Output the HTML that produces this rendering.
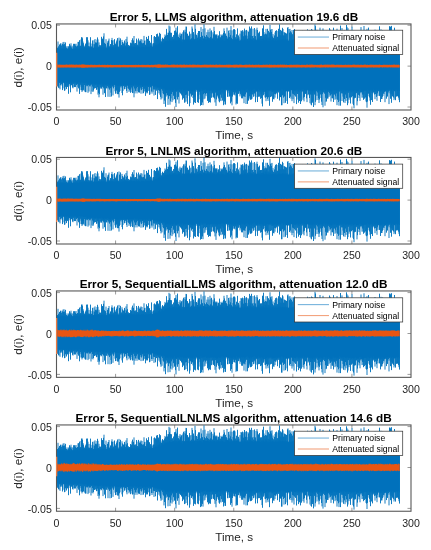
<!DOCTYPE html>
<html><head><meta charset="utf-8"><title>Attenuation plots</title>
<style>
html,body{margin:0;padding:0;background:#fff;}
body{width:431px;height:550px;overflow:hidden;}
svg{display:block;font-family:"Liberation Sans",sans-serif;}
.tk{font-size:10.6px;fill:#262626;}
.lb{font-size:11.7px;fill:#262626;}
.tt{font-size:11.74px;font-weight:bold;fill:#000;}
.lg{font-size:8.67px;fill:#000;}
</style></head><body>
<svg width="431" height="550" viewBox="0 0 431 550">
<rect width="431" height="550" fill="#fff"/>

<g id="ax1">
<rect x="56.5" y="23.95" width="354.5" height="86.05" fill="none" stroke="#585858" stroke-width="1.1"/>
<path d="M115.58 110.0v-3.5M115.58 23.95v3.5M174.67 110.0v-3.5M174.67 23.95v3.5M233.75 110.0v-3.5M233.75 23.95v3.5M292.83 110.0v-3.5M292.83 23.95v3.5M351.92 110.0v-3.5M351.92 23.95v3.5M56.5 25.22h3.5M411.0 25.22h-3.5M56.5 66.12h3.5M411.0 66.12h-3.5M56.5 107.02h3.5M411.0 107.02h-3.5" stroke="#585858" stroke-width="0.6" fill="none"/>
<path d="M57.25 48.7H57.75L57.75 48.5H58.25L58.25 48.8H58.75L58.75 49.1H59.25L59.25 48.9H59.75L59.75 49.2H60.25L60.25 48.6H60.75L60.75 47.9H61.25L61.25 48.9H61.75L61.75 49.0H62.25L62.25 48.4H62.75L62.75 48.4H63.25L63.25 48.6H63.75L63.75 49.1H64.25L64.25 48.6H64.75L64.75 48.2H65.25L65.25 49.3H65.75L65.75 48.8H66.25L66.25 49.6H66.75L66.75 49.3H67.25L67.25 49.5H67.75L67.75 48.7H68.25L68.25 49.2H68.75L68.75 48.4H69.25L69.25 48.5H69.75L69.75 48.6H70.25L70.25 49.9H70.75L70.75 48.8H71.25L71.25 48.5H71.75L71.75 48.5H72.25L72.25 49.3H72.75L72.75 48.8H73.25L73.25 49.0H73.75L73.75 48.9H74.25L74.25 47.9H74.75L74.75 48.9H75.25L75.25 48.5H75.75L75.75 48.0H76.25L76.25 48.8H76.75L76.75 48.5H77.25L77.25 48.4H77.75L77.75 48.4H78.25L78.25 49.0H78.75L78.75 48.2H79.25L79.25 47.5H79.75L79.75 49.0H80.25L80.25 47.6H80.75L80.75 47.9H81.25L81.25 48.3H81.75L81.75 46.8H82.25L82.25 47.4H82.75L82.75 48.4H83.25L83.25 47.7H83.75L83.75 47.5H84.25L84.25 47.9H84.75L84.75 47.4H85.25L85.25 47.8H85.75L85.75 47.4H86.25L86.25 46.9H86.75L86.75 48.1H87.25L87.25 47.6H87.75L87.75 48.0H88.25L88.25 47.6H88.75L88.75 48.3H89.25L89.25 48.0H89.75L89.75 47.8H90.25L90.25 47.2H90.75L90.75 47.0H91.25L91.25 48.4H91.75L91.75 48.1H92.25L92.25 47.3H92.75L92.75 48.7H93.25L93.25 47.9H93.75L93.75 47.6H94.25L94.25 46.9H94.75L94.75 47.2H95.25L95.25 47.7H95.75L95.75 47.8H96.25L96.25 47.7H96.75L96.75 46.7H97.25L97.25 47.8H97.75L97.75 47.7H98.25L98.25 47.3H98.75L98.75 47.6H99.25L99.25 47.6H99.75L99.75 48.1H100.25L100.25 47.5H100.75L100.75 47.7H101.25L101.25 46.8H101.75L101.75 47.1H102.25L102.25 47.4H102.75L102.75 47.1H103.25L103.25 47.6H103.75L103.75 46.8H104.25L104.25 47.4H104.75L104.75 47.1H105.25L105.25 48.1H105.75L105.75 47.2H106.25L106.25 48.3H106.75L106.75 48.5H107.25L107.25 47.5H107.75L107.75 47.8H108.25L108.25 47.2H108.75L108.75 46.1H109.25L109.25 47.8H109.75L109.75 47.7H110.25L110.25 47.2H110.75L110.75 47.0H111.25L111.25 47.4H111.75L111.75 47.4H112.25L112.25 46.8H112.75L112.75 46.9H113.25L113.25 47.8H113.75L113.75 47.3H114.25L114.25 47.2H114.75L114.75 47.8H115.25L115.25 47.0H115.75L115.75 47.6H116.25L116.25 46.6H116.75L116.75 47.0H117.25L117.25 47.1H117.75L117.75 47.5H118.25L118.25 47.2H118.75L118.75 48.2H119.25L119.25 47.7H119.75L119.75 46.9H120.25L120.25 48.3H120.75L120.75 46.6H121.25L121.25 48.0H121.75L121.75 46.6H122.25L122.25 47.5H122.75L122.75 46.6H123.25L123.25 46.9H123.75L123.75 47.9H124.25L124.25 46.2H124.75L124.75 46.1H125.25L125.25 47.0H125.75L125.75 47.1H126.25L126.25 47.0H126.75L126.75 47.5H127.25L127.25 46.3H127.75L127.75 47.2H128.25L128.25 46.9H128.75L128.75 47.3H129.25L129.25 47.2H129.75L129.75 47.6H130.25L130.25 46.1H130.75L130.75 46.9H131.25L131.25 46.3H131.75L131.75 46.8H132.25L132.25 47.2H132.75L132.75 47.0H133.25L133.25 47.1H133.75L133.75 46.8H134.25L134.25 47.0H134.75L134.75 47.0H135.25L135.25 47.6H135.75L135.75 47.2H136.25L136.25 45.8H136.75L136.75 47.1H137.25L137.25 47.4H137.75L137.75 46.5H138.25L138.25 45.9H138.75L138.75 47.6H139.25L139.25 46.8H139.75L139.75 47.1H140.25L140.25 47.7H140.75L140.75 46.3H141.25L141.25 46.7H141.75L141.75 46.6H142.25L142.25 47.1H142.75L142.75 46.4H143.25L143.25 47.0H143.75L143.75 46.7H144.25L144.25 47.3H144.75L144.75 47.3H145.25L145.25 45.8H145.75L145.75 46.9H146.25L146.25 46.4H146.75L146.75 46.6H147.25L147.25 46.8H147.75L147.75 46.9H148.25L148.25 46.2H148.75L148.75 46.7H149.25L149.25 46.6H149.75L149.75 46.5H150.25L150.25 45.8H150.75L150.75 46.1H151.25L151.25 46.3H151.75L151.75 46.8H152.25L152.25 47.3H152.75L152.75 45.9H153.25L153.25 45.9H153.75L153.75 46.3H154.25L154.25 45.7H154.75L154.75 45.3H155.25L155.25 45.0H155.75L155.75 44.7H156.25L156.25 45.3H156.75L156.75 43.9H157.25L157.25 45.4H157.75L157.75 43.8H158.25L158.25 43.8H158.75L158.75 43.3H159.25L159.25 42.4H159.75L159.75 42.4H160.25L160.25 44.0H160.75L160.75 44.2H161.25L161.25 42.2H161.75L161.75 43.2H162.25L162.25 42.3H162.75L162.75 41.4H163.25L163.25 43.0H163.75L163.75 43.1H164.25L164.25 41.2H164.75L164.75 41.1H165.25L165.25 41.1H165.75L165.75 40.6H166.25L166.25 41.1H166.75L166.75 41.4H167.25L167.25 40.1H167.75L167.75 40.7H168.25L168.25 41.2H168.75L168.75 39.5H169.25L169.25 40.0H169.75L169.75 39.6H170.25L170.25 40.7H170.75L170.75 40.4H171.25L171.25 40.6H171.75L171.75 40.5H172.25L172.25 39.7H172.75L172.75 40.4H173.25L173.25 39.5H173.75L173.75 39.5H174.25L174.25 38.2H174.75L174.75 40.9H175.25L175.25 39.1H175.75L175.75 39.8H176.25L176.25 39.8H176.75L176.75 40.9H177.25L177.25 40.1H177.75L177.75 39.1H178.25L178.25 39.8H178.75L178.75 39.6H179.25L179.25 39.9H179.75L179.75 38.8H180.25L180.25 39.7H180.75L180.75 41.4H181.25L181.25 40.2H181.75L181.75 41.2H182.25L182.25 42.2H182.75L182.75 40.0H183.25L183.25 38.5H183.75L183.75 39.6H184.25L184.25 40.5H184.75L184.75 40.3H185.25L185.25 38.7H185.75L185.75 39.4H186.25L186.25 39.5H186.75L186.75 39.6H187.25L187.25 39.5H187.75L187.75 38.9H188.25L188.25 39.1H188.75L188.75 39.4H189.25L189.25 40.4H189.75L189.75 39.1H190.25L190.25 40.1H190.75L190.75 38.7H191.25L191.25 40.5H191.75L191.75 39.6H192.25L192.25 39.5H192.75L192.75 40.6H193.25L193.25 38.2H193.75L193.75 38.4H194.25L194.25 39.9H194.75L194.75 38.9H195.25L195.25 39.2H195.75L195.75 41.6H196.25L196.25 39.3H196.75L196.75 39.6H197.25L197.25 39.5H197.75L197.75 40.4H198.25L198.25 39.7H198.75L198.75 39.7H199.25L199.25 38.6H199.75L199.75 39.3H200.25L200.25 39.5H200.75L200.75 38.3H201.25L201.25 40.0H201.75L201.75 39.8H202.25L202.25 41.0H202.75L202.75 38.3H203.25L203.25 38.8H203.75L203.75 38.8H204.25L204.25 39.0H204.75L204.75 39.4H205.25L205.25 39.4H205.75L205.75 39.7H206.25L206.25 39.7H206.75L206.75 39.5H207.25L207.25 38.3H207.75L207.75 39.1H208.25L208.25 39.6H208.75L208.75 40.0H209.25L209.25 40.0H209.75L209.75 38.3H210.25L210.25 39.1H210.75L210.75 39.5H211.25L211.25 39.8H211.75L211.75 40.4H212.25L212.25 39.6H212.75L212.75 38.8H213.25L213.25 39.8H213.75L213.75 39.7H214.25L214.25 39.7H214.75L214.75 39.4H215.25L215.25 40.8H215.75L215.75 39.7H216.25L216.25 40.2H216.75L216.75 38.8H217.25L217.25 40.1H217.75L217.75 39.1H218.25L218.25 38.3H218.75L218.75 39.8H219.25L219.25 40.0H219.75L219.75 39.4H220.25L220.25 39.5H220.75L220.75 40.3H221.25L221.25 39.2H221.75L221.75 37.9H222.25L222.25 39.7H222.75L222.75 39.7H223.25L223.25 40.4H223.75L223.75 39.3H224.25L224.25 40.5H224.75L224.75 40.4H225.25L225.25 38.5H225.75L225.75 40.3H226.25L226.25 38.7H226.75L226.75 38.3H227.25L227.25 39.3H227.75L227.75 39.1H228.25L228.25 38.0H228.75L228.75 39.7H229.25L229.25 40.0H229.75L229.75 40.6H230.25L230.25 39.5H230.75L230.75 38.4H231.25L231.25 38.8H231.75L231.75 40.3H232.25L232.25 40.2H232.75L232.75 39.9H233.25L233.25 39.3H233.75L233.75 39.7H234.25L234.25 39.4H234.75L234.75 39.3H235.25L235.25 39.8H235.75L235.75 39.6H236.25L236.25 39.4H236.75L236.75 39.6H237.25L237.25 39.1H237.75L237.75 38.0H238.25L238.25 39.1H238.75L238.75 39.5H239.25L239.25 40.9H239.75L239.75 39.2H240.25L240.25 41.1H240.75L240.75 40.7H241.25L241.25 38.9H241.75L241.75 39.0H242.25L242.25 39.7H242.75L242.75 40.9H243.25L243.25 39.8H243.75L243.75 40.1H244.25L244.25 39.0H244.75L244.75 37.7H245.25L245.25 39.4H245.75L245.75 40.2H246.25L246.25 40.5H246.75L246.75 39.6H247.25L247.25 39.7H247.75L247.75 40.5H248.25L248.25 39.4H248.75L248.75 40.5H249.25L249.25 38.6H249.75L249.75 38.7H250.25L250.25 38.7H250.75L250.75 39.9H251.25L251.25 39.1H251.75L251.75 39.6H252.25L252.25 39.8H252.75L252.75 39.8H253.25L253.25 40.6H253.75L253.75 40.7H254.25L254.25 38.9H254.75L254.75 39.7H255.25L255.25 39.4H255.75L255.75 38.7H256.25L256.25 40.9H256.75L256.75 40.2H257.25L257.25 39.4H257.75L257.75 39.2H258.25L258.25 39.8H258.75L258.75 38.7H259.25L259.25 39.4H259.75L259.75 40.5H260.25L260.25 40.3H260.75L260.75 38.9H261.25L261.25 39.2H261.75L261.75 41.0H262.25L262.25 38.5H262.75L262.75 39.1H263.25L263.25 38.5H263.75L263.75 39.8H264.25L264.25 39.8H264.75L264.75 40.4H265.25L265.25 37.5H265.75L265.75 39.7H266.25L266.25 38.3H266.75L266.75 40.1H267.25L267.25 39.4H267.75L267.75 40.9H268.25L268.25 39.8H268.75L268.75 38.8H269.25L269.25 40.5H269.75L269.75 38.7H270.25L270.25 39.3H270.75L270.75 40.4H271.25L271.25 39.9H271.75L271.75 39.9H272.25L272.25 39.6H272.75L272.75 40.0H273.25L273.25 40.2H273.75L273.75 39.8H274.25L274.25 40.4H274.75L274.75 40.6H275.25L275.25 39.6H275.75L275.75 38.8H276.25L276.25 40.8H276.75L276.75 39.5H277.25L277.25 40.1H277.75L277.75 40.3H278.25L278.25 38.9H278.75L278.75 39.9H279.25L279.25 38.3H279.75L279.75 40.2H280.25L280.25 39.2H280.75L280.75 39.7H281.25L281.25 40.1H281.75L281.75 39.1H282.25L282.25 39.7H282.75L282.75 39.1H283.25L283.25 39.6H283.75L283.75 40.4H284.25L284.25 39.6H284.75L284.75 39.5H285.25L285.25 38.8H285.75L285.75 40.3H286.25L286.25 39.6H286.75L286.75 40.9H287.25L287.25 39.0H287.75L287.75 40.4H288.25L288.25 41.0H288.75L288.75 39.6H289.25L289.25 38.7H289.75L289.75 40.8H290.25L290.25 40.4H290.75L290.75 40.1H291.25L291.25 40.4H291.75L291.75 39.2H292.25L292.25 40.2H292.75L292.75 40.1H293.25L293.25 39.1H293.75L293.75 40.1H294.25L294.25 39.2H294.75L294.75 40.3H295.25L295.25 40.5H295.75L295.75 41.0H296.25L296.25 38.1H296.75L296.75 39.8H297.25L297.25 39.3H297.75L297.75 39.6H298.25L298.25 39.4H298.75L298.75 39.5H299.25L299.25 38.0H299.75L299.75 40.4H300.25L300.25 40.8H300.75L300.75 40.3H301.25L301.25 40.6H301.75L301.75 38.9H302.25L302.25 38.9H302.75L302.75 40.3H303.25L303.25 40.6H303.75L303.75 39.8H304.25L304.25 38.4H304.75L304.75 41.8H305.25L305.25 39.1H305.75L305.75 40.4H306.25L306.25 38.7H306.75L306.75 40.4H307.25L307.25 39.8H307.75L307.75 40.7H308.25L308.25 40.3H308.75L308.75 38.4H309.25L309.25 38.9H309.75L309.75 39.9H310.25L310.25 40.2H310.75L310.75 41.0H311.25L311.25 39.8H311.75L311.75 39.6H312.25L312.25 39.6H312.75L312.75 39.6H313.25L313.25 40.4H313.75L313.75 39.6H314.25L314.25 39.6H314.75L314.75 38.5H315.25L315.25 38.0H315.75L315.75 39.6H316.25L316.25 40.1H316.75L316.75 39.6H317.25L317.25 40.0H317.75L317.75 40.1H318.25L318.25 39.6H318.75L318.75 40.4H319.25L319.25 39.1H319.75L319.75 39.6H320.25L320.25 39.3H320.75L320.75 39.7H321.25L321.25 40.1H321.75L321.75 40.3H322.25L322.25 39.7H322.75L322.75 40.0H323.25L323.25 39.3H323.75L323.75 39.5H324.25L324.25 40.6H324.75L324.75 39.5H325.25L325.25 40.6H325.75L325.75 40.0H326.25L326.25 39.8H326.75L326.75 41.2H327.25L327.25 39.5H327.75L327.75 39.4H328.25L328.25 39.7H328.75L328.75 39.9H329.25L329.25 39.8H329.75L329.75 40.3H330.25L330.25 39.8H330.75L330.75 40.0H331.25L331.25 39.5H331.75L331.75 40.5H332.25L332.25 39.3H332.75L332.75 39.4H333.25L333.25 39.6H333.75L333.75 39.9H334.25L334.25 39.1H334.75L334.75 40.9H335.25L335.25 39.2H335.75L335.75 39.3H336.25L336.25 39.3H336.75L336.75 39.2H337.25L337.25 40.1H337.75L337.75 39.7H338.25L338.25 39.0H338.75L338.75 39.2H339.25L339.25 39.4H339.75L339.75 40.7H340.25L340.25 39.1H340.75L340.75 38.6H341.25L341.25 38.7H341.75L341.75 39.3H342.25L342.25 40.8H342.75L342.75 38.8H343.25L343.25 39.7H343.75L343.75 41.6H344.25L344.25 39.2H344.75L344.75 40.7H345.25L345.25 40.6H345.75L345.75 40.0H346.25L346.25 38.5H346.75L346.75 39.8H347.25L347.25 39.3H347.75L347.75 38.1H348.25L348.25 38.3H348.75L348.75 39.6H349.25L349.25 39.7H349.75L349.75 40.5H350.25L350.25 40.1H350.75L350.75 39.2H351.25L351.25 39.2H351.75L351.75 39.4H352.25L352.25 38.7H352.75L352.75 40.2H353.25L353.25 39.6H353.75L353.75 39.0H354.25L354.25 39.1H354.75L354.75 38.7H355.25L355.25 39.2H355.75L355.75 39.8H356.25L356.25 39.2H356.75L356.75 40.3H357.25L357.25 40.8H357.75L357.75 39.1H358.25L358.25 39.6H358.75L358.75 39.3H359.25L359.25 40.9H359.75L359.75 39.8H360.25L360.25 40.0H360.75L360.75 40.2H361.25L361.25 41.3H361.75L361.75 39.8H362.25L362.25 38.8H362.75L362.75 39.2H363.25L363.25 40.0H363.75L363.75 39.5H364.25L364.25 38.9H364.75L364.75 41.7H365.25L365.25 39.6H365.75L365.75 39.1H366.25L366.25 39.0H366.75L366.75 38.2H367.25L367.25 38.6H367.75L367.75 39.3H368.25L368.25 39.3H368.75L368.75 38.9H369.25L369.25 40.0H369.75L369.75 39.6H370.25L370.25 38.8H370.75L370.75 38.0H371.25L371.25 39.7H371.75L371.75 39.6H372.25L372.25 39.4H372.75L372.75 38.5H373.25L373.25 39.6H373.75L373.75 38.4H374.25L374.25 40.3H374.75L374.75 39.7H375.25L375.25 39.7H375.75L375.75 38.9H376.25L376.25 38.7H376.75L376.75 40.7H377.25L377.25 40.3H377.75L377.75 39.3H378.25L378.25 40.1H378.75L378.75 40.7H379.25L379.25 38.7H379.75L379.75 39.1H380.25L380.25 39.1H380.75L380.75 39.9H381.25L381.25 38.7H381.75L381.75 39.7H382.25L382.25 38.7H382.75L382.75 40.3H383.25L383.25 40.2H383.75L383.75 39.4H384.25L384.25 40.1H384.75L384.75 39.0H385.25L385.25 39.3H385.75L385.75 40.3H386.25L386.25 39.5H386.75L386.75 39.8H387.25L387.25 38.8H387.75L387.75 40.0H388.25L388.25 39.9H388.75L388.75 38.6H389.25L389.25 37.7H389.75L389.75 37.9H390.25L390.25 39.5H390.75L390.75 39.4H391.25L391.25 38.3H391.75L391.75 39.6H392.25L392.25 40.3H392.75L392.75 39.4H393.25L393.25 39.2H393.75L393.75 40.2H394.25L394.25 40.8H394.75L394.75 40.7H395.25L395.25 39.0H395.75L395.75 40.1H396.25L396.25 39.6H396.75L396.75 39.4H397.25L397.25 39.0H397.75L397.75 39.8H398.25L398.25 39.1H398.75L398.75 40.2H399.25L399.25 39.8H399.75L399.75 91.1H399.25L399.25 91.1H398.75L398.75 89.9H398.25L398.25 89.6H397.75L397.75 90.9H397.25L397.25 90.9H396.75L396.75 89.7H396.25L396.25 89.8H395.75L395.75 90.4H395.25L395.25 91.9H394.75L394.75 90.4H394.25L394.25 90.5H393.75L393.75 91.3H393.25L393.25 90.1H392.75L392.75 89.5H392.25L392.25 92.1H391.75L391.75 90.9H391.25L391.25 90.8H390.75L390.75 89.4H390.25L390.25 89.7H389.75L389.75 89.3H389.25L389.25 90.3H388.75L388.75 89.7H388.25L388.25 89.7H387.75L387.75 90.1H387.25L387.25 90.7H386.75L386.75 89.7H386.25L386.25 90.1H385.75L385.75 90.9H385.25L385.25 90.9H384.75L384.75 91.3H384.25L384.25 90.8H383.75L383.75 90.5H383.25L383.25 89.7H382.75L382.75 91.6H382.25L382.25 89.9H381.75L381.75 91.0H381.25L381.25 91.6H380.75L380.75 91.2H380.25L380.25 92.6H379.75L379.75 91.3H379.25L379.25 89.4H378.75L378.75 90.5H378.25L378.25 90.6H377.75L377.75 92.0H377.25L377.25 91.7H376.75L376.75 89.6H376.25L376.25 90.8H375.75L375.75 90.8H375.25L375.25 91.8H374.75L374.75 90.8H374.25L374.25 90.1H373.75L373.75 88.7H373.25L373.25 90.7H372.75L372.75 91.1H372.25L372.25 90.2H371.75L371.75 91.4H371.25L371.25 89.4H370.75L370.75 91.2H370.25L370.25 90.6H369.75L369.75 91.2H369.25L369.25 90.7H368.75L368.75 89.9H368.25L368.25 90.8H367.75L367.75 89.4H367.25L367.25 91.8H366.75L366.75 90.6H366.25L366.25 90.2H365.75L365.75 90.7H365.25L365.25 90.7H364.75L364.75 90.5H364.25L364.25 90.5H363.75L363.75 91.3H363.25L363.25 91.9H362.75L362.75 91.0H362.25L362.25 91.5H361.75L361.75 90.0H361.25L361.25 91.8H360.75L360.75 89.5H360.25L360.25 89.7H359.75L359.75 89.5H359.25L359.25 90.7H358.75L358.75 91.7H358.25L358.25 91.4H357.75L357.75 90.9H357.25L357.25 91.6H356.75L356.75 91.0H356.25L356.25 91.0H355.75L355.75 90.2H355.25L355.25 90.1H354.75L354.75 90.8H354.25L354.25 91.5H353.75L353.75 91.2H353.25L353.25 91.1H352.75L352.75 90.5H352.25L352.25 90.5H351.75L351.75 91.6H351.25L351.25 90.1H350.75L350.75 92.6H350.25L350.25 90.5H349.75L349.75 90.8H349.25L349.25 90.1H348.75L348.75 91.1H348.25L348.25 90.7H347.75L347.75 89.9H347.25L347.25 90.2H346.75L346.75 91.1H346.25L346.25 90.0H345.75L345.75 90.9H345.25L345.25 90.7H344.75L344.75 89.7H344.25L344.25 90.2H343.75L343.75 92.0H343.25L343.25 89.7H342.75L342.75 90.2H342.25L342.25 91.4H341.75L341.75 90.7H341.25L341.25 89.8H340.75L340.75 90.2H340.25L340.25 90.1H339.75L339.75 88.8H339.25L339.25 90.8H338.75L338.75 91.3H338.25L338.25 91.2H337.75L337.75 90.7H337.25L337.25 91.0H336.75L336.75 91.6H336.25L336.25 89.9H335.75L335.75 90.3H335.25L335.25 91.2H334.75L334.75 90.3H334.25L334.25 90.8H333.75L333.75 90.4H333.25L333.25 89.4H332.75L332.75 91.0H332.25L332.25 91.5H331.75L331.75 91.4H331.25L331.25 91.4H330.75L330.75 91.4H330.25L330.25 91.0H329.75L329.75 90.7H329.25L329.25 90.3H328.75L328.75 90.0H328.25L328.25 90.3H327.75L327.75 91.5H327.25L327.25 91.0H326.75L326.75 89.4H326.25L326.25 90.7H325.75L325.75 91.5H325.25L325.25 89.7H324.75L324.75 89.5H324.25L324.25 89.9H323.75L323.75 89.4H323.25L323.25 90.5H322.75L322.75 91.8H322.25L322.25 91.0H321.75L321.75 90.3H321.25L321.25 90.8H320.75L320.75 89.9H320.25L320.25 90.4H319.75L319.75 90.5H319.25L319.25 91.2H318.75L318.75 91.2H318.25L318.25 90.5H317.75L317.75 89.9H317.25L317.25 89.2H316.75L316.75 90.2H316.25L316.25 90.1H315.75L315.75 90.7H315.25L315.25 89.5H314.75L314.75 91.1H314.25L314.25 90.4H313.75L313.75 90.4H313.25L313.25 91.5H312.75L312.75 91.3H312.25L312.25 91.4H311.75L311.75 91.2H311.25L311.25 90.1H310.75L310.75 91.2H310.25L310.25 91.0H309.75L309.75 90.7H309.25L309.25 90.1H308.75L308.75 89.9H308.25L308.25 90.4H307.75L307.75 89.1H307.25L307.25 90.4H306.75L306.75 90.5H306.25L306.25 90.5H305.75L305.75 89.9H305.25L305.25 90.2H304.75L304.75 90.7H304.25L304.25 90.2H303.75L303.75 88.9H303.25L303.25 91.7H302.75L302.75 89.6H302.25L302.25 89.2H301.75L301.75 90.3H301.25L301.25 90.1H300.75L300.75 90.9H300.25L300.25 90.5H299.75L299.75 90.2H299.25L299.25 89.7H298.75L298.75 90.5H298.25L298.25 90.9H297.75L297.75 89.8H297.25L297.25 89.3H296.75L296.75 89.9H296.25L296.25 90.1H295.75L295.75 91.2H295.25L295.25 90.8H294.75L294.75 90.4H294.25L294.25 90.4H293.75L293.75 89.9H293.25L293.25 92.2H292.75L292.75 90.5H292.25L292.25 90.4H291.75L291.75 89.8H291.25L291.25 90.5H290.75L290.75 89.7H290.25L290.25 90.0H289.75L289.75 90.9H289.25L289.25 90.7H288.75L288.75 90.6H288.25L288.25 91.4H287.75L287.75 92.3H287.25L287.25 91.2H286.75L286.75 90.5H286.25L286.25 90.7H285.75L285.75 91.8H285.25L285.25 89.9H284.75L284.75 89.5H284.25L284.25 90.9H283.75L283.75 91.2H283.25L283.25 90.4H282.75L282.75 89.0H282.25L282.25 89.9H281.75L281.75 88.8H281.25L281.25 89.9H280.75L280.75 91.3H280.25L280.25 89.9H279.75L279.75 90.6H279.25L279.25 90.0H278.75L278.75 90.1H278.25L278.25 89.9H277.75L277.75 90.5H277.25L277.25 91.4H276.75L276.75 89.7H276.25L276.25 91.0H275.75L275.75 90.2H275.25L275.25 90.3H274.75L274.75 90.5H274.25L274.25 90.7H273.75L273.75 90.8H273.25L273.25 90.7H272.75L272.75 91.2H272.25L272.25 90.3H271.75L271.75 89.8H271.25L271.25 90.4H270.75L270.75 89.6H270.25L270.25 90.1H269.75L269.75 90.1H269.25L269.25 91.0H268.75L268.75 90.0H268.25L268.25 90.3H267.75L267.75 90.0H267.25L267.25 90.3H266.75L266.75 90.6H266.25L266.25 91.0H265.75L265.75 92.3H265.25L265.25 90.6H264.75L264.75 89.4H264.25L264.25 92.1H263.75L263.75 91.9H263.25L263.25 89.9H262.75L262.75 90.7H262.25L262.25 91.0H261.75L261.75 89.9H261.25L261.25 89.8H260.75L260.75 90.6H260.25L260.25 90.5H259.75L259.75 89.9H259.25L259.25 90.4H258.75L258.75 88.9H258.25L258.25 91.2H257.75L257.75 90.3H257.25L257.25 90.6H256.75L256.75 90.5H256.25L256.25 90.2H255.75L255.75 90.2H255.25L255.25 89.6H254.75L254.75 88.7H254.25L254.25 91.5H253.75L253.75 89.2H253.25L253.25 90.3H252.75L252.75 89.7H252.25L252.25 89.9H251.75L251.75 91.2H251.25L251.25 91.0H250.75L250.75 89.6H250.25L250.25 91.3H249.75L249.75 91.8H249.25L249.25 90.7H248.75L248.75 89.9H248.25L248.25 90.9H247.75L247.75 88.8H247.25L247.25 89.9H246.75L246.75 89.3H246.25L246.25 89.6H245.75L245.75 90.1H245.25L245.25 91.0H244.75L244.75 91.0H244.25L244.25 89.9H243.75L243.75 89.8H243.25L243.25 91.1H242.75L242.75 90.1H242.25L242.25 89.7H241.75L241.75 89.6H241.25L241.25 91.2H240.75L240.75 92.2H240.25L240.25 90.5H239.75L239.75 89.4H239.25L239.25 90.2H238.75L238.75 89.8H238.25L238.25 90.1H237.75L237.75 91.0H237.25L237.25 90.2H236.75L236.75 88.9H236.25L236.25 91.6H235.75L235.75 90.3H235.25L235.25 91.0H234.75L234.75 90.2H234.25L234.25 90.8H233.75L233.75 89.7H233.25L233.25 90.5H232.75L232.75 90.5H232.25L232.25 91.6H231.75L231.75 90.8H231.25L231.25 90.3H230.75L230.75 90.1H230.25L230.25 90.6H229.75L229.75 89.4H229.25L229.25 90.8H228.75L228.75 89.6H228.25L228.25 91.5H227.75L227.75 89.7H227.25L227.25 88.9H226.75L226.75 89.6H226.25L226.25 89.1H225.75L225.75 89.3H225.25L225.25 90.6H224.75L224.75 90.2H224.25L224.25 89.8H223.75L223.75 89.8H223.25L223.25 90.6H222.75L222.75 88.7H222.25L222.25 90.2H221.75L221.75 89.0H221.25L221.25 90.1H220.75L220.75 90.4H220.25L220.25 90.4H219.75L219.75 90.7H219.25L219.25 90.1H218.75L218.75 89.9H218.25L218.25 91.0H217.75L217.75 91.6H217.25L217.25 90.6H216.75L216.75 91.8H216.25L216.25 90.0H215.75L215.75 90.6H215.25L215.25 90.6H214.75L214.75 89.7H214.25L214.25 90.7H213.75L213.75 90.0H213.25L213.25 91.1H212.75L212.75 89.7H212.25L212.25 90.4H211.75L211.75 90.2H211.25L211.25 90.2H210.75L210.75 90.1H210.25L210.25 91.1H209.75L209.75 90.7H209.25L209.25 90.3H208.75L208.75 90.3H208.25L208.25 91.1H207.75L207.75 90.2H207.25L207.25 91.1H206.75L206.75 90.7H206.25L206.25 90.3H205.75L205.75 89.2H205.25L205.25 89.7H204.75L204.75 89.7H204.25L204.25 90.6H203.75L203.75 89.7H203.25L203.25 90.1H202.75L202.75 91.0H202.25L202.25 89.6H201.75L201.75 90.8H201.25L201.25 88.7H200.75L200.75 91.1H200.25L200.25 90.3H199.75L199.75 90.8H199.25L199.25 90.6H198.75L198.75 90.3H198.25L198.25 90.8H197.75L197.75 90.9H197.25L197.25 90.8H196.75L196.75 89.6H196.25L196.25 88.9H195.75L195.75 91.5H195.25L195.25 91.6H194.75L194.75 90.1H194.25L194.25 90.9H193.75L193.75 89.7H193.25L193.25 91.9H192.75L192.75 90.7H192.25L192.25 91.2H191.75L191.75 90.9H191.25L191.25 90.4H190.75L190.75 91.1H190.25L190.25 90.0H189.75L189.75 89.9H189.25L189.25 90.3H188.75L188.75 90.3H188.25L188.25 89.9H187.75L187.75 89.9H187.25L187.25 90.3H186.75L186.75 90.5H186.25L186.25 89.8H185.75L185.75 90.8H185.25L185.25 90.6H184.75L184.75 90.0H184.25L184.25 91.1H183.75L183.75 91.0H183.25L183.25 90.0H182.75L182.75 89.3H182.25L182.25 90.2H181.75L181.75 91.2H181.25L181.25 89.5H180.75L180.75 89.8H180.25L180.25 91.1H179.75L179.75 89.3H179.25L179.25 91.1H178.75L178.75 90.1H178.25L178.25 89.8H177.75L177.75 89.9H177.25L177.25 91.0H176.75L176.75 90.3H176.25L176.25 90.4H175.75L175.75 90.8H175.25L175.25 90.9H174.75L174.75 88.7H174.25L174.25 89.9H173.75L173.75 90.6H173.25L173.25 90.3H172.75L172.75 90.8H172.25L172.25 90.5H171.75L171.75 89.8H171.25L171.25 90.4H170.75L170.75 91.3H170.25L170.25 90.2H169.75L169.75 91.0H169.25L169.25 89.3H168.75L168.75 91.4H168.25L168.25 90.3H167.75L167.75 90.3H167.25L167.25 90.6H166.75L166.75 89.8H166.25L166.25 91.2H165.75L165.75 91.2H165.25L165.25 90.2H164.75L164.75 88.5H164.25L164.25 89.2H163.75L163.75 88.2H163.25L163.25 89.3H162.75L162.75 88.5H162.25L162.25 87.8H161.75L161.75 88.9H161.25L161.25 88.2H160.75L160.75 87.3H160.25L160.25 87.8H159.75L159.75 87.8H159.25L159.25 87.4H158.75L158.75 87.6H158.25L158.25 86.9H157.75L157.75 87.5H157.25L157.25 87.2H156.75L156.75 86.7H156.25L156.25 86.0H155.75L155.75 87.5H155.25L155.25 86.4H154.75L154.75 86.3H154.25L154.25 86.4H153.75L153.75 87.0H153.25L153.25 86.3H152.75L152.75 85.1H152.25L152.25 86.2H151.75L151.75 85.9H151.25L151.25 86.5H150.75L150.75 85.8H150.25L150.25 85.7H149.75L149.75 85.6H149.25L149.25 84.7H148.75L148.75 85.4H148.25L148.25 86.4H147.75L147.75 85.9H147.25L147.25 85.6H146.75L146.75 85.4H146.25L146.25 86.1H145.75L145.75 87.1H145.25L145.25 85.6H144.75L144.75 85.3H144.25L144.25 86.2H143.75L143.75 85.4H143.25L143.25 86.3H142.75L142.75 85.8H142.25L142.25 86.5H141.75L141.75 85.2H141.25L141.25 85.0H140.75L140.75 85.3H140.25L140.25 86.0H139.75L139.75 85.1H139.25L139.25 85.6H138.75L138.75 85.9H138.25L138.25 86.1H137.75L137.75 85.3H137.25L137.25 84.6H136.75L136.75 85.5H136.25L136.25 85.7H135.75L135.75 85.3H135.25L135.25 84.7H134.75L134.75 84.3H134.25L134.25 85.3H133.75L133.75 85.0H133.25L133.25 85.0H132.75L132.75 85.5H132.25L132.25 85.3H131.75L131.75 84.9H131.25L131.25 86.0H130.75L130.75 85.0H130.25L130.25 85.3H129.75L129.75 84.9H129.25L129.25 87.0H128.75L128.75 86.1H128.25L128.25 85.5H127.75L127.75 85.1H127.25L127.25 85.8H126.75L126.75 85.1H126.25L126.25 85.5H125.75L125.75 85.1H125.25L125.25 85.4H124.75L124.75 85.3H124.25L124.25 84.5H123.75L123.75 84.8H123.25L123.25 85.5H122.75L122.75 86.4H122.25L122.25 84.7H121.75L121.75 85.6H121.25L121.25 85.3H120.75L120.75 85.3H120.25L120.25 84.6H119.75L119.75 85.7H119.25L119.25 85.7H118.75L118.75 85.7H118.25L118.25 86.1H117.75L117.75 85.4H117.25L117.25 85.8H116.75L116.75 85.5H116.25L116.25 85.6H115.75L115.75 85.3H115.25L115.25 85.8H114.75L114.75 84.2H114.25L114.25 85.0H113.75L113.75 85.6H113.25L113.25 84.7H112.75L112.75 84.8H112.25L112.25 84.9H111.75L111.75 84.5H111.25L111.25 85.2H110.75L110.75 86.3H110.25L110.25 85.5H109.75L109.75 85.5H109.25L109.25 84.9H108.75L108.75 84.4H108.25L108.25 85.0H107.75L107.75 84.0H107.25L107.25 84.6H106.75L106.75 85.4H106.25L106.25 84.7H105.75L105.75 84.8H105.25L105.25 85.4H104.75L104.75 84.0H104.25L104.25 85.7H103.75L103.75 85.2H103.25L103.25 85.2H102.75L102.75 84.5H102.25L102.25 84.3H101.75L101.75 83.6H101.25L101.25 85.4H100.75L100.75 84.3H100.25L100.25 84.6H99.75L99.75 84.1H99.25L99.25 85.3H98.75L98.75 84.5H98.25L98.25 84.5H97.75L97.75 84.8H97.25L97.25 84.2H96.75L96.75 83.6H96.25L96.25 84.6H95.75L95.75 84.5H95.25L95.25 84.0H94.75L94.75 84.0H94.25L94.25 85.3H93.75L93.75 83.8H93.25L93.25 83.4H92.75L92.75 83.9H92.25L92.25 83.6H91.75L91.75 83.9H91.25L91.25 83.6H90.75L90.75 83.7H90.25L90.25 83.7H89.75L89.75 84.4H89.25L89.25 83.3H88.75L88.75 84.0H88.25L88.25 84.2H87.75L87.75 84.5H87.25L87.25 84.4H86.75L86.75 83.4H86.25L86.25 82.5H85.75L85.75 83.0H85.25L85.25 83.0H84.75L84.75 83.2H84.25L84.25 83.0H83.75L83.75 83.1H83.25L83.25 83.3H82.75L82.75 82.3H82.25L82.25 83.2H81.75L81.75 82.0H81.25L81.25 83.0H80.75L80.75 82.7H80.25L80.25 82.3H79.75L79.75 82.4H79.25L79.25 81.9H78.75L78.75 82.8H78.25L78.25 83.8H77.75L77.75 83.4H77.25L77.25 82.9H76.75L76.75 83.4H76.25L76.25 81.6H75.75L75.75 82.6H75.25L75.25 82.4H74.75L74.75 82.5H74.25L74.25 82.3H73.75L73.75 82.9H73.25L73.25 81.8H72.75L72.75 82.5H72.25L72.25 83.0H71.75L71.75 82.8H71.25L71.25 82.5H70.75L70.75 82.9H70.25L70.25 81.6H69.75L69.75 82.9H69.25L69.25 82.8H68.75L68.75 83.4H68.25L68.25 83.5H67.75L67.75 82.2H67.25L67.25 82.8H66.75L66.75 82.7H66.25L66.25 83.0H65.75L65.75 82.3H65.25L65.25 82.3H64.75L64.75 83.4H64.25L64.25 82.7H63.75L63.75 82.3H63.25L63.25 82.8H62.75L62.75 83.6H62.25L62.25 82.1H61.75L61.75 81.8H61.25L61.25 81.5H60.75L60.75 82.6H60.25L60.25 82.2H59.75L59.75 82.1H59.25L59.25 81.9H58.75L58.75 82.2H58.25L58.25 82.7H57.75L57.75 81.7H57.25Z" fill="#0072BD" stroke="none"/>
<path d="M57.50 47.7V86.4M58.00 41.5V85.2M58.50 46.3V87.7M59.00 47.9V88.2M59.50 44.5V83.0M60.00 44.7V89.4M60.50 43.5V85.3M61.00 43.4V82.8M61.50 45.4V84.3M62.00 47.9V85.6M62.50 43.9V90.1M63.00 42.2V88.4M63.50 44.5V82.4M64.00 41.9V83.2M64.50 44.1V90.8M65.00 46.6V90.4M65.50 42.4V86.9M66.00 46.0V85.7M66.50 47.7V89.1M67.00 47.5V87.1M67.50 48.7V86.9M68.00 46.0V85.4M68.50 47.2V93.8M69.00 46.1V84.5M69.50 43.8V84.0M70.00 44.9V86.4M70.50 46.2V92.3M71.00 43.3V84.9M71.50 47.4V85.3M72.00 45.7V84.2M72.50 48.8V87.5M73.00 46.6V88.3M73.50 43.8V83.9M74.00 48.5V86.9M74.50 43.8V87.1M75.00 44.2V83.3M75.50 45.7V87.1M76.00 43.7V84.0M76.50 46.4V85.1M77.00 46.6V91.6M77.50 45.6V84.2M78.00 41.9V86.9M78.50 41.9V88.4M79.00 46.2V85.6M79.50 40.2V93.9M80.00 46.3V90.1M80.50 45.7V84.8M81.00 39.5V86.7M81.50 37.3V90.2M82.00 37.1V92.0M82.50 38.3V90.6M83.00 41.6V87.0M83.50 43.2V89.9M84.00 45.4V90.7M84.50 46.7V85.0M85.00 46.3V91.8M85.50 44.1V92.1M86.00 43.1V92.2M86.50 37.2V85.6M87.00 42.4V86.4M87.50 37.2V85.8M88.00 40.4V92.8M88.50 46.1V85.1M89.00 42.5V91.5M89.50 46.3V85.9M90.00 47.4V86.7M90.50 37.2V85.6M91.00 43.5V94.1M91.50 46.4V84.7M92.00 47.0V91.4M92.50 40.4V86.6M93.00 43.9V92.0M93.50 47.7V90.6M94.00 40.2V87.6M94.50 44.2V88.6M95.00 39.0V85.4M95.50 42.6V88.1M96.00 42.2V84.8M96.50 42.9V89.8M97.00 39.6V89.5M97.50 37.4V87.3M98.00 39.4V94.6M98.50 46.6V92.9M99.00 42.4V97.3M99.50 45.2V94.2M100.00 47.0V84.8M100.50 45.4V87.7M101.00 45.1V89.1M101.50 36.8V88.4M102.00 39.4V87.2M102.50 38.6V86.7M103.00 39.8V94.7M103.50 36.4V87.7M104.00 33.3V88.6M104.50 42.8V93.2M105.00 44.0V87.8M105.50 43.8V97.0M106.00 39.2V85.4M106.50 47.5V88.3M107.00 45.6V88.4M107.50 42.6V86.3M108.00 40.9V96.8M108.50 40.6V87.6M109.00 38.6V88.7M109.50 46.7V89.7M110.00 45.8V96.9M110.50 44.1V88.2M111.00 44.2V92.7M111.50 40.0V96.5M112.00 37.9V87.3M112.50 40.4V86.4M113.00 46.6V95.4M113.50 45.1V88.4M114.00 40.1V87.0M114.50 39.1V84.9M115.00 42.7V91.3M115.50 44.1V93.7M116.00 44.7V93.5M116.50 41.3V90.7M117.00 39.8V89.7M117.50 38.1V94.2M118.00 45.9V92.1M118.50 47.1V94.2M119.00 37.6V97.6M119.50 40.6V91.9M120.00 41.6V90.9M120.50 38.4V86.5M121.00 46.0V87.6M121.50 45.0V86.2M122.00 39.9V93.0M122.50 42.0V95.3M123.00 46.0V90.9M123.50 43.6V86.2M124.00 42.5V85.6M124.50 40.5V89.3M125.00 42.4V88.9M125.50 45.4V86.8M126.00 39.0V86.3M126.50 43.1V90.9M127.00 36.7V92.9M127.50 41.8V85.7M128.00 46.5V88.3M128.50 44.9V88.8M129.00 46.8V91.9M129.50 45.6V90.4M130.00 45.9V88.9M130.50 42.7V92.8M131.00 44.2V89.5M131.50 43.2V87.6M132.00 40.0V92.1M132.50 38.3V93.1M133.00 46.1V92.9M133.50 40.4V86.5M134.00 36.0V97.3M134.50 43.3V88.5M135.00 44.7V93.4M135.50 43.0V90.9M136.00 45.4V91.3M136.50 38.6V88.4M137.00 40.3V93.4M137.50 44.7V87.0M138.00 46.3V91.1M138.50 38.5V92.0M139.00 45.1V92.8M139.50 41.3V92.4M140.00 39.9V89.5M140.50 41.0V87.7M141.00 39.0V93.7M141.50 42.6V90.1M142.00 39.6V89.0M142.50 43.2V87.0M143.00 44.2V93.5M143.50 42.9V93.0M144.00 35.9V91.3M144.50 40.9V88.8M145.00 40.4V91.5M145.50 44.7V95.9M146.00 45.5V91.3M146.50 36.9V92.4M147.00 42.7V93.5M147.50 38.9V92.7M148.00 39.0V90.8M148.50 35.9V87.0M149.00 40.6V90.9M149.50 41.0V94.8M150.00 44.3V94.4M150.50 42.7V87.2M151.00 46.1V87.5M151.50 35.0V91.6M152.00 44.5V93.6M152.50 46.7V85.8M153.00 43.3V91.8M153.50 43.2V89.4M154.00 36.7V95.5M154.50 36.0V89.6M155.00 43.3V87.1M155.50 37.1V94.9M156.00 37.1V88.9M156.50 34.1V90.7M157.00 38.8V88.5M157.50 33.6V99.1M158.00 35.7V88.3M158.50 36.7V90.2M159.00 38.5V93.3M159.50 32.8V90.9M160.00 40.3V94.8M160.50 33.8V96.9M161.00 40.9V99.5M161.50 41.6V89.2M162.00 39.1V98.4M162.50 37.7V90.7M163.00 38.5V93.2M163.50 39.0V94.2M164.00 39.7V104.0M164.50 37.2V100.6M165.00 34.5V95.4M165.50 35.7V106.8M166.00 38.5V96.7M166.50 28.9V93.2M167.00 35.7V95.6M167.50 35.0V95.1M168.00 32.7V104.9M168.50 32.8V98.8M169.00 25.5V95.7M169.50 30.9V96.1M170.00 26.4V104.7M170.50 32.6V101.4M171.00 38.6V98.4M171.50 32.8V94.0M172.00 37.7V102.1M172.50 36.8V92.1M173.00 39.1V100.3M173.50 35.1V95.8M174.00 39.3V94.8M174.50 30.8V99.2M175.00 32.5V99.0M175.50 30.4V102.9M176.00 27.7V107.0M176.50 32.6V91.8M177.00 31.5V97.3M177.50 26.2V99.5M178.00 37.0V90.8M178.50 36.8V96.9M179.00 34.5V103.5M179.50 38.0V92.2M180.00 32.7V92.6M180.50 35.8V93.4M181.00 34.1V93.7M181.50 34.2V94.7M182.00 33.5V95.6M182.50 39.4V99.7M183.00 32.1V96.4M183.50 30.3V98.3M184.00 31.5V92.5M184.50 39.7V102.7M185.00 29.7V102.4M185.50 32.2V95.1M186.00 26.5V101.6M186.50 26.8V94.7M187.00 33.8V98.2M187.50 33.7V103.9M188.00 36.1V91.0M188.50 36.1V91.2M189.00 35.3V95.8M189.50 31.6V106.3M190.00 34.2V103.1M190.50 39.6V93.5M191.00 33.6V94.3M191.50 38.3V96.6M192.00 26.5V95.0M192.50 28.6V94.9M193.00 37.3V98.0M193.50 32.1V104.6M194.00 34.4V91.4M194.50 39.3V102.4M195.00 24.4V97.0M195.50 28.8V103.0M196.00 39.5V89.0M196.50 34.7V90.3M197.00 35.4V92.0M197.50 37.6V102.2M198.00 33.0V96.0M198.50 31.0V102.9M199.00 31.2V99.3M199.50 31.0V91.9M200.00 39.1V94.7M200.50 37.0V105.7M201.00 27.1V101.6M201.50 32.1V105.0M202.00 35.5V90.6M202.50 36.0V102.5M203.00 28.9V105.2M203.50 38.5V94.2M204.00 24.4V99.2M204.50 35.8V93.1M205.00 28.3V98.5M205.50 36.8V94.3M206.00 39.2V96.2M206.50 35.0V93.0M207.00 32.2V93.6M207.50 36.6V100.9M208.00 29.7V98.2M208.50 37.4V102.9M209.00 32.1V99.9M209.50 38.2V102.1M210.00 28.4V93.1M210.50 36.9V102.5M211.00 31.3V90.3M211.50 30.4V97.8M212.00 37.6V93.7M212.50 38.5V92.8M213.00 32.3V97.2M213.50 34.3V97.5M214.00 26.8V96.1M214.50 31.0V98.6M215.00 34.3V102.4M215.50 35.2V92.7M216.00 34.3V105.9M216.50 35.1V99.4M217.00 34.3V95.7M217.50 38.3V95.5M218.00 35.8V97.3M218.50 35.4V98.5M219.00 37.0V101.3M219.50 31.2V102.3M220.00 38.1V100.6M220.50 37.2V94.7M221.00 34.4V101.1M221.50 35.7V97.8M222.00 35.2V92.3M222.50 35.6V100.6M223.00 34.1V93.7M223.50 32.8V105.2M224.00 28.4V98.4M224.50 31.0V101.5M225.00 35.6V104.4M225.50 33.5V104.5M226.00 35.6V89.8M226.50 36.0V90.0M227.00 27.7V91.3M227.50 38.6V96.8M228.00 36.8V96.8M228.50 30.6V90.6M229.00 33.1V93.3M229.50 36.9V96.6M230.00 30.1V95.6M230.50 34.9V103.4M231.00 26.1V96.1M231.50 37.8V101.7M232.00 30.3V105.3M232.50 39.1V96.6M233.00 35.5V94.9M233.50 29.4V92.3M234.00 29.1V94.4M234.50 29.2V94.6M235.00 30.0V95.5M235.50 37.2V92.6M236.00 39.2V104.5M236.50 34.3V103.4M237.00 38.9V100.9M237.50 28.4V103.8M238.00 38.0V91.3M238.50 35.4V93.9M239.00 37.2V93.4M239.50 40.7V91.3M240.00 33.6V96.4M240.50 40.2V94.4M241.00 30.6V93.1M241.50 31.2V98.3M242.00 34.8V95.1M242.50 30.2V98.4M243.00 32.0V96.9M243.50 36.2V96.0M244.00 30.6V103.2M244.50 28.6V96.3M245.00 30.8V97.0M245.50 35.4V94.4M246.00 30.1V104.0M246.50 29.9V92.3M247.00 35.7V92.6M247.50 38.7V103.9M248.00 30.7V100.7M248.50 32.0V100.5M249.00 37.9V97.8M249.50 26.5V96.2M250.00 35.2V99.3M250.50 28.4V99.8M251.00 36.1V94.0M251.50 26.4V99.5M252.00 39.2V98.7M252.50 36.0V94.5M253.00 28.7V92.1M253.50 38.1V96.8M254.00 35.6V94.1M254.50 28.0V93.2M255.00 39.6V96.4M255.50 36.1V102.2M256.00 29.5V92.1M256.50 39.8V91.4M257.00 27.7V97.3M257.50 30.0V102.0M258.00 37.6V91.8M258.50 33.2V96.8M259.00 32.5V90.8M259.50 31.6V96.7M260.00 37.1V92.0M260.50 36.0V98.8M261.00 36.2V94.2M261.50 35.9V98.1M262.00 39.1V103.7M262.50 28.3V106.4M263.00 29.1V92.2M263.50 25.3V95.3M264.00 32.1V94.1M264.50 34.3V91.8M265.00 37.3V97.4M265.50 33.6V97.7M266.00 28.9V101.2M266.50 34.4V96.8M267.00 33.6V97.0M267.50 28.8V98.8M268.00 37.5V100.9M268.50 30.8V97.3M269.00 37.5V91.4M269.50 32.3V105.8M270.00 24.9V90.5M270.50 29.9V97.1M271.00 29.4V91.2M271.50 32.0V96.5M272.00 29.0V92.2M272.50 36.5V101.8M273.00 34.1V91.9M273.50 37.8V99.0M274.00 38.8V99.4M274.50 35.4V93.9M275.00 32.5V97.7M275.50 30.9V94.3M276.00 38.6V94.2M276.50 30.2V92.9M277.00 36.8V91.6M277.50 36.8V98.8M278.00 31.0V90.8M278.50 28.8V92.5M279.00 31.7V91.0M279.50 24.4V100.5M280.00 35.0V96.5M280.50 29.9V97.1M281.00 35.7V97.1M281.50 31.1V105.2M282.00 30.3V105.2M282.50 27.8V95.4M283.00 29.0V94.3M283.50 35.3V97.6M284.00 32.0V103.2M284.50 32.5V96.6M285.00 35.8V95.8M285.50 32.8V102.8M286.00 33.5V91.4M286.50 33.6V91.2M287.00 39.7V101.0M287.50 27.9V103.9M288.00 27.0V92.0M288.50 40.6V90.9M289.00 29.0V90.8M289.50 32.7V98.1M290.00 28.9V91.7M290.50 31.2V96.7M291.00 35.3V98.7M291.50 32.4V90.0M292.00 30.0V101.2M292.50 34.2V93.7M293.00 39.6V99.1M293.50 29.9V94.2M294.00 32.4V103.1M294.50 29.0V95.4M295.00 37.3V90.8M295.50 31.8V96.6M296.00 31.3V93.4M296.50 34.1V104.1M297.00 35.2V91.3M297.50 35.6V94.0M298.00 39.5V99.6M298.50 36.8V102.7M299.00 35.8V92.2M299.50 36.8V101.0M300.00 31.9V98.1M300.50 36.1V104.0M301.00 34.1V90.2M301.50 37.5V101.3M302.00 35.0V92.1M302.50 30.6V91.0M303.00 35.2V99.8M303.50 34.1V97.7M304.00 35.2V101.4M304.50 32.3V96.9M305.00 32.0V94.1M305.50 36.2V93.9M306.00 34.8V93.0M306.50 31.2V98.4M307.00 39.5V102.1M307.50 29.3V90.2M308.00 35.3V95.2M308.50 37.7V94.2M309.00 30.2V91.1M309.50 30.1V98.0M310.00 33.1V103.2M310.50 30.4V94.6M311.00 40.1V104.5M311.50 29.1V105.3M312.00 31.6V94.7M312.50 29.8V102.7M313.00 32.7V100.8M313.50 34.0V107.0M314.00 35.4V92.8M314.50 33.5V94.6M315.00 24.4V105.2M315.50 26.1V101.8M316.00 30.9V100.2M316.50 32.3V91.3M317.00 29.8V95.8M317.50 39.3V92.5M318.00 32.0V100.0M318.50 34.7V98.3M319.00 32.4V103.0M319.50 35.9V99.5M320.00 27.7V91.6M320.50 30.7V94.5M321.00 39.3V98.0M321.50 37.1V101.7M322.00 35.2V105.0M322.50 30.8V94.1M323.00 28.4V107.3M323.50 30.8V92.5M324.00 37.0V91.8M324.50 37.5V93.7M325.00 33.7V105.7M325.50 33.8V97.8M326.00 30.9V101.8M326.50 30.7V101.3M327.00 38.6V93.0M327.50 31.8V98.5M328.00 32.9V98.6M328.50 35.7V91.9M329.00 31.9V96.9M329.50 28.1V93.2M330.00 29.4V95.5M330.50 30.3V95.4M331.00 38.7V101.5M331.50 37.8V94.3M332.00 32.7V98.2M332.50 36.2V98.3M333.00 33.5V93.5M333.50 27.7V102.0M334.00 38.4V94.9M334.50 31.4V94.3M335.00 33.3V99.8M335.50 37.7V96.3M336.00 36.7V98.9M336.50 31.2V93.5M337.00 28.7V105.2M337.50 31.2V99.8M338.00 34.6V96.1M338.50 35.3V102.0M339.00 34.7V105.7M339.50 37.6V91.7M340.00 35.7V100.8M340.50 25.6V105.7M341.00 37.0V91.2M341.50 34.9V93.4M342.00 28.1V101.0M342.50 36.0V93.5M343.00 31.7V96.6M343.50 33.0V102.4M344.00 31.7V97.8M344.50 30.3V99.0M345.00 34.3V102.9M345.50 31.5V94.6M346.00 35.5V100.9M346.50 25.0V98.0M347.00 26.9V92.7M347.50 34.0V105.2M348.00 28.2V103.2M348.50 32.2V92.8M349.00 34.5V99.7M349.50 31.8V97.7M350.00 37.4V91.1M350.50 31.7V103.5M351.00 39.0V97.5M351.50 36.8V97.1M352.00 26.7V92.3M352.50 36.1V96.3M353.00 30.6V103.8M353.50 39.3V105.1M354.00 35.9V108.3M354.50 33.3V98.4M355.00 31.6V97.0M355.50 31.4V97.9M356.00 35.9V93.4M356.50 37.0V92.9M357.00 31.7V105.4M357.50 39.6V101.2M358.00 38.4V91.4M358.50 37.2V94.9M359.00 34.3V98.0M359.50 31.4V95.7M360.00 32.5V100.9M360.50 34.3V92.2M361.00 27.1V93.2M361.50 34.3V92.0M362.00 33.5V97.7M362.50 35.4V94.6M363.00 38.3V97.5M363.50 38.0V99.9M364.00 26.0V94.5M364.50 32.5V98.7M365.00 33.7V90.9M365.50 39.2V97.5M366.00 30.0V101.5M366.50 35.1V102.2M367.00 28.8V107.7M367.50 32.6V101.6M368.00 33.8V93.7M368.50 27.6V93.6M369.00 32.6V96.3M369.50 33.2V97.5M370.00 38.0V100.7M370.50 32.7V104.8M371.00 34.4V90.0M371.50 38.9V100.1M372.00 38.2V92.9M372.50 34.5V102.0M373.00 35.8V93.4M373.50 31.9V92.4M374.00 37.1V91.8M374.50 40.2V94.5M375.00 29.7V99.2M375.50 36.5V94.1M376.00 33.8V91.4M376.50 36.6V96.9M377.00 38.6V100.8M377.50 36.2V93.3M378.00 31.3V95.9M378.50 39.7V91.3M379.00 32.3V89.6M379.50 26.3V95.9M380.00 33.5V96.2M380.50 35.5V102.0M381.00 29.4V91.7M381.50 36.9V99.0M382.00 36.5V99.0M382.50 30.1V96.8M383.00 40.2V95.9M383.50 32.3V93.5M384.00 32.7V94.0M384.50 39.9V91.9M385.00 38.3V102.2M385.50 32.0V91.3M386.00 33.5V91.8M386.50 36.3V98.7M387.00 31.2V96.4M387.50 36.7V96.5M388.00 35.8V93.3M388.50 38.7V91.7M389.00 32.1V104.1M389.50 26.3V90.8M390.00 26.2V93.3M390.50 27.0V98.8M391.00 34.4V94.5M391.50 25.9V102.8M392.00 32.3V94.3M392.50 34.2V96.1M393.00 37.5V96.8M393.50 32.2V97.5M394.00 39.0V100.1M394.50 27.7V91.0M395.00 36.2V98.7M395.50 37.9V100.2M396.00 39.1V90.4M396.50 33.1V96.5M397.00 32.0V96.4M397.50 35.3V95.9M398.00 35.9V96.3M398.50 37.1V97.7M399.00 35.0V99.8M399.50 34.0V102.2" stroke="#0072BD" stroke-width="0.92" fill="none"/>
<path d="M56.65 52.8V86.6" stroke="#EC7A42" stroke-width="1.3" fill="none"/>
<path d="M57.25 64.6H57.75L57.75 64.5H58.25L58.25 64.8H58.75L58.75 64.8H59.25L59.25 64.6H59.75L59.75 64.6H60.25L60.25 64.8H60.75L60.75 64.8H61.25L61.25 64.7H61.75L61.75 64.7H62.25L62.25 64.8H62.75L62.75 64.8H63.25L63.25 64.8H63.75L63.75 64.8H64.25L64.25 64.8H64.75L64.75 64.8H65.25L65.25 64.7H65.75L65.75 64.6H66.25L66.25 64.6H66.75L66.75 64.6H67.25L67.25 64.7H67.75L67.75 64.8H68.25L68.25 64.8H68.75L68.75 64.8H69.25L69.25 64.5H69.75L69.75 64.6H70.25L70.25 64.7H70.75L70.75 64.6H71.25L71.25 64.6H71.75L71.75 64.6H72.25L72.25 64.8H72.75L72.75 64.6H73.25L73.25 64.6H73.75L73.75 64.8H74.25L74.25 64.8H74.75L74.75 64.8H75.25L75.25 64.7H75.75L75.75 64.5H76.25L76.25 64.6H76.75L76.75 64.8H77.25L77.25 64.8H77.75L77.75 64.8H78.25L78.25 64.8H78.75L78.75 64.8H79.25L79.25 64.6H79.75L79.75 64.8H80.25L80.25 64.7H80.75L80.75 64.8H81.25L81.25 64.5H81.75L81.75 64.3H82.25L82.25 64.4H82.75L82.75 64.2H83.25L83.25 64.4H83.75L83.75 64.4H84.25L84.25 64.4H84.75L84.75 64.8H85.25L85.25 64.8H85.75L85.75 64.8H86.25L86.25 64.9H86.75L86.75 64.6H87.25L87.25 64.9H87.75L87.75 64.8H88.25L88.25 64.8H88.75L88.75 64.9H89.25L89.25 64.9H89.75L89.75 64.8H90.25L90.25 64.7H90.75L90.75 64.8H91.25L91.25 64.8H91.75L91.75 64.7H92.25L92.25 64.7H92.75L92.75 64.9H93.25L93.25 64.9H93.75L93.75 64.7H94.25L94.25 64.8H94.75L94.75 64.7H95.25L95.25 64.9H95.75L95.75 64.8H96.25L96.25 64.9H96.75L96.75 64.9H97.25L97.25 64.7H97.75L97.75 64.9H98.25L98.25 64.7H98.75L98.75 64.7H99.25L99.25 64.6H99.75L99.75 64.9H100.25L100.25 64.9H100.75L100.75 64.9H101.25L101.25 64.9H101.75L101.75 64.7H102.25L102.25 64.8H102.75L102.75 64.9H103.25L103.25 65.0H103.75L103.75 64.7H104.25L104.25 64.8H104.75L104.75 65.0H105.25L105.25 64.8H105.75L105.75 64.9H106.25L106.25 64.9H106.75L106.75 65.0H107.25L107.25 64.6H107.75L107.75 64.9H108.25L108.25 64.8H108.75L108.75 64.9H109.25L109.25 64.9H109.75L109.75 64.8H110.25L110.25 64.8H110.75L110.75 64.7H111.25L111.25 64.9H111.75L111.75 64.9H112.25L112.25 64.9H112.75L112.75 64.9H113.25L113.25 64.7H113.75L113.75 64.9H114.25L114.25 64.9H114.75L114.75 64.9H115.25L115.25 64.8H115.75L115.75 64.9H116.25L116.25 65.0H116.75L116.75 64.8H117.25L117.25 65.0H117.75L117.75 64.7H118.25L118.25 64.9H118.75L118.75 64.9H119.25L119.25 64.8H119.75L119.75 64.7H120.25L120.25 64.9H120.75L120.75 64.9H121.25L121.25 64.9H121.75L121.75 65.0H122.25L122.25 64.9H122.75L122.75 64.7H123.25L123.25 64.7H123.75L123.75 64.9H124.25L124.25 64.7H124.75L124.75 65.0H125.25L125.25 64.8H125.75L125.75 65.0H126.25L126.25 64.9H126.75L126.75 64.9H127.25L127.25 64.9H127.75L127.75 64.7H128.25L128.25 64.9H128.75L128.75 65.0H129.25L129.25 65.0H129.75L129.75 64.8H130.25L130.25 65.0H130.75L130.75 65.0H131.25L131.25 65.0H131.75L131.75 64.7H132.25L132.25 64.9H132.75L132.75 65.0H133.25L133.25 64.8H133.75L133.75 64.9H134.25L134.25 64.9H134.75L134.75 64.7H135.25L135.25 64.8H135.75L135.75 64.9H136.25L136.25 64.7H136.75L136.75 64.9H137.25L137.25 64.9H137.75L137.75 64.7H138.25L138.25 64.7H138.75L138.75 64.8H139.25L139.25 64.9H139.75L139.75 64.9H140.25L140.25 65.0H140.75L140.75 65.0H141.25L141.25 64.8H141.75L141.75 64.9H142.25L142.25 64.7H142.75L142.75 64.8H143.25L143.25 64.9H143.75L143.75 64.8H144.25L144.25 64.9H144.75L144.75 64.8H145.25L145.25 64.9H145.75L145.75 64.9H146.25L146.25 64.8H146.75L146.75 65.0H147.25L147.25 64.7H147.75L147.75 64.7H148.25L148.25 64.7H148.75L148.75 64.9H149.25L149.25 64.9H149.75L149.75 64.9H150.25L150.25 64.9H150.75L150.75 65.0H151.25L151.25 64.8H151.75L151.75 64.7H152.25L152.25 64.9H152.75L152.75 64.7H153.25L153.25 65.0H153.75L153.75 64.7H154.25L154.25 64.7H154.75L154.75 64.8H155.25L155.25 64.6H155.75L155.75 64.7H156.25L156.25 64.7H156.75L156.75 64.6H157.25L157.25 64.6H157.75L157.75 64.5H158.25L158.25 64.2H158.75L158.75 64.4H159.25L159.25 64.3H159.75L159.75 64.5H160.25L160.25 64.4H160.75L160.75 64.4H161.25L161.25 64.7H161.75L161.75 64.9H162.25L162.25 64.6H162.75L162.75 64.8H163.25L163.25 64.6H163.75L163.75 64.9H164.25L164.25 64.8H164.75L164.75 64.6H165.25L165.25 64.6H165.75L165.75 64.6H166.25L166.25 64.7H166.75L166.75 64.7H167.25L167.25 64.6H167.75L167.75 64.7H168.25L168.25 64.9H168.75L168.75 64.9H169.25L169.25 64.9H169.75L169.75 64.9H170.25L170.25 64.9H170.75L170.75 64.8H171.25L171.25 64.7H171.75L171.75 64.6H172.25L172.25 64.8H172.75L172.75 64.8H173.25L173.25 64.6H173.75L173.75 64.6H174.25L174.25 64.5H174.75L174.75 64.9H175.25L175.25 64.7H175.75L175.75 64.7H176.25L176.25 64.7H176.75L176.75 64.8H177.25L177.25 64.6H177.75L177.75 64.7H178.25L178.25 64.9H178.75L178.75 64.8H179.25L179.25 64.7H179.75L179.75 64.8H180.25L180.25 64.6H180.75L180.75 64.8H181.25L181.25 64.8H181.75L181.75 64.8H182.25L182.25 64.9H182.75L182.75 64.6H183.25L183.25 64.8H183.75L183.75 64.6H184.25L184.25 64.6H184.75L184.75 64.8H185.25L185.25 64.9H185.75L185.75 64.7H186.25L186.25 64.8H186.75L186.75 64.6H187.25L187.25 64.9H187.75L187.75 64.7H188.25L188.25 64.9H188.75L188.75 64.8H189.25L189.25 64.8H189.75L189.75 64.6H190.25L190.25 64.7H190.75L190.75 64.7H191.25L191.25 64.9H191.75L191.75 64.8H192.25L192.25 64.6H192.75L192.75 64.7H193.25L193.25 64.6H193.75L193.75 64.8H194.25L194.25 64.8H194.75L194.75 64.6H195.25L195.25 64.8H195.75L195.75 64.9H196.25L196.25 64.7H196.75L196.75 64.9H197.25L197.25 64.6H197.75L197.75 64.7H198.25L198.25 64.8H198.75L198.75 64.7H199.25L199.25 64.8H199.75L199.75 64.9H200.25L200.25 64.9H200.75L200.75 64.8H201.25L201.25 64.9H201.75L201.75 64.9H202.25L202.25 64.8H202.75L202.75 64.7H203.25L203.25 64.7H203.75L203.75 64.9H204.25L204.25 64.6H204.75L204.75 64.6H205.25L205.25 64.7H205.75L205.75 64.7H206.25L206.25 64.8H206.75L206.75 64.6H207.25L207.25 64.7H207.75L207.75 64.9H208.25L208.25 64.7H208.75L208.75 64.7H209.25L209.25 64.7H209.75L209.75 64.8H210.25L210.25 64.6H210.75L210.75 64.7H211.25L211.25 64.7H211.75L211.75 64.9H212.25L212.25 64.8H212.75L212.75 64.5H213.25L213.25 64.8H213.75L213.75 64.7H214.25L214.25 64.9H214.75L214.75 64.7H215.25L215.25 64.7H215.75L215.75 64.6H216.25L216.25 64.5H216.75L216.75 64.8H217.25L217.25 64.8H217.75L217.75 64.9H218.25L218.25 64.8H218.75L218.75 64.8H219.25L219.25 64.6H219.75L219.75 64.8H220.25L220.25 64.7H220.75L220.75 64.7H221.25L221.25 64.9H221.75L221.75 64.8H222.25L222.25 64.7H222.75L222.75 64.9H223.25L223.25 64.9H223.75L223.75 64.7H224.25L224.25 64.7H224.75L224.75 64.9H225.25L225.25 64.9H225.75L225.75 64.6H226.25L226.25 64.8H226.75L226.75 64.8H227.25L227.25 64.7H227.75L227.75 64.7H228.25L228.25 64.5H228.75L228.75 64.9H229.25L229.25 64.6H229.75L229.75 64.8H230.25L230.25 64.8H230.75L230.75 64.8H231.25L231.25 64.9H231.75L231.75 64.9H232.25L232.25 64.9H232.75L232.75 64.7H233.25L233.25 64.7H233.75L233.75 64.8H234.25L234.25 64.8H234.75L234.75 64.6H235.25L235.25 64.8H235.75L235.75 64.8H236.25L236.25 64.6H236.75L236.75 64.7H237.25L237.25 64.7H237.75L237.75 64.7H238.25L238.25 64.9H238.75L238.75 64.8H239.25L239.25 64.6H239.75L239.75 64.7H240.25L240.25 64.6H240.75L240.75 64.8H241.25L241.25 64.8H241.75L241.75 64.8H242.25L242.25 64.9H242.75L242.75 64.9H243.25L243.25 64.9H243.75L243.75 64.9H244.25L244.25 64.8H244.75L244.75 64.8H245.25L245.25 64.7H245.75L245.75 64.6H246.25L246.25 64.7H246.75L246.75 64.7H247.25L247.25 64.8H247.75L247.75 64.8H248.25L248.25 64.8H248.75L248.75 64.7H249.25L249.25 64.6H249.75L249.75 64.6H250.25L250.25 64.9H250.75L250.75 64.7H251.25L251.25 64.9H251.75L251.75 64.7H252.25L252.25 64.6H252.75L252.75 64.7H253.25L253.25 64.9H253.75L253.75 64.8H254.25L254.25 64.9H254.75L254.75 64.7H255.25L255.25 64.7H255.75L255.75 64.7H256.25L256.25 64.8H256.75L256.75 64.7H257.25L257.25 64.9H257.75L257.75 64.6H258.25L258.25 64.6H258.75L258.75 64.9H259.25L259.25 64.7H259.75L259.75 64.7H260.25L260.25 64.9H260.75L260.75 64.9H261.25L261.25 64.9H261.75L261.75 64.7H262.25L262.25 64.9H262.75L262.75 64.8H263.25L263.25 64.6H263.75L263.75 64.9H264.25L264.25 64.7H264.75L264.75 64.8H265.25L265.25 64.8H265.75L265.75 64.8H266.25L266.25 64.8H266.75L266.75 64.6H267.25L267.25 64.7H267.75L267.75 64.8H268.25L268.25 64.9H268.75L268.75 64.8H269.25L269.25 64.5H269.75L269.75 64.6H270.25L270.25 64.9H270.75L270.75 64.8H271.25L271.25 64.8H271.75L271.75 64.8H272.25L272.25 64.9H272.75L272.75 64.9H273.25L273.25 64.8H273.75L273.75 64.7H274.25L274.25 64.7H274.75L274.75 64.7H275.25L275.25 64.7H275.75L275.75 64.9H276.25L276.25 64.9H276.75L276.75 64.8H277.25L277.25 64.8H277.75L277.75 64.8H278.25L278.25 64.8H278.75L278.75 64.8H279.25L279.25 64.9H279.75L279.75 64.6H280.25L280.25 64.6H280.75L280.75 64.7H281.25L281.25 64.8H281.75L281.75 64.8H282.25L282.25 64.6H282.75L282.75 64.7H283.25L283.25 64.7H283.75L283.75 64.7H284.25L284.25 64.6H284.75L284.75 64.7H285.25L285.25 64.9H285.75L285.75 64.8H286.25L286.25 64.6H286.75L286.75 64.9H287.25L287.25 64.9H287.75L287.75 64.9H288.25L288.25 64.9H288.75L288.75 64.9H289.25L289.25 64.7H289.75L289.75 64.7H290.25L290.25 64.7H290.75L290.75 64.8H291.25L291.25 64.8H291.75L291.75 64.7H292.25L292.25 64.9H292.75L292.75 64.8H293.25L293.25 64.8H293.75L293.75 64.7H294.25L294.25 64.7H294.75L294.75 64.7H295.25L295.25 64.7H295.75L295.75 64.8H296.25L296.25 64.7H296.75L296.75 64.6H297.25L297.25 64.8H297.75L297.75 64.7H298.25L298.25 64.8H298.75L298.75 64.8H299.25L299.25 64.7H299.75L299.75 64.9H300.25L300.25 64.9H300.75L300.75 64.9H301.25L301.25 64.8H301.75L301.75 64.7H302.25L302.25 64.7H302.75L302.75 64.9H303.25L303.25 64.8H303.75L303.75 64.9H304.25L304.25 64.7H304.75L304.75 64.8H305.25L305.25 64.9H305.75L305.75 64.9H306.25L306.25 64.6H306.75L306.75 64.8H307.25L307.25 64.6H307.75L307.75 64.8H308.25L308.25 64.9H308.75L308.75 64.7H309.25L309.25 64.6H309.75L309.75 64.9H310.25L310.25 64.6H310.75L310.75 64.7H311.25L311.25 64.6H311.75L311.75 64.6H312.25L312.25 64.8H312.75L312.75 64.6H313.25L313.25 64.9H313.75L313.75 64.8H314.25L314.25 64.8H314.75L314.75 64.9H315.25L315.25 64.8H315.75L315.75 64.7H316.25L316.25 64.9H316.75L316.75 64.8H317.25L317.25 64.8H317.75L317.75 64.9H318.25L318.25 64.7H318.75L318.75 64.9H319.25L319.25 64.8H319.75L319.75 64.8H320.25L320.25 64.7H320.75L320.75 64.6H321.25L321.25 64.6H321.75L321.75 64.8H322.25L322.25 64.9H322.75L322.75 64.9H323.25L323.25 64.7H323.75L323.75 64.7H324.25L324.25 64.7H324.75L324.75 64.6H325.25L325.25 64.8H325.75L325.75 64.6H326.25L326.25 64.7H326.75L326.75 64.7H327.25L327.25 64.6H327.75L327.75 64.7H328.25L328.25 64.7H328.75L328.75 64.6H329.25L329.25 64.8H329.75L329.75 64.7H330.25L330.25 64.8H330.75L330.75 64.8H331.25L331.25 64.6H331.75L331.75 64.6H332.25L332.25 64.6H332.75L332.75 64.7H333.25L333.25 64.6H333.75L333.75 64.6H334.25L334.25 64.7H334.75L334.75 64.9H335.25L335.25 64.9H335.75L335.75 64.7H336.25L336.25 64.7H336.75L336.75 64.7H337.25L337.25 64.8H337.75L337.75 64.7H338.25L338.25 64.7H338.75L338.75 64.8H339.25L339.25 64.7H339.75L339.75 64.9H340.25L340.25 64.8H340.75L340.75 64.7H341.25L341.25 64.8H341.75L341.75 64.9H342.25L342.25 64.9H342.75L342.75 64.7H343.25L343.25 64.9H343.75L343.75 64.7H344.25L344.25 64.9H344.75L344.75 64.7H345.25L345.25 64.8H345.75L345.75 64.6H346.25L346.25 64.9H346.75L346.75 64.9H347.25L347.25 64.7H347.75L347.75 64.7H348.25L348.25 64.8H348.75L348.75 64.8H349.25L349.25 64.7H349.75L349.75 64.9H350.25L350.25 64.8H350.75L350.75 64.8H351.25L351.25 64.9H351.75L351.75 64.9H352.25L352.25 64.6H352.75L352.75 64.9H353.25L353.25 64.6H353.75L353.75 64.6H354.25L354.25 64.8H354.75L354.75 64.6H355.25L355.25 64.9H355.75L355.75 64.8H356.25L356.25 64.8H356.75L356.75 64.9H357.25L357.25 64.6H357.75L357.75 64.9H358.25L358.25 64.6H358.75L358.75 64.9H359.25L359.25 64.7H359.75L359.75 64.9H360.25L360.25 64.8H360.75L360.75 64.6H361.25L361.25 64.7H361.75L361.75 64.9H362.25L362.25 64.9H362.75L362.75 64.8H363.25L363.25 64.7H363.75L363.75 64.9H364.25L364.25 64.6H364.75L364.75 64.6H365.25L365.25 64.6H365.75L365.75 64.9H366.25L366.25 64.9H366.75L366.75 64.6H367.25L367.25 64.8H367.75L367.75 64.9H368.25L368.25 64.9H368.75L368.75 64.9H369.25L369.25 64.7H369.75L369.75 64.7H370.25L370.25 64.8H370.75L370.75 64.6H371.25L371.25 64.8H371.75L371.75 64.8H372.25L372.25 64.8H372.75L372.75 64.8H373.25L373.25 64.8H373.75L373.75 64.7H374.25L374.25 64.8H374.75L374.75 64.9H375.25L375.25 64.8H375.75L375.75 64.6H376.25L376.25 64.7H376.75L376.75 64.9H377.25L377.25 64.8H377.75L377.75 64.8H378.25L378.25 64.9H378.75L378.75 64.6H379.25L379.25 64.6H379.75L379.75 64.9H380.25L380.25 64.8H380.75L380.75 64.9H381.25L381.25 64.9H381.75L381.75 64.9H382.25L382.25 64.9H382.75L382.75 64.7H383.25L383.25 64.8H383.75L383.75 64.7H384.25L384.25 64.7H384.75L384.75 64.8H385.25L385.25 64.8H385.75L385.75 64.9H386.25L386.25 64.7H386.75L386.75 64.7H387.25L387.25 64.7H387.75L387.75 64.9H388.25L388.25 64.9H388.75L388.75 64.6H389.25L389.25 64.8H389.75L389.75 64.9H390.25L390.25 64.7H390.75L390.75 64.9H391.25L391.25 64.7H391.75L391.75 64.8H392.25L392.25 64.7H392.75L392.75 64.9H393.25L393.25 64.6H393.75L393.75 64.6H394.25L394.25 64.6H394.75L394.75 64.7H395.25L395.25 64.9H395.75L395.75 64.6H396.25L396.25 64.8H396.75L396.75 64.7H397.25L397.25 64.7H397.75L397.75 64.9H398.25L398.25 64.6H398.75L398.75 64.7H399.25L399.25 64.9H399.75L399.75 67.4H399.25L399.25 67.5H398.75L398.75 67.7H398.25L398.25 67.4H397.75L397.75 67.6H397.25L397.25 67.5H396.75L396.75 67.6H396.25L396.25 67.4H395.75L395.75 67.4H395.25L395.25 67.6H394.75L394.75 67.4H394.25L394.25 67.5H393.75L393.75 67.4H393.25L393.25 67.4H392.75L392.75 67.4H392.25L392.25 67.4H391.75L391.75 67.3H391.25L391.25 67.4H390.75L390.75 67.5H390.25L390.25 67.5H389.75L389.75 67.3H389.25L389.25 67.3H388.75L388.75 67.5H388.25L388.25 67.6H387.75L387.75 67.6H387.25L387.25 67.6H386.75L386.75 67.4H386.25L386.25 67.3H385.75L385.75 67.6H385.25L385.25 67.3H384.75L384.75 67.4H384.25L384.25 67.5H383.75L383.75 67.3H383.25L383.25 67.3H382.75L382.75 67.7H382.25L382.25 67.5H381.75L381.75 67.3H381.25L381.25 67.3H380.75L380.75 67.3H380.25L380.25 67.4H379.75L379.75 67.4H379.25L379.25 67.7H378.75L378.75 67.5H378.25L378.25 67.5H377.75L377.75 67.4H377.25L377.25 67.4H376.75L376.75 67.6H376.25L376.25 67.5H375.75L375.75 67.5H375.25L375.25 67.5H374.75L374.75 67.6H374.25L374.25 67.6H373.75L373.75 67.7H373.25L373.25 67.6H372.75L372.75 67.3H372.25L372.25 67.4H371.75L371.75 67.6H371.25L371.25 67.4H370.75L370.75 67.4H370.25L370.25 67.4H369.75L369.75 67.6H369.25L369.25 67.5H368.75L368.75 67.4H368.25L368.25 67.5H367.75L367.75 67.7H367.25L367.25 67.5H366.75L366.75 67.7H366.25L366.25 67.5H365.75L365.75 67.6H365.25L365.25 67.6H364.75L364.75 67.5H364.25L364.25 67.6H363.75L363.75 67.4H363.25L363.25 67.5H362.75L362.75 67.6H362.25L362.25 67.6H361.75L361.75 67.5H361.25L361.25 67.4H360.75L360.75 67.4H360.25L360.25 67.7H359.75L359.75 67.4H359.25L359.25 67.5H358.75L358.75 67.5H358.25L358.25 67.6H357.75L357.75 67.6H357.25L357.25 67.4H356.75L356.75 67.6H356.25L356.25 67.5H355.75L355.75 67.4H355.25L355.25 67.5H354.75L354.75 67.4H354.25L354.25 67.6H353.75L353.75 67.3H353.25L353.25 67.6H352.75L352.75 67.3H352.25L352.25 67.4H351.75L351.75 67.5H351.25L351.25 67.5H350.75L350.75 67.6H350.25L350.25 67.6H349.75L349.75 67.6H349.25L349.25 67.5H348.75L348.75 67.4H348.25L348.25 67.5H347.75L347.75 67.4H347.25L347.25 67.6H346.75L346.75 67.4H346.25L346.25 67.4H345.75L345.75 67.6H345.25L345.25 67.4H344.75L344.75 67.4H344.25L344.25 67.5H343.75L343.75 67.5H343.25L343.25 67.6H342.75L342.75 67.5H342.25L342.25 67.5H341.75L341.75 67.4H341.25L341.25 67.5H340.75L340.75 67.5H340.25L340.25 67.5H339.75L339.75 67.4H339.25L339.25 67.6H338.75L338.75 67.5H338.25L338.25 67.4H337.75L337.75 67.3H337.25L337.25 67.5H336.75L336.75 67.5H336.25L336.25 67.3H335.75L335.75 67.6H335.25L335.25 67.4H334.75L334.75 67.5H334.25L334.25 67.6H333.75L333.75 67.6H333.25L333.25 67.6H332.75L332.75 67.6H332.25L332.25 67.4H331.75L331.75 67.5H331.25L331.25 67.4H330.75L330.75 67.4H330.25L330.25 67.4H329.75L329.75 67.3H329.25L329.25 67.6H328.75L328.75 67.4H328.25L328.25 67.4H327.75L327.75 67.5H327.25L327.25 67.5H326.75L326.75 67.3H326.25L326.25 67.6H325.75L325.75 67.6H325.25L325.25 67.7H324.75L324.75 67.3H324.25L324.25 67.3H323.75L323.75 67.5H323.25L323.25 67.4H322.75L322.75 67.5H322.25L322.25 67.5H321.75L321.75 67.5H321.25L321.25 67.5H320.75L320.75 67.7H320.25L320.25 67.4H319.75L319.75 67.7H319.25L319.25 67.4H318.75L318.75 67.5H318.25L318.25 67.4H317.75L317.75 67.4H317.25L317.25 67.5H316.75L316.75 67.6H316.25L316.25 67.3H315.75L315.75 67.3H315.25L315.25 67.6H314.75L314.75 67.6H314.25L314.25 67.5H313.75L313.75 67.4H313.25L313.25 67.6H312.75L312.75 67.4H312.25L312.25 67.5H311.75L311.75 67.5H311.25L311.25 67.4H310.75L310.75 67.7H310.25L310.25 67.5H309.75L309.75 67.6H309.25L309.25 67.5H308.75L308.75 67.3H308.25L308.25 67.6H307.75L307.75 67.6H307.25L307.25 67.4H306.75L306.75 67.6H306.25L306.25 67.5H305.75L305.75 67.7H305.25L305.25 67.4H304.75L304.75 67.5H304.25L304.25 67.3H303.75L303.75 67.4H303.25L303.25 67.6H302.75L302.75 67.5H302.25L302.25 67.4H301.75L301.75 67.7H301.25L301.25 67.5H300.75L300.75 67.4H300.25L300.25 67.5H299.75L299.75 67.5H299.25L299.25 67.4H298.75L298.75 67.5H298.25L298.25 67.4H297.75L297.75 67.6H297.25L297.25 67.5H296.75L296.75 67.7H296.25L296.25 67.5H295.75L295.75 67.6H295.25L295.25 67.4H294.75L294.75 67.5H294.25L294.25 67.4H293.75L293.75 67.5H293.25L293.25 67.5H292.75L292.75 67.6H292.25L292.25 67.4H291.75L291.75 67.4H291.25L291.25 67.7H290.75L290.75 67.4H290.25L290.25 67.4H289.75L289.75 67.7H289.25L289.25 67.6H288.75L288.75 67.3H288.25L288.25 67.6H287.75L287.75 67.5H287.25L287.25 67.5H286.75L286.75 67.5H286.25L286.25 67.7H285.75L285.75 67.6H285.25L285.25 67.4H284.75L284.75 67.4H284.25L284.25 67.4H283.75L283.75 67.7H283.25L283.25 67.4H282.75L282.75 67.4H282.25L282.25 67.6H281.75L281.75 67.4H281.25L281.25 67.6H280.75L280.75 67.6H280.25L280.25 67.4H279.75L279.75 67.6H279.25L279.25 67.4H278.75L278.75 67.7H278.25L278.25 67.6H277.75L277.75 67.4H277.25L277.25 67.6H276.75L276.75 67.4H276.25L276.25 67.5H275.75L275.75 67.4H275.25L275.25 67.6H274.75L274.75 67.4H274.25L274.25 67.7H273.75L273.75 67.4H273.25L273.25 67.6H272.75L272.75 67.4H272.25L272.25 67.5H271.75L271.75 67.7H271.25L271.25 67.4H270.75L270.75 67.7H270.25L270.25 67.5H269.75L269.75 67.7H269.25L269.25 67.7H268.75L268.75 67.5H268.25L268.25 67.4H267.75L267.75 67.6H267.25L267.25 67.4H266.75L266.75 67.4H266.25L266.25 67.5H265.75L265.75 67.6H265.25L265.25 67.5H264.75L264.75 67.4H264.25L264.25 67.4H263.75L263.75 67.4H263.25L263.25 67.5H262.75L262.75 67.5H262.25L262.25 67.7H261.75L261.75 67.5H261.25L261.25 67.5H260.75L260.75 67.4H260.25L260.25 67.5H259.75L259.75 67.7H259.25L259.25 67.4H258.75L258.75 67.6H258.25L258.25 67.5H257.75L257.75 67.5H257.25L257.25 67.5H256.75L256.75 67.6H256.25L256.25 67.4H255.75L255.75 67.7H255.25L255.25 67.5H254.75L254.75 67.4H254.25L254.25 67.6H253.75L253.75 67.7H253.25L253.25 67.5H252.75L252.75 67.5H252.25L252.25 67.5H251.75L251.75 67.5H251.25L251.25 67.4H250.75L250.75 67.4H250.25L250.25 67.4H249.75L249.75 67.4H249.25L249.25 67.5H248.75L248.75 67.5H248.25L248.25 67.5H247.75L247.75 67.6H247.25L247.25 67.5H246.75L246.75 67.7H246.25L246.25 67.4H245.75L245.75 67.7H245.25L245.25 67.4H244.75L244.75 67.5H244.25L244.25 67.4H243.75L243.75 67.6H243.25L243.25 67.6H242.75L242.75 67.4H242.25L242.25 67.4H241.75L241.75 67.5H241.25L241.25 67.6H240.75L240.75 67.4H240.25L240.25 67.5H239.75L239.75 67.6H239.25L239.25 67.4H238.75L238.75 67.7H238.25L238.25 67.7H237.75L237.75 67.5H237.25L237.25 67.4H236.75L236.75 67.4H236.25L236.25 67.4H235.75L235.75 67.7H235.25L235.25 67.5H234.75L234.75 67.7H234.25L234.25 67.7H233.75L233.75 67.4H233.25L233.25 67.6H232.75L232.75 67.6H232.25L232.25 67.6H231.75L231.75 67.5H231.25L231.25 67.4H230.75L230.75 67.5H230.25L230.25 67.7H229.75L229.75 67.4H229.25L229.25 67.6H228.75L228.75 67.7H228.25L228.25 67.7H227.75L227.75 67.6H227.25L227.25 67.4H226.75L226.75 67.6H226.25L226.25 67.5H225.75L225.75 67.6H225.25L225.25 67.6H224.75L224.75 67.4H224.25L224.25 67.5H223.75L223.75 67.4H223.25L223.25 67.5H222.75L222.75 67.6H222.25L222.25 67.6H221.75L221.75 67.4H221.25L221.25 67.6H220.75L220.75 67.4H220.25L220.25 67.5H219.75L219.75 67.4H219.25L219.25 67.4H218.75L218.75 67.5H218.25L218.25 67.5H217.75L217.75 67.7H217.25L217.25 67.4H216.75L216.75 67.6H216.25L216.25 67.7H215.75L215.75 67.6H215.25L215.25 67.6H214.75L214.75 67.6H214.25L214.25 67.4H213.75L213.75 67.4H213.25L213.25 67.6H212.75L212.75 67.4H212.25L212.25 67.5H211.75L211.75 67.5H211.25L211.25 67.5H210.75L210.75 67.5H210.25L210.25 67.4H209.75L209.75 67.4H209.25L209.25 67.6H208.75L208.75 67.4H208.25L208.25 67.7H207.75L207.75 67.5H207.25L207.25 67.7H206.75L206.75 67.4H206.25L206.25 67.5H205.75L205.75 67.4H205.25L205.25 67.4H204.75L204.75 67.6H204.25L204.25 67.5H203.75L203.75 67.6H203.25L203.25 67.4H202.75L202.75 67.5H202.25L202.25 67.4H201.75L201.75 67.7H201.25L201.25 67.4H200.75L200.75 67.7H200.25L200.25 67.6H199.75L199.75 67.4H199.25L199.25 67.4H198.75L198.75 67.5H198.25L198.25 67.5H197.75L197.75 67.6H197.25L197.25 67.5H196.75L196.75 67.5H196.25L196.25 67.4H195.75L195.75 67.6H195.25L195.25 67.4H194.75L194.75 67.6H194.25L194.25 67.6H193.75L193.75 67.4H193.25L193.25 67.7H192.75L192.75 67.5H192.25L192.25 67.5H191.75L191.75 67.5H191.25L191.25 67.5H190.75L190.75 67.5H190.25L190.25 67.6H189.75L189.75 67.5H189.25L189.25 67.4H188.75L188.75 67.6H188.25L188.25 67.5H187.75L187.75 67.5H187.25L187.25 67.4H186.75L186.75 67.5H186.25L186.25 67.4H185.75L185.75 67.6H185.25L185.25 67.7H184.75L184.75 67.4H184.25L184.25 67.7H183.75L183.75 67.6H183.25L183.25 67.5H182.75L182.75 67.4H182.25L182.25 67.7H181.75L181.75 67.7H181.25L181.25 67.6H180.75L180.75 67.4H180.25L180.25 67.4H179.75L179.75 67.5H179.25L179.25 67.5H178.75L178.75 67.4H178.25L178.25 67.4H177.75L177.75 67.7H177.25L177.25 67.6H176.75L176.75 67.5H176.25L176.25 67.6H175.75L175.75 67.5H175.25L175.25 67.4H174.75L174.75 67.4H174.25L174.25 67.7H173.75L173.75 67.4H173.25L173.25 67.6H172.75L172.75 67.6H172.25L172.25 67.4H171.75L171.75 67.4H171.25L171.25 67.5H170.75L170.75 67.6H170.25L170.25 67.5H169.75L169.75 67.4H169.25L169.25 67.4H168.75L168.75 67.6H168.25L168.25 67.5H167.75L167.75 67.6H167.25L167.25 67.4H166.75L166.75 67.4H166.25L166.25 67.4H165.75L165.75 67.5H165.25L165.25 67.7H164.75L164.75 67.5H164.25L164.25 67.6H163.75L163.75 67.7H163.25L163.25 67.4H162.75L162.75 67.7H162.25L162.25 67.6H161.75L161.75 67.6H161.25L161.25 67.7H160.75L160.75 67.7H160.25L160.25 67.8H159.75L159.75 67.8H159.25L159.25 67.8H158.75L158.75 67.9H158.25L158.25 67.7H157.75L157.75 67.7H157.25L157.25 67.7H156.75L156.75 67.5H156.25L156.25 67.6H155.75L155.75 67.5H155.25L155.25 67.3H154.75L154.75 67.3H154.25L154.25 67.2H153.75L153.75 67.4H153.25L153.25 67.4H152.75L152.75 67.4H152.25L152.25 67.5H151.75L151.75 67.2H151.25L151.25 67.3H150.75L150.75 67.5H150.25L150.25 67.4H149.75L149.75 67.4H149.25L149.25 67.4H148.75L148.75 67.3H148.25L148.25 67.4H147.75L147.75 67.3H147.25L147.25 67.6H146.75L146.75 67.3H146.25L146.25 67.5H145.75L145.75 67.4H145.25L145.25 67.3H144.75L144.75 67.5H144.25L144.25 67.3H143.75L143.75 67.4H143.25L143.25 67.3H142.75L142.75 67.4H142.25L142.25 67.4H141.75L141.75 67.3H141.25L141.25 67.3H140.75L140.75 67.3H140.25L140.25 67.6H139.75L139.75 67.3H139.25L139.25 67.3H138.75L138.75 67.5H138.25L138.25 67.3H137.75L137.75 67.6H137.25L137.25 67.3H136.75L136.75 67.3H136.25L136.25 67.6H135.75L135.75 67.4H135.25L135.25 67.4H134.75L134.75 67.3H134.25L134.25 67.5H133.75L133.75 67.4H133.25L133.25 67.3H132.75L132.75 67.5H132.25L132.25 67.3H131.75L131.75 67.4H131.25L131.25 67.5H130.75L130.75 67.3H130.25L130.25 67.3H129.75L129.75 67.3H129.25L129.25 67.5H128.75L128.75 67.6H128.25L128.25 67.3H127.75L127.75 67.4H127.25L127.25 67.4H126.75L126.75 67.3H126.25L126.25 67.4H125.75L125.75 67.4H125.25L125.25 67.3H124.75L124.75 67.5H124.25L124.25 67.3H123.75L123.75 67.5H123.25L123.25 67.3H122.75L122.75 67.5H122.25L122.25 67.3H121.75L121.75 67.3H121.25L121.25 67.6H120.75L120.75 67.4H120.25L120.25 67.4H119.75L119.75 67.5H119.25L119.25 67.3H118.75L118.75 67.4H118.25L118.25 67.5H117.75L117.75 67.3H117.25L117.25 67.4H116.75L116.75 67.5H116.25L116.25 67.3H115.75L115.75 67.5H115.25L115.25 67.3H114.75L114.75 67.5H114.25L114.25 67.3H113.75L113.75 67.5H113.25L113.25 67.5H112.75L112.75 67.5H112.25L112.25 67.4H111.75L111.75 67.4H111.25L111.25 67.4H110.75L110.75 67.6H110.25L110.25 67.3H109.75L109.75 67.3H109.25L109.25 67.6H108.75L108.75 67.4H108.25L108.25 67.4H107.75L107.75 67.4H107.25L107.25 67.6H106.75L106.75 67.3H106.25L106.25 67.4H105.75L105.75 67.4H105.25L105.25 67.4H104.75L104.75 67.5H104.25L104.25 67.4H103.75L103.75 67.3H103.25L103.25 67.6H102.75L102.75 67.3H102.25L102.25 67.5H101.75L101.75 67.3H101.25L101.25 67.3H100.75L100.75 67.3H100.25L100.25 67.6H99.75L99.75 67.3H99.25L99.25 67.3H98.75L98.75 67.6H98.25L98.25 67.3H97.75L97.75 67.3H97.25L97.25 67.4H96.75L96.75 67.5H96.25L96.25 67.3H95.75L95.75 67.5H95.25L95.25 67.4H94.75L94.75 67.4H94.25L94.25 67.4H93.75L93.75 67.4H93.25L93.25 67.4H92.75L92.75 67.4H92.25L92.25 67.5H91.75L91.75 67.3H91.25L91.25 67.4H90.75L90.75 67.4H90.25L90.25 67.4H89.75L89.75 67.5H89.25L89.25 67.4H88.75L88.75 67.5H88.25L88.25 67.4H87.75L87.75 67.7H87.25L87.25 67.7H86.75L86.75 67.5H86.25L86.25 67.4H85.75L85.75 67.7H85.25L85.25 67.4H84.75L84.75 67.8H84.25L84.25 68.1H83.75L83.75 67.8H83.25L83.25 67.8H82.75L82.75 67.8H82.25L82.25 67.9H81.75L81.75 67.7H81.25L81.25 67.5H80.75L80.75 67.6H80.25L80.25 67.4H79.75L79.75 67.5H79.25L79.25 67.7H78.75L78.75 67.5H78.25L78.25 67.4H77.75L77.75 67.6H77.25L77.25 67.6H76.75L76.75 67.4H76.25L76.25 67.5H75.75L75.75 67.7H75.25L75.25 67.7H74.75L74.75 67.6H74.25L74.25 67.5H73.75L73.75 67.8H73.25L73.25 67.5H72.75L72.75 67.7H72.25L72.25 67.4H71.75L71.75 67.6H71.25L71.25 67.6H70.75L70.75 67.5H70.25L70.25 67.7H69.75L69.75 67.5H69.25L69.25 67.4H68.75L68.75 67.6H68.25L68.25 67.5H67.75L67.75 67.6H67.25L67.25 67.6H66.75L66.75 67.6H66.25L66.25 67.8H65.75L65.75 67.6H65.25L65.25 67.5H64.75L64.75 67.5H64.25L64.25 67.6H63.75L63.75 67.7H63.25L63.25 67.6H62.75L62.75 67.5H62.25L62.25 67.7H61.75L61.75 67.5H61.25L61.25 67.5H60.75L60.75 67.7H60.25L60.25 67.5H59.75L59.75 67.5H59.25L59.25 67.8H58.75L58.75 67.6H58.25L58.25 67.5H57.75L57.75 67.5H57.25Z" fill="#E85512" stroke="none"/>
<text class="tk" x="56.50" y="125.25" text-anchor="middle">0</text>
<text class="tk" x="115.58" y="125.25" text-anchor="middle">50</text>
<text class="tk" x="174.67" y="125.25" text-anchor="middle">100</text>
<text class="tk" x="233.75" y="125.25" text-anchor="middle">150</text>
<text class="tk" x="292.83" y="125.25" text-anchor="middle">200</text>
<text class="tk" x="351.92" y="125.25" text-anchor="middle">250</text>
<text class="tk" x="411.00" y="125.25" text-anchor="middle">300</text>
<text class="tk" x="51.8" y="29.42" text-anchor="end">0.05</text>
<text class="tk" x="51.8" y="70.32" text-anchor="end">0</text>
<text class="tk" x="51.8" y="111.22" text-anchor="end">-0.05</text>
<text class="lb" x="234.25" y="139.25" text-anchor="middle">Time, s</text>
<text class="lb" transform="translate(22.3 67.42) rotate(-90)" text-anchor="middle">d(i), e(i)</text>
<text class="tt" x="233.95" y="20.55" text-anchor="middle">Error 5, LLMS algorithm, attenuation 19.6 dB</text>
<rect x="294.6" y="30.20" width="108.1" height="24.20" fill="#fff" stroke="#3a3a3a" stroke-width="0.75"/>
<path d="M297.8 37.05H329" stroke="#0072BD" stroke-width="0.6"/>
<path d="M297.8 48.00H329" stroke="#E85512" stroke-width="0.6"/>
<text class="lg" x="332.3" y="40.25">Primary noise</text>
<text class="lg" x="332.3" y="51.05">Attenuated signal</text>
</g>
<g id="ax2">
<rect x="56.5" y="157.45" width="354.5" height="86.55000000000001" fill="none" stroke="#585858" stroke-width="1.1"/>
<path d="M115.58 244.0v-3.5M115.58 157.45v3.5M174.67 244.0v-3.5M174.67 157.45v3.5M233.75 244.0v-3.5M233.75 157.45v3.5M292.83 244.0v-3.5M292.83 157.45v3.5M351.92 244.0v-3.5M351.92 157.45v3.5M56.5 159.20h3.5M411.0 159.20h-3.5M56.5 200.10h3.5M411.0 200.10h-3.5M56.5 241.00h3.5M411.0 241.00h-3.5" stroke="#585858" stroke-width="0.6" fill="none"/>
<path d="M57.25 182.7H57.75L57.75 182.5H58.25L58.25 182.8H58.75L58.75 183.1H59.25L59.25 182.9H59.75L59.75 183.2H60.25L60.25 182.6H60.75L60.75 181.9H61.25L61.25 182.9H61.75L61.75 182.9H62.25L62.25 182.4H62.75L62.75 182.4H63.25L63.25 182.5H63.75L63.75 183.1H64.25L64.25 182.6H64.75L64.75 182.2H65.25L65.25 183.3H65.75L65.75 182.8H66.25L66.25 183.6H66.75L66.75 183.2H67.25L67.25 183.5H67.75L67.75 182.7H68.25L68.25 183.2H68.75L68.75 182.4H69.25L69.25 182.4H69.75L69.75 182.6H70.25L70.25 183.8H70.75L70.75 182.8H71.25L71.25 182.5H71.75L71.75 182.4H72.25L72.25 183.3H72.75L72.75 182.7H73.25L73.25 183.0H73.75L73.75 182.9H74.25L74.25 181.9H74.75L74.75 182.9H75.25L75.25 182.5H75.75L75.75 182.0H76.25L76.25 182.8H76.75L76.75 182.5H77.25L77.25 182.4H77.75L77.75 182.4H78.25L78.25 183.0H78.75L78.75 182.2H79.25L79.25 181.5H79.75L79.75 183.0H80.25L80.25 181.6H80.75L80.75 181.9H81.25L81.25 182.3H81.75L81.75 180.8H82.25L82.25 181.4H82.75L82.75 182.4H83.25L83.25 181.7H83.75L83.75 181.4H84.25L84.25 181.8H84.75L84.75 181.4H85.25L85.25 181.8H85.75L85.75 181.3H86.25L86.25 180.9H86.75L86.75 182.1H87.25L87.25 181.6H87.75L87.75 181.9H88.25L88.25 181.6H88.75L88.75 182.3H89.25L89.25 182.0H89.75L89.75 181.7H90.25L90.25 181.1H90.75L90.75 181.0H91.25L91.25 182.3H91.75L91.75 182.0H92.25L92.25 181.2H92.75L92.75 182.7H93.25L93.25 181.8H93.75L93.75 181.6H94.25L94.25 180.9H94.75L94.75 181.2H95.25L95.25 181.7H95.75L95.75 181.7H96.25L96.25 181.7H96.75L96.75 180.7H97.25L97.25 181.7H97.75L97.75 181.7H98.25L98.25 181.3H98.75L98.75 181.5H99.25L99.25 181.6H99.75L99.75 182.1H100.25L100.25 181.5H100.75L100.75 181.7H101.25L101.25 180.8H101.75L101.75 181.1H102.25L102.25 181.4H102.75L102.75 181.0H103.25L103.25 181.6H103.75L103.75 180.8H104.25L104.25 181.4H104.75L104.75 181.0H105.25L105.25 182.1H105.75L105.75 181.2H106.25L106.25 182.3H106.75L106.75 182.5H107.25L107.25 181.5H107.75L107.75 181.8H108.25L108.25 181.2H108.75L108.75 180.0H109.25L109.25 181.8H109.75L109.75 181.6H110.25L110.25 181.2H110.75L110.75 181.0H111.25L111.25 181.3H111.75L111.75 181.3H112.25L112.25 180.8H112.75L112.75 180.9H113.25L113.25 181.8H113.75L113.75 181.2H114.25L114.25 181.2H114.75L114.75 181.8H115.25L115.25 181.0H115.75L115.75 181.6H116.25L116.25 180.6H116.75L116.75 181.0H117.25L117.25 181.1H117.75L117.75 181.4H118.25L118.25 181.2H118.75L118.75 182.2H119.25L119.25 181.7H119.75L119.75 180.8H120.25L120.25 182.3H120.75L120.75 180.5H121.25L121.25 182.0H121.75L121.75 180.6H122.25L122.25 181.5H122.75L122.75 180.5H123.25L123.25 180.9H123.75L123.75 181.8H124.25L124.25 180.2H124.75L124.75 180.1H125.25L125.25 181.0H125.75L125.75 181.1H126.25L126.25 181.0H126.75L126.75 181.4H127.25L127.25 180.2H127.75L127.75 181.2H128.25L128.25 180.9H128.75L128.75 181.3H129.25L129.25 181.2H129.75L129.75 181.6H130.25L130.25 180.1H130.75L130.75 180.9H131.25L131.25 180.3H131.75L131.75 180.8H132.25L132.25 181.2H132.75L132.75 181.0H133.25L133.25 181.1H133.75L133.75 180.8H134.25L134.25 181.0H134.75L134.75 180.9H135.25L135.25 181.5H135.75L135.75 181.2H136.25L136.25 179.8H136.75L136.75 181.1H137.25L137.25 181.3H137.75L137.75 180.5H138.25L138.25 179.9H138.75L138.75 181.5H139.25L139.25 180.8H139.75L139.75 181.0H140.25L140.25 181.7H140.75L140.75 180.2H141.25L141.25 180.7H141.75L141.75 180.6H142.25L142.25 181.1H142.75L142.75 180.4H143.25L143.25 180.9H143.75L143.75 180.7H144.25L144.25 181.3H144.75L144.75 181.3H145.25L145.25 179.8H145.75L145.75 180.9H146.25L146.25 180.4H146.75L146.75 180.6H147.25L147.25 180.8H147.75L147.75 180.9H148.25L148.25 180.2H148.75L148.75 180.7H149.25L149.25 180.6H149.75L149.75 180.5H150.25L150.25 179.8H150.75L150.75 180.1H151.25L151.25 180.3H151.75L151.75 180.8H152.25L152.25 181.3H152.75L152.75 179.9H153.25L153.25 179.8H153.75L153.75 180.3H154.25L154.25 179.6H154.75L154.75 179.3H155.25L155.25 179.0H155.75L155.75 178.7H156.25L156.25 179.3H156.75L156.75 177.8H157.25L157.25 179.4H157.75L157.75 177.8H158.25L158.25 177.8H158.75L158.75 177.3H159.25L159.25 176.4H159.75L159.75 176.4H160.25L160.25 178.0H160.75L160.75 178.1H161.25L161.25 176.2H161.75L161.75 177.2H162.25L162.25 176.3H162.75L162.75 175.4H163.25L163.25 177.0H163.75L163.75 177.1H164.25L164.25 175.2H164.75L164.75 175.1H165.25L165.25 175.1H165.75L165.75 174.6H166.25L166.25 175.1H166.75L166.75 175.4H167.25L167.25 174.1H167.75L167.75 174.7H168.25L168.25 175.2H168.75L168.75 173.5H169.25L169.25 173.9H169.75L169.75 173.6H170.25L170.25 174.6H170.75L170.75 174.4H171.25L171.25 174.6H171.75L171.75 174.5H172.25L172.25 173.7H172.75L172.75 174.4H173.25L173.25 173.5H173.75L173.75 173.5H174.25L174.25 172.2H174.75L174.75 174.9H175.25L175.25 173.1H175.75L175.75 173.8H176.25L176.25 173.7H176.75L176.75 174.9H177.25L177.25 174.1H177.75L177.75 173.1H178.25L178.25 173.8H178.75L178.75 173.6H179.25L179.25 173.9H179.75L179.75 172.7H180.25L180.25 173.7H180.75L180.75 175.4H181.25L181.25 174.2H181.75L181.75 175.2H182.25L182.25 176.2H182.75L182.75 174.0H183.25L183.25 172.5H183.75L183.75 173.5H184.25L184.25 174.5H184.75L184.75 174.3H185.25L185.25 172.6H185.75L185.75 173.4H186.25L186.25 173.5H186.75L186.75 173.6H187.25L187.25 173.5H187.75L187.75 172.9H188.25L188.25 173.1H188.75L188.75 173.3H189.25L189.25 174.3H189.75L189.75 173.1H190.25L190.25 174.1H190.75L190.75 172.6H191.25L191.25 174.5H191.75L191.75 173.6H192.25L192.25 173.5H192.75L192.75 174.6H193.25L193.25 172.1H193.75L193.75 172.4H194.25L194.25 173.9H194.75L194.75 172.9H195.25L195.25 173.2H195.75L195.75 175.6H196.25L196.25 173.3H196.75L196.75 173.6H197.25L197.25 173.4H197.75L197.75 174.4H198.25L198.25 173.7H198.75L198.75 173.7H199.25L199.25 172.6H199.75L199.75 173.2H200.25L200.25 173.5H200.75L200.75 172.3H201.25L201.25 174.0H201.75L201.75 173.8H202.25L202.25 175.0H202.75L202.75 172.3H203.25L203.25 172.7H203.75L203.75 172.8H204.25L204.25 173.0H204.75L204.75 173.4H205.25L205.25 173.3H205.75L205.75 173.7H206.25L206.25 173.7H206.75L206.75 173.5H207.25L207.25 172.3H207.75L207.75 173.1H208.25L208.25 173.6H208.75L208.75 174.0H209.25L209.25 174.0H209.75L209.75 172.2H210.25L210.25 173.1H210.75L210.75 173.5H211.25L211.25 173.8H211.75L211.75 174.4H212.25L212.25 173.6H212.75L212.75 172.8H213.25L213.25 173.8H213.75L213.75 173.7H214.25L214.25 173.7H214.75L214.75 173.4H215.25L215.25 174.8H215.75L215.75 173.7H216.25L216.25 174.2H216.75L216.75 172.8H217.25L217.25 174.1H217.75L217.75 173.1H218.25L218.25 172.3H218.75L218.75 173.8H219.25L219.25 174.0H219.75L219.75 173.4H220.25L220.25 173.5H220.75L220.75 174.3H221.25L221.25 173.1H221.75L221.75 171.9H222.25L222.25 173.7H222.75L222.75 173.7H223.25L223.25 174.3H223.75L223.75 173.3H224.25L224.25 174.5H224.75L224.75 174.4H225.25L225.25 172.5H225.75L225.75 174.2H226.25L226.25 172.7H226.75L226.75 172.3H227.25L227.25 173.3H227.75L227.75 173.1H228.25L228.25 172.0H228.75L228.75 173.7H229.25L229.25 174.0H229.75L229.75 174.6H230.25L230.25 173.5H230.75L230.75 172.3H231.25L231.25 172.7H231.75L231.75 174.3H232.25L232.25 174.2H232.75L232.75 173.9H233.25L233.25 173.3H233.75L233.75 173.7H234.25L234.25 173.3H234.75L234.75 173.3H235.25L235.25 173.8H235.75L235.75 173.5H236.25L236.25 173.4H236.75L236.75 173.6H237.25L237.25 173.1H237.75L237.75 172.0H238.25L238.25 173.0H238.75L238.75 173.5H239.25L239.25 174.9H239.75L239.75 173.2H240.25L240.25 175.1H240.75L240.75 174.6H241.25L241.25 172.8H241.75L241.75 173.0H242.25L242.25 173.6H242.75L242.75 174.9H243.25L243.25 173.8H243.75L243.75 174.1H244.25L244.25 173.0H244.75L244.75 171.7H245.25L245.25 173.3H245.75L245.75 174.1H246.25L246.25 174.4H246.75L246.75 173.6H247.25L247.25 173.7H247.75L247.75 174.4H248.25L248.25 173.4H248.75L248.75 174.4H249.25L249.25 172.6H249.75L249.75 172.7H250.25L250.25 172.6H250.75L250.75 173.9H251.25L251.25 173.1H251.75L251.75 173.6H252.25L252.25 173.8H252.75L252.75 173.8H253.25L253.25 174.6H253.75L253.75 174.7H254.25L254.25 172.9H254.75L254.75 173.7H255.25L255.25 173.3H255.75L255.75 172.7H256.25L256.25 174.9H256.75L256.75 174.1H257.25L257.25 173.4H257.75L257.75 173.2H258.25L258.25 173.8H258.75L258.75 172.7H259.25L259.25 173.3H259.75L259.75 174.5H260.25L260.25 174.3H260.75L260.75 172.9H261.25L261.25 173.1H261.75L261.75 175.0H262.25L262.25 172.4H262.75L262.75 173.0H263.25L263.25 172.4H263.75L263.75 173.8H264.25L264.25 173.8H264.75L264.75 174.4H265.25L265.25 171.5H265.75L265.75 173.7H266.25L266.25 172.2H266.75L266.75 174.0H267.25L267.25 173.4H267.75L267.75 174.8H268.25L268.25 173.8H268.75L268.75 172.7H269.25L269.25 174.5H269.75L269.75 172.7H270.25L270.25 173.2H270.75L270.75 174.3H271.25L271.25 173.9H271.75L271.75 173.9H272.25L272.25 173.6H272.75L272.75 173.9H273.25L273.25 174.2H273.75L273.75 173.8H274.25L274.25 174.3H274.75L274.75 174.5H275.25L275.25 173.6H275.75L275.75 172.8H276.25L276.25 174.7H276.75L276.75 173.5H277.25L277.25 174.0H277.75L277.75 174.3H278.25L278.25 172.8H278.75L278.75 173.9H279.25L279.25 172.3H279.75L279.75 174.1H280.25L280.25 173.2H280.75L280.75 173.7H281.25L281.25 174.1H281.75L281.75 173.0H282.25L282.25 173.6H282.75L282.75 173.0H283.25L283.25 173.6H283.75L283.75 174.4H284.25L284.25 173.6H284.75L284.75 173.5H285.25L285.25 172.8H285.75L285.75 174.2H286.25L286.25 173.5H286.75L286.75 174.9H287.25L287.25 173.0H287.75L287.75 174.4H288.25L288.25 175.0H288.75L288.75 173.6H289.25L289.25 172.6H289.75L289.75 174.7H290.25L290.25 174.4H290.75L290.75 174.1H291.25L291.25 174.4H291.75L291.75 173.2H292.25L292.25 174.2H292.75L292.75 174.1H293.25L293.25 173.0H293.75L293.75 174.1H294.25L294.25 173.2H294.75L294.75 174.3H295.25L295.25 174.5H295.75L295.75 175.0H296.25L296.25 172.0H296.75L296.75 173.8H297.25L297.25 173.3H297.75L297.75 173.5H298.25L298.25 173.4H298.75L298.75 173.5H299.25L299.25 172.0H299.75L299.75 174.3H300.25L300.25 174.8H300.75L300.75 174.3H301.25L301.25 174.6H301.75L301.75 172.9H302.25L302.25 172.9H302.75L302.75 174.3H303.25L303.25 174.6H303.75L303.75 173.8H304.25L304.25 172.4H304.75L304.75 175.8H305.25L305.25 173.1H305.75L305.75 174.4H306.25L306.25 172.7H306.75L306.75 174.4H307.25L307.25 173.7H307.75L307.75 174.7H308.25L308.25 174.3H308.75L308.75 172.4H309.25L309.25 172.9H309.75L309.75 173.8H310.25L310.25 174.2H310.75L310.75 175.0H311.25L311.25 173.8H311.75L311.75 173.5H312.25L312.25 173.6H312.75L312.75 173.6H313.25L313.25 174.4H313.75L313.75 173.6H314.25L314.25 173.5H314.75L314.75 172.5H315.25L315.25 172.0H315.75L315.75 173.6H316.25L316.25 174.1H316.75L316.75 173.6H317.25L317.25 174.0H317.75L317.75 174.1H318.25L318.25 173.6H318.75L318.75 174.3H319.25L319.25 173.0H319.75L319.75 173.6H320.25L320.25 173.3H320.75L320.75 173.7H321.25L321.25 174.1H321.75L321.75 174.3H322.25L322.25 173.7H322.75L322.75 174.0H323.25L323.25 173.3H323.75L323.75 173.5H324.25L324.25 174.6H324.75L324.75 173.5H325.25L325.25 174.6H325.75L325.75 174.0H326.25L326.25 173.7H326.75L326.75 175.2H327.25L327.25 173.4H327.75L327.75 173.4H328.25L328.25 173.6H328.75L328.75 173.9H329.25L329.25 173.8H329.75L329.75 174.3H330.25L330.25 173.7H330.75L330.75 174.0H331.25L331.25 173.4H331.75L331.75 174.5H332.25L332.25 173.3H332.75L332.75 173.4H333.25L333.25 173.6H333.75L333.75 173.9H334.25L334.25 173.1H334.75L334.75 174.8H335.25L335.25 173.1H335.75L335.75 173.3H336.25L336.25 173.3H336.75L336.75 173.2H337.25L337.25 174.0H337.75L337.75 173.7H338.25L338.25 173.0H338.75L338.75 173.2H339.25L339.25 173.4H339.75L339.75 174.7H340.25L340.25 173.1H340.75L340.75 172.6H341.25L341.25 172.7H341.75L341.75 173.3H342.25L342.25 174.8H342.75L342.75 172.8H343.25L343.25 173.6H343.75L343.75 175.5H344.25L344.25 173.2H344.75L344.75 174.7H345.25L345.25 174.5H345.75L345.75 174.0H346.25L346.25 172.5H346.75L346.75 173.8H347.25L347.25 173.3H347.75L347.75 172.1H348.25L348.25 172.2H348.75L348.75 173.6H349.25L349.25 173.7H349.75L349.75 174.5H350.25L350.25 174.1H350.75L350.75 173.2H351.25L351.25 173.2H351.75L351.75 173.4H352.25L352.25 172.7H352.75L352.75 174.1H353.25L353.25 173.6H353.75L353.75 172.9H354.25L354.25 173.0H354.75L354.75 172.7H355.25L355.25 173.2H355.75L355.75 173.8H356.25L356.25 173.2H356.75L356.75 174.3H357.25L357.25 174.8H357.75L357.75 173.1H358.25L358.25 173.6H358.75L358.75 173.3H359.25L359.25 174.9H359.75L359.75 173.8H360.25L360.25 174.0H360.75L360.75 174.2H361.25L361.25 175.3H361.75L361.75 173.8H362.25L362.25 172.8H362.75L362.75 173.2H363.25L363.25 174.0H363.75L363.75 173.5H364.25L364.25 172.9H364.75L364.75 175.7H365.25L365.25 173.6H365.75L365.75 173.1H366.25L366.25 173.0H366.75L366.75 172.2H367.25L367.25 172.6H367.75L367.75 173.3H368.25L368.25 173.3H368.75L368.75 172.9H369.25L369.25 173.9H369.75L369.75 173.5H370.25L370.25 172.8H370.75L370.75 172.0H371.25L371.25 173.6H371.75L371.75 173.6H372.25L372.25 173.4H372.75L372.75 172.4H373.25L373.25 173.5H373.75L373.75 172.3H374.25L374.25 174.3H374.75L374.75 173.7H375.25L375.25 173.7H375.75L375.75 172.9H376.25L376.25 172.7H376.75L376.75 174.7H377.25L377.25 174.2H377.75L377.75 173.2H378.25L378.25 174.0H378.75L378.75 174.7H379.25L379.25 172.7H379.75L379.75 173.1H380.25L380.25 173.1H380.75L380.75 173.9H381.25L381.25 172.7H381.75L381.75 173.7H382.25L382.25 172.6H382.75L382.75 174.2H383.25L383.25 174.2H383.75L383.75 173.4H384.25L384.25 174.1H384.75L384.75 173.0H385.25L385.25 173.3H385.75L385.75 174.3H386.25L386.25 173.5H386.75L386.75 173.8H387.25L387.25 172.8H387.75L387.75 174.0H388.25L388.25 173.9H388.75L388.75 172.5H389.25L389.25 171.7H389.75L389.75 171.9H390.25L390.25 173.5H390.75L390.75 173.3H391.25L391.25 172.3H391.75L391.75 173.6H392.25L392.25 174.3H392.75L392.75 173.4H393.25L393.25 173.2H393.75L393.75 174.2H394.25L394.25 174.8H394.75L394.75 174.7H395.25L395.25 173.0H395.75L395.75 174.1H396.25L396.25 173.6H396.75L396.75 173.3H397.25L397.25 173.0H397.75L397.75 173.8H398.25L398.25 173.1H398.75L398.75 174.2H399.25L399.25 173.8H399.75L399.75 225.1H399.25L399.25 225.0H398.75L398.75 223.9H398.25L398.25 223.6H397.75L397.75 224.9H397.25L397.25 224.9H396.75L396.75 223.7H396.25L396.25 223.8H395.75L395.75 224.4H395.25L395.25 225.9H394.75L394.75 224.4H394.25L394.25 224.5H393.75L393.75 225.3H393.25L393.25 224.1H392.75L392.75 223.5H392.25L392.25 226.1H391.75L391.75 224.9H391.25L391.25 224.8H390.75L390.75 223.4H390.25L390.25 223.6H389.75L389.75 223.3H389.25L389.25 224.3H388.75L388.75 223.7H388.25L388.25 223.7H387.75L387.75 224.1H387.25L387.25 224.7H386.75L386.75 223.7H386.25L386.25 224.1H385.75L385.75 224.9H385.25L385.25 224.9H384.75L384.75 225.3H384.25L384.25 224.8H383.75L383.75 224.5H383.25L383.25 223.7H382.75L382.75 225.6H382.25L382.25 223.9H381.75L381.75 225.0H381.25L381.25 225.5H380.75L380.75 225.1H380.25L380.25 226.6H379.75L379.75 225.3H379.25L379.25 223.4H378.75L378.75 224.4H378.25L378.25 224.6H377.75L377.75 225.9H377.25L377.25 225.7H376.75L376.75 223.6H376.25L376.25 224.8H375.75L375.75 224.8H375.25L375.25 225.7H374.75L374.75 224.8H374.25L374.25 224.0H373.75L373.75 222.7H373.25L373.25 224.7H372.75L372.75 225.1H372.25L372.25 224.1H371.75L371.75 225.4H371.25L371.25 223.4H370.75L370.75 225.2H370.25L370.25 224.5H369.75L369.75 225.2H369.25L369.25 224.7H368.75L368.75 223.9H368.25L368.25 224.8H367.75L367.75 223.3H367.25L367.25 225.8H366.75L366.75 224.6H366.25L366.25 224.2H365.75L365.75 224.7H365.25L365.25 224.6H364.75L364.75 224.4H364.25L364.25 224.5H363.75L363.75 225.3H363.25L363.25 225.8H362.75L362.75 225.0H362.25L362.25 225.5H361.75L361.75 224.0H361.25L361.25 225.7H360.75L360.75 223.5H360.25L360.25 223.7H359.75L359.75 223.5H359.25L359.25 224.7H358.75L358.75 225.7H358.25L358.25 225.3H357.75L357.75 224.9H357.25L357.25 225.6H356.75L356.75 225.0H356.25L356.25 224.9H355.75L355.75 224.2H355.25L355.25 224.1H354.75L354.75 224.8H354.25L354.25 225.5H353.75L353.75 225.2H353.25L353.25 225.1H352.75L352.75 224.5H352.25L352.25 224.5H351.75L351.75 225.6H351.25L351.25 224.0H350.75L350.75 226.6H350.25L350.25 224.5H349.75L349.75 224.8H349.25L349.25 224.1H348.75L348.75 225.1H348.25L348.25 224.7H347.75L347.75 223.9H347.25L347.25 224.2H346.75L346.75 225.1H346.25L346.25 224.0H345.75L345.75 224.9H345.25L345.25 224.7H344.75L344.75 223.6H344.25L344.25 224.2H343.75L343.75 226.0H343.25L343.25 223.7H342.75L342.75 224.2H342.25L342.25 225.4H341.75L341.75 224.7H341.25L341.25 223.8H340.75L340.75 224.2H340.25L340.25 224.0H339.75L339.75 222.7H339.25L339.25 224.8H338.75L338.75 225.3H338.25L338.25 225.2H337.75L337.75 224.7H337.25L337.25 225.0H336.75L336.75 225.6H336.25L336.25 223.8H335.75L335.75 224.3H335.25L335.25 225.2H334.75L334.75 224.2H334.25L334.25 224.8H333.75L333.75 224.4H333.25L333.25 223.4H332.75L332.75 225.0H332.25L332.25 225.5H331.75L331.75 225.4H331.25L331.25 225.4H330.75L330.75 225.4H330.25L330.25 225.0H329.75L329.75 224.7H329.25L329.25 224.3H328.75L328.75 224.0H328.25L328.25 224.3H327.75L327.75 225.4H327.25L327.25 225.0H326.75L326.75 223.4H326.25L326.25 224.7H325.75L325.75 225.5H325.25L325.25 223.6H324.75L324.75 223.4H324.25L324.25 223.9H323.75L323.75 223.4H323.25L323.25 224.5H322.75L322.75 225.8H322.25L322.25 224.9H321.75L321.75 224.3H321.25L321.25 224.8H320.75L320.75 223.9H320.25L320.25 224.4H319.75L319.75 224.4H319.25L319.25 225.2H318.75L318.75 225.1H318.25L318.25 224.5H317.75L317.75 223.8H317.25L317.25 223.2H316.75L316.75 224.2H316.25L316.25 224.1H315.75L315.75 224.6H315.25L315.25 223.5H314.75L314.75 225.1H314.25L314.25 224.4H313.75L313.75 224.4H313.25L313.25 225.5H312.75L312.75 225.3H312.25L312.25 225.3H311.75L311.75 225.2H311.25L311.25 224.1H310.75L310.75 225.1H310.25L310.25 225.0H309.75L309.75 224.6H309.25L309.25 224.1H308.75L308.75 223.9H308.25L308.25 224.4H307.75L307.75 223.1H307.25L307.25 224.4H306.75L306.75 224.5H306.25L306.25 224.4H305.75L305.75 223.9H305.25L305.25 224.2H304.75L304.75 224.6H304.25L304.25 224.2H303.75L303.75 222.9H303.25L303.25 225.7H302.75L302.75 223.6H302.25L302.25 223.1H301.75L301.75 224.3H301.25L301.25 224.0H300.75L300.75 224.8H300.25L300.25 224.5H299.75L299.75 224.2H299.25L299.25 223.7H298.75L298.75 224.5H298.25L298.25 224.9H297.75L297.75 223.8H297.25L297.25 223.3H296.75L296.75 223.9H296.25L296.25 224.1H295.75L295.75 225.2H295.25L295.25 224.8H294.75L294.75 224.3H294.25L294.25 224.4H293.75L293.75 223.8H293.25L293.25 226.2H292.75L292.75 224.5H292.25L292.25 224.4H291.75L291.75 223.8H291.25L291.25 224.5H290.75L290.75 223.7H290.25L290.25 224.0H289.75L289.75 224.9H289.25L289.25 224.7H288.75L288.75 224.5H288.25L288.25 225.4H287.75L287.75 226.2H287.25L287.25 225.2H286.75L286.75 224.4H286.25L286.25 224.7H285.75L285.75 225.7H285.25L285.25 223.9H284.75L284.75 223.5H284.25L284.25 224.9H283.75L283.75 225.2H283.25L283.25 224.4H282.75L282.75 223.0H282.25L282.25 223.9H281.75L281.75 222.8H281.25L281.25 223.9H280.75L280.75 225.3H280.25L280.25 223.9H279.75L279.75 224.5H279.25L279.25 223.9H278.75L278.75 224.1H278.25L278.25 223.9H277.75L277.75 224.4H277.25L277.25 225.4H276.75L276.75 223.6H276.25L276.25 225.0H275.75L275.75 224.2H275.25L275.25 224.3H274.75L274.75 224.5H274.25L274.25 224.7H273.75L273.75 224.8H273.25L273.25 224.7H272.75L272.75 225.2H272.25L272.25 224.3H271.75L271.75 223.8H271.25L271.25 224.4H270.75L270.75 223.5H270.25L270.25 224.1H269.75L269.75 224.1H269.25L269.25 225.0H268.75L268.75 224.0H268.25L268.25 224.3H267.75L267.75 224.0H267.25L267.25 224.3H266.75L266.75 224.6H266.25L266.25 225.0H265.75L265.75 226.2H265.25L265.25 224.6H264.75L264.75 223.3H264.25L264.25 226.1H263.75L263.75 225.9H263.25L263.25 223.9H262.75L262.75 224.7H262.25L262.25 225.0H261.75L261.75 223.9H261.25L261.25 223.7H260.75L260.75 224.6H260.25L260.25 224.5H259.75L259.75 223.9H259.25L259.25 224.4H258.75L258.75 222.8H258.25L258.25 225.2H257.75L257.75 224.2H257.25L257.25 224.6H256.75L256.75 224.5H256.25L256.25 224.2H255.75L255.75 224.2H255.25L255.25 223.6H254.75L254.75 222.6H254.25L254.25 225.5H253.75L253.75 223.2H253.25L253.25 224.3H252.75L252.75 223.7H252.25L252.25 223.8H251.75L251.75 225.2H251.25L251.25 225.0H250.75L250.75 223.5H250.25L250.25 225.2H249.75L249.75 225.7H249.25L249.25 224.7H248.75L248.75 223.9H248.25L248.25 224.9H247.75L247.75 222.7H247.25L247.25 223.9H246.75L246.75 223.2H246.25L246.25 223.6H245.75L245.75 224.1H245.25L245.25 225.0H244.75L244.75 225.0H244.25L244.25 223.9H243.75L243.75 223.8H243.25L243.25 225.1H242.75L242.75 224.1H242.25L242.25 223.7H241.75L241.75 223.6H241.25L241.25 225.2H240.75L240.75 226.1H240.25L240.25 224.4H239.75L239.75 223.4H239.25L239.25 224.2H238.75L238.75 223.8H238.25L238.25 224.1H237.75L237.75 225.0H237.25L237.25 224.1H236.75L236.75 222.9H236.25L236.25 225.6H235.75L235.75 224.3H235.25L235.25 225.0H234.75L234.75 224.2H234.25L234.25 224.8H233.75L233.75 223.6H233.25L233.25 224.4H232.75L232.75 224.5H232.25L232.25 225.6H231.75L231.75 224.8H231.25L231.25 224.3H230.75L230.75 224.1H230.25L230.25 224.6H229.75L229.75 223.3H229.25L229.25 224.8H228.75L228.75 223.6H228.25L228.25 225.5H227.75L227.75 223.6H227.25L227.25 222.9H226.75L226.75 223.6H226.25L226.25 223.1H225.75L225.75 223.3H225.25L225.25 224.5H224.75L224.75 224.2H224.25L224.25 223.8H223.75L223.75 223.8H223.25L223.25 224.6H222.75L222.75 222.7H222.25L222.25 224.2H221.75L221.75 223.0H221.25L221.25 224.1H220.75L220.75 224.4H220.25L220.25 224.4H219.75L219.75 224.6H219.25L219.25 224.0H218.75L218.75 223.8H218.25L218.25 225.0H217.75L217.75 225.6H217.25L217.25 224.6H216.75L216.75 225.8H216.25L216.25 224.0H215.75L215.75 224.6H215.25L215.25 224.6H214.75L214.75 223.7H214.25L214.25 224.6H213.75L213.75 224.0H213.25L213.25 225.1H212.75L212.75 223.7H212.25L212.25 224.4H211.75L211.75 224.2H211.25L211.25 224.1H210.75L210.75 224.1H210.25L210.25 225.1H209.75L209.75 224.7H209.25L209.25 224.2H208.75L208.75 224.3H208.25L208.25 225.1H207.75L207.75 224.2H207.25L207.25 225.0H206.75L206.75 224.7H206.25L206.25 224.3H205.75L205.75 223.2H205.25L205.25 223.6H204.75L204.75 223.6H204.25L204.25 224.6H203.75L203.75 223.6H203.25L203.25 224.1H202.75L202.75 225.0H202.25L202.25 223.5H201.75L201.75 224.8H201.25L201.25 222.7H200.75L200.75 225.0H200.25L200.25 224.2H199.75L199.75 224.8H199.25L199.25 224.6H198.75L198.75 224.2H198.25L198.25 224.8H197.75L197.75 224.9H197.25L197.25 224.8H196.75L196.75 223.6H196.25L196.25 222.9H195.75L195.75 225.5H195.25L195.25 225.6H194.75L194.75 224.0H194.25L194.25 224.9H193.75L193.75 223.7H193.25L193.25 225.9H192.75L192.75 224.7H192.25L192.25 225.1H191.75L191.75 224.9H191.25L191.25 224.4H190.75L190.75 225.1H190.25L190.25 224.0H189.75L189.75 223.9H189.25L189.25 224.3H188.75L188.75 224.3H188.25L188.25 223.9H187.75L187.75 223.9H187.25L187.25 224.2H186.75L186.75 224.5H186.25L186.25 223.8H185.75L185.75 224.8H185.25L185.25 224.6H184.75L184.75 224.0H184.25L184.25 225.1H183.75L183.75 224.9H183.25L183.25 224.0H182.75L182.75 223.3H182.25L182.25 224.2H181.75L181.75 225.2H181.25L181.25 223.5H180.75L180.75 223.8H180.25L180.25 225.1H179.75L179.75 223.2H179.25L179.25 225.1H178.75L178.75 224.1H178.25L178.25 223.7H177.75L177.75 223.9H177.25L177.25 225.0H176.75L176.75 224.3H176.25L176.25 224.4H175.75L175.75 224.8H175.25L175.25 224.9H174.75L174.75 222.7H174.25L174.25 223.9H173.75L173.75 224.6H173.25L173.25 224.3H172.75L172.75 224.8H172.25L172.25 224.4H171.75L171.75 223.8H171.25L171.25 224.4H170.75L170.75 225.3H170.25L170.25 224.2H169.75L169.75 225.0H169.25L169.25 223.3H168.75L168.75 225.4H168.25L168.25 224.3H167.75L167.75 224.3H167.25L167.25 224.6H166.75L166.75 223.7H166.25L166.25 225.2H165.75L165.75 225.2H165.25L165.25 224.2H164.75L164.75 222.5H164.25L164.25 223.2H163.75L163.75 222.2H163.25L163.25 223.2H162.75L162.75 222.5H162.25L162.25 221.8H161.75L161.75 222.9H161.25L161.25 222.1H160.75L160.75 221.2H160.25L160.25 221.7H159.75L159.75 221.7H159.25L159.25 221.3H158.75L158.75 221.5H158.25L158.25 220.9H157.75L157.75 221.5H157.25L157.25 221.2H156.75L156.75 220.6H156.25L156.25 220.0H155.75L155.75 221.5H155.25L155.25 220.3H154.75L154.75 220.2H154.25L154.25 220.4H153.75L153.75 221.0H153.25L153.25 220.2H152.75L152.75 219.1H152.25L152.25 220.2H151.75L151.75 219.9H151.25L151.25 220.5H150.75L150.75 219.8H150.25L150.25 219.7H149.75L149.75 219.5H149.25L149.25 218.7H148.75L148.75 219.4H148.25L148.25 220.4H147.75L147.75 219.9H147.25L147.25 219.6H146.75L146.75 219.4H146.25L146.25 220.1H145.75L145.75 221.1H145.25L145.25 219.6H144.75L144.75 219.3H144.25L144.25 220.2H143.75L143.75 219.4H143.25L143.25 220.3H142.75L142.75 219.8H142.25L142.25 220.5H141.75L141.75 219.2H141.25L141.25 218.9H140.75L140.75 219.3H140.25L140.25 220.0H139.75L139.75 219.1H139.25L139.25 219.6H138.75L138.75 219.9H138.25L138.25 220.1H137.75L137.75 219.3H137.25L137.25 218.5H136.75L136.75 219.5H136.25L136.25 219.7H135.75L135.75 219.3H135.25L135.25 218.7H134.75L134.75 218.3H134.25L134.25 219.3H133.75L133.75 219.0H133.25L133.25 219.0H132.75L132.75 219.5H132.25L132.25 219.2H131.75L131.75 218.9H131.25L131.25 220.0H130.75L130.75 219.0H130.25L130.25 219.2H129.75L129.75 218.9H129.25L129.25 221.0H128.75L128.75 220.1H128.25L128.25 219.5H127.75L127.75 219.1H127.25L127.25 219.8H126.75L126.75 219.1H126.25L126.25 219.5H125.75L125.75 219.1H125.25L125.25 219.4H124.75L124.75 219.3H124.25L124.25 218.5H123.75L123.75 218.7H123.25L123.25 219.5H122.75L122.75 220.4H122.25L122.25 218.7H121.75L121.75 219.6H121.25L121.25 219.3H120.75L120.75 219.3H120.25L120.25 218.6H119.75L119.75 219.7H119.25L119.25 219.6H118.75L118.75 219.7H118.25L118.25 220.1H117.75L117.75 219.4H117.25L117.25 219.8H116.75L116.75 219.4H116.25L116.25 219.6H115.75L115.75 219.3H115.25L115.25 219.8H114.75L114.75 218.2H114.25L114.25 219.0H113.75L113.75 219.6H113.25L113.25 218.7H112.75L112.75 218.8H112.25L112.25 218.9H111.75L111.75 218.5H111.25L111.25 219.2H110.75L110.75 220.2H110.25L110.25 219.5H109.75L109.75 219.5H109.25L109.25 218.9H108.75L108.75 218.4H108.25L108.25 219.0H107.75L107.75 218.0H107.25L107.25 218.6H106.75L106.75 219.4H106.25L106.25 218.6H105.75L105.75 218.8H105.25L105.25 219.4H104.75L104.75 218.0H104.25L104.25 219.6H103.75L103.75 219.2H103.25L103.25 219.1H102.75L102.75 218.4H102.25L102.25 218.3H101.75L101.75 217.6H101.25L101.25 219.4H100.75L100.75 218.3H100.25L100.25 218.6H99.75L99.75 218.1H99.25L99.25 219.3H98.75L98.75 218.5H98.25L98.25 218.5H97.75L97.75 218.8H97.25L97.25 218.2H96.75L96.75 217.6H96.25L96.25 218.6H95.75L95.75 218.4H95.25L95.25 218.0H94.75L94.75 218.0H94.25L94.25 219.2H93.75L93.75 217.8H93.25L93.25 217.4H92.75L92.75 217.9H92.25L92.25 217.6H91.75L91.75 217.9H91.25L91.25 217.6H90.75L90.75 217.7H90.25L90.25 217.7H89.75L89.75 218.4H89.25L89.25 217.3H88.75L88.75 217.9H88.25L88.25 218.2H87.75L87.75 218.5H87.25L87.25 218.4H86.75L86.75 217.4H86.25L86.25 216.5H85.75L85.75 217.0H85.25L85.25 217.0H84.75L84.75 217.2H84.25L84.25 217.0H83.75L83.75 217.1H83.25L83.25 217.3H82.75L82.75 216.3H82.25L82.25 217.2H81.75L81.75 216.0H81.25L81.25 217.0H80.75L80.75 216.6H80.25L80.25 216.3H79.75L79.75 216.4H79.25L79.25 215.9H78.75L78.75 216.8H78.25L78.25 217.8H77.75L77.75 217.3H77.25L77.25 216.9H76.75L76.75 217.4H76.25L76.25 215.6H75.75L75.75 216.6H75.25L75.25 216.4H74.75L74.75 216.5H74.25L74.25 216.3H73.75L73.75 216.8H73.25L73.25 215.8H72.75L72.75 216.5H72.25L72.25 217.0H71.75L71.75 216.8H71.25L71.25 216.5H70.75L70.75 216.9H70.25L70.25 215.6H69.75L69.75 216.9H69.25L69.25 216.8H68.75L68.75 217.3H68.25L68.25 217.4H67.75L67.75 216.2H67.25L67.25 216.8H66.75L66.75 216.7H66.25L66.25 217.0H65.75L65.75 216.2H65.25L65.25 216.3H64.75L64.75 217.4H64.25L64.25 216.7H63.75L63.75 216.3H63.25L63.25 216.8H62.75L62.75 217.6H62.25L62.25 216.1H61.75L61.75 215.8H61.25L61.25 215.5H60.75L60.75 216.6H60.25L60.25 216.1H59.75L59.75 216.1H59.25L59.25 215.9H58.75L58.75 216.2H58.25L58.25 216.7H57.75L57.75 215.7H57.25Z" fill="#0072BD" stroke="none"/>
<path d="M57.50 181.6V220.4M58.00 175.4V219.2M58.50 180.3V221.7M59.00 181.8V222.2M59.50 178.5V217.0M60.00 178.7V223.4M60.50 177.4V219.3M61.00 177.3V216.7M61.50 179.3V218.3M62.00 181.9V219.6M62.50 177.9V224.1M63.00 176.2V222.4M63.50 178.5V216.3M64.00 175.8V217.1M64.50 178.1V224.8M65.00 180.6V224.4M65.50 176.4V220.9M66.00 180.0V219.7M66.50 181.7V223.1M67.00 181.5V221.1M67.50 182.7V220.8M68.00 180.0V219.4M68.50 181.2V227.8M69.00 180.1V218.5M69.50 177.8V218.0M70.00 178.9V220.4M70.50 180.1V226.3M71.00 177.3V218.9M71.50 181.3V219.3M72.00 179.7V218.2M72.50 182.8V221.5M73.00 180.6V222.2M73.50 177.8V217.9M74.00 182.4V220.8M74.50 177.8V221.1M75.00 178.2V217.3M75.50 179.7V221.1M76.00 177.6V217.9M76.50 180.4V219.1M77.00 180.6V225.5M77.50 179.6V218.1M78.00 175.9V220.8M78.50 175.8V222.3M79.00 180.1V219.6M79.50 174.2V227.9M80.00 180.3V224.1M80.50 179.7V218.8M81.00 173.5V220.7M81.50 171.3V224.2M82.00 171.0V226.0M82.50 172.3V224.6M83.00 175.6V221.0M83.50 177.2V223.8M84.00 179.3V224.7M84.50 180.7V219.0M85.00 180.3V225.8M85.50 178.1V226.1M86.00 177.0V226.2M86.50 171.2V219.5M87.00 176.4V220.3M87.50 171.1V219.8M88.00 174.3V226.7M88.50 180.1V219.1M89.00 176.5V225.5M89.50 180.3V219.9M90.00 181.3V220.6M90.50 171.2V219.6M91.00 177.4V228.1M91.50 180.4V218.7M92.00 181.0V225.4M92.50 174.4V220.6M93.00 177.9V226.0M93.50 181.7V224.6M94.00 174.1V221.6M94.50 178.2V222.6M95.00 173.0V219.4M95.50 176.6V222.1M96.00 176.1V218.8M96.50 176.9V223.8M97.00 173.6V223.5M97.50 171.4V221.3M98.00 173.4V228.6M98.50 180.6V226.9M99.00 176.4V231.3M99.50 179.1V228.2M100.00 181.0V218.8M100.50 179.4V221.7M101.00 179.1V223.0M101.50 170.8V222.4M102.00 173.3V221.2M102.50 172.6V220.7M103.00 173.8V228.7M103.50 170.4V221.7M104.00 167.3V222.6M104.50 176.8V227.2M105.00 178.0V221.8M105.50 177.7V230.9M106.00 173.2V219.4M106.50 181.5V222.3M107.00 179.6V222.4M107.50 176.6V220.3M108.00 174.9V230.8M108.50 174.6V221.5M109.00 172.6V222.7M109.50 180.7V223.7M110.00 179.8V230.9M110.50 178.1V222.2M111.00 178.2V226.6M111.50 174.0V230.5M112.00 171.9V221.3M112.50 174.4V220.3M113.00 180.6V229.4M113.50 179.1V222.4M114.00 174.1V221.0M114.50 173.1V218.9M115.00 176.7V225.3M115.50 178.1V227.7M116.00 178.7V227.5M116.50 175.3V224.7M117.00 173.8V223.7M117.50 172.1V228.2M118.00 179.8V226.0M118.50 181.1V228.2M119.00 171.5V231.6M119.50 174.6V225.9M120.00 175.6V224.9M120.50 172.4V220.5M121.00 180.0V221.5M121.50 179.0V220.1M122.00 173.9V227.0M122.50 176.0V229.3M123.00 180.0V224.9M123.50 177.5V220.1M124.00 176.5V219.6M124.50 174.5V223.3M125.00 176.3V222.9M125.50 179.4V220.8M126.00 173.0V220.3M126.50 177.1V224.9M127.00 170.7V226.9M127.50 175.8V219.6M128.00 180.5V222.2M128.50 178.9V222.8M129.00 180.8V225.9M129.50 179.6V224.3M130.00 179.9V222.9M130.50 176.6V226.8M131.00 178.2V223.5M131.50 177.2V221.6M132.00 174.0V226.1M132.50 172.2V227.1M133.00 180.1V226.8M133.50 174.4V220.5M134.00 170.0V231.3M134.50 177.3V222.5M135.00 178.7V227.4M135.50 177.0V224.9M136.00 179.4V225.2M136.50 172.6V222.4M137.00 174.2V227.4M137.50 178.6V220.9M138.00 180.3V225.1M138.50 172.5V226.0M139.00 179.0V226.8M139.50 175.3V226.4M140.00 173.9V223.4M140.50 175.0V221.7M141.00 173.0V227.7M141.50 176.6V224.1M142.00 173.6V223.0M142.50 177.2V221.0M143.00 178.2V227.5M143.50 176.9V227.0M144.00 169.9V225.3M144.50 174.8V222.7M145.00 174.4V225.5M145.50 178.6V229.9M146.00 179.5V225.3M146.50 170.9V226.4M147.00 176.7V227.5M147.50 172.8V226.6M148.00 173.0V224.8M148.50 169.8V221.0M149.00 174.6V224.9M149.50 175.0V228.8M150.00 178.2V228.3M150.50 176.7V221.1M151.00 180.1V221.5M151.50 169.0V225.6M152.00 178.5V227.6M152.50 180.6V219.8M153.00 177.3V225.7M153.50 177.1V223.4M154.00 170.7V229.5M154.50 170.0V223.6M155.00 177.3V221.1M155.50 171.1V228.9M156.00 171.1V222.9M156.50 168.1V224.7M157.00 172.8V222.4M157.50 167.6V233.1M158.00 169.7V222.3M158.50 170.7V224.2M159.00 172.4V227.3M159.50 166.8V224.9M160.00 174.3V228.8M160.50 167.8V230.9M161.00 174.9V233.4M161.50 175.5V223.2M162.00 173.1V232.4M162.50 171.7V224.7M163.00 172.5V227.1M163.50 173.0V228.2M164.00 173.6V238.0M164.50 171.2V234.6M165.00 168.5V229.4M165.50 169.7V240.8M166.00 172.5V230.7M166.50 162.8V227.2M167.00 169.7V229.6M167.50 169.0V229.1M168.00 166.7V238.9M168.50 166.8V232.8M169.00 159.4V229.6M169.50 164.8V230.1M170.00 160.4V238.7M170.50 166.6V235.3M171.00 172.6V232.4M171.50 166.8V228.0M172.00 171.7V236.1M172.50 170.8V226.1M173.00 173.1V234.3M173.50 169.1V229.8M174.00 173.3V228.8M174.50 164.8V233.2M175.00 166.5V233.0M175.50 164.4V236.8M176.00 161.7V241.0M176.50 166.6V225.7M177.00 165.5V231.2M177.50 160.2V233.4M178.00 170.9V224.8M178.50 170.8V230.8M179.00 168.4V237.4M179.50 172.0V226.2M180.00 166.7V226.6M180.50 169.8V227.4M181.00 168.0V227.7M181.50 168.2V228.7M182.00 167.5V229.5M182.50 173.4V233.7M183.00 166.1V230.4M183.50 164.3V232.2M184.00 165.4V226.5M184.50 173.7V236.7M185.00 163.7V236.4M185.50 166.2V229.1M186.00 160.5V235.6M186.50 160.7V228.7M187.00 167.8V232.2M187.50 167.7V237.9M188.00 170.1V225.0M188.50 170.1V225.2M189.00 169.3V229.8M189.50 165.6V240.3M190.00 168.2V237.1M190.50 173.6V227.5M191.00 167.6V228.3M191.50 172.3V230.6M192.00 160.5V229.0M192.50 162.6V228.9M193.00 171.3V232.0M193.50 166.1V238.5M194.00 168.3V225.4M194.50 173.3V236.4M195.00 158.4V231.0M195.50 162.7V237.0M196.00 173.5V223.0M196.50 168.6V224.3M197.00 169.4V226.0M197.50 171.6V236.2M198.00 167.0V229.9M198.50 165.0V236.8M199.00 165.1V233.2M199.50 165.0V225.9M200.00 173.1V228.7M200.50 170.9V239.7M201.00 161.1V235.5M201.50 166.1V239.0M202.00 169.5V224.6M202.50 169.9V236.5M203.00 162.8V239.2M203.50 172.5V228.2M204.00 157.8V233.2M204.50 169.7V227.1M205.00 162.3V232.5M205.50 170.8V228.3M206.00 173.2V230.2M206.50 169.0V227.0M207.00 166.2V227.6M207.50 170.6V234.9M208.00 163.7V232.2M208.50 171.4V236.9M209.00 166.1V233.9M209.50 172.2V236.0M210.00 162.4V227.0M210.50 170.9V236.4M211.00 165.3V224.3M211.50 164.4V231.8M212.00 171.5V227.6M212.50 172.5V226.8M213.00 166.3V231.2M213.50 168.2V231.5M214.00 160.8V230.1M214.50 164.9V232.6M215.00 168.2V236.4M215.50 169.2V226.7M216.00 168.2V239.9M216.50 169.1V233.3M217.00 168.3V229.7M217.50 172.3V229.5M218.00 169.7V231.3M218.50 169.3V232.5M219.00 171.0V235.3M219.50 165.2V236.3M220.00 172.1V234.5M220.50 171.2V228.7M221.00 168.4V235.1M221.50 169.6V231.8M222.00 169.2V226.3M222.50 169.5V234.5M223.00 168.1V227.7M223.50 166.8V239.1M224.00 162.4V232.4M224.50 165.0V235.4M225.00 169.6V238.4M225.50 167.4V238.5M226.00 169.6V223.8M226.50 170.0V224.0M227.00 161.6V225.3M227.50 172.5V230.8M228.00 170.8V230.8M228.50 164.5V224.6M229.00 167.1V227.3M229.50 170.9V230.5M230.00 164.1V229.6M230.50 168.9V237.4M231.00 160.1V230.1M231.50 171.7V235.6M232.00 164.3V239.3M232.50 173.0V230.6M233.00 169.5V228.9M233.50 163.4V226.3M234.00 163.1V228.4M234.50 163.2V228.6M235.00 164.0V229.4M235.50 171.1V226.5M236.00 173.2V238.4M236.50 168.3V237.4M237.00 172.9V234.9M237.50 162.4V237.8M238.00 171.9V225.3M238.50 169.4V227.8M239.00 171.2V227.3M239.50 174.7V225.3M240.00 167.6V230.4M240.50 174.2V228.4M241.00 164.6V227.1M241.50 165.1V232.3M242.00 168.8V229.1M242.50 164.2V232.4M243.00 166.0V230.9M243.50 170.2V230.0M244.00 164.6V237.2M244.50 162.6V230.3M245.00 164.8V231.0M245.50 169.4V228.3M246.00 164.1V238.0M246.50 163.9V226.3M247.00 169.7V226.6M247.50 172.7V237.9M248.00 164.7V234.7M248.50 166.0V234.4M249.00 171.8V231.7M249.50 160.5V230.2M250.00 169.2V233.3M250.50 162.4V233.8M251.00 170.1V228.0M251.50 160.4V233.5M252.00 173.1V232.6M252.50 170.0V228.5M253.00 162.7V226.1M253.50 172.1V230.8M254.00 169.5V228.1M254.50 162.0V227.2M255.00 173.6V230.3M255.50 170.0V236.1M256.00 163.5V226.0M256.50 173.8V225.4M257.00 161.7V231.3M257.50 164.0V235.9M258.00 171.6V225.8M258.50 167.2V230.8M259.00 166.5V224.7M259.50 165.6V230.7M260.00 171.0V226.0M260.50 170.0V232.7M261.00 170.2V228.2M261.50 169.9V232.1M262.00 173.1V237.7M262.50 162.3V240.4M263.00 163.1V226.2M263.50 159.3V229.3M264.00 166.1V228.1M264.50 168.3V225.8M265.00 171.3V231.4M265.50 167.6V231.7M266.00 162.8V235.2M266.50 168.4V230.7M267.00 167.6V230.9M267.50 162.8V232.8M268.00 171.5V234.8M268.50 164.8V231.3M269.00 171.5V225.4M269.50 166.3V239.8M270.00 158.9V224.5M270.50 163.9V231.0M271.00 163.4V225.2M271.50 166.0V230.5M272.00 162.9V226.1M272.50 170.4V235.8M273.00 168.1V225.9M273.50 171.8V233.0M274.00 172.8V233.4M274.50 169.4V227.9M275.00 166.5V231.7M275.50 164.8V228.3M276.00 172.6V228.2M276.50 164.2V226.9M277.00 170.7V225.6M277.50 170.8V232.8M278.00 165.0V224.8M278.50 162.8V226.5M279.00 165.7V225.0M279.50 158.1V234.5M280.00 169.0V230.5M280.50 163.9V231.1M281.00 169.7V231.1M281.50 165.1V239.2M282.00 164.3V239.2M282.50 161.8V229.3M283.00 163.0V228.3M283.50 169.2V231.6M284.00 166.0V237.2M284.50 166.4V230.5M285.00 169.8V229.8M285.50 166.8V236.8M286.00 167.5V225.3M286.50 167.5V225.2M287.00 173.6V235.0M287.50 161.9V237.9M288.00 161.0V226.0M288.50 174.5V224.8M289.00 163.0V224.8M289.50 166.7V232.1M290.00 162.8V225.7M290.50 165.2V230.6M291.00 169.3V232.7M291.50 166.4V224.0M292.00 163.9V235.2M292.50 168.1V227.7M293.00 173.5V233.0M293.50 163.9V228.2M294.00 166.4V237.1M294.50 163.0V229.3M295.00 171.3V224.8M295.50 165.7V230.5M296.00 165.3V227.4M296.50 168.1V238.1M297.00 169.2V225.3M297.50 169.6V227.9M298.00 173.5V233.5M298.50 170.8V236.7M299.00 169.8V226.2M299.50 170.8V234.9M300.00 165.9V232.1M300.50 170.1V238.0M301.00 168.1V224.2M301.50 171.5V235.3M302.00 169.0V226.0M302.50 164.6V224.9M303.00 169.1V233.8M303.50 168.1V231.6M304.00 169.2V235.3M304.50 166.3V230.8M305.00 166.0V228.1M305.50 170.2V227.8M306.00 168.7V227.0M306.50 165.2V232.4M307.00 173.4V236.1M307.50 163.3V224.2M308.00 169.3V229.2M308.50 171.6V228.2M309.00 164.2V225.1M309.50 164.1V232.0M310.00 167.0V237.1M310.50 164.4V228.6M311.00 174.1V238.5M311.50 163.1V239.3M312.00 165.6V228.7M312.50 163.8V236.7M313.00 166.7V234.8M313.50 168.0V241.0M314.00 169.4V226.8M314.50 167.5V228.5M315.00 158.4V239.2M315.50 160.1V235.8M316.00 164.8V234.1M316.50 166.3V225.3M317.00 163.8V229.8M317.50 173.3V226.5M318.00 166.0V234.0M318.50 168.7V232.3M319.00 166.4V237.0M319.50 169.9V233.5M320.00 161.6V225.6M320.50 164.6V228.5M321.00 173.3V231.9M321.50 171.0V235.6M322.00 169.2V239.0M322.50 164.8V228.1M323.00 162.4V241.2M323.50 164.7V226.5M324.00 171.0V225.8M324.50 171.4V227.7M325.00 167.7V239.7M325.50 167.8V231.8M326.00 164.9V235.8M326.50 164.6V235.2M327.00 172.6V227.0M327.50 165.7V232.5M328.00 166.8V232.6M328.50 169.7V225.9M329.00 165.9V230.9M329.50 162.1V227.2M330.00 163.4V229.5M330.50 164.3V229.4M331.00 172.6V235.5M331.50 171.7V228.3M332.00 166.7V232.2M332.50 170.2V232.3M333.00 167.4V227.5M333.50 161.7V236.0M334.00 172.4V228.9M334.50 165.4V228.3M335.00 167.3V233.8M335.50 171.7V230.3M336.00 170.7V232.8M336.50 165.2V227.5M337.00 162.7V239.2M337.50 165.2V233.8M338.00 168.6V230.0M338.50 169.3V235.9M339.00 168.6V239.7M339.50 171.6V225.7M340.00 169.7V234.8M340.50 159.6V239.7M341.00 170.9V225.2M341.50 168.8V227.4M342.00 162.0V235.0M342.50 170.0V227.5M343.00 165.7V230.6M343.50 167.0V236.4M344.00 165.6V231.8M344.50 164.2V233.0M345.00 168.3V236.8M345.50 165.4V228.6M346.00 169.5V234.9M346.50 158.9V232.0M347.00 160.9V226.7M347.50 168.0V239.2M348.00 162.2V237.1M348.50 166.2V226.8M349.00 168.5V233.7M349.50 165.7V231.7M350.00 171.4V225.0M350.50 165.7V237.5M351.00 173.0V231.4M351.50 170.8V231.1M352.00 160.7V226.3M352.50 170.1V230.3M353.00 164.6V237.8M353.50 173.3V239.1M354.00 169.9V242.2M354.50 167.2V232.3M355.00 165.6V231.0M355.50 165.4V231.9M356.00 169.9V227.4M356.50 171.0V226.8M357.00 165.7V239.4M357.50 173.6V235.2M358.00 172.4V225.4M358.50 171.2V228.9M359.00 168.3V232.0M359.50 165.4V229.7M360.00 166.4V234.9M360.50 168.3V226.2M361.00 161.1V227.2M361.50 168.3V225.9M362.00 167.5V231.7M362.50 169.4V228.6M363.00 172.3V231.5M363.50 172.0V233.8M364.00 159.9V228.5M364.50 166.5V232.7M365.00 167.7V224.9M365.50 173.2V231.5M366.00 164.0V235.5M366.50 169.1V236.2M367.00 162.8V241.6M367.50 166.6V235.5M368.00 167.8V227.7M368.50 161.6V227.6M369.00 166.6V230.3M369.50 167.2V231.5M370.00 172.0V234.7M370.50 166.7V238.8M371.00 168.4V224.0M371.50 172.9V234.1M372.00 172.2V226.9M372.50 168.5V236.0M373.00 169.8V227.4M373.50 165.8V226.4M374.00 171.1V225.7M374.50 174.1V228.5M375.00 163.6V233.2M375.50 170.5V228.1M376.00 167.8V225.4M376.50 170.6V230.8M377.00 172.6V234.8M377.50 170.2V227.3M378.00 165.3V229.9M378.50 173.6V225.3M379.00 166.3V223.6M379.50 160.3V229.9M380.00 167.5V230.1M380.50 169.5V236.0M381.00 163.4V225.7M381.50 170.9V233.0M382.00 170.5V233.0M382.50 164.1V230.8M383.00 174.2V229.9M383.50 166.3V227.5M384.00 166.7V228.0M384.50 173.9V225.9M385.00 172.3V236.2M385.50 165.9V225.3M386.00 167.5V225.8M386.50 170.3V232.7M387.00 165.2V230.3M387.50 170.7V230.5M388.00 169.7V227.3M388.50 172.7V225.7M389.00 166.1V238.0M389.50 160.2V224.8M390.00 160.2V227.3M390.50 161.0V232.8M391.00 168.3V228.5M391.50 159.8V236.7M392.00 166.3V228.3M392.50 168.2V230.1M393.00 171.4V230.8M393.50 166.2V231.5M394.00 173.0V234.1M394.50 161.6V225.0M395.00 170.2V232.7M395.50 171.8V234.2M396.00 173.1V224.4M396.50 167.1V230.4M397.00 165.9V230.4M397.50 169.3V229.9M398.00 169.9V230.3M398.50 171.0V231.7M399.00 169.0V233.8M399.50 168.0V236.2" stroke="#0072BD" stroke-width="0.92" fill="none"/>
<path d="M56.65 186.8V222.1" stroke="#EC7A42" stroke-width="1.3" fill="none"/>
<path d="M57.25 198.6H57.75L57.75 198.6H58.25L58.25 198.7H58.75L58.75 198.6H59.25L59.25 198.6H59.75L59.75 198.6H60.25L60.25 198.6H60.75L60.75 198.7H61.25L61.25 198.7H61.75L61.75 198.7H62.25L62.25 198.7H62.75L62.75 198.6H63.25L63.25 198.5H63.75L63.75 198.7H64.25L64.25 198.4H64.75L64.75 198.4H65.25L65.25 198.6H65.75L65.75 198.7H66.25L66.25 198.7H66.75L66.75 198.6H67.25L67.25 198.4H67.75L67.75 198.4H68.25L68.25 198.5H68.75L68.75 198.5H69.25L69.25 198.7H69.75L69.75 198.6H70.25L70.25 198.6H70.75L70.75 198.7H71.25L71.25 198.6H71.75L71.75 198.6H72.25L72.25 198.5H72.75L72.75 198.7H73.25L73.25 198.7H73.75L73.75 198.7H74.25L74.25 198.7H74.75L74.75 198.7H75.25L75.25 198.7H75.75L75.75 198.5H76.25L76.25 198.7H76.75L76.75 198.7H77.25L77.25 198.8H77.75L77.75 198.8H78.25L78.25 198.8H78.75L78.75 198.7H79.25L79.25 198.8H79.75L79.75 198.8H80.25L80.25 198.7H80.75L80.75 198.8H81.25L81.25 198.6H81.75L81.75 198.4H82.25L82.25 198.4H82.75L82.75 198.1H83.25L83.25 198.4H83.75L83.75 198.4H84.25L84.25 198.4H84.75L84.75 198.7H85.25L85.25 198.8H85.75L85.75 198.8H86.25L86.25 198.7H86.75L86.75 198.7H87.25L87.25 198.8H87.75L87.75 198.7H88.25L88.25 198.7H88.75L88.75 198.8H89.25L89.25 198.8H89.75L89.75 198.8H90.25L90.25 198.8H90.75L90.75 198.9H91.25L91.25 198.7H91.75L91.75 198.9H92.25L92.25 198.7H92.75L92.75 198.9H93.25L93.25 198.7H93.75L93.75 198.8H94.25L94.25 198.7H94.75L94.75 198.9H95.25L95.25 198.9H95.75L95.75 198.8H96.25L96.25 198.8H96.75L96.75 198.9H97.25L97.25 198.7H97.75L97.75 198.8H98.25L98.25 198.7H98.75L98.75 199.0H99.25L99.25 198.7H99.75L99.75 198.8H100.25L100.25 198.7H100.75L100.75 199.0H101.25L101.25 198.9H101.75L101.75 198.8H102.25L102.25 198.9H102.75L102.75 199.0H103.25L103.25 199.0H103.75L103.75 198.8H104.25L104.25 198.9H104.75L104.75 199.0H105.25L105.25 199.0H105.75L105.75 198.9H106.25L106.25 199.0H106.75L106.75 199.0H107.25L107.25 198.9H107.75L107.75 199.0H108.25L108.25 199.0H108.75L108.75 198.8H109.25L109.25 199.1H109.75L109.75 199.0H110.25L110.25 198.8H110.75L110.75 198.9H111.25L111.25 199.0H111.75L111.75 198.8H112.25L112.25 199.0H112.75L112.75 199.1H113.25L113.25 198.8H113.75L113.75 198.9H114.25L114.25 199.0H114.75L114.75 198.9H115.25L115.25 199.1H115.75L115.75 199.0H116.25L116.25 198.9H116.75L116.75 198.8H117.25L117.25 199.0H117.75L117.75 199.1H118.25L118.25 199.1H118.75L118.75 199.0H119.25L119.25 198.9H119.75L119.75 198.9H120.25L120.25 198.9H120.75L120.75 198.8H121.25L121.25 198.9H121.75L121.75 198.9H122.25L122.25 198.9H122.75L122.75 198.9H123.25L123.25 198.9H123.75L123.75 198.8H124.25L124.25 199.0H124.75L124.75 198.9H125.25L125.25 199.1H125.75L125.75 199.0H126.25L126.25 198.8H126.75L126.75 199.0H127.25L127.25 198.9H127.75L127.75 199.0H128.25L128.25 199.0H128.75L128.75 199.1H129.25L129.25 198.9H129.75L129.75 198.8H130.25L130.25 198.9H130.75L130.75 198.9H131.25L131.25 199.0H131.75L131.75 199.0H132.25L132.25 198.9H132.75L132.75 199.0H133.25L133.25 199.0H133.75L133.75 199.0H134.25L134.25 198.8H134.75L134.75 198.9H135.25L135.25 198.9H135.75L135.75 199.1H136.25L136.25 198.9H136.75L136.75 199.0H137.25L137.25 198.9H137.75L137.75 199.0H138.25L138.25 198.9H138.75L138.75 199.1H139.25L139.25 199.1H139.75L139.75 199.0H140.25L140.25 199.1H140.75L140.75 198.9H141.25L141.25 199.1H141.75L141.75 199.1H142.25L142.25 199.0H142.75L142.75 199.1H143.25L143.25 198.9H143.75L143.75 199.0H144.25L144.25 199.0H144.75L144.75 199.0H145.25L145.25 198.8H145.75L145.75 199.0H146.25L146.25 199.1H146.75L146.75 199.0H147.25L147.25 198.9H147.75L147.75 198.8H148.25L148.25 199.1H148.75L148.75 199.1H149.25L149.25 199.0H149.75L149.75 199.0H150.25L150.25 198.9H150.75L150.75 198.9H151.25L151.25 198.9H151.75L151.75 199.0H152.25L152.25 199.0H152.75L152.75 198.8H153.25L153.25 199.1H153.75L153.75 199.1H154.25L154.25 199.1H154.75L154.75 198.9H155.25L155.25 198.9H155.75L155.75 198.8H156.25L156.25 198.8H156.75L156.75 198.6H157.25L157.25 198.6H157.75L157.75 198.5H158.25L158.25 198.5H158.75L158.75 198.5H159.25L159.25 198.5H159.75L159.75 198.3H160.25L160.25 198.5H160.75L160.75 198.8H161.25L161.25 198.8H161.75L161.75 198.9H162.25L162.25 198.8H162.75L162.75 198.7H163.25L163.25 198.9H163.75L163.75 198.8H164.25L164.25 198.8H164.75L164.75 198.7H165.25L165.25 198.9H165.75L165.75 198.8H166.25L166.25 198.9H166.75L166.75 198.8H167.25L167.25 198.7H167.75L167.75 198.8H168.25L168.25 198.9H168.75L168.75 198.7H169.25L169.25 198.8H169.75L169.75 198.8H170.25L170.25 198.7H170.75L170.75 198.8H171.25L171.25 198.9H171.75L171.75 198.9H172.25L172.25 198.8H172.75L172.75 198.9H173.25L173.25 198.9H173.75L173.75 198.9H174.25L174.25 198.9H174.75L174.75 198.9H175.25L175.25 198.9H175.75L175.75 198.8H176.25L176.25 198.9H176.75L176.75 198.9H177.25L177.25 198.8H177.75L177.75 198.8H178.25L178.25 198.7H178.75L178.75 198.9H179.25L179.25 198.8H179.75L179.75 198.9H180.25L180.25 198.8H180.75L180.75 198.9H181.25L181.25 198.8H181.75L181.75 198.8H182.25L182.25 198.7H182.75L182.75 198.8H183.25L183.25 198.9H183.75L183.75 198.7H184.25L184.25 198.9H184.75L184.75 198.8H185.25L185.25 198.8H185.75L185.75 198.9H186.25L186.25 198.8H186.75L186.75 198.9H187.25L187.25 199.0H187.75L187.75 198.9H188.25L188.25 198.8H188.75L188.75 198.8H189.25L189.25 198.9H189.75L189.75 198.8H190.25L190.25 198.7H190.75L190.75 198.7H191.25L191.25 198.8H191.75L191.75 198.9H192.25L192.25 198.9H192.75L192.75 198.7H193.25L193.25 198.7H193.75L193.75 198.7H194.25L194.25 198.9H194.75L194.75 198.9H195.25L195.25 198.9H195.75L195.75 198.7H196.25L196.25 198.7H196.75L196.75 198.8H197.25L197.25 198.9H197.75L197.75 198.8H198.25L198.25 198.9H198.75L198.75 198.8H199.25L199.25 198.9H199.75L199.75 198.9H200.25L200.25 198.9H200.75L200.75 198.9H201.25L201.25 198.9H201.75L201.75 198.7H202.25L202.25 198.8H202.75L202.75 198.9H203.25L203.25 198.7H203.75L203.75 198.9H204.25L204.25 198.9H204.75L204.75 198.7H205.25L205.25 198.7H205.75L205.75 198.7H206.25L206.25 198.9H206.75L206.75 198.8H207.25L207.25 199.0H207.75L207.75 199.0H208.25L208.25 198.7H208.75L208.75 199.0H209.25L209.25 199.0H209.75L209.75 198.9H210.25L210.25 198.8H210.75L210.75 198.8H211.25L211.25 198.9H211.75L211.75 198.9H212.25L212.25 198.7H212.75L212.75 198.9H213.25L213.25 199.0H213.75L213.75 198.8H214.25L214.25 199.0H214.75L214.75 198.8H215.25L215.25 198.9H215.75L215.75 199.0H216.25L216.25 198.8H216.75L216.75 198.8H217.25L217.25 198.9H217.75L217.75 198.9H218.25L218.25 198.7H218.75L218.75 198.9H219.25L219.25 198.9H219.75L219.75 198.9H220.25L220.25 198.9H220.75L220.75 198.9H221.25L221.25 198.7H221.75L221.75 199.0H222.25L222.25 198.7H222.75L222.75 198.8H223.25L223.25 199.0H223.75L223.75 198.9H224.25L224.25 198.8H224.75L224.75 198.8H225.25L225.25 198.9H225.75L225.75 198.9H226.25L226.25 198.7H226.75L226.75 198.8H227.25L227.25 198.8H227.75L227.75 198.7H228.25L228.25 198.9H228.75L228.75 198.9H229.25L229.25 198.7H229.75L229.75 198.9H230.25L230.25 198.9H230.75L230.75 198.7H231.25L231.25 198.7H231.75L231.75 198.7H232.25L232.25 198.8H232.75L232.75 198.9H233.25L233.25 198.8H233.75L233.75 198.9H234.25L234.25 198.9H234.75L234.75 198.9H235.25L235.25 198.8H235.75L235.75 198.7H236.25L236.25 198.8H236.75L236.75 198.9H237.25L237.25 198.8H237.75L237.75 198.9H238.25L238.25 198.7H238.75L238.75 198.9H239.25L239.25 198.9H239.75L239.75 198.9H240.25L240.25 199.0H240.75L240.75 198.9H241.25L241.25 198.9H241.75L241.75 198.9H242.25L242.25 198.8H242.75L242.75 198.7H243.25L243.25 198.7H243.75L243.75 198.8H244.25L244.25 198.9H244.75L244.75 198.9H245.25L245.25 198.8H245.75L245.75 199.0H246.25L246.25 199.0H246.75L246.75 198.8H247.25L247.25 198.9H247.75L247.75 198.7H248.25L248.25 198.8H248.75L248.75 198.9H249.25L249.25 198.7H249.75L249.75 199.0H250.25L250.25 198.9H250.75L250.75 198.9H251.25L251.25 198.7H251.75L251.75 199.0H252.25L252.25 198.8H252.75L252.75 198.7H253.25L253.25 199.0H253.75L253.75 198.8H254.25L254.25 198.8H254.75L254.75 198.9H255.25L255.25 198.9H255.75L255.75 198.7H256.25L256.25 198.9H256.75L256.75 198.9H257.25L257.25 198.8H257.75L257.75 199.0H258.25L258.25 198.8H258.75L258.75 199.0H259.25L259.25 198.7H259.75L259.75 198.7H260.25L260.25 198.7H260.75L260.75 198.7H261.25L261.25 198.8H261.75L261.75 198.9H262.25L262.25 198.8H262.75L262.75 198.8H263.25L263.25 199.0H263.75L263.75 198.8H264.25L264.25 198.9H264.75L264.75 198.9H265.25L265.25 198.9H265.75L265.75 198.9H266.25L266.25 198.7H266.75L266.75 198.8H267.25L267.25 199.0H267.75L267.75 198.8H268.25L268.25 198.7H268.75L268.75 198.8H269.25L269.25 198.8H269.75L269.75 198.9H270.25L270.25 198.8H270.75L270.75 198.9H271.25L271.25 198.7H271.75L271.75 198.8H272.25L272.25 198.9H272.75L272.75 198.7H273.25L273.25 198.8H273.75L273.75 198.9H274.25L274.25 198.9H274.75L274.75 199.0H275.25L275.25 198.8H275.75L275.75 199.0H276.25L276.25 198.9H276.75L276.75 198.8H277.25L277.25 198.9H277.75L277.75 198.9H278.25L278.25 199.0H278.75L278.75 199.0H279.25L279.25 198.8H279.75L279.75 199.0H280.25L280.25 198.7H280.75L280.75 199.0H281.25L281.25 198.9H281.75L281.75 199.0H282.25L282.25 198.7H282.75L282.75 198.8H283.25L283.25 199.0H283.75L283.75 199.0H284.25L284.25 199.0H284.75L284.75 198.8H285.25L285.25 198.8H285.75L285.75 198.8H286.25L286.25 198.9H286.75L286.75 198.9H287.25L287.25 198.8H287.75L287.75 199.0H288.25L288.25 198.8H288.75L288.75 198.8H289.25L289.25 198.8H289.75L289.75 198.9H290.25L290.25 198.9H290.75L290.75 198.7H291.25L291.25 198.7H291.75L291.75 198.8H292.25L292.25 198.8H292.75L292.75 198.9H293.25L293.25 198.7H293.75L293.75 198.8H294.25L294.25 198.9H294.75L294.75 198.8H295.25L295.25 199.0H295.75L295.75 198.9H296.25L296.25 198.7H296.75L296.75 198.9H297.25L297.25 198.9H297.75L297.75 198.9H298.25L298.25 198.7H298.75L298.75 199.0H299.25L299.25 198.8H299.75L299.75 198.9H300.25L300.25 198.9H300.75L300.75 199.0H301.25L301.25 198.8H301.75L301.75 199.0H302.25L302.25 198.8H302.75L302.75 198.9H303.25L303.25 198.9H303.75L303.75 198.7H304.25L304.25 199.0H304.75L304.75 198.9H305.25L305.25 198.9H305.75L305.75 199.0H306.25L306.25 198.9H306.75L306.75 198.7H307.25L307.25 199.0H307.75L307.75 198.8H308.25L308.25 198.9H308.75L308.75 198.9H309.25L309.25 198.9H309.75L309.75 199.0H310.25L310.25 198.8H310.75L310.75 198.9H311.25L311.25 199.0H311.75L311.75 199.0H312.25L312.25 198.7H312.75L312.75 198.7H313.25L313.25 198.9H313.75L313.75 198.9H314.25L314.25 198.8H314.75L314.75 199.0H315.25L315.25 198.7H315.75L315.75 199.0H316.25L316.25 199.0H316.75L316.75 198.9H317.25L317.25 198.9H317.75L317.75 199.0H318.25L318.25 198.9H318.75L318.75 198.7H319.25L319.25 198.8H319.75L319.75 199.0H320.25L320.25 198.7H320.75L320.75 198.9H321.25L321.25 198.7H321.75L321.75 198.9H322.25L322.25 198.9H322.75L322.75 198.8H323.25L323.25 198.9H323.75L323.75 198.9H324.25L324.25 198.9H324.75L324.75 198.8H325.25L325.25 198.9H325.75L325.75 198.8H326.25L326.25 198.8H326.75L326.75 198.8H327.25L327.25 198.8H327.75L327.75 199.0H328.25L328.25 198.8H328.75L328.75 199.0H329.25L329.25 199.0H329.75L329.75 198.9H330.25L330.25 199.0H330.75L330.75 199.0H331.25L331.25 198.8H331.75L331.75 198.7H332.25L332.25 199.0H332.75L332.75 198.9H333.25L333.25 199.0H333.75L333.75 198.9H334.25L334.25 198.9H334.75L334.75 198.9H335.25L335.25 199.0H335.75L335.75 198.8H336.25L336.25 198.9H336.75L336.75 198.9H337.25L337.25 198.8H337.75L337.75 198.7H338.25L338.25 198.9H338.75L338.75 198.7H339.25L339.25 199.0H339.75L339.75 198.9H340.25L340.25 199.0H340.75L340.75 198.9H341.25L341.25 198.7H341.75L341.75 198.7H342.25L342.25 198.9H342.75L342.75 198.9H343.25L343.25 198.9H343.75L343.75 198.7H344.25L344.25 198.9H344.75L344.75 199.0H345.25L345.25 198.8H345.75L345.75 198.9H346.25L346.25 198.9H346.75L346.75 198.7H347.25L347.25 198.8H347.75L347.75 199.0H348.25L348.25 198.7H348.75L348.75 198.9H349.25L349.25 199.0H349.75L349.75 198.7H350.25L350.25 198.9H350.75L350.75 198.8H351.25L351.25 198.8H351.75L351.75 199.0H352.25L352.25 198.7H352.75L352.75 198.9H353.25L353.25 199.0H353.75L353.75 198.9H354.25L354.25 199.0H354.75L354.75 198.7H355.25L355.25 198.8H355.75L355.75 198.9H356.25L356.25 198.8H356.75L356.75 198.8H357.25L357.25 198.8H357.75L357.75 199.0H358.25L358.25 199.0H358.75L358.75 198.8H359.25L359.25 198.7H359.75L359.75 198.9H360.25L360.25 198.9H360.75L360.75 198.9H361.25L361.25 198.9H361.75L361.75 198.7H362.25L362.25 198.9H362.75L362.75 198.8H363.25L363.25 198.9H363.75L363.75 199.0H364.25L364.25 199.0H364.75L364.75 199.0H365.25L365.25 198.9H365.75L365.75 198.8H366.25L366.25 198.7H366.75L366.75 198.7H367.25L367.25 198.8H367.75L367.75 198.9H368.25L368.25 198.9H368.75L368.75 198.8H369.25L369.25 198.9H369.75L369.75 198.8H370.25L370.25 198.8H370.75L370.75 199.0H371.25L371.25 198.8H371.75L371.75 199.0H372.25L372.25 198.9H372.75L372.75 198.7H373.25L373.25 198.8H373.75L373.75 198.8H374.25L374.25 198.7H374.75L374.75 199.0H375.25L375.25 198.8H375.75L375.75 198.9H376.25L376.25 199.0H376.75L376.75 199.0H377.25L377.25 199.0H377.75L377.75 198.8H378.25L378.25 198.8H378.75L378.75 198.8H379.25L379.25 198.9H379.75L379.75 198.8H380.25L380.25 199.0H380.75L380.75 198.9H381.25L381.25 198.8H381.75L381.75 198.9H382.25L382.25 198.7H382.75L382.75 198.9H383.25L383.25 199.0H383.75L383.75 198.7H384.25L384.25 198.8H384.75L384.75 199.0H385.25L385.25 198.9H385.75L385.75 198.9H386.25L386.25 199.0H386.75L386.75 198.9H387.25L387.25 198.8H387.75L387.75 198.8H388.25L388.25 199.0H388.75L388.75 198.9H389.25L389.25 199.0H389.75L389.75 198.8H390.25L390.25 199.0H390.75L390.75 198.7H391.25L391.25 199.0H391.75L391.75 198.9H392.25L392.25 198.8H392.75L392.75 198.7H393.25L393.25 198.9H393.75L393.75 198.8H394.25L394.25 198.9H394.75L394.75 199.0H395.25L395.25 198.9H395.75L395.75 198.9H396.25L396.25 198.9H396.75L396.75 198.8H397.25L397.25 198.9H397.75L397.75 198.9H398.25L398.25 198.9H398.75L398.75 198.9H399.25L399.25 199.0H399.75L399.75 201.2H399.25L399.25 201.4H398.75L398.75 201.2H398.25L398.25 201.2H397.75L397.75 201.4H397.25L397.25 201.4H396.75L396.75 201.3H396.25L396.25 201.4H395.75L395.75 201.3H395.25L395.25 201.4H394.75L394.75 201.2H394.25L394.25 201.4H393.75L393.75 201.4H393.25L393.25 201.4H392.75L392.75 201.3H392.25L392.25 201.4H391.75L391.75 201.4H391.25L391.25 201.3H390.75L390.75 201.3H390.25L390.25 201.5H389.75L389.75 201.4H389.25L389.25 201.3H388.75L388.75 201.3H388.25L388.25 201.3H387.75L387.75 201.4H387.25L387.25 201.2H386.75L386.75 201.4H386.25L386.25 201.4H385.75L385.75 201.4H385.25L385.25 201.4H384.75L384.75 201.2H384.25L384.25 201.3H383.75L383.75 201.4H383.25L383.25 201.4H382.75L382.75 201.2H382.25L382.25 201.3H381.75L381.75 201.4H381.25L381.25 201.3H380.75L380.75 201.2H380.25L380.25 201.5H379.75L379.75 201.3H379.25L379.25 201.5H378.75L378.75 201.3H378.25L378.25 201.3H377.75L377.75 201.4H377.25L377.25 201.4H376.75L376.75 201.3H376.25L376.25 201.5H375.75L375.75 201.2H375.25L375.25 201.5H374.75L374.75 201.4H374.25L374.25 201.4H373.75L373.75 201.4H373.25L373.25 201.3H372.75L372.75 201.4H372.25L372.25 201.3H371.75L371.75 201.4H371.25L371.25 201.2H370.75L370.75 201.5H370.25L370.25 201.2H369.75L369.75 201.4H369.25L369.25 201.2H368.75L368.75 201.4H368.25L368.25 201.3H367.75L367.75 201.4H367.25L367.25 201.5H366.75L366.75 201.5H366.25L366.25 201.4H365.75L365.75 201.4H365.25L365.25 201.4H364.75L364.75 201.2H364.25L364.25 201.2H363.75L363.75 201.3H363.25L363.25 201.2H362.75L362.75 201.3H362.25L362.25 201.5H361.75L361.75 201.2H361.25L361.25 201.2H360.75L360.75 201.2H360.25L360.25 201.2H359.75L359.75 201.3H359.25L359.25 201.2H358.75L358.75 201.4H358.25L358.25 201.4H357.75L357.75 201.4H357.25L357.25 201.2H356.75L356.75 201.4H356.25L356.25 201.2H355.75L355.75 201.5H355.25L355.25 201.2H354.75L354.75 201.3H354.25L354.25 201.2H353.75L353.75 201.5H353.25L353.25 201.4H352.75L352.75 201.2H352.25L352.25 201.3H351.75L351.75 201.5H351.25L351.25 201.3H350.75L350.75 201.4H350.25L350.25 201.5H349.75L349.75 201.2H349.25L349.25 201.3H348.75L348.75 201.4H348.25L348.25 201.2H347.75L347.75 201.3H347.25L347.25 201.2H346.75L346.75 201.2H346.25L346.25 201.3H345.75L345.75 201.5H345.25L345.25 201.3H344.75L344.75 201.4H344.25L344.25 201.4H343.75L343.75 201.3H343.25L343.25 201.5H342.75L342.75 201.2H342.25L342.25 201.2H341.75L341.75 201.3H341.25L341.25 201.3H340.75L340.75 201.3H340.25L340.25 201.3H339.75L339.75 201.3H339.25L339.25 201.4H338.75L338.75 201.2H338.25L338.25 201.5H337.75L337.75 201.3H337.25L337.25 201.4H336.75L336.75 201.2H336.25L336.25 201.2H335.75L335.75 201.3H335.25L335.25 201.4H334.75L334.75 201.4H334.25L334.25 201.4H333.75L333.75 201.2H333.25L333.25 201.5H332.75L332.75 201.4H332.25L332.25 201.4H331.75L331.75 201.5H331.25L331.25 201.5H330.75L330.75 201.4H330.25L330.25 201.2H329.75L329.75 201.4H329.25L329.25 201.3H328.75L328.75 201.5H328.25L328.25 201.3H327.75L327.75 201.2H327.25L327.25 201.2H326.75L326.75 201.2H326.25L326.25 201.2H325.75L325.75 201.3H325.25L325.25 201.4H324.75L324.75 201.2H324.25L324.25 201.2H323.75L323.75 201.3H323.25L323.25 201.3H322.75L322.75 201.4H322.25L322.25 201.4H321.75L321.75 201.5H321.25L321.25 201.2H320.75L320.75 201.5H320.25L320.25 201.2H319.75L319.75 201.5H319.25L319.25 201.2H318.75L318.75 201.5H318.25L318.25 201.4H317.75L317.75 201.5H317.25L317.25 201.3H316.75L316.75 201.3H316.25L316.25 201.3H315.75L315.75 201.5H315.25L315.25 201.3H314.75L314.75 201.4H314.25L314.25 201.3H313.75L313.75 201.3H313.25L313.25 201.3H312.75L312.75 201.3H312.25L312.25 201.2H311.75L311.75 201.3H311.25L311.25 201.3H310.75L310.75 201.4H310.25L310.25 201.3H309.75L309.75 201.3H309.25L309.25 201.2H308.75L308.75 201.5H308.25L308.25 201.4H307.75L307.75 201.4H307.25L307.25 201.4H306.75L306.75 201.3H306.25L306.25 201.3H305.75L305.75 201.2H305.25L305.25 201.5H304.75L304.75 201.3H304.25L304.25 201.4H303.75L303.75 201.4H303.25L303.25 201.2H302.75L302.75 201.5H302.25L302.25 201.2H301.75L301.75 201.3H301.25L301.25 201.3H300.75L300.75 201.4H300.25L300.25 201.3H299.75L299.75 201.3H299.25L299.25 201.3H298.75L298.75 201.3H298.25L298.25 201.4H297.75L297.75 201.4H297.25L297.25 201.3H296.75L296.75 201.5H296.25L296.25 201.5H295.75L295.75 201.2H295.25L295.25 201.2H294.75L294.75 201.3H294.25L294.25 201.3H293.75L293.75 201.5H293.25L293.25 201.3H292.75L292.75 201.4H292.25L292.25 201.4H291.75L291.75 201.5H291.25L291.25 201.2H290.75L290.75 201.5H290.25L290.25 201.2H289.75L289.75 201.3H289.25L289.25 201.3H288.75L288.75 201.3H288.25L288.25 201.4H287.75L287.75 201.3H287.25L287.25 201.4H286.75L286.75 201.2H286.25L286.25 201.3H285.75L285.75 201.4H285.25L285.25 201.2H284.75L284.75 201.3H284.25L284.25 201.2H283.75L283.75 201.4H283.25L283.25 201.2H282.75L282.75 201.3H282.25L282.25 201.3H281.75L281.75 201.3H281.25L281.25 201.3H280.75L280.75 201.3H280.25L280.25 201.3H279.75L279.75 201.3H279.25L279.25 201.3H278.75L278.75 201.3H278.25L278.25 201.4H277.75L277.75 201.5H277.25L277.25 201.5H276.75L276.75 201.4H276.25L276.25 201.4H275.75L275.75 201.4H275.25L275.25 201.4H274.75L274.75 201.3H274.25L274.25 201.5H273.75L273.75 201.2H273.25L273.25 201.3H272.75L272.75 201.5H272.25L272.25 201.3H271.75L271.75 201.4H271.25L271.25 201.3H270.75L270.75 201.4H270.25L270.25 201.5H269.75L269.75 201.4H269.25L269.25 201.4H268.75L268.75 201.3H268.25L268.25 201.4H267.75L267.75 201.2H267.25L267.25 201.3H266.75L266.75 201.5H266.25L266.25 201.5H265.75L265.75 201.3H265.25L265.25 201.4H264.75L264.75 201.3H264.25L264.25 201.2H263.75L263.75 201.5H263.25L263.25 201.2H262.75L262.75 201.3H262.25L262.25 201.2H261.75L261.75 201.5H261.25L261.25 201.3H260.75L260.75 201.4H260.25L260.25 201.3H259.75L259.75 201.3H259.25L259.25 201.3H258.75L258.75 201.3H258.25L258.25 201.3H257.75L257.75 201.4H257.25L257.25 201.4H256.75L256.75 201.5H256.25L256.25 201.3H255.75L255.75 201.4H255.25L255.25 201.3H254.75L254.75 201.3H254.25L254.25 201.4H253.75L253.75 201.2H253.25L253.25 201.3H252.75L252.75 201.4H252.25L252.25 201.4H251.75L251.75 201.3H251.25L251.25 201.3H250.75L250.75 201.3H250.25L250.25 201.4H249.75L249.75 201.3H249.25L249.25 201.5H248.75L248.75 201.5H248.25L248.25 201.3H247.75L247.75 201.5H247.25L247.25 201.5H246.75L246.75 201.2H246.25L246.25 201.3H245.75L245.75 201.4H245.25L245.25 201.4H244.75L244.75 201.3H244.25L244.25 201.2H243.75L243.75 201.4H243.25L243.25 201.3H242.75L242.75 201.5H242.25L242.25 201.5H241.75L241.75 201.2H241.25L241.25 201.3H240.75L240.75 201.4H240.25L240.25 201.4H239.75L239.75 201.4H239.25L239.25 201.3H238.75L238.75 201.4H238.25L238.25 201.3H237.75L237.75 201.5H237.25L237.25 201.3H236.75L236.75 201.3H236.25L236.25 201.5H235.75L235.75 201.4H235.25L235.25 201.4H234.75L234.75 201.4H234.25L234.25 201.3H233.75L233.75 201.3H233.25L233.25 201.3H232.75L232.75 201.3H232.25L232.25 201.3H231.75L231.75 201.4H231.25L231.25 201.3H230.75L230.75 201.3H230.25L230.25 201.5H229.75L229.75 201.4H229.25L229.25 201.5H228.75L228.75 201.4H228.25L228.25 201.5H227.75L227.75 201.5H227.25L227.25 201.2H226.75L226.75 201.4H226.25L226.25 201.3H225.75L225.75 201.2H225.25L225.25 201.4H224.75L224.75 201.5H224.25L224.25 201.3H223.75L223.75 201.5H223.25L223.25 201.3H222.75L222.75 201.3H222.25L222.25 201.5H221.75L221.75 201.4H221.25L221.25 201.3H220.75L220.75 201.4H220.25L220.25 201.2H219.75L219.75 201.3H219.25L219.25 201.2H218.75L218.75 201.2H218.25L218.25 201.5H217.75L217.75 201.3H217.25L217.25 201.4H216.75L216.75 201.2H216.25L216.25 201.5H215.75L215.75 201.5H215.25L215.25 201.4H214.75L214.75 201.2H214.25L214.25 201.3H213.75L213.75 201.3H213.25L213.25 201.3H212.75L212.75 201.2H212.25L212.25 201.4H211.75L211.75 201.5H211.25L211.25 201.5H210.75L210.75 201.4H210.25L210.25 201.4H209.75L209.75 201.5H209.25L209.25 201.5H208.75L208.75 201.3H208.25L208.25 201.5H207.75L207.75 201.5H207.25L207.25 201.3H206.75L206.75 201.5H206.25L206.25 201.5H205.75L205.75 201.5H205.25L205.25 201.4H204.75L204.75 201.3H204.25L204.25 201.3H203.75L203.75 201.5H203.25L203.25 201.3H202.75L202.75 201.4H202.25L202.25 201.4H201.75L201.75 201.4H201.25L201.25 201.2H200.75L200.75 201.3H200.25L200.25 201.3H199.75L199.75 201.3H199.25L199.25 201.5H198.75L198.75 201.3H198.25L198.25 201.3H197.75L197.75 201.3H197.25L197.25 201.2H196.75L196.75 201.3H196.25L196.25 201.3H195.75L195.75 201.5H195.25L195.25 201.5H194.75L194.75 201.5H194.25L194.25 201.3H193.75L193.75 201.5H193.25L193.25 201.4H192.75L192.75 201.3H192.25L192.25 201.3H191.75L191.75 201.3H191.25L191.25 201.5H190.75L190.75 201.2H190.25L190.25 201.5H189.75L189.75 201.3H189.25L189.25 201.4H188.75L188.75 201.3H188.25L188.25 201.2H187.75L187.75 201.5H187.25L187.25 201.4H186.75L186.75 201.3H186.25L186.25 201.3H185.75L185.75 201.5H185.25L185.25 201.5H184.75L184.75 201.5H184.25L184.25 201.3H183.75L183.75 201.2H183.25L183.25 201.3H182.75L182.75 201.3H182.25L182.25 201.5H181.75L181.75 201.5H181.25L181.25 201.3H180.75L180.75 201.3H180.25L180.25 201.3H179.75L179.75 201.5H179.25L179.25 201.3H178.75L178.75 201.4H178.25L178.25 201.4H177.75L177.75 201.2H177.25L177.25 201.5H176.75L176.75 201.4H176.25L176.25 201.5H175.75L175.75 201.3H175.25L175.25 201.5H174.75L174.75 201.3H174.25L174.25 201.3H173.75L173.75 201.3H173.25L173.25 201.4H172.75L172.75 201.3H172.25L172.25 201.3H171.75L171.75 201.4H171.25L171.25 201.4H170.75L170.75 201.5H170.25L170.25 201.3H169.75L169.75 201.4H169.25L169.25 201.3H168.75L168.75 201.4H168.25L168.25 201.5H167.75L167.75 201.3H167.25L167.25 201.3H166.75L166.75 201.3H166.25L166.25 201.2H165.75L165.75 201.3H165.25L165.25 201.3H164.75L164.75 201.5H164.25L164.25 201.5H163.75L163.75 201.3H163.25L163.25 201.4H162.75L162.75 201.4H162.25L162.25 201.3H161.75L161.75 201.3H161.25L161.25 201.5H160.75L160.75 201.6H160.25L160.25 201.7H159.75L159.75 201.7H159.25L159.25 201.9H158.75L158.75 201.7H158.25L158.25 201.9H157.75L157.75 201.5H157.25L157.25 201.4H156.75L156.75 201.3H156.25L156.25 201.4H155.75L155.75 201.2H155.25L155.25 201.3H154.75L154.75 201.4H154.25L154.25 201.2H153.75L153.75 201.1H153.25L153.25 201.2H152.75L152.75 201.3H152.25L152.25 201.1H151.75L151.75 201.2H151.25L151.25 201.2H150.75L150.75 201.4H150.25L150.25 201.3H149.75L149.75 201.3H149.25L149.25 201.3H148.75L148.75 201.3H148.25L148.25 201.2H147.75L147.75 201.1H147.25L147.25 201.1H146.75L146.75 201.2H146.25L146.25 201.2H145.75L145.75 201.2H145.25L145.25 201.1H144.75L144.75 201.2H144.25L144.25 201.1H143.75L143.75 201.3H143.25L143.25 201.4H142.75L142.75 201.1H142.25L142.25 201.4H141.75L141.75 201.3H141.25L141.25 201.1H140.75L140.75 201.4H140.25L140.25 201.1H139.75L139.75 201.2H139.25L139.25 201.3H138.75L138.75 201.2H138.25L138.25 201.3H137.75L137.75 201.4H137.25L137.25 201.2H136.75L136.75 201.1H136.25L136.25 201.1H135.75L135.75 201.3H135.25L135.25 201.1H134.75L134.75 201.2H134.25L134.25 201.1H133.75L133.75 201.3H133.25L133.25 201.3H132.75L132.75 201.1H132.25L132.25 201.2H131.75L131.75 201.1H131.25L131.25 201.2H130.75L130.75 201.2H130.25L130.25 201.3H129.75L129.75 201.1H129.25L129.25 201.4H128.75L128.75 201.1H128.25L128.25 201.2H127.75L127.75 201.3H127.25L127.25 201.4H126.75L126.75 201.2H126.25L126.25 201.4H125.75L125.75 201.1H125.25L125.25 201.2H124.75L124.75 201.2H124.25L124.25 201.1H123.75L123.75 201.2H123.25L123.25 201.2H122.75L122.75 201.1H122.25L122.25 201.4H121.75L121.75 201.1H121.25L121.25 201.3H120.75L120.75 201.3H120.25L120.25 201.2H119.75L119.75 201.3H119.25L119.25 201.1H118.75L118.75 201.3H118.25L118.25 201.2H117.75L117.75 201.3H117.25L117.25 201.4H116.75L116.75 201.4H116.25L116.25 201.4H115.75L115.75 201.4H115.25L115.25 201.3H114.75L114.75 201.3H114.25L114.25 201.2H113.75L113.75 201.2H113.25L113.25 201.2H112.75L112.75 201.3H112.25L112.25 201.1H111.75L111.75 201.3H111.25L111.25 201.3H110.75L110.75 201.2H110.25L110.25 201.4H109.75L109.75 201.3H109.25L109.25 201.4H108.75L108.75 201.2H108.25L108.25 201.2H107.75L107.75 201.3H107.25L107.25 201.3H106.75L106.75 201.3H106.25L106.25 201.4H105.75L105.75 201.2H105.25L105.25 201.4H104.75L104.75 201.4H104.25L104.25 201.4H103.75L103.75 201.3H103.25L103.25 201.3H102.75L102.75 201.3H102.25L102.25 201.2H101.75L101.75 201.3H101.25L101.25 201.4H100.75L100.75 201.3H100.25L100.25 201.4H99.75L99.75 201.5H99.25L99.25 201.3H98.75L98.75 201.2H98.25L98.25 201.2H97.75L97.75 201.2H97.25L97.25 201.3H96.75L96.75 201.3H96.25L96.25 201.3H95.75L95.75 201.4H95.25L95.25 201.4H94.75L94.75 201.4H94.25L94.25 201.3H93.75L93.75 201.4H93.25L93.25 201.5H92.75L92.75 201.4H92.25L92.25 201.5H91.75L91.75 201.4H91.25L91.25 201.3H90.75L90.75 201.3H90.25L90.25 201.4H89.75L89.75 201.6H89.25L89.25 201.4H88.75L88.75 201.5H88.25L88.25 201.3H87.75L87.75 201.5H87.25L87.25 201.4H86.75L86.75 201.3H86.25L86.25 201.5H85.75L85.75 201.6H85.25L85.25 201.6H84.75L84.75 202.0H84.25L84.25 201.9H83.75L83.75 201.8H83.25L83.25 201.9H82.75L82.75 201.8H82.25L82.25 201.9H81.75L81.75 201.4H81.25L81.25 201.5H80.75L80.75 201.4H80.25L80.25 201.4H79.75L79.75 201.6H79.25L79.25 201.4H78.75L78.75 201.4H78.25L78.25 201.7H77.75L77.75 201.4H77.25L77.25 201.5H76.75L76.75 201.5H76.25L76.25 201.4H75.75L75.75 201.5H75.25L75.25 201.7H74.75L74.75 201.5H74.25L74.25 201.5H73.75L73.75 201.6H73.25L73.25 201.6H72.75L72.75 201.6H72.25L72.25 201.5H71.75L71.75 201.5H71.25L71.25 201.6H70.75L70.75 201.6H70.25L70.25 201.5H69.75L69.75 201.5H69.25L69.25 201.5H68.75L68.75 201.6H68.25L68.25 201.7H67.75L67.75 201.5H67.25L67.25 201.6H66.75L66.75 201.7H66.25L66.25 201.6H65.75L65.75 201.7H65.25L65.25 201.5H64.75L64.75 201.8H64.25L64.25 201.6H63.75L63.75 201.7H63.25L63.25 201.5H62.75L62.75 201.7H62.25L62.25 201.8H61.75L61.75 201.7H61.25L61.25 201.6H60.75L60.75 201.6H60.25L60.25 201.6H59.75L59.75 201.7H59.25L59.25 201.6H58.75L58.75 201.7H58.25L58.25 201.7H57.75L57.75 201.6H57.25Z" fill="#E85512" stroke="none"/>
<text class="tk" x="56.50" y="259.25" text-anchor="middle">0</text>
<text class="tk" x="115.58" y="259.25" text-anchor="middle">50</text>
<text class="tk" x="174.67" y="259.25" text-anchor="middle">100</text>
<text class="tk" x="233.75" y="259.25" text-anchor="middle">150</text>
<text class="tk" x="292.83" y="259.25" text-anchor="middle">200</text>
<text class="tk" x="351.92" y="259.25" text-anchor="middle">250</text>
<text class="tk" x="411.00" y="259.25" text-anchor="middle">300</text>
<text class="tk" x="51.8" y="163.40" text-anchor="end">0.05</text>
<text class="tk" x="51.8" y="204.30" text-anchor="end">0</text>
<text class="tk" x="51.8" y="245.20" text-anchor="end">-0.05</text>
<text class="lb" x="234.25" y="273.25" text-anchor="middle">Time, s</text>
<text class="lb" transform="translate(22.3 201.17) rotate(-90)" text-anchor="middle">d(i), e(i)</text>
<text class="tt" x="233.85" y="154.55" text-anchor="middle">Error 5, LNLMS algorithm, attenuation 20.6 dB</text>
<rect x="294.6" y="164.10" width="108.1" height="24.20" fill="#fff" stroke="#3a3a3a" stroke-width="0.75"/>
<path d="M297.8 170.95H329" stroke="#0072BD" stroke-width="0.6"/>
<path d="M297.8 181.90H329" stroke="#E85512" stroke-width="0.6"/>
<text class="lg" x="332.3" y="174.15">Primary noise</text>
<text class="lg" x="332.3" y="184.95">Attenuated signal</text>
</g>
<g id="ax3">
<rect x="56.5" y="290.96" width="354.5" height="86.39000000000004" fill="none" stroke="#585858" stroke-width="1.1"/>
<path d="M115.58 377.35v-3.5M115.58 290.96v3.5M174.67 377.35v-3.5M174.67 290.96v3.5M233.75 377.35v-3.5M233.75 290.96v3.5M292.83 377.35v-3.5M292.83 290.96v3.5M351.92 377.35v-3.5M351.92 290.96v3.5M56.5 292.60h3.5M411.0 292.60h-3.5M56.5 333.50h3.5M411.0 333.50h-3.5M56.5 374.40h3.5M411.0 374.40h-3.5" stroke="#585858" stroke-width="0.6" fill="none"/>
<path d="M57.25 316.1H57.75L57.75 315.9H58.25L58.25 316.2H58.75L58.75 316.5H59.25L59.25 316.3H59.75L59.75 316.6H60.25L60.25 316.0H60.75L60.75 315.3H61.25L61.25 316.3H61.75L61.75 316.3H62.25L62.25 315.8H62.75L62.75 315.8H63.25L63.25 315.9H63.75L63.75 316.5H64.25L64.25 316.0H64.75L64.75 315.6H65.25L65.25 316.7H65.75L65.75 316.2H66.25L66.25 317.0H66.75L66.75 316.6H67.25L67.25 316.9H67.75L67.75 316.1H68.25L68.25 316.6H68.75L68.75 315.8H69.25L69.25 315.8H69.75L69.75 316.0H70.25L70.25 317.2H70.75L70.75 316.2H71.25L71.25 315.9H71.75L71.75 315.8H72.25L72.25 316.7H72.75L72.75 316.1H73.25L73.25 316.4H73.75L73.75 316.3H74.25L74.25 315.3H74.75L74.75 316.3H75.25L75.25 315.9H75.75L75.75 315.4H76.25L76.25 316.2H76.75L76.75 315.9H77.25L77.25 315.8H77.75L77.75 315.8H78.25L78.25 316.4H78.75L78.75 315.6H79.25L79.25 314.9H79.75L79.75 316.4H80.25L80.25 315.0H80.75L80.75 315.3H81.25L81.25 315.7H81.75L81.75 314.2H82.25L82.25 314.8H82.75L82.75 315.8H83.25L83.25 315.1H83.75L83.75 314.8H84.25L84.25 315.2H84.75L84.75 314.8H85.25L85.25 315.2H85.75L85.75 314.7H86.25L86.25 314.3H86.75L86.75 315.5H87.25L87.25 315.0H87.75L87.75 315.3H88.25L88.25 315.0H88.75L88.75 315.7H89.25L89.25 315.4H89.75L89.75 315.1H90.25L90.25 314.5H90.75L90.75 314.4H91.25L91.25 315.7H91.75L91.75 315.4H92.25L92.25 314.6H92.75L92.75 316.1H93.25L93.25 315.2H93.75L93.75 315.0H94.25L94.25 314.3H94.75L94.75 314.6H95.25L95.25 315.1H95.75L95.75 315.1H96.25L96.25 315.1H96.75L96.75 314.1H97.25L97.25 315.1H97.75L97.75 315.1H98.25L98.25 314.7H98.75L98.75 314.9H99.25L99.25 315.0H99.75L99.75 315.5H100.25L100.25 314.9H100.75L100.75 315.1H101.25L101.25 314.2H101.75L101.75 314.5H102.25L102.25 314.8H102.75L102.75 314.4H103.25L103.25 315.0H103.75L103.75 314.2H104.25L104.25 314.8H104.75L104.75 314.4H105.25L105.25 315.5H105.75L105.75 314.6H106.25L106.25 315.7H106.75L106.75 315.9H107.25L107.25 314.9H107.75L107.75 315.2H108.25L108.25 314.6H108.75L108.75 313.4H109.25L109.25 315.2H109.75L109.75 315.0H110.25L110.25 314.6H110.75L110.75 314.4H111.25L111.25 314.7H111.75L111.75 314.7H112.25L112.25 314.2H112.75L112.75 314.3H113.25L113.25 315.2H113.75L113.75 314.6H114.25L114.25 314.6H114.75L114.75 315.2H115.25L115.25 314.4H115.75L115.75 315.0H116.25L116.25 314.0H116.75L116.75 314.4H117.25L117.25 314.5H117.75L117.75 314.8H118.25L118.25 314.6H118.75L118.75 315.6H119.25L119.25 315.1H119.75L119.75 314.2H120.25L120.25 315.7H120.75L120.75 313.9H121.25L121.25 315.4H121.75L121.75 314.0H122.25L122.25 314.9H122.75L122.75 313.9H123.25L123.25 314.3H123.75L123.75 315.2H124.25L124.25 313.6H124.75L124.75 313.5H125.25L125.25 314.4H125.75L125.75 314.5H126.25L126.25 314.4H126.75L126.75 314.8H127.25L127.25 313.6H127.75L127.75 314.6H128.25L128.25 314.3H128.75L128.75 314.7H129.25L129.25 314.6H129.75L129.75 315.0H130.25L130.25 313.5H130.75L130.75 314.3H131.25L131.25 313.7H131.75L131.75 314.2H132.25L132.25 314.6H132.75L132.75 314.4H133.25L133.25 314.5H133.75L133.75 314.2H134.25L134.25 314.4H134.75L134.75 314.3H135.25L135.25 314.9H135.75L135.75 314.6H136.25L136.25 313.2H136.75L136.75 314.5H137.25L137.25 314.7H137.75L137.75 313.9H138.25L138.25 313.3H138.75L138.75 314.9H139.25L139.25 314.2H139.75L139.75 314.4H140.25L140.25 315.1H140.75L140.75 313.6H141.25L141.25 314.1H141.75L141.75 314.0H142.25L142.25 314.5H142.75L142.75 313.8H143.25L143.25 314.3H143.75L143.75 314.1H144.25L144.25 314.7H144.75L144.75 314.7H145.25L145.25 313.2H145.75L145.75 314.3H146.25L146.25 313.8H146.75L146.75 314.0H147.25L147.25 314.2H147.75L147.75 314.3H148.25L148.25 313.6H148.75L148.75 314.1H149.25L149.25 314.0H149.75L149.75 313.9H150.25L150.25 313.2H150.75L150.75 313.5H151.25L151.25 313.7H151.75L151.75 314.2H152.25L152.25 314.7H152.75L152.75 313.3H153.25L153.25 313.2H153.75L153.75 313.7H154.25L154.25 313.0H154.75L154.75 312.7H155.25L155.25 312.4H155.75L155.75 312.1H156.25L156.25 312.7H156.75L156.75 311.2H157.25L157.25 312.8H157.75L157.75 311.2H158.25L158.25 311.2H158.75L158.75 310.7H159.25L159.25 309.8H159.75L159.75 309.8H160.25L160.25 311.4H160.75L160.75 311.5H161.25L161.25 309.6H161.75L161.75 310.6H162.25L162.25 309.7H162.75L162.75 308.8H163.25L163.25 310.4H163.75L163.75 310.5H164.25L164.25 308.6H164.75L164.75 308.5H165.25L165.25 308.5H165.75L165.75 308.0H166.25L166.25 308.5H166.75L166.75 308.8H167.25L167.25 307.5H167.75L167.75 308.1H168.25L168.25 308.6H168.75L168.75 306.9H169.25L169.25 307.3H169.75L169.75 307.0H170.25L170.25 308.0H170.75L170.75 307.8H171.25L171.25 308.0H171.75L171.75 307.9H172.25L172.25 307.1H172.75L172.75 307.8H173.25L173.25 306.9H173.75L173.75 306.9H174.25L174.25 305.6H174.75L174.75 308.3H175.25L175.25 306.5H175.75L175.75 307.2H176.25L176.25 307.1H176.75L176.75 308.3H177.25L177.25 307.5H177.75L177.75 306.5H178.25L178.25 307.2H178.75L178.75 307.0H179.25L179.25 307.3H179.75L179.75 306.1H180.25L180.25 307.1H180.75L180.75 308.8H181.25L181.25 307.6H181.75L181.75 308.6H182.25L182.25 309.6H182.75L182.75 307.4H183.25L183.25 305.9H183.75L183.75 306.9H184.25L184.25 307.9H184.75L184.75 307.7H185.25L185.25 306.0H185.75L185.75 306.8H186.25L186.25 306.9H186.75L186.75 307.0H187.25L187.25 306.9H187.75L187.75 306.3H188.25L188.25 306.5H188.75L188.75 306.7H189.25L189.25 307.7H189.75L189.75 306.5H190.25L190.25 307.5H190.75L190.75 306.0H191.25L191.25 307.9H191.75L191.75 307.0H192.25L192.25 306.9H192.75L192.75 308.0H193.25L193.25 305.5H193.75L193.75 305.8H194.25L194.25 307.3H194.75L194.75 306.3H195.25L195.25 306.6H195.75L195.75 309.0H196.25L196.25 306.7H196.75L196.75 307.0H197.25L197.25 306.8H197.75L197.75 307.8H198.25L198.25 307.1H198.75L198.75 307.1H199.25L199.25 306.0H199.75L199.75 306.6H200.25L200.25 306.9H200.75L200.75 305.7H201.25L201.25 307.4H201.75L201.75 307.2H202.25L202.25 308.4H202.75L202.75 305.7H203.25L203.25 306.1H203.75L203.75 306.2H204.25L204.25 306.4H204.75L204.75 306.8H205.25L205.25 306.7H205.75L205.75 307.1H206.25L206.25 307.1H206.75L206.75 306.9H207.25L207.25 305.7H207.75L207.75 306.5H208.25L208.25 307.0H208.75L208.75 307.4H209.25L209.25 307.4H209.75L209.75 305.6H210.25L210.25 306.5H210.75L210.75 306.9H211.25L211.25 307.2H211.75L211.75 307.8H212.25L212.25 307.0H212.75L212.75 306.2H213.25L213.25 307.2H213.75L213.75 307.1H214.25L214.25 307.1H214.75L214.75 306.8H215.25L215.25 308.2H215.75L215.75 307.1H216.25L216.25 307.6H216.75L216.75 306.2H217.25L217.25 307.5H217.75L217.75 306.5H218.25L218.25 305.7H218.75L218.75 307.2H219.25L219.25 307.4H219.75L219.75 306.8H220.25L220.25 306.9H220.75L220.75 307.7H221.25L221.25 306.5H221.75L221.75 305.3H222.25L222.25 307.1H222.75L222.75 307.1H223.25L223.25 307.7H223.75L223.75 306.7H224.25L224.25 307.9H224.75L224.75 307.8H225.25L225.25 305.9H225.75L225.75 307.6H226.25L226.25 306.1H226.75L226.75 305.7H227.25L227.25 306.7H227.75L227.75 306.5H228.25L228.25 305.4H228.75L228.75 307.1H229.25L229.25 307.4H229.75L229.75 308.0H230.25L230.25 306.9H230.75L230.75 305.7H231.25L231.25 306.1H231.75L231.75 307.7H232.25L232.25 307.6H232.75L232.75 307.3H233.25L233.25 306.7H233.75L233.75 307.1H234.25L234.25 306.7H234.75L234.75 306.7H235.25L235.25 307.2H235.75L235.75 306.9H236.25L236.25 306.8H236.75L236.75 307.0H237.25L237.25 306.5H237.75L237.75 305.4H238.25L238.25 306.4H238.75L238.75 306.9H239.25L239.25 308.3H239.75L239.75 306.6H240.25L240.25 308.5H240.75L240.75 308.0H241.25L241.25 306.2H241.75L241.75 306.4H242.25L242.25 307.0H242.75L242.75 308.3H243.25L243.25 307.2H243.75L243.75 307.5H244.25L244.25 306.4H244.75L244.75 305.1H245.25L245.25 306.7H245.75L245.75 307.5H246.25L246.25 307.8H246.75L246.75 307.0H247.25L247.25 307.1H247.75L247.75 307.8H248.25L248.25 306.8H248.75L248.75 307.8H249.25L249.25 306.0H249.75L249.75 306.1H250.25L250.25 306.0H250.75L250.75 307.3H251.25L251.25 306.5H251.75L251.75 307.0H252.25L252.25 307.2H252.75L252.75 307.2H253.25L253.25 308.0H253.75L253.75 308.1H254.25L254.25 306.3H254.75L254.75 307.1H255.25L255.25 306.7H255.75L255.75 306.1H256.25L256.25 308.3H256.75L256.75 307.5H257.25L257.25 306.8H257.75L257.75 306.6H258.25L258.25 307.2H258.75L258.75 306.1H259.25L259.25 306.7H259.75L259.75 307.9H260.25L260.25 307.7H260.75L260.75 306.3H261.25L261.25 306.5H261.75L261.75 308.4H262.25L262.25 305.8H262.75L262.75 306.4H263.25L263.25 305.8H263.75L263.75 307.2H264.25L264.25 307.2H264.75L264.75 307.8H265.25L265.25 304.9H265.75L265.75 307.1H266.25L266.25 305.6H266.75L266.75 307.4H267.25L267.25 306.8H267.75L267.75 308.2H268.25L268.25 307.2H268.75L268.75 306.1H269.25L269.25 307.9H269.75L269.75 306.1H270.25L270.25 306.6H270.75L270.75 307.7H271.25L271.25 307.3H271.75L271.75 307.3H272.25L272.25 307.0H272.75L272.75 307.3H273.25L273.25 307.6H273.75L273.75 307.2H274.25L274.25 307.7H274.75L274.75 307.9H275.25L275.25 307.0H275.75L275.75 306.2H276.25L276.25 308.1H276.75L276.75 306.9H277.25L277.25 307.4H277.75L277.75 307.7H278.25L278.25 306.2H278.75L278.75 307.3H279.25L279.25 305.7H279.75L279.75 307.5H280.25L280.25 306.6H280.75L280.75 307.1H281.25L281.25 307.5H281.75L281.75 306.4H282.25L282.25 307.0H282.75L282.75 306.4H283.25L283.25 307.0H283.75L283.75 307.8H284.25L284.25 307.0H284.75L284.75 306.9H285.25L285.25 306.2H285.75L285.75 307.6H286.25L286.25 306.9H286.75L286.75 308.3H287.25L287.25 306.4H287.75L287.75 307.8H288.25L288.25 308.4H288.75L288.75 307.0H289.25L289.25 306.0H289.75L289.75 308.1H290.25L290.25 307.8H290.75L290.75 307.5H291.25L291.25 307.8H291.75L291.75 306.6H292.25L292.25 307.6H292.75L292.75 307.5H293.25L293.25 306.4H293.75L293.75 307.5H294.25L294.25 306.6H294.75L294.75 307.7H295.25L295.25 307.9H295.75L295.75 308.4H296.25L296.25 305.4H296.75L296.75 307.2H297.25L297.25 306.7H297.75L297.75 306.9H298.25L298.25 306.8H298.75L298.75 306.9H299.25L299.25 305.4H299.75L299.75 307.7H300.25L300.25 308.2H300.75L300.75 307.7H301.25L301.25 308.0H301.75L301.75 306.3H302.25L302.25 306.3H302.75L302.75 307.7H303.25L303.25 308.0H303.75L303.75 307.2H304.25L304.25 305.8H304.75L304.75 309.2H305.25L305.25 306.5H305.75L305.75 307.8H306.25L306.25 306.1H306.75L306.75 307.8H307.25L307.25 307.1H307.75L307.75 308.1H308.25L308.25 307.7H308.75L308.75 305.8H309.25L309.25 306.3H309.75L309.75 307.2H310.25L310.25 307.6H310.75L310.75 308.4H311.25L311.25 307.2H311.75L311.75 306.9H312.25L312.25 307.0H312.75L312.75 307.0H313.25L313.25 307.8H313.75L313.75 307.0H314.25L314.25 306.9H314.75L314.75 305.9H315.25L315.25 305.4H315.75L315.75 307.0H316.25L316.25 307.5H316.75L316.75 307.0H317.25L317.25 307.4H317.75L317.75 307.5H318.25L318.25 307.0H318.75L318.75 307.7H319.25L319.25 306.4H319.75L319.75 307.0H320.25L320.25 306.7H320.75L320.75 307.1H321.25L321.25 307.5H321.75L321.75 307.7H322.25L322.25 307.1H322.75L322.75 307.4H323.25L323.25 306.7H323.75L323.75 306.9H324.25L324.25 308.0H324.75L324.75 306.9H325.25L325.25 308.0H325.75L325.75 307.4H326.25L326.25 307.1H326.75L326.75 308.6H327.25L327.25 306.8H327.75L327.75 306.8H328.25L328.25 307.0H328.75L328.75 307.3H329.25L329.25 307.2H329.75L329.75 307.7H330.25L330.25 307.1H330.75L330.75 307.4H331.25L331.25 306.8H331.75L331.75 307.9H332.25L332.25 306.7H332.75L332.75 306.8H333.25L333.25 307.0H333.75L333.75 307.3H334.25L334.25 306.5H334.75L334.75 308.2H335.25L335.25 306.5H335.75L335.75 306.7H336.25L336.25 306.7H336.75L336.75 306.6H337.25L337.25 307.4H337.75L337.75 307.1H338.25L338.25 306.4H338.75L338.75 306.6H339.25L339.25 306.8H339.75L339.75 308.1H340.25L340.25 306.5H340.75L340.75 306.0H341.25L341.25 306.1H341.75L341.75 306.7H342.25L342.25 308.2H342.75L342.75 306.2H343.25L343.25 307.0H343.75L343.75 308.9H344.25L344.25 306.6H344.75L344.75 308.1H345.25L345.25 307.9H345.75L345.75 307.4H346.25L346.25 305.9H346.75L346.75 307.2H347.25L347.25 306.7H347.75L347.75 305.5H348.25L348.25 305.6H348.75L348.75 307.0H349.25L349.25 307.1H349.75L349.75 307.9H350.25L350.25 307.5H350.75L350.75 306.6H351.25L351.25 306.6H351.75L351.75 306.8H352.25L352.25 306.1H352.75L352.75 307.5H353.25L353.25 307.0H353.75L353.75 306.3H354.25L354.25 306.4H354.75L354.75 306.1H355.25L355.25 306.6H355.75L355.75 307.2H356.25L356.25 306.6H356.75L356.75 307.7H357.25L357.25 308.2H357.75L357.75 306.5H358.25L358.25 307.0H358.75L358.75 306.7H359.25L359.25 308.3H359.75L359.75 307.2H360.25L360.25 307.4H360.75L360.75 307.6H361.25L361.25 308.7H361.75L361.75 307.2H362.25L362.25 306.2H362.75L362.75 306.6H363.25L363.25 307.4H363.75L363.75 306.9H364.25L364.25 306.3H364.75L364.75 309.1H365.25L365.25 307.0H365.75L365.75 306.5H366.25L366.25 306.4H366.75L366.75 305.6H367.25L367.25 306.0H367.75L367.75 306.7H368.25L368.25 306.7H368.75L368.75 306.3H369.25L369.25 307.3H369.75L369.75 306.9H370.25L370.25 306.2H370.75L370.75 305.4H371.25L371.25 307.0H371.75L371.75 307.0H372.25L372.25 306.8H372.75L372.75 305.8H373.25L373.25 306.9H373.75L373.75 305.7H374.25L374.25 307.7H374.75L374.75 307.1H375.25L375.25 307.1H375.75L375.75 306.3H376.25L376.25 306.1H376.75L376.75 308.1H377.25L377.25 307.6H377.75L377.75 306.6H378.25L378.25 307.4H378.75L378.75 308.1H379.25L379.25 306.1H379.75L379.75 306.5H380.25L380.25 306.5H380.75L380.75 307.3H381.25L381.25 306.1H381.75L381.75 307.1H382.25L382.25 306.0H382.75L382.75 307.6H383.25L383.25 307.6H383.75L383.75 306.8H384.25L384.25 307.5H384.75L384.75 306.4H385.25L385.25 306.7H385.75L385.75 307.7H386.25L386.25 306.9H386.75L386.75 307.2H387.25L387.25 306.2H387.75L387.75 307.4H388.25L388.25 307.3H388.75L388.75 305.9H389.25L389.25 305.1H389.75L389.75 305.3H390.25L390.25 306.9H390.75L390.75 306.7H391.25L391.25 305.7H391.75L391.75 307.0H392.25L392.25 307.7H392.75L392.75 306.8H393.25L393.25 306.6H393.75L393.75 307.6H394.25L394.25 308.2H394.75L394.75 308.1H395.25L395.25 306.4H395.75L395.75 307.5H396.25L396.25 307.0H396.75L396.75 306.7H397.25L397.25 306.4H397.75L397.75 307.2H398.25L398.25 306.5H398.75L398.75 307.6H399.25L399.25 307.2H399.75L399.75 358.5H399.25L399.25 358.4H398.75L398.75 357.3H398.25L398.25 357.0H397.75L397.75 358.3H397.25L397.25 358.3H396.75L396.75 357.1H396.25L396.25 357.2H395.75L395.75 357.8H395.25L395.25 359.3H394.75L394.75 357.8H394.25L394.25 357.9H393.75L393.75 358.7H393.25L393.25 357.5H392.75L392.75 356.9H392.25L392.25 359.5H391.75L391.75 358.3H391.25L391.25 358.2H390.75L390.75 356.8H390.25L390.25 357.0H389.75L389.75 356.7H389.25L389.25 357.7H388.75L388.75 357.1H388.25L388.25 357.1H387.75L387.75 357.5H387.25L387.25 358.1H386.75L386.75 357.1H386.25L386.25 357.5H385.75L385.75 358.3H385.25L385.25 358.3H384.75L384.75 358.7H384.25L384.25 358.2H383.75L383.75 357.9H383.25L383.25 357.1H382.75L382.75 359.0H382.25L382.25 357.3H381.75L381.75 358.4H381.25L381.25 358.9H380.75L380.75 358.5H380.25L380.25 360.0H379.75L379.75 358.7H379.25L379.25 356.8H378.75L378.75 357.8H378.25L378.25 358.0H377.75L377.75 359.3H377.25L377.25 359.1H376.75L376.75 357.0H376.25L376.25 358.2H375.75L375.75 358.2H375.25L375.25 359.1H374.75L374.75 358.2H374.25L374.25 357.4H373.75L373.75 356.1H373.25L373.25 358.1H372.75L372.75 358.5H372.25L372.25 357.5H371.75L371.75 358.8H371.25L371.25 356.8H370.75L370.75 358.6H370.25L370.25 357.9H369.75L369.75 358.6H369.25L369.25 358.1H368.75L368.75 357.3H368.25L368.25 358.2H367.75L367.75 356.7H367.25L367.25 359.2H366.75L366.75 358.0H366.25L366.25 357.6H365.75L365.75 358.1H365.25L365.25 358.0H364.75L364.75 357.8H364.25L364.25 357.9H363.75L363.75 358.7H363.25L363.25 359.2H362.75L362.75 358.4H362.25L362.25 358.9H361.75L361.75 357.4H361.25L361.25 359.1H360.75L360.75 356.9H360.25L360.25 357.1H359.75L359.75 356.9H359.25L359.25 358.1H358.75L358.75 359.1H358.25L358.25 358.7H357.75L357.75 358.3H357.25L357.25 359.0H356.75L356.75 358.4H356.25L356.25 358.3H355.75L355.75 357.6H355.25L355.25 357.5H354.75L354.75 358.2H354.25L354.25 358.9H353.75L353.75 358.6H353.25L353.25 358.5H352.75L352.75 357.9H352.25L352.25 357.9H351.75L351.75 359.0H351.25L351.25 357.4H350.75L350.75 360.0H350.25L350.25 357.9H349.75L349.75 358.2H349.25L349.25 357.5H348.75L348.75 358.5H348.25L348.25 358.1H347.75L347.75 357.3H347.25L347.25 357.6H346.75L346.75 358.5H346.25L346.25 357.4H345.75L345.75 358.3H345.25L345.25 358.1H344.75L344.75 357.0H344.25L344.25 357.6H343.75L343.75 359.4H343.25L343.25 357.1H342.75L342.75 357.6H342.25L342.25 358.8H341.75L341.75 358.1H341.25L341.25 357.2H340.75L340.75 357.6H340.25L340.25 357.4H339.75L339.75 356.1H339.25L339.25 358.2H338.75L338.75 358.7H338.25L338.25 358.6H337.75L337.75 358.1H337.25L337.25 358.4H336.75L336.75 359.0H336.25L336.25 357.2H335.75L335.75 357.7H335.25L335.25 358.6H334.75L334.75 357.6H334.25L334.25 358.2H333.75L333.75 357.8H333.25L333.25 356.8H332.75L332.75 358.4H332.25L332.25 358.9H331.75L331.75 358.8H331.25L331.25 358.8H330.75L330.75 358.8H330.25L330.25 358.4H329.75L329.75 358.1H329.25L329.25 357.7H328.75L328.75 357.4H328.25L328.25 357.7H327.75L327.75 358.8H327.25L327.25 358.4H326.75L326.75 356.8H326.25L326.25 358.1H325.75L325.75 358.9H325.25L325.25 357.0H324.75L324.75 356.8H324.25L324.25 357.3H323.75L323.75 356.8H323.25L323.25 357.9H322.75L322.75 359.2H322.25L322.25 358.3H321.75L321.75 357.7H321.25L321.25 358.2H320.75L320.75 357.3H320.25L320.25 357.8H319.75L319.75 357.8H319.25L319.25 358.6H318.75L318.75 358.5H318.25L318.25 357.9H317.75L317.75 357.2H317.25L317.25 356.6H316.75L316.75 357.6H316.25L316.25 357.5H315.75L315.75 358.0H315.25L315.25 356.9H314.75L314.75 358.5H314.25L314.25 357.8H313.75L313.75 357.8H313.25L313.25 358.9H312.75L312.75 358.7H312.25L312.25 358.7H311.75L311.75 358.6H311.25L311.25 357.5H310.75L310.75 358.5H310.25L310.25 358.4H309.75L309.75 358.0H309.25L309.25 357.5H308.75L308.75 357.3H308.25L308.25 357.8H307.75L307.75 356.5H307.25L307.25 357.8H306.75L306.75 357.9H306.25L306.25 357.8H305.75L305.75 357.3H305.25L305.25 357.6H304.75L304.75 358.0H304.25L304.25 357.6H303.75L303.75 356.3H303.25L303.25 359.1H302.75L302.75 357.0H302.25L302.25 356.5H301.75L301.75 357.7H301.25L301.25 357.4H300.75L300.75 358.2H300.25L300.25 357.9H299.75L299.75 357.6H299.25L299.25 357.1H298.75L298.75 357.9H298.25L298.25 358.3H297.75L297.75 357.2H297.25L297.25 356.7H296.75L296.75 357.3H296.25L296.25 357.5H295.75L295.75 358.6H295.25L295.25 358.2H294.75L294.75 357.7H294.25L294.25 357.8H293.75L293.75 357.2H293.25L293.25 359.6H292.75L292.75 357.9H292.25L292.25 357.8H291.75L291.75 357.2H291.25L291.25 357.9H290.75L290.75 357.1H290.25L290.25 357.4H289.75L289.75 358.3H289.25L289.25 358.1H288.75L288.75 357.9H288.25L288.25 358.8H287.75L287.75 359.6H287.25L287.25 358.6H286.75L286.75 357.8H286.25L286.25 358.1H285.75L285.75 359.1H285.25L285.25 357.3H284.75L284.75 356.9H284.25L284.25 358.3H283.75L283.75 358.6H283.25L283.25 357.8H282.75L282.75 356.4H282.25L282.25 357.3H281.75L281.75 356.2H281.25L281.25 357.3H280.75L280.75 358.7H280.25L280.25 357.3H279.75L279.75 357.9H279.25L279.25 357.3H278.75L278.75 357.5H278.25L278.25 357.3H277.75L277.75 357.8H277.25L277.25 358.8H276.75L276.75 357.0H276.25L276.25 358.4H275.75L275.75 357.6H275.25L275.25 357.7H274.75L274.75 357.9H274.25L274.25 358.1H273.75L273.75 358.2H273.25L273.25 358.1H272.75L272.75 358.6H272.25L272.25 357.7H271.75L271.75 357.2H271.25L271.25 357.8H270.75L270.75 356.9H270.25L270.25 357.5H269.75L269.75 357.5H269.25L269.25 358.4H268.75L268.75 357.4H268.25L268.25 357.7H267.75L267.75 357.4H267.25L267.25 357.7H266.75L266.75 358.0H266.25L266.25 358.4H265.75L265.75 359.6H265.25L265.25 358.0H264.75L264.75 356.7H264.25L264.25 359.5H263.75L263.75 359.3H263.25L263.25 357.3H262.75L262.75 358.1H262.25L262.25 358.4H261.75L261.75 357.3H261.25L261.25 357.1H260.75L260.75 358.0H260.25L260.25 357.9H259.75L259.75 357.3H259.25L259.25 357.8H258.75L258.75 356.2H258.25L258.25 358.6H257.75L257.75 357.6H257.25L257.25 358.0H256.75L256.75 357.9H256.25L256.25 357.6H255.75L255.75 357.6H255.25L255.25 357.0H254.75L254.75 356.0H254.25L254.25 358.9H253.75L253.75 356.6H253.25L253.25 357.7H252.75L252.75 357.1H252.25L252.25 357.2H251.75L251.75 358.6H251.25L251.25 358.4H250.75L250.75 356.9H250.25L250.25 358.6H249.75L249.75 359.1H249.25L249.25 358.1H248.75L248.75 357.3H248.25L248.25 358.3H247.75L247.75 356.1H247.25L247.25 357.3H246.75L246.75 356.6H246.25L246.25 357.0H245.75L245.75 357.5H245.25L245.25 358.4H244.75L244.75 358.4H244.25L244.25 357.3H243.75L243.75 357.2H243.25L243.25 358.5H242.75L242.75 357.5H242.25L242.25 357.1H241.75L241.75 357.0H241.25L241.25 358.6H240.75L240.75 359.5H240.25L240.25 357.8H239.75L239.75 356.8H239.25L239.25 357.6H238.75L238.75 357.2H238.25L238.25 357.5H237.75L237.75 358.4H237.25L237.25 357.5H236.75L236.75 356.3H236.25L236.25 359.0H235.75L235.75 357.7H235.25L235.25 358.4H234.75L234.75 357.6H234.25L234.25 358.2H233.75L233.75 357.0H233.25L233.25 357.8H232.75L232.75 357.9H232.25L232.25 359.0H231.75L231.75 358.2H231.25L231.25 357.7H230.75L230.75 357.5H230.25L230.25 358.0H229.75L229.75 356.7H229.25L229.25 358.2H228.75L228.75 357.0H228.25L228.25 358.9H227.75L227.75 357.0H227.25L227.25 356.3H226.75L226.75 357.0H226.25L226.25 356.5H225.75L225.75 356.7H225.25L225.25 357.9H224.75L224.75 357.6H224.25L224.25 357.2H223.75L223.75 357.2H223.25L223.25 358.0H222.75L222.75 356.1H222.25L222.25 357.6H221.75L221.75 356.4H221.25L221.25 357.5H220.75L220.75 357.8H220.25L220.25 357.8H219.75L219.75 358.0H219.25L219.25 357.4H218.75L218.75 357.2H218.25L218.25 358.4H217.75L217.75 359.0H217.25L217.25 358.0H216.75L216.75 359.2H216.25L216.25 357.4H215.75L215.75 358.0H215.25L215.25 358.0H214.75L214.75 357.1H214.25L214.25 358.0H213.75L213.75 357.4H213.25L213.25 358.5H212.75L212.75 357.1H212.25L212.25 357.8H211.75L211.75 357.6H211.25L211.25 357.5H210.75L210.75 357.5H210.25L210.25 358.5H209.75L209.75 358.1H209.25L209.25 357.6H208.75L208.75 357.7H208.25L208.25 358.5H207.75L207.75 357.6H207.25L207.25 358.4H206.75L206.75 358.1H206.25L206.25 357.7H205.75L205.75 356.6H205.25L205.25 357.0H204.75L204.75 357.0H204.25L204.25 358.0H203.75L203.75 357.0H203.25L203.25 357.5H202.75L202.75 358.4H202.25L202.25 356.9H201.75L201.75 358.2H201.25L201.25 356.1H200.75L200.75 358.4H200.25L200.25 357.6H199.75L199.75 358.2H199.25L199.25 358.0H198.75L198.75 357.6H198.25L198.25 358.2H197.75L197.75 358.3H197.25L197.25 358.2H196.75L196.75 357.0H196.25L196.25 356.3H195.75L195.75 358.9H195.25L195.25 359.0H194.75L194.75 357.4H194.25L194.25 358.3H193.75L193.75 357.1H193.25L193.25 359.3H192.75L192.75 358.1H192.25L192.25 358.5H191.75L191.75 358.3H191.25L191.25 357.8H190.75L190.75 358.5H190.25L190.25 357.4H189.75L189.75 357.3H189.25L189.25 357.7H188.75L188.75 357.7H188.25L188.25 357.3H187.75L187.75 357.3H187.25L187.25 357.6H186.75L186.75 357.9H186.25L186.25 357.2H185.75L185.75 358.2H185.25L185.25 358.0H184.75L184.75 357.4H184.25L184.25 358.5H183.75L183.75 358.3H183.25L183.25 357.4H182.75L182.75 356.7H182.25L182.25 357.6H181.75L181.75 358.6H181.25L181.25 356.9H180.75L180.75 357.2H180.25L180.25 358.5H179.75L179.75 356.6H179.25L179.25 358.5H178.75L178.75 357.5H178.25L178.25 357.1H177.75L177.75 357.3H177.25L177.25 358.4H176.75L176.75 357.7H176.25L176.25 357.8H175.75L175.75 358.2H175.25L175.25 358.3H174.75L174.75 356.1H174.25L174.25 357.3H173.75L173.75 358.0H173.25L173.25 357.7H172.75L172.75 358.2H172.25L172.25 357.8H171.75L171.75 357.2H171.25L171.25 357.8H170.75L170.75 358.7H170.25L170.25 357.6H169.75L169.75 358.4H169.25L169.25 356.7H168.75L168.75 358.8H168.25L168.25 357.7H167.75L167.75 357.7H167.25L167.25 358.0H166.75L166.75 357.1H166.25L166.25 358.6H165.75L165.75 358.6H165.25L165.25 357.6H164.75L164.75 355.9H164.25L164.25 356.6H163.75L163.75 355.6H163.25L163.25 356.6H162.75L162.75 355.9H162.25L162.25 355.2H161.75L161.75 356.3H161.25L161.25 355.5H160.75L160.75 354.6H160.25L160.25 355.1H159.75L159.75 355.1H159.25L159.25 354.7H158.75L158.75 354.9H158.25L158.25 354.3H157.75L157.75 354.9H157.25L157.25 354.6H156.75L156.75 354.0H156.25L156.25 353.4H155.75L155.75 354.9H155.25L155.25 353.7H154.75L154.75 353.6H154.25L154.25 353.8H153.75L153.75 354.4H153.25L153.25 353.6H152.75L152.75 352.5H152.25L152.25 353.6H151.75L151.75 353.3H151.25L151.25 353.9H150.75L150.75 353.2H150.25L150.25 353.1H149.75L149.75 352.9H149.25L149.25 352.1H148.75L148.75 352.8H148.25L148.25 353.8H147.75L147.75 353.3H147.25L147.25 353.0H146.75L146.75 352.8H146.25L146.25 353.5H145.75L145.75 354.5H145.25L145.25 353.0H144.75L144.75 352.7H144.25L144.25 353.6H143.75L143.75 352.8H143.25L143.25 353.7H142.75L142.75 353.2H142.25L142.25 353.9H141.75L141.75 352.6H141.25L141.25 352.3H140.75L140.75 352.7H140.25L140.25 353.4H139.75L139.75 352.5H139.25L139.25 353.0H138.75L138.75 353.3H138.25L138.25 353.5H137.75L137.75 352.7H137.25L137.25 351.9H136.75L136.75 352.9H136.25L136.25 353.1H135.75L135.75 352.7H135.25L135.25 352.1H134.75L134.75 351.7H134.25L134.25 352.7H133.75L133.75 352.4H133.25L133.25 352.4H132.75L132.75 352.9H132.25L132.25 352.6H131.75L131.75 352.3H131.25L131.25 353.4H130.75L130.75 352.4H130.25L130.25 352.6H129.75L129.75 352.3H129.25L129.25 354.4H128.75L128.75 353.5H128.25L128.25 352.9H127.75L127.75 352.5H127.25L127.25 353.2H126.75L126.75 352.5H126.25L126.25 352.9H125.75L125.75 352.5H125.25L125.25 352.8H124.75L124.75 352.7H124.25L124.25 351.9H123.75L123.75 352.1H123.25L123.25 352.9H122.75L122.75 353.8H122.25L122.25 352.1H121.75L121.75 353.0H121.25L121.25 352.7H120.75L120.75 352.7H120.25L120.25 352.0H119.75L119.75 353.1H119.25L119.25 353.0H118.75L118.75 353.1H118.25L118.25 353.5H117.75L117.75 352.8H117.25L117.25 353.2H116.75L116.75 352.8H116.25L116.25 353.0H115.75L115.75 352.7H115.25L115.25 353.2H114.75L114.75 351.6H114.25L114.25 352.4H113.75L113.75 353.0H113.25L113.25 352.1H112.75L112.75 352.2H112.25L112.25 352.3H111.75L111.75 351.9H111.25L111.25 352.6H110.75L110.75 353.6H110.25L110.25 352.9H109.75L109.75 352.9H109.25L109.25 352.3H108.75L108.75 351.8H108.25L108.25 352.4H107.75L107.75 351.4H107.25L107.25 352.0H106.75L106.75 352.8H106.25L106.25 352.0H105.75L105.75 352.2H105.25L105.25 352.8H104.75L104.75 351.4H104.25L104.25 353.0H103.75L103.75 352.6H103.25L103.25 352.5H102.75L102.75 351.8H102.25L102.25 351.7H101.75L101.75 351.0H101.25L101.25 352.8H100.75L100.75 351.7H100.25L100.25 352.0H99.75L99.75 351.5H99.25L99.25 352.7H98.75L98.75 351.9H98.25L98.25 351.9H97.75L97.75 352.2H97.25L97.25 351.6H96.75L96.75 351.0H96.25L96.25 352.0H95.75L95.75 351.8H95.25L95.25 351.4H94.75L94.75 351.4H94.25L94.25 352.6H93.75L93.75 351.2H93.25L93.25 350.8H92.75L92.75 351.3H92.25L92.25 351.0H91.75L91.75 351.3H91.25L91.25 351.0H90.75L90.75 351.1H90.25L90.25 351.1H89.75L89.75 351.8H89.25L89.25 350.7H88.75L88.75 351.3H88.25L88.25 351.6H87.75L87.75 351.9H87.25L87.25 351.8H86.75L86.75 350.8H86.25L86.25 349.9H85.75L85.75 350.4H85.25L85.25 350.4H84.75L84.75 350.6H84.25L84.25 350.4H83.75L83.75 350.5H83.25L83.25 350.7H82.75L82.75 349.7H82.25L82.25 350.6H81.75L81.75 349.4H81.25L81.25 350.4H80.75L80.75 350.0H80.25L80.25 349.7H79.75L79.75 349.8H79.25L79.25 349.3H78.75L78.75 350.2H78.25L78.25 351.2H77.75L77.75 350.7H77.25L77.25 350.3H76.75L76.75 350.8H76.25L76.25 349.0H75.75L75.75 350.0H75.25L75.25 349.8H74.75L74.75 349.9H74.25L74.25 349.7H73.75L73.75 350.2H73.25L73.25 349.2H72.75L72.75 349.9H72.25L72.25 350.4H71.75L71.75 350.2H71.25L71.25 349.9H70.75L70.75 350.3H70.25L70.25 349.0H69.75L69.75 350.3H69.25L69.25 350.2H68.75L68.75 350.7H68.25L68.25 350.8H67.75L67.75 349.6H67.25L67.25 350.2H66.75L66.75 350.1H66.25L66.25 350.4H65.75L65.75 349.6H65.25L65.25 349.7H64.75L64.75 350.8H64.25L64.25 350.1H63.75L63.75 349.7H63.25L63.25 350.2H62.75L62.75 351.0H62.25L62.25 349.5H61.75L61.75 349.2H61.25L61.25 348.9H60.75L60.75 350.0H60.25L60.25 349.5H59.75L59.75 349.5H59.25L59.25 349.3H58.75L58.75 349.6H58.25L58.25 350.1H57.75L57.75 349.1H57.25Z" fill="#0072BD" stroke="none"/>
<path d="M57.50 315.0V353.8M58.00 308.8V352.6M58.50 313.7V355.1M59.00 315.2V355.6M59.50 311.9V350.4M60.00 312.1V356.8M60.50 310.8V352.7M61.00 310.7V350.1M61.50 312.7V351.7M62.00 315.3V353.0M62.50 311.3V357.5M63.00 309.6V355.8M63.50 311.9V349.7M64.00 309.2V350.5M64.50 311.5V358.2M65.00 314.0V357.8M65.50 309.8V354.3M66.00 313.4V353.1M66.50 315.1V356.5M67.00 314.9V354.5M67.50 316.1V354.2M68.00 313.4V352.8M68.50 314.6V361.2M69.00 313.5V351.9M69.50 311.2V351.4M70.00 312.3V353.8M70.50 313.5V359.7M71.00 310.7V352.3M71.50 314.7V352.7M72.00 313.1V351.6M72.50 316.2V354.9M73.00 314.0V355.6M73.50 311.2V351.3M74.00 315.8V354.2M74.50 311.2V354.5M75.00 311.6V350.7M75.50 313.1V354.5M76.00 311.0V351.3M76.50 313.8V352.5M77.00 314.0V358.9M77.50 313.0V351.5M78.00 309.3V354.2M78.50 309.2V355.7M79.00 313.5V353.0M79.50 307.6V361.3M80.00 313.7V357.5M80.50 313.1V352.2M81.00 306.9V354.1M81.50 304.7V357.6M82.00 304.4V359.4M82.50 305.7V358.0M83.00 309.0V354.4M83.50 310.6V357.2M84.00 312.7V358.1M84.50 314.1V352.4M85.00 313.7V359.2M85.50 311.5V359.5M86.00 310.4V359.6M86.50 304.6V352.9M87.00 309.8V353.7M87.50 304.5V353.2M88.00 307.7V360.1M88.50 313.5V352.5M89.00 309.9V358.9M89.50 313.7V353.3M90.00 314.7V354.0M90.50 304.6V353.0M91.00 310.8V361.5M91.50 313.8V352.1M92.00 314.4V358.8M92.50 307.8V354.0M93.00 311.3V359.4M93.50 315.1V358.0M94.00 307.5V355.0M94.50 311.6V356.0M95.00 306.4V352.8M95.50 310.0V355.5M96.00 309.5V352.2M96.50 310.3V357.2M97.00 307.0V356.9M97.50 304.8V354.7M98.00 306.8V362.0M98.50 314.0V360.3M99.00 309.8V364.7M99.50 312.5V361.6M100.00 314.4V352.2M100.50 312.8V355.1M101.00 312.5V356.4M101.50 304.2V355.8M102.00 306.7V354.6M102.50 306.0V354.1M103.00 307.2V362.1M103.50 303.8V355.1M104.00 300.7V356.0M104.50 310.2V360.6M105.00 311.4V355.2M105.50 311.1V364.3M106.00 306.6V352.8M106.50 314.9V355.7M107.00 313.0V355.8M107.50 310.0V353.7M108.00 308.3V364.2M108.50 308.0V354.9M109.00 306.0V356.1M109.50 314.1V357.1M110.00 313.2V364.3M110.50 311.5V355.6M111.00 311.6V360.0M111.50 307.4V363.9M112.00 305.3V354.7M112.50 307.8V353.7M113.00 314.0V362.8M113.50 312.5V355.8M114.00 307.5V354.4M114.50 306.5V352.3M115.00 310.1V358.7M115.50 311.5V361.1M116.00 312.1V360.9M116.50 308.7V358.1M117.00 307.2V357.1M117.50 305.5V361.6M118.00 313.2V359.4M118.50 314.5V361.6M119.00 304.9V365.0M119.50 308.0V359.3M120.00 309.0V358.3M120.50 305.8V353.9M121.00 313.4V354.9M121.50 312.4V353.5M122.00 307.3V360.4M122.50 309.4V362.7M123.00 313.4V358.3M123.50 310.9V353.5M124.00 309.9V353.0M124.50 307.9V356.7M125.00 309.7V356.3M125.50 312.8V354.2M126.00 306.4V353.7M126.50 310.5V358.3M127.00 304.1V360.3M127.50 309.2V353.0M128.00 313.9V355.6M128.50 312.3V356.2M129.00 314.2V359.3M129.50 313.0V357.7M130.00 313.3V356.3M130.50 310.0V360.2M131.00 311.6V356.9M131.50 310.6V355.0M132.00 307.4V359.5M132.50 305.6V360.5M133.00 313.5V360.2M133.50 307.8V353.9M134.00 303.4V364.7M134.50 310.7V355.9M135.00 312.1V360.8M135.50 310.4V358.3M136.00 312.8V358.6M136.50 306.0V355.8M137.00 307.6V360.8M137.50 312.0V354.3M138.00 313.7V358.5M138.50 305.9V359.4M139.00 312.4V360.2M139.50 308.7V359.8M140.00 307.3V356.8M140.50 308.4V355.1M141.00 306.4V361.1M141.50 310.0V357.5M142.00 307.0V356.4M142.50 310.6V354.4M143.00 311.6V360.9M143.50 310.3V360.4M144.00 303.3V358.7M144.50 308.2V356.1M145.00 307.8V358.9M145.50 312.0V363.3M146.00 312.9V358.7M146.50 304.3V359.8M147.00 310.1V360.9M147.50 306.2V360.0M148.00 306.4V358.2M148.50 303.2V354.4M149.00 308.0V358.3M149.50 308.4V362.2M150.00 311.6V361.7M150.50 310.1V354.5M151.00 313.5V354.9M151.50 302.4V359.0M152.00 311.9V361.0M152.50 314.0V353.2M153.00 310.7V359.1M153.50 310.5V356.8M154.00 304.1V362.9M154.50 303.4V357.0M155.00 310.7V354.5M155.50 304.5V362.3M156.00 304.5V356.3M156.50 301.5V358.1M157.00 306.2V355.8M157.50 301.0V366.5M158.00 303.1V355.7M158.50 304.1V357.6M159.00 305.8V360.7M159.50 300.2V358.3M160.00 307.7V362.2M160.50 301.2V364.3M161.00 308.3V366.8M161.50 308.9V356.6M162.00 306.5V365.8M162.50 305.1V358.1M163.00 305.9V360.5M163.50 306.4V361.6M164.00 307.0V371.4M164.50 304.6V368.0M165.00 301.9V362.8M165.50 303.1V374.2M166.00 305.9V364.1M166.50 296.2V360.6M167.00 303.1V363.0M167.50 302.4V362.5M168.00 300.1V372.3M168.50 300.2V366.2M169.00 292.8V363.0M169.50 298.2V363.5M170.00 293.8V372.1M170.50 300.0V368.7M171.00 306.0V365.8M171.50 300.2V361.4M172.00 305.1V369.5M172.50 304.2V359.5M173.00 306.5V367.7M173.50 302.5V363.2M174.00 306.7V362.2M174.50 298.2V366.6M175.00 299.9V366.4M175.50 297.8V370.2M176.00 295.1V374.4M176.50 300.0V359.1M177.00 298.9V364.6M177.50 293.6V366.8M178.00 304.3V358.2M178.50 304.2V364.2M179.00 301.8V370.8M179.50 305.4V359.6M180.00 300.1V360.0M180.50 303.2V360.8M181.00 301.4V361.1M181.50 301.6V362.1M182.00 300.9V362.9M182.50 306.8V367.1M183.00 299.5V363.8M183.50 297.7V365.6M184.00 298.8V359.9M184.50 307.1V370.1M185.00 297.1V369.8M185.50 299.6V362.5M186.00 293.9V369.0M186.50 294.1V362.1M187.00 301.2V365.6M187.50 301.1V371.3M188.00 303.5V358.4M188.50 303.5V358.6M189.00 302.7V363.2M189.50 299.0V373.7M190.00 301.6V370.5M190.50 307.0V360.9M191.00 301.0V361.7M191.50 305.7V364.0M192.00 293.9V362.4M192.50 296.0V362.3M193.00 304.7V365.4M193.50 299.5V371.9M194.00 301.7V358.8M194.50 306.7V369.8M195.00 291.8V364.4M195.50 296.1V370.4M196.00 306.9V356.4M196.50 302.0V357.7M197.00 302.8V359.4M197.50 305.0V369.6M198.00 300.4V363.3M198.50 298.4V370.2M199.00 298.5V366.6M199.50 298.4V359.3M200.00 306.5V362.1M200.50 304.3V373.1M201.00 294.5V368.9M201.50 299.5V372.4M202.00 302.9V358.0M202.50 303.3V369.9M203.00 296.2V372.6M203.50 305.9V361.6M204.00 291.4V366.6M204.50 303.1V360.5M205.00 295.7V365.9M205.50 304.2V361.7M206.00 306.6V363.6M206.50 302.4V360.4M207.00 299.6V361.0M207.50 304.0V368.3M208.00 297.1V365.6M208.50 304.8V370.3M209.00 299.5V367.3M209.50 305.6V369.4M210.00 295.8V360.4M210.50 304.3V369.8M211.00 298.7V357.7M211.50 297.8V365.2M212.00 304.9V361.0M212.50 305.9V360.2M213.00 299.7V364.6M213.50 301.6V364.9M214.00 294.2V363.5M214.50 298.3V366.0M215.00 301.6V369.8M215.50 302.6V360.1M216.00 301.6V373.3M216.50 302.5V366.7M217.00 301.7V363.1M217.50 305.7V362.9M218.00 303.1V364.7M218.50 302.7V365.9M219.00 304.4V368.7M219.50 298.6V369.7M220.00 305.5V367.9M220.50 304.6V362.1M221.00 301.8V368.5M221.50 303.0V365.2M222.00 302.6V359.7M222.50 302.9V367.9M223.00 301.5V361.1M223.50 300.2V372.5M224.00 295.8V365.8M224.50 298.4V368.8M225.00 303.0V371.8M225.50 300.8V371.9M226.00 303.0V357.2M226.50 303.4V357.4M227.00 295.0V358.7M227.50 305.9V364.2M228.00 304.2V364.2M228.50 297.9V358.0M229.00 300.5V360.7M229.50 304.3V363.9M230.00 297.5V363.0M230.50 302.3V370.8M231.00 293.5V363.5M231.50 305.1V369.0M232.00 297.7V372.7M232.50 306.4V364.0M233.00 302.9V362.3M233.50 296.8V359.7M234.00 296.5V361.8M234.50 296.6V362.0M235.00 297.4V362.8M235.50 304.5V359.9M236.00 306.6V371.8M236.50 301.7V370.8M237.00 306.3V368.3M237.50 295.8V371.2M238.00 305.3V358.7M238.50 302.8V361.2M239.00 304.6V360.7M239.50 308.1V358.7M240.00 301.0V363.8M240.50 307.6V361.8M241.00 298.0V360.5M241.50 298.5V365.7M242.00 302.2V362.5M242.50 297.6V365.8M243.00 299.4V364.3M243.50 303.6V363.4M244.00 298.0V370.6M244.50 296.0V363.7M245.00 298.2V364.4M245.50 302.8V361.7M246.00 297.5V371.4M246.50 297.3V359.7M247.00 303.1V360.0M247.50 306.1V371.3M248.00 298.1V368.1M248.50 299.4V367.8M249.00 305.2V365.1M249.50 293.9V363.6M250.00 302.6V366.7M250.50 295.8V367.2M251.00 303.5V361.4M251.50 293.8V366.9M252.00 306.5V366.0M252.50 303.4V361.9M253.00 296.1V359.5M253.50 305.5V364.2M254.00 302.9V361.5M254.50 295.4V360.6M255.00 307.0V363.7M255.50 303.4V369.5M256.00 296.9V359.4M256.50 307.2V358.8M257.00 295.1V364.7M257.50 297.4V369.3M258.00 305.0V359.2M258.50 300.6V364.2M259.00 299.9V358.1M259.50 299.0V364.1M260.00 304.4V359.4M260.50 303.4V366.1M261.00 303.6V361.6M261.50 303.3V365.5M262.00 306.5V371.1M262.50 295.7V373.8M263.00 296.5V359.6M263.50 292.7V362.7M264.00 299.5V361.5M264.50 301.7V359.2M265.00 304.7V364.8M265.50 301.0V365.1M266.00 296.2V368.6M266.50 301.8V364.1M267.00 301.0V364.3M267.50 296.2V366.2M268.00 304.9V368.2M268.50 298.2V364.7M269.00 304.9V358.8M269.50 299.7V373.2M270.00 292.3V357.9M270.50 297.3V364.4M271.00 296.8V358.6M271.50 299.4V363.9M272.00 296.3V359.5M272.50 303.8V369.2M273.00 301.5V359.3M273.50 305.2V366.4M274.00 306.2V366.8M274.50 302.8V361.3M275.00 299.9V365.1M275.50 298.2V361.7M276.00 306.0V361.6M276.50 297.6V360.3M277.00 304.1V359.0M277.50 304.2V366.2M278.00 298.4V358.2M278.50 296.2V359.9M279.00 299.1V358.4M279.50 291.5V367.9M280.00 302.4V363.9M280.50 297.3V364.5M281.00 303.1V364.5M281.50 298.5V372.6M282.00 297.7V372.6M282.50 295.2V362.7M283.00 296.4V361.7M283.50 302.6V365.0M284.00 299.4V370.6M284.50 299.8V363.9M285.00 303.2V363.2M285.50 300.2V370.2M286.00 300.9V358.7M286.50 300.9V358.6M287.00 307.0V368.4M287.50 295.3V371.3M288.00 294.4V359.4M288.50 307.9V358.2M289.00 296.4V358.2M289.50 300.1V365.5M290.00 296.2V359.1M290.50 298.6V364.0M291.00 302.7V366.1M291.50 299.8V357.4M292.00 297.3V368.6M292.50 301.5V361.1M293.00 306.9V366.4M293.50 297.3V361.6M294.00 299.8V370.5M294.50 296.4V362.7M295.00 304.7V358.2M295.50 299.1V363.9M296.00 298.7V360.8M296.50 301.5V371.5M297.00 302.6V358.7M297.50 303.0V361.3M298.00 306.9V366.9M298.50 304.2V370.1M299.00 303.2V359.6M299.50 304.2V368.3M300.00 299.3V365.5M300.50 303.5V371.4M301.00 301.5V357.6M301.50 304.9V368.7M302.00 302.4V359.4M302.50 298.0V358.3M303.00 302.5V367.2M303.50 301.5V365.0M304.00 302.6V368.7M304.50 299.7V364.2M305.00 299.4V361.5M305.50 303.6V361.2M306.00 302.1V360.4M306.50 298.6V365.8M307.00 306.8V369.5M307.50 296.7V357.6M308.00 302.7V362.6M308.50 305.0V361.6M309.00 297.6V358.5M309.50 297.5V365.4M310.00 300.4V370.5M310.50 297.8V362.0M311.00 307.5V371.9M311.50 296.5V372.7M312.00 299.0V362.1M312.50 297.2V370.1M313.00 300.1V368.2M313.50 301.4V374.4M314.00 302.8V360.2M314.50 300.9V361.9M315.00 291.8V372.6M315.50 293.5V369.2M316.00 298.2V367.5M316.50 299.7V358.7M317.00 297.2V363.2M317.50 306.7V359.9M318.00 299.4V367.4M318.50 302.1V365.7M319.00 299.8V370.4M319.50 303.3V366.9M320.00 295.0V359.0M320.50 298.0V361.9M321.00 306.7V365.3M321.50 304.4V369.0M322.00 302.6V372.4M322.50 298.2V361.5M323.00 295.8V374.6M323.50 298.1V359.9M324.00 304.4V359.2M324.50 304.8V361.1M325.00 301.1V373.1M325.50 301.2V365.2M326.00 298.3V369.2M326.50 298.0V368.6M327.00 306.0V360.4M327.50 299.1V365.9M328.00 300.2V366.0M328.50 303.1V359.3M329.00 299.3V364.3M329.50 295.5V360.6M330.00 296.8V362.9M330.50 297.7V362.8M331.00 306.0V368.9M331.50 305.1V361.7M332.00 300.1V365.6M332.50 303.6V365.7M333.00 300.8V360.9M333.50 295.1V369.4M334.00 305.8V362.3M334.50 298.8V361.7M335.00 300.7V367.2M335.50 305.1V363.7M336.00 304.1V366.2M336.50 298.6V360.9M337.00 296.1V372.6M337.50 298.6V367.2M338.00 302.0V363.4M338.50 302.7V369.3M339.00 302.0V373.1M339.50 305.0V359.1M340.00 303.1V368.2M340.50 293.0V373.1M341.00 304.3V358.6M341.50 302.2V360.8M342.00 295.4V368.4M342.50 303.4V360.9M343.00 299.1V364.0M343.50 300.4V369.8M344.00 299.0V365.2M344.50 297.6V366.4M345.00 301.7V370.2M345.50 298.8V362.0M346.00 302.9V368.3M346.50 292.3V365.4M347.00 294.3V360.1M347.50 301.4V372.6M348.00 295.6V370.5M348.50 299.6V360.2M349.00 301.9V367.1M349.50 299.1V365.1M350.00 304.8V358.4M350.50 299.1V370.9M351.00 306.4V364.8M351.50 304.2V364.5M352.00 294.1V359.7M352.50 303.5V363.7M353.00 298.0V371.2M353.50 306.7V372.5M354.00 303.3V375.6M354.50 300.6V365.7M355.00 299.0V364.4M355.50 298.8V365.3M356.00 303.3V360.8M356.50 304.4V360.2M357.00 299.1V372.8M357.50 307.0V368.6M358.00 305.8V358.8M358.50 304.6V362.3M359.00 301.7V365.4M359.50 298.8V363.1M360.00 299.8V368.3M360.50 301.7V359.6M361.00 294.5V360.6M361.50 301.7V359.3M362.00 300.9V365.1M362.50 302.8V362.0M363.00 305.7V364.9M363.50 305.4V367.2M364.00 293.3V361.9M364.50 299.9V366.1M365.00 301.1V358.3M365.50 306.6V364.9M366.00 297.4V368.9M366.50 302.5V369.6M367.00 296.2V375.0M367.50 300.0V368.9M368.00 301.2V361.1M368.50 295.0V361.0M369.00 300.0V363.7M369.50 300.6V364.9M370.00 305.4V368.1M370.50 300.1V372.2M371.00 301.8V357.4M371.50 306.3V367.5M372.00 305.6V360.3M372.50 301.9V369.4M373.00 303.2V360.8M373.50 299.2V359.8M374.00 304.5V359.1M374.50 307.5V361.9M375.00 297.0V366.6M375.50 303.9V361.5M376.00 301.2V358.8M376.50 304.0V364.2M377.00 306.0V368.2M377.50 303.6V360.7M378.00 298.7V363.3M378.50 307.0V358.7M379.00 299.7V357.0M379.50 293.7V363.3M380.00 300.9V363.5M380.50 302.9V369.4M381.00 296.8V359.1M381.50 304.3V366.4M382.00 303.9V366.4M382.50 297.5V364.2M383.00 307.6V363.3M383.50 299.7V360.9M384.00 300.1V361.4M384.50 307.3V359.3M385.00 305.7V369.6M385.50 299.3V358.7M386.00 300.9V359.2M386.50 303.7V366.1M387.00 298.6V363.7M387.50 304.1V363.9M388.00 303.1V360.7M388.50 306.1V359.1M389.00 299.5V371.4M389.50 293.6V358.2M390.00 293.6V360.7M390.50 294.4V366.2M391.00 301.7V361.9M391.50 293.2V370.1M392.00 299.7V361.7M392.50 301.6V363.5M393.00 304.8V364.2M393.50 299.6V364.9M394.00 306.4V367.5M394.50 295.0V358.4M395.00 303.6V366.1M395.50 305.2V367.6M396.00 306.5V357.8M396.50 300.5V363.8M397.00 299.3V363.8M397.50 302.7V363.3M398.00 303.3V363.7M398.50 304.4V365.1M399.00 302.4V367.2M399.50 301.4V369.6" stroke="#0072BD" stroke-width="0.92" fill="none"/>
<path d="M56.65 318.0V354.0" stroke="#EC7A42" stroke-width="1.3" fill="none"/>
<path d="M57.25 329.5H57.75L57.75 329.9H58.25L58.25 330.2H58.75L58.75 329.9H59.25L59.25 330.5H59.75L59.75 330.0H60.25L60.25 329.6H60.75L60.75 330.5H61.25L61.25 329.5H61.75L61.75 330.3H62.25L62.25 330.3H62.75L62.75 329.5H63.25L63.25 329.8H63.75L63.75 330.3H64.25L64.25 329.5H64.75L64.75 330.5H65.25L65.25 330.0H65.75L65.75 330.2H66.25L66.25 329.6H66.75L66.75 330.6H67.25L67.25 330.4H67.75L67.75 330.2H68.25L68.25 330.5H68.75L68.75 330.0H69.25L69.25 329.7H69.75L69.75 329.6H70.25L70.25 330.5H70.75L70.75 330.2H71.25L71.25 329.5H71.75L71.75 330.6H72.25L72.25 329.9H72.75L72.75 330.4H73.25L73.25 329.6H73.75L73.75 330.1H74.25L74.25 329.7H74.75L74.75 330.6H75.25L75.25 330.1H75.75L75.75 330.3H76.25L76.25 330.6H76.75L76.75 330.3H77.25L77.25 329.9H77.75L77.75 330.1H78.25L78.25 330.1H78.75L78.75 330.5H79.25L79.25 330.2H79.75L79.75 330.3H80.25L80.25 329.7H80.75L80.75 329.7H81.25L81.25 330.3H81.75L81.75 330.3H82.25L82.25 330.5H82.75L82.75 330.2H83.25L83.25 330.6H83.75L83.75 329.6H84.25L84.25 330.4H84.75L84.75 330.7H85.25L85.25 330.5H85.75L85.75 329.6H86.25L86.25 330.5H86.75L86.75 330.4H87.25L87.25 329.6H87.75L87.75 329.9H88.25L88.25 330.4H88.75L88.75 330.6H89.25L89.25 330.4H89.75L89.75 330.4H90.25L90.25 329.8H90.75L90.75 330.3H91.25L91.25 329.7H91.75L91.75 329.6H92.25L92.25 329.8H92.75L92.75 330.5H93.25L93.25 330.5H93.75L93.75 330.4H94.25L94.25 330.2H94.75L94.75 330.0H95.25L95.25 330.1H95.75L95.75 330.7H96.25L96.25 330.3H96.75L96.75 330.7H97.25L97.25 330.3H97.75L97.75 331.0H98.25L98.25 330.2H98.75L98.75 330.5H99.25L99.25 331.0H99.75L99.75 330.9H100.25L100.25 330.9H100.75L100.75 330.8H101.25L101.25 330.4H101.75L101.75 330.3H102.25L102.25 330.8H102.75L102.75 331.1H103.25L103.25 330.4H103.75L103.75 330.4H104.25L104.25 331.2H104.75L104.75 330.8H105.25L105.25 330.8H105.75L105.75 330.8H106.25L106.25 330.7H106.75L106.75 331.2H107.25L107.25 331.1H107.75L107.75 331.0H108.25L108.25 330.8H108.75L108.75 331.2H109.25L109.25 331.1H109.75L109.75 331.1H110.25L110.25 331.2H110.75L110.75 330.9H111.25L111.25 331.1H111.75L111.75 330.9H112.25L112.25 331.1H112.75L112.75 330.6H113.25L113.25 331.2H113.75L113.75 330.7H114.25L114.25 330.8H114.75L114.75 331.1H115.25L115.25 331.0H115.75L115.75 331.0H116.25L116.25 331.0H116.75L116.75 330.8H117.25L117.25 331.2H117.75L117.75 331.1H118.25L118.25 330.7H118.75L118.75 331.2H119.25L119.25 330.6H119.75L119.75 331.0H120.25L120.25 331.2H120.75L120.75 330.7H121.25L121.25 331.1H121.75L121.75 330.4H122.25L122.25 330.5H122.75L122.75 330.5H123.25L123.25 330.5H123.75L123.75 331.2H124.25L124.25 331.2H124.75L124.75 331.0H125.25L125.25 331.0H125.75L125.75 331.0H126.25L126.25 330.8H126.75L126.75 330.6H127.25L127.25 330.6H127.75L127.75 330.5H128.25L128.25 330.8H128.75L128.75 330.5H129.25L129.25 331.2H129.75L129.75 331.2H130.25L130.25 331.0H130.75L130.75 330.5H131.25L131.25 331.0H131.75L131.75 331.2H132.25L132.25 331.2H132.75L132.75 331.1H133.25L133.25 330.6H133.75L133.75 331.0H134.25L134.25 330.6H134.75L134.75 330.5H135.25L135.25 330.7H135.75L135.75 330.5H136.25L136.25 331.1H136.75L136.75 331.1H137.25L137.25 331.1H137.75L137.75 331.2H138.25L138.25 330.5H138.75L138.75 331.1H139.25L139.25 330.8H139.75L139.75 331.1H140.25L140.25 330.9H140.75L140.75 331.0H141.25L141.25 330.7H141.75L141.75 331.1H142.25L142.25 331.1H142.75L142.75 331.2H143.25L143.25 331.1H143.75L143.75 330.6H144.25L144.25 330.4H144.75L144.75 331.2H145.25L145.25 330.6H145.75L145.75 330.7H146.25L146.25 331.2H146.75L146.75 331.1H147.25L147.25 330.6H147.75L147.75 331.1H148.25L148.25 330.5H148.75L148.75 330.9H149.25L149.25 330.4H149.75L149.75 330.9H150.25L150.25 331.2H150.75L150.75 330.8H151.25L151.25 331.0H151.75L151.75 331.2H152.25L152.25 330.6H152.75L152.75 330.5H153.25L153.25 330.4H153.75L153.75 330.8H154.25L154.25 330.8H154.75L154.75 330.9H155.25L155.25 330.0H155.75L155.75 330.0H156.25L156.25 329.8H156.75L156.75 329.5H157.25L157.25 329.4H157.75L157.75 329.8H158.25L158.25 330.0H158.75L158.75 329.4H159.25L159.25 330.4H159.75L159.75 330.6H160.25L160.25 330.7H160.75L160.75 331.0H161.25L161.25 330.9H161.75L161.75 330.3H162.25L162.25 330.6H162.75L162.75 330.6H163.25L163.25 331.0H163.75L163.75 330.8H164.25L164.25 331.0H164.75L164.75 330.8H165.25L165.25 330.8H165.75L165.75 330.8H166.25L166.25 330.9H166.75L166.75 330.4H167.25L167.25 330.7H167.75L167.75 330.3H168.25L168.25 330.8H168.75L168.75 331.0H169.25L169.25 330.8H169.75L169.75 330.3H170.25L170.25 330.8H170.75L170.75 330.4H171.25L171.25 330.5H171.75L171.75 330.9H172.25L172.25 330.9H172.75L172.75 331.0H173.25L173.25 330.8H173.75L173.75 330.5H174.25L174.25 330.9H174.75L174.75 330.2H175.25L175.25 331.0H175.75L175.75 330.4H176.25L176.25 330.9H176.75L176.75 330.2H177.25L177.25 331.0H177.75L177.75 330.3H178.25L178.25 330.8H178.75L178.75 330.9H179.25L179.25 331.0H179.75L179.75 330.9H180.25L180.25 330.8H180.75L180.75 330.3H181.25L181.25 330.2H181.75L181.75 331.0H182.25L182.25 330.7H182.75L182.75 331.0H183.25L183.25 331.0H183.75L183.75 330.6H184.25L184.25 330.7H184.75L184.75 330.3H185.25L185.25 330.3H185.75L185.75 330.9H186.25L186.25 330.6H186.75L186.75 330.4H187.25L187.25 330.4H187.75L187.75 330.6H188.25L188.25 330.7H188.75L188.75 330.6H189.25L189.25 330.8H189.75L189.75 330.6H190.25L190.25 330.3H190.75L190.75 330.8H191.25L191.25 330.8H191.75L191.75 330.8H192.25L192.25 330.3H192.75L192.75 330.9H193.25L193.25 330.8H193.75L193.75 330.5H194.25L194.25 330.8H194.75L194.75 330.4H195.25L195.25 330.7H195.75L195.75 331.0H196.25L196.25 330.8H196.75L196.75 330.9H197.25L197.25 330.8H197.75L197.75 330.8H198.25L198.25 330.8H198.75L198.75 330.4H199.25L199.25 330.3H199.75L199.75 330.5H200.25L200.25 330.4H200.75L200.75 330.3H201.25L201.25 330.3H201.75L201.75 330.9H202.25L202.25 330.3H202.75L202.75 330.9H203.25L203.25 330.9H203.75L203.75 330.4H204.25L204.25 330.9H204.75L204.75 330.2H205.25L205.25 330.3H205.75L205.75 331.0H206.25L206.25 330.6H206.75L206.75 330.3H207.25L207.25 330.7H207.75L207.75 330.7H208.25L208.25 330.6H208.75L208.75 330.7H209.25L209.25 330.6H209.75L209.75 330.5H210.25L210.25 330.2H210.75L210.75 331.0H211.25L211.25 330.9H211.75L211.75 331.0H212.25L212.25 331.0H212.75L212.75 330.9H213.25L213.25 330.3H213.75L213.75 330.8H214.25L214.25 330.6H214.75L214.75 330.8H215.25L215.25 330.2H215.75L215.75 330.9H216.25L216.25 330.8H216.75L216.75 330.8H217.25L217.25 330.9H217.75L217.75 331.0H218.25L218.25 330.8H218.75L218.75 330.9H219.25L219.25 331.0H219.75L219.75 330.3H220.25L220.25 330.8H220.75L220.75 331.0H221.25L221.25 330.6H221.75L221.75 330.7H222.25L222.25 330.5H222.75L222.75 330.8H223.25L223.25 330.9H223.75L223.75 330.6H224.25L224.25 330.8H224.75L224.75 330.3H225.25L225.25 330.8H225.75L225.75 330.9H226.25L226.25 330.9H226.75L226.75 330.9H227.25L227.25 330.9H227.75L227.75 330.7H228.25L228.25 330.8H228.75L228.75 330.2H229.25L229.25 330.9H229.75L229.75 330.2H230.25L230.25 330.8H230.75L230.75 330.7H231.25L231.25 330.2H231.75L231.75 330.4H232.25L232.25 330.2H232.75L232.75 330.7H233.25L233.25 330.8H233.75L233.75 330.5H234.25L234.25 330.5H234.75L234.75 331.0H235.25L235.25 330.9H235.75L235.75 330.2H236.25L236.25 330.5H236.75L236.75 330.4H237.25L237.25 330.9H237.75L237.75 330.2H238.25L238.25 330.8H238.75L238.75 330.9H239.25L239.25 330.8H239.75L239.75 330.8H240.25L240.25 331.0H240.75L240.75 330.3H241.25L241.25 330.3H241.75L241.75 330.9H242.25L242.25 330.6H242.75L242.75 330.3H243.25L243.25 330.8H243.75L243.75 330.7H244.25L244.25 330.9H244.75L244.75 330.7H245.25L245.25 330.8H245.75L245.75 330.4H246.25L246.25 330.9H246.75L246.75 331.0H247.25L247.25 330.3H247.75L247.75 330.9H248.25L248.25 330.6H248.75L248.75 330.5H249.25L249.25 330.8H249.75L249.75 330.2H250.25L250.25 330.8H250.75L250.75 330.9H251.25L251.25 330.9H251.75L251.75 330.3H252.25L252.25 330.9H252.75L252.75 330.3H253.25L253.25 330.7H253.75L253.75 330.2H254.25L254.25 330.9H254.75L254.75 330.3H255.25L255.25 330.2H255.75L255.75 330.5H256.25L256.25 330.9H256.75L256.75 330.2H257.25L257.25 330.4H257.75L257.75 330.9H258.25L258.25 330.2H258.75L258.75 330.9H259.25L259.25 330.9H259.75L259.75 331.0H260.25L260.25 330.6H260.75L260.75 330.8H261.25L261.25 330.9H261.75L261.75 330.7H262.25L262.25 330.3H262.75L262.75 330.9H263.25L263.25 330.5H263.75L263.75 330.9H264.25L264.25 330.7H264.75L264.75 330.8H265.25L265.25 330.8H265.75L265.75 331.0H266.25L266.25 330.6H266.75L266.75 330.7H267.25L267.25 330.5H267.75L267.75 330.9H268.25L268.25 330.2H268.75L268.75 331.0H269.25L269.25 330.9H269.75L269.75 330.5H270.25L270.25 330.9H270.75L270.75 330.8H271.25L271.25 330.7H271.75L271.75 330.4H272.25L272.25 330.3H272.75L272.75 330.8H273.25L273.25 330.5H273.75L273.75 330.9H274.25L274.25 330.3H274.75L274.75 330.5H275.25L275.25 330.3H275.75L275.75 330.9H276.25L276.25 330.7H276.75L276.75 330.4H277.25L277.25 330.9H277.75L277.75 330.3H278.25L278.25 330.5H278.75L278.75 330.4H279.25L279.25 330.9H279.75L279.75 330.4H280.25L280.25 330.6H280.75L280.75 330.9H281.25L281.25 330.9H281.75L281.75 330.3H282.25L282.25 330.7H282.75L282.75 330.8H283.25L283.25 330.8H283.75L283.75 330.5H284.25L284.25 330.9H284.75L284.75 330.9H285.25L285.25 330.5H285.75L285.75 330.3H286.25L286.25 330.5H286.75L286.75 330.2H287.25L287.25 330.8H287.75L287.75 330.8H288.25L288.25 330.8H288.75L288.75 330.8H289.25L289.25 330.8H289.75L289.75 330.4H290.25L290.25 330.8H290.75L290.75 330.7H291.25L291.25 330.7H291.75L291.75 330.1H292.25L292.25 330.8H292.75L292.75 330.5H293.25L293.25 330.8H293.75L293.75 330.4H294.25L294.25 330.8H294.75L294.75 330.9H295.25L295.25 330.6H295.75L295.75 330.8H296.25L296.25 330.8H296.75L296.75 330.8H297.25L297.25 330.9H297.75L297.75 330.4H298.25L298.25 330.6H298.75L298.75 330.5H299.25L299.25 330.6H299.75L299.75 330.8H300.25L300.25 330.7H300.75L300.75 330.7H301.25L301.25 330.2H301.75L301.75 330.8H302.25L302.25 330.9H302.75L302.75 330.9H303.25L303.25 330.8H303.75L303.75 330.6H304.25L304.25 330.6H304.75L304.75 330.4H305.25L305.25 330.5H305.75L305.75 330.9H306.25L306.25 330.7H306.75L306.75 330.8H307.25L307.25 330.9H307.75L307.75 330.6H308.25L308.25 330.4H308.75L308.75 330.9H309.25L309.25 330.6H309.75L309.75 330.9H310.25L310.25 330.4H310.75L310.75 330.6H311.25L311.25 330.9H311.75L311.75 330.6H312.25L312.25 330.8H312.75L312.75 330.9H313.25L313.25 330.5H313.75L313.75 330.7H314.25L314.25 330.2H314.75L314.75 330.2H315.25L315.25 330.3H315.75L315.75 330.7H316.25L316.25 330.2H316.75L316.75 330.9H317.25L317.25 330.4H317.75L317.75 330.8H318.25L318.25 330.3H318.75L318.75 330.9H319.25L319.25 330.6H319.75L319.75 330.9H320.25L320.25 330.8H320.75L320.75 330.6H321.25L321.25 330.9H321.75L321.75 330.5H322.25L322.25 330.6H322.75L322.75 330.8H323.25L323.25 330.6H323.75L323.75 330.7H324.25L324.25 330.9H324.75L324.75 330.5H325.25L325.25 330.4H325.75L325.75 330.2H326.25L326.25 330.2H326.75L326.75 330.7H327.25L327.25 330.5H327.75L327.75 330.6H328.25L328.25 330.9H328.75L328.75 330.4H329.25L329.25 330.8H329.75L329.75 330.7H330.25L330.25 330.5H330.75L330.75 330.6H331.25L331.25 330.8H331.75L331.75 330.3H332.25L332.25 330.9H332.75L332.75 330.6H333.25L333.25 330.9H333.75L333.75 330.2H334.25L334.25 330.2H334.75L334.75 330.4H335.25L335.25 330.3H335.75L335.75 330.4H336.25L336.25 330.5H336.75L336.75 330.4H337.25L337.25 330.2H337.75L337.75 330.8H338.25L338.25 330.4H338.75L338.75 330.9H339.25L339.25 330.7H339.75L339.75 330.8H340.25L340.25 330.5H340.75L340.75 330.5H341.25L341.25 330.2H341.75L341.75 330.3H342.25L342.25 330.9H342.75L342.75 330.9H343.25L343.25 330.9H343.75L343.75 330.4H344.25L344.25 330.8H344.75L344.75 330.2H345.25L345.25 330.8H345.75L345.75 330.2H346.25L346.25 330.4H346.75L346.75 330.4H347.25L347.25 330.5H347.75L347.75 330.3H348.25L348.25 330.8H348.75L348.75 330.3H349.25L349.25 330.3H349.75L349.75 330.5H350.25L350.25 330.5H350.75L350.75 330.8H351.25L351.25 330.6H351.75L351.75 330.6H352.25L352.25 330.8H352.75L352.75 330.9H353.25L353.25 330.2H353.75L353.75 330.3H354.25L354.25 330.7H354.75L354.75 330.6H355.25L355.25 330.6H355.75L355.75 330.2H356.25L356.25 330.6H356.75L356.75 330.4H357.25L357.25 330.3H357.75L357.75 330.9H358.25L358.25 330.6H358.75L358.75 330.2H359.25L359.25 330.3H359.75L359.75 330.2H360.25L360.25 330.9H360.75L360.75 330.4H361.25L361.25 330.8H361.75L361.75 330.3H362.25L362.25 330.4H362.75L362.75 330.7H363.25L363.25 330.6H363.75L363.75 330.7H364.25L364.25 330.2H364.75L364.75 330.6H365.25L365.25 330.9H365.75L365.75 330.6H366.25L366.25 330.9H366.75L366.75 330.9H367.25L367.25 330.6H367.75L367.75 330.7H368.25L368.25 330.9H368.75L368.75 330.8H369.25L369.25 330.8H369.75L369.75 330.8H370.25L370.25 330.7H370.75L370.75 330.9H371.25L371.25 330.9H371.75L371.75 330.8H372.25L372.25 330.4H372.75L372.75 330.2H373.25L373.25 330.4H373.75L373.75 330.9H374.25L374.25 330.3H374.75L374.75 330.3H375.25L375.25 330.3H375.75L375.75 330.4H376.25L376.25 330.8H376.75L376.75 330.6H377.25L377.25 330.7H377.75L377.75 330.9H378.25L378.25 330.6H378.75L378.75 330.8H379.25L379.25 330.2H379.75L379.75 330.5H380.25L380.25 330.3H380.75L380.75 330.9H381.25L381.25 330.4H381.75L381.75 330.3H382.25L382.25 330.7H382.75L382.75 330.8H383.25L383.25 330.6H383.75L383.75 330.6H384.25L384.25 330.7H384.75L384.75 330.8H385.25L385.25 330.5H385.75L385.75 330.2H386.25L386.25 330.8H386.75L386.75 330.2H387.25L387.25 330.9H387.75L387.75 330.4H388.25L388.25 330.7H388.75L388.75 330.6H389.25L389.25 330.7H389.75L389.75 330.9H390.25L390.25 330.8H390.75L390.75 330.1H391.25L391.25 330.7H391.75L391.75 330.2H392.25L392.25 330.6H392.75L392.75 330.2H393.25L393.25 330.7H393.75L393.75 330.1H394.25L394.25 330.6H394.75L394.75 330.8H395.25L395.25 330.8H395.75L395.75 330.9H396.25L396.25 330.9H396.75L396.75 330.5H397.25L397.25 330.7H397.75L397.75 330.2H398.25L398.25 330.8H398.75L398.75 330.2H399.25L399.25 330.8H399.75L399.75 336.4H399.25L399.25 336.2H398.75L398.75 336.3H398.25L398.25 336.3H397.75L397.75 336.5H397.25L397.25 336.6H396.75L396.75 336.1H396.25L396.25 336.8H395.75L395.75 336.2H395.25L395.25 336.7H394.75L394.75 336.6H394.25L394.25 336.1H393.75L393.75 336.1H393.25L393.25 336.7H392.75L392.75 336.7H392.25L392.25 336.4H391.75L391.75 336.7H391.25L391.25 336.1H390.75L390.75 336.2H390.25L390.25 336.6H389.75L389.75 336.1H389.25L389.25 336.6H388.75L388.75 336.1H388.25L388.25 336.7H387.75L387.75 336.1H387.25L387.25 336.7H386.75L386.75 336.1H386.25L386.25 336.8H385.75L385.75 336.3H385.25L385.25 336.5H384.75L384.75 336.3H384.25L384.25 336.7H383.75L383.75 336.5H383.25L383.25 336.6H382.75L382.75 336.5H382.25L382.25 336.2H381.75L381.75 336.5H381.25L381.25 336.2H380.75L380.75 336.4H380.25L380.25 336.1H379.75L379.75 336.7H379.25L379.25 336.1H378.75L378.75 336.5H378.25L378.25 336.6H377.75L377.75 336.2H377.25L377.25 336.6H376.75L376.75 336.3H376.25L376.25 336.9H375.75L375.75 336.1H375.25L375.25 336.8H374.75L374.75 336.6H374.25L374.25 336.4H373.75L373.75 336.3H373.25L373.25 336.2H372.75L372.75 336.1H372.25L372.25 336.1H371.75L371.75 336.3H371.25L371.25 336.4H370.75L370.75 336.2H370.25L370.25 336.7H369.75L369.75 336.4H369.25L369.25 336.4H368.75L368.75 336.2H368.25L368.25 336.4H367.75L367.75 336.7H367.25L367.25 336.1H366.75L366.75 336.3H366.25L366.25 336.2H365.75L365.75 336.9H365.25L365.25 336.6H364.75L364.75 336.4H364.25L364.25 336.2H363.75L363.75 336.3H363.25L363.25 336.1H362.75L362.75 336.3H362.25L362.25 336.8H361.75L361.75 336.8H361.25L361.25 336.7H360.75L360.75 336.4H360.25L360.25 336.1H359.75L359.75 336.6H359.25L359.25 336.2H358.75L358.75 336.3H358.25L358.25 336.7H357.75L357.75 336.8H357.25L357.25 336.2H356.75L356.75 336.6H356.25L356.25 336.6H355.75L355.75 336.8H355.25L355.25 336.1H354.75L354.75 336.1H354.25L354.25 336.3H353.75L353.75 336.2H353.25L353.25 336.2H352.75L352.75 336.1H352.25L352.25 336.3H351.75L351.75 336.2H351.25L351.25 336.1H350.75L350.75 336.6H350.25L350.25 336.1H349.75L349.75 336.1H349.25L349.25 336.2H348.75L348.75 336.1H348.25L348.25 336.6H347.75L347.75 336.7H347.25L347.25 336.8H346.75L346.75 336.6H346.25L346.25 336.4H345.75L345.75 336.4H345.25L345.25 336.2H344.75L344.75 336.3H344.25L344.25 336.3H343.75L343.75 336.1H343.25L343.25 336.8H342.75L342.75 336.1H342.25L342.25 336.5H341.75L341.75 336.2H341.25L341.25 336.7H340.75L340.75 336.2H340.25L340.25 336.6H339.75L339.75 336.2H339.25L339.25 336.1H338.75L338.75 336.7H338.25L338.25 336.5H337.75L337.75 336.5H337.25L337.25 336.3H336.75L336.75 336.3H336.25L336.25 336.1H335.75L335.75 336.6H335.25L335.25 336.2H334.75L334.75 336.6H334.25L334.25 336.1H333.75L333.75 336.7H333.25L333.25 336.7H332.75L332.75 336.6H332.25L332.25 336.4H331.75L331.75 336.1H331.25L331.25 336.5H330.75L330.75 336.4H330.25L330.25 336.2H329.75L329.75 336.8H329.25L329.25 336.4H328.75L328.75 336.6H328.25L328.25 336.1H327.75L327.75 336.8H327.25L327.25 336.8H326.75L326.75 336.7H326.25L326.25 336.1H325.75L325.75 336.6H325.25L325.25 336.1H324.75L324.75 336.1H324.25L324.25 336.1H323.75L323.75 336.2H323.25L323.25 336.2H322.75L322.75 336.3H322.25L322.25 336.8H321.75L321.75 336.1H321.25L321.25 336.3H320.75L320.75 336.1H320.25L320.25 336.2H319.75L319.75 336.1H319.25L319.25 336.6H318.75L318.75 336.3H318.25L318.25 336.3H317.75L317.75 336.4H317.25L317.25 336.8H316.75L316.75 336.8H316.25L316.25 336.1H315.75L315.75 336.8H315.25L315.25 336.1H314.75L314.75 336.4H314.25L314.25 336.1H313.75L313.75 336.2H313.25L313.25 336.1H312.75L312.75 336.5H312.25L312.25 336.1H311.75L311.75 336.4H311.25L311.25 336.9H310.75L310.75 336.3H310.25L310.25 336.4H309.75L309.75 336.1H309.25L309.25 336.2H308.75L308.75 336.5H308.25L308.25 336.3H307.75L307.75 336.2H307.25L307.25 336.2H306.75L306.75 336.5H306.25L306.25 336.3H305.75L305.75 336.2H305.25L305.25 336.2H304.75L304.75 336.2H304.25L304.25 336.4H303.75L303.75 336.2H303.25L303.25 336.5H302.75L302.75 336.1H302.25L302.25 336.2H301.75L301.75 336.5H301.25L301.25 336.4H300.75L300.75 336.4H300.25L300.25 336.1H299.75L299.75 336.3H299.25L299.25 336.3H298.75L298.75 336.2H298.25L298.25 336.3H297.75L297.75 336.2H297.25L297.25 336.3H296.75L296.75 336.8H296.25L296.25 336.3H295.75L295.75 336.5H295.25L295.25 336.7H294.75L294.75 336.3H294.25L294.25 336.1H293.75L293.75 336.6H293.25L293.25 336.5H292.75L292.75 336.1H292.25L292.25 336.1H291.75L291.75 336.2H291.25L291.25 336.3H290.75L290.75 336.7H290.25L290.25 336.8H289.75L289.75 336.4H289.25L289.25 336.7H288.75L288.75 336.2H288.25L288.25 336.1H287.75L287.75 336.6H287.25L287.25 336.1H286.75L286.75 336.6H286.25L286.25 336.5H285.75L285.75 336.4H285.25L285.25 336.5H284.75L284.75 336.1H284.25L284.25 336.8H283.75L283.75 336.2H283.25L283.25 336.7H282.75L282.75 336.1H282.25L282.25 336.2H281.75L281.75 336.1H281.25L281.25 336.3H280.75L280.75 336.2H280.25L280.25 336.8H279.75L279.75 336.4H279.25L279.25 336.3H278.75L278.75 336.3H278.25L278.25 336.4H277.75L277.75 336.5H277.25L277.25 336.1H276.75L276.75 336.5H276.25L276.25 336.0H275.75L275.75 336.7H275.25L275.25 336.4H274.75L274.75 336.2H274.25L274.25 336.1H273.75L273.75 336.6H273.25L273.25 336.1H272.75L272.75 336.3H272.25L272.25 336.8H271.75L271.75 336.2H271.25L271.25 336.3H270.75L270.75 336.5H270.25L270.25 336.5H269.75L269.75 336.8H269.25L269.25 336.3H268.75L268.75 336.2H268.25L268.25 336.1H267.75L267.75 336.2H267.25L267.25 336.7H266.75L266.75 336.4H266.25L266.25 336.4H265.75L265.75 336.1H265.25L265.25 336.6H264.75L264.75 336.5H264.25L264.25 336.6H263.75L263.75 336.6H263.25L263.25 336.1H262.75L262.75 336.2H262.25L262.25 336.8H261.75L261.75 336.3H261.25L261.25 336.4H260.75L260.75 336.1H260.25L260.25 336.7H259.75L259.75 336.4H259.25L259.25 336.5H258.75L258.75 336.6H258.25L258.25 336.6H257.75L257.75 336.1H257.25L257.25 336.1H256.75L256.75 336.2H256.25L256.25 336.1H255.75L255.75 336.0H255.25L255.25 336.3H254.75L254.75 336.2H254.25L254.25 336.4H253.75L253.75 336.6H253.25L253.25 336.6H252.75L252.75 336.2H252.25L252.25 336.1H251.75L251.75 336.7H251.25L251.25 336.6H250.75L250.75 336.4H250.25L250.25 336.7H249.75L249.75 336.3H249.25L249.25 336.2H248.75L248.75 336.1H248.25L248.25 336.3H247.75L247.75 336.2H247.25L247.25 336.8H246.75L246.75 336.2H246.25L246.25 336.6H245.75L245.75 336.1H245.25L245.25 336.6H244.75L244.75 336.1H244.25L244.25 336.3H243.75L243.75 336.1H243.25L243.25 336.7H242.75L242.75 336.3H242.25L242.25 336.2H241.75L241.75 336.4H241.25L241.25 336.2H240.75L240.75 336.1H240.25L240.25 336.7H239.75L239.75 336.4H239.25L239.25 336.1H238.75L238.75 336.1H238.25L238.25 336.2H237.75L237.75 336.1H237.25L237.25 336.1H236.75L236.75 336.7H236.25L236.25 336.0H235.75L235.75 336.5H235.25L235.25 336.8H234.75L234.75 336.6H234.25L234.25 336.7H233.75L233.75 336.3H233.25L233.25 336.7H232.75L232.75 336.2H232.25L232.25 336.1H231.75L231.75 336.7H231.25L231.25 336.5H230.75L230.75 336.3H230.25L230.25 336.8H229.75L229.75 336.0H229.25L229.25 336.7H228.75L228.75 336.7H228.25L228.25 336.3H227.75L227.75 336.2H227.25L227.25 336.4H226.75L226.75 336.2H226.25L226.25 336.4H225.75L225.75 336.0H225.25L225.25 336.0H224.75L224.75 336.1H224.25L224.25 336.6H223.75L223.75 336.1H223.25L223.25 336.5H222.75L222.75 336.2H222.25L222.25 336.5H221.75L221.75 336.4H221.25L221.25 336.3H220.75L220.75 336.2H220.25L220.25 336.4H219.75L219.75 336.2H219.25L219.25 336.4H218.75L218.75 336.0H218.25L218.25 336.3H217.75L217.75 336.7H217.25L217.25 336.2H216.75L216.75 336.6H216.25L216.25 336.4H215.75L215.75 336.4H215.25L215.25 336.4H214.75L214.75 336.3H214.25L214.25 336.0H213.75L213.75 336.5H213.25L213.25 336.5H212.75L212.75 336.1H212.25L212.25 336.0H211.75L211.75 336.2H211.25L211.25 336.5H210.75L210.75 336.1H210.25L210.25 336.2H209.75L209.75 336.2H209.25L209.25 336.1H208.75L208.75 336.8H208.25L208.25 336.7H207.75L207.75 336.0H207.25L207.25 336.4H206.75L206.75 336.1H206.25L206.25 336.6H205.75L205.75 336.7H205.25L205.25 336.2H204.75L204.75 336.1H204.25L204.25 336.2H203.75L203.75 336.4H203.25L203.25 336.7H202.75L202.75 336.2H202.25L202.25 336.2H201.75L201.75 336.5H201.25L201.25 336.3H200.75L200.75 336.1H200.25L200.25 336.2H199.75L199.75 336.3H199.25L199.25 336.1H198.75L198.75 336.8H198.25L198.25 336.8H197.75L197.75 336.2H197.25L197.25 336.2H196.75L196.75 336.7H196.25L196.25 336.6H195.75L195.75 336.1H195.25L195.25 336.4H194.75L194.75 336.3H194.25L194.25 336.5H193.75L193.75 336.1H193.25L193.25 336.1H192.75L192.75 336.5H192.25L192.25 336.7H191.75L191.75 336.2H191.25L191.25 336.5H190.75L190.75 336.7H190.25L190.25 336.3H189.75L189.75 336.3H189.25L189.25 336.6H188.75L188.75 336.3H188.25L188.25 336.0H187.75L187.75 336.2H187.25L187.25 336.2H186.75L186.75 336.7H186.25L186.25 336.4H185.75L185.75 336.6H185.25L185.25 336.1H184.75L184.75 336.6H184.25L184.25 336.2H183.75L183.75 336.1H183.25L183.25 336.0H182.75L182.75 336.7H182.25L182.25 336.7H181.75L181.75 336.3H181.25L181.25 336.3H180.75L180.75 336.0H180.25L180.25 336.3H179.75L179.75 336.3H179.25L179.25 336.7H178.75L178.75 336.6H178.25L178.25 336.6H177.75L177.75 336.3H177.25L177.25 336.0H176.75L176.75 336.5H176.25L176.25 336.6H175.75L175.75 336.5H175.25L175.25 336.3H174.75L174.75 336.4H174.25L174.25 336.5H173.75L173.75 336.0H173.25L173.25 336.0H172.75L172.75 336.3H172.25L172.25 336.3H171.75L171.75 336.8H171.25L171.25 336.7H170.75L170.75 336.6H170.25L170.25 336.0H169.75L169.75 336.0H169.25L169.25 336.1H168.75L168.75 336.0H168.25L168.25 336.1H167.75L167.75 336.3H167.25L167.25 336.5H166.75L166.75 336.0H166.25L166.25 336.4H165.75L165.75 336.6H165.25L165.25 336.5H164.75L164.75 336.7H164.25L164.25 336.1H163.75L163.75 336.6H163.25L163.25 336.1H162.75L162.75 336.2H162.25L162.25 336.7H161.75L161.75 336.5H161.25L161.25 336.3H160.75L160.75 336.3H160.25L160.25 336.6H159.75L159.75 336.6H159.25L159.25 336.9H158.75L158.75 337.6H158.25L158.25 337.2H157.75L157.75 337.2H157.25L157.25 337.6H156.75L156.75 337.5H156.25L156.25 336.7H155.75L155.75 336.3H155.25L155.25 336.7H154.75L154.75 336.2H154.25L154.25 336.0H153.75L153.75 336.1H153.25L153.25 336.4H152.75L152.75 335.8H152.25L152.25 336.2H151.75L151.75 335.8H151.25L151.25 336.0H150.75L150.75 336.0H150.25L150.25 336.2H149.75L149.75 336.0H149.25L149.25 336.1H148.75L148.75 336.1H148.25L148.25 336.0H147.75L147.75 335.8H147.25L147.25 335.8H146.75L146.75 336.5H146.25L146.25 336.5H145.75L145.75 335.8H145.25L145.25 336.1H144.75L144.75 335.9H144.25L144.25 336.1H143.75L143.75 336.1H143.25L143.25 336.4H142.75L142.75 336.3H142.25L142.25 336.3H141.75L141.75 336.1H141.25L141.25 336.3H140.75L140.75 335.9H140.25L140.25 336.3H139.75L139.75 335.8H139.25L139.25 336.0H138.75L138.75 335.8H138.25L138.25 335.9H137.75L137.75 335.8H137.25L137.25 336.5H136.75L136.75 336.0H136.25L136.25 336.3H135.75L135.75 336.3H135.25L135.25 336.6H134.75L134.75 336.5H134.25L134.25 336.5H133.75L133.75 336.0H133.25L133.25 335.8H132.75L132.75 336.0H132.25L132.25 335.8H131.75L131.75 336.1H131.25L131.25 336.0H130.75L130.75 335.9H130.25L130.25 336.5H129.75L129.75 335.9H129.25L129.25 336.1H128.75L128.75 336.6H128.25L128.25 336.6H127.75L127.75 336.3H127.25L127.25 336.5H126.75L126.75 335.8H126.25L126.25 336.5H125.75L125.75 335.9H125.25L125.25 336.4H124.75L124.75 336.5H124.25L124.25 336.5H123.75L123.75 336.0H123.25L123.25 335.8H122.75L122.75 336.2H122.25L122.25 335.8H121.75L121.75 335.9H121.25L121.25 336.0H120.75L120.75 336.3H120.25L120.25 336.4H119.75L119.75 336.3H119.25L119.25 336.2H118.75L118.75 336.6H118.25L118.25 335.8H117.75L117.75 336.1H117.25L117.25 336.5H116.75L116.75 335.8H116.25L116.25 336.1H115.75L115.75 335.9H115.25L115.25 336.2H114.75L114.75 336.1H114.25L114.25 336.1H113.75L113.75 336.6H113.25L113.25 335.8H112.75L112.75 336.4H112.25L112.25 336.3H111.75L111.75 336.5H111.25L111.25 336.5H110.75L110.75 336.3H110.25L110.25 335.9H109.75L109.75 336.2H109.25L109.25 335.8H108.75L108.75 336.0H108.25L108.25 335.8H107.75L107.75 335.9H107.25L107.25 335.9H106.75L106.75 336.0H106.25L106.25 336.1H105.75L105.75 335.8H105.25L105.25 336.5H104.75L104.75 335.8H104.25L104.25 336.2H103.75L103.75 336.6H103.25L103.25 335.9H102.75L102.75 335.9H102.25L102.25 336.6H101.75L101.75 336.7H101.25L101.25 336.3H100.75L100.75 336.6H100.25L100.25 336.6H99.75L99.75 336.6H99.25L99.25 336.5H98.75L98.75 336.9H98.25L98.25 336.8H97.75L97.75 336.6H97.25L97.25 336.3H96.75L96.75 336.1H96.25L96.25 336.3H95.75L95.75 337.1H95.25L95.25 336.6H94.75L94.75 336.5H94.25L94.25 336.6H93.75L93.75 337.2H93.25L93.25 337.0H92.75L92.75 337.2H92.25L92.25 336.9H91.75L91.75 336.6H91.25L91.25 336.5H90.75L90.75 336.7H90.25L90.25 337.3H89.75L89.75 336.8H89.25L89.25 337.4H88.75L88.75 337.0H88.25L88.25 337.2H87.75L87.75 336.3H87.25L87.25 336.6H86.75L86.75 337.2H86.25L86.25 336.4H85.75L85.75 337.2H85.25L85.25 336.3H84.75L84.75 336.4H84.25L84.25 336.6H83.75L83.75 336.7H83.25L83.25 337.0H82.75L82.75 337.2H82.25L82.25 337.1H81.75L81.75 337.1H81.25L81.25 337.1H80.75L80.75 336.9H80.25L80.25 336.6H79.75L79.75 336.5H79.25L79.25 336.5H78.75L78.75 336.4H78.25L78.25 336.4H77.75L77.75 336.4H77.25L77.25 336.6H76.75L76.75 337.2H76.25L76.25 336.9H75.75L75.75 337.5H75.25L75.25 337.0H74.75L74.75 336.6H74.25L74.25 336.9H73.75L73.75 336.4H73.25L73.25 336.9H72.75L72.75 337.3H72.25L72.25 336.9H71.75L71.75 336.9H71.25L71.25 337.4H70.75L70.75 336.9H70.25L70.25 337.3H69.75L69.75 336.5H69.25L69.25 337.1H68.75L68.75 336.6H68.25L68.25 337.0H67.75L67.75 337.2H67.25L67.25 336.5H66.75L66.75 336.5H66.25L66.25 337.3H65.75L65.75 336.5H65.25L65.25 337.5H64.75L64.75 336.6H64.25L64.25 336.5H63.75L63.75 336.7H63.25L63.25 337.4H62.75L62.75 336.9H62.25L62.25 336.5H61.75L61.75 337.2H61.25L61.25 336.5H60.75L60.75 336.6H60.25L60.25 336.5H59.75L59.75 337.3H59.25L59.25 336.8H58.75L58.75 336.6H58.25L58.25 336.7H57.75L57.75 336.6H57.25Z" fill="#E85512" stroke="none"/>
<text class="tk" x="56.50" y="392.60" text-anchor="middle">0</text>
<text class="tk" x="115.58" y="392.60" text-anchor="middle">50</text>
<text class="tk" x="174.67" y="392.60" text-anchor="middle">100</text>
<text class="tk" x="233.75" y="392.60" text-anchor="middle">150</text>
<text class="tk" x="292.83" y="392.60" text-anchor="middle">200</text>
<text class="tk" x="351.92" y="392.60" text-anchor="middle">250</text>
<text class="tk" x="411.00" y="392.60" text-anchor="middle">300</text>
<text class="tk" x="51.8" y="296.80" text-anchor="end">0.05</text>
<text class="tk" x="51.8" y="337.70" text-anchor="end">0</text>
<text class="tk" x="51.8" y="378.60" text-anchor="end">-0.05</text>
<text class="lb" x="234.25" y="406.60" text-anchor="middle">Time, s</text>
<text class="lb" transform="translate(22.3 334.60) rotate(-90)" text-anchor="middle">d(i), e(i)</text>
<text class="tt" x="233.55" y="287.91" text-anchor="middle">Error 5, SequentialLLMS algorithm, attenuation 12.0 dB</text>
<rect x="294.6" y="297.80" width="108.1" height="24.20" fill="#fff" stroke="#3a3a3a" stroke-width="0.75"/>
<path d="M297.8 304.65H329" stroke="#0072BD" stroke-width="0.6"/>
<path d="M297.8 315.60H329" stroke="#E85512" stroke-width="0.6"/>
<text class="lg" x="332.3" y="307.85">Primary noise</text>
<text class="lg" x="332.3" y="318.65">Attenuated signal</text>
</g>
<g id="ax4">
<rect x="56.5" y="424.95" width="354.5" height="86.30000000000001" fill="none" stroke="#585858" stroke-width="1.1"/>
<path d="M115.58 511.25v-3.5M115.58 424.95v3.5M174.67 511.25v-3.5M174.67 424.95v3.5M233.75 511.25v-3.5M233.75 424.95v3.5M292.83 511.25v-3.5M292.83 424.95v3.5M351.92 511.25v-3.5M351.92 424.95v3.5M56.5 426.60h3.5M411.0 426.60h-3.5M56.5 467.50h3.5M411.0 467.50h-3.5M56.5 508.40h3.5M411.0 508.40h-3.5" stroke="#585858" stroke-width="0.6" fill="none"/>
<path d="M57.25 450.1H57.75L57.75 449.9H58.25L58.25 450.2H58.75L58.75 450.5H59.25L59.25 450.3H59.75L59.75 450.6H60.25L60.25 450.0H60.75L60.75 449.3H61.25L61.25 450.3H61.75L61.75 450.3H62.25L62.25 449.8H62.75L62.75 449.8H63.25L63.25 449.9H63.75L63.75 450.5H64.25L64.25 450.0H64.75L64.75 449.6H65.25L65.25 450.7H65.75L65.75 450.2H66.25L66.25 451.0H66.75L66.75 450.6H67.25L67.25 450.9H67.75L67.75 450.1H68.25L68.25 450.6H68.75L68.75 449.8H69.25L69.25 449.8H69.75L69.75 450.0H70.25L70.25 451.2H70.75L70.75 450.2H71.25L71.25 449.9H71.75L71.75 449.8H72.25L72.25 450.7H72.75L72.75 450.1H73.25L73.25 450.4H73.75L73.75 450.3H74.25L74.25 449.3H74.75L74.75 450.3H75.25L75.25 449.9H75.75L75.75 449.4H76.25L76.25 450.2H76.75L76.75 449.9H77.25L77.25 449.8H77.75L77.75 449.8H78.25L78.25 450.4H78.75L78.75 449.6H79.25L79.25 448.9H79.75L79.75 450.4H80.25L80.25 449.0H80.75L80.75 449.3H81.25L81.25 449.7H81.75L81.75 448.2H82.25L82.25 448.8H82.75L82.75 449.8H83.25L83.25 449.1H83.75L83.75 448.8H84.25L84.25 449.2H84.75L84.75 448.8H85.25L85.25 449.2H85.75L85.75 448.7H86.25L86.25 448.3H86.75L86.75 449.5H87.25L87.25 449.0H87.75L87.75 449.3H88.25L88.25 449.0H88.75L88.75 449.7H89.25L89.25 449.4H89.75L89.75 449.1H90.25L90.25 448.5H90.75L90.75 448.4H91.25L91.25 449.7H91.75L91.75 449.4H92.25L92.25 448.6H92.75L92.75 450.1H93.25L93.25 449.2H93.75L93.75 449.0H94.25L94.25 448.3H94.75L94.75 448.6H95.25L95.25 449.1H95.75L95.75 449.1H96.25L96.25 449.1H96.75L96.75 448.1H97.25L97.25 449.1H97.75L97.75 449.1H98.25L98.25 448.7H98.75L98.75 448.9H99.25L99.25 449.0H99.75L99.75 449.5H100.25L100.25 448.9H100.75L100.75 449.1H101.25L101.25 448.2H101.75L101.75 448.5H102.25L102.25 448.8H102.75L102.75 448.4H103.25L103.25 449.0H103.75L103.75 448.2H104.25L104.25 448.8H104.75L104.75 448.4H105.25L105.25 449.5H105.75L105.75 448.6H106.25L106.25 449.7H106.75L106.75 449.9H107.25L107.25 448.9H107.75L107.75 449.2H108.25L108.25 448.6H108.75L108.75 447.4H109.25L109.25 449.2H109.75L109.75 449.0H110.25L110.25 448.6H110.75L110.75 448.4H111.25L111.25 448.7H111.75L111.75 448.7H112.25L112.25 448.2H112.75L112.75 448.3H113.25L113.25 449.2H113.75L113.75 448.6H114.25L114.25 448.6H114.75L114.75 449.2H115.25L115.25 448.4H115.75L115.75 449.0H116.25L116.25 448.0H116.75L116.75 448.4H117.25L117.25 448.5H117.75L117.75 448.8H118.25L118.25 448.6H118.75L118.75 449.6H119.25L119.25 449.1H119.75L119.75 448.2H120.25L120.25 449.7H120.75L120.75 447.9H121.25L121.25 449.4H121.75L121.75 448.0H122.25L122.25 448.9H122.75L122.75 447.9H123.25L123.25 448.3H123.75L123.75 449.2H124.25L124.25 447.6H124.75L124.75 447.5H125.25L125.25 448.4H125.75L125.75 448.5H126.25L126.25 448.4H126.75L126.75 448.8H127.25L127.25 447.6H127.75L127.75 448.6H128.25L128.25 448.3H128.75L128.75 448.7H129.25L129.25 448.6H129.75L129.75 449.0H130.25L130.25 447.5H130.75L130.75 448.3H131.25L131.25 447.7H131.75L131.75 448.2H132.25L132.25 448.6H132.75L132.75 448.4H133.25L133.25 448.5H133.75L133.75 448.2H134.25L134.25 448.4H134.75L134.75 448.3H135.25L135.25 448.9H135.75L135.75 448.6H136.25L136.25 447.2H136.75L136.75 448.5H137.25L137.25 448.7H137.75L137.75 447.9H138.25L138.25 447.3H138.75L138.75 448.9H139.25L139.25 448.2H139.75L139.75 448.4H140.25L140.25 449.1H140.75L140.75 447.6H141.25L141.25 448.1H141.75L141.75 448.0H142.25L142.25 448.5H142.75L142.75 447.8H143.25L143.25 448.3H143.75L143.75 448.1H144.25L144.25 448.7H144.75L144.75 448.7H145.25L145.25 447.2H145.75L145.75 448.3H146.25L146.25 447.8H146.75L146.75 448.0H147.25L147.25 448.2H147.75L147.75 448.3H148.25L148.25 447.6H148.75L148.75 448.1H149.25L149.25 448.0H149.75L149.75 447.9H150.25L150.25 447.2H150.75L150.75 447.5H151.25L151.25 447.7H151.75L151.75 448.2H152.25L152.25 448.7H152.75L152.75 447.3H153.25L153.25 447.2H153.75L153.75 447.7H154.25L154.25 447.0H154.75L154.75 446.7H155.25L155.25 446.4H155.75L155.75 446.1H156.25L156.25 446.7H156.75L156.75 445.2H157.25L157.25 446.8H157.75L157.75 445.2H158.25L158.25 445.2H158.75L158.75 444.7H159.25L159.25 443.8H159.75L159.75 443.8H160.25L160.25 445.4H160.75L160.75 445.5H161.25L161.25 443.6H161.75L161.75 444.6H162.25L162.25 443.7H162.75L162.75 442.8H163.25L163.25 444.4H163.75L163.75 444.5H164.25L164.25 442.6H164.75L164.75 442.5H165.25L165.25 442.5H165.75L165.75 442.0H166.25L166.25 442.5H166.75L166.75 442.8H167.25L167.25 441.5H167.75L167.75 442.1H168.25L168.25 442.6H168.75L168.75 440.9H169.25L169.25 441.3H169.75L169.75 441.0H170.25L170.25 442.0H170.75L170.75 441.8H171.25L171.25 442.0H171.75L171.75 441.9H172.25L172.25 441.1H172.75L172.75 441.8H173.25L173.25 440.9H173.75L173.75 440.9H174.25L174.25 439.6H174.75L174.75 442.3H175.25L175.25 440.5H175.75L175.75 441.2H176.25L176.25 441.1H176.75L176.75 442.3H177.25L177.25 441.5H177.75L177.75 440.5H178.25L178.25 441.2H178.75L178.75 441.0H179.25L179.25 441.3H179.75L179.75 440.1H180.25L180.25 441.1H180.75L180.75 442.8H181.25L181.25 441.6H181.75L181.75 442.6H182.25L182.25 443.6H182.75L182.75 441.4H183.25L183.25 439.9H183.75L183.75 440.9H184.25L184.25 441.9H184.75L184.75 441.7H185.25L185.25 440.0H185.75L185.75 440.8H186.25L186.25 440.9H186.75L186.75 441.0H187.25L187.25 440.9H187.75L187.75 440.3H188.25L188.25 440.5H188.75L188.75 440.7H189.25L189.25 441.7H189.75L189.75 440.5H190.25L190.25 441.5H190.75L190.75 440.0H191.25L191.25 441.9H191.75L191.75 441.0H192.25L192.25 440.9H192.75L192.75 442.0H193.25L193.25 439.5H193.75L193.75 439.8H194.25L194.25 441.3H194.75L194.75 440.3H195.25L195.25 440.6H195.75L195.75 443.0H196.25L196.25 440.7H196.75L196.75 441.0H197.25L197.25 440.8H197.75L197.75 441.8H198.25L198.25 441.1H198.75L198.75 441.1H199.25L199.25 440.0H199.75L199.75 440.6H200.25L200.25 440.9H200.75L200.75 439.7H201.25L201.25 441.4H201.75L201.75 441.2H202.25L202.25 442.4H202.75L202.75 439.7H203.25L203.25 440.1H203.75L203.75 440.2H204.25L204.25 440.4H204.75L204.75 440.8H205.25L205.25 440.7H205.75L205.75 441.1H206.25L206.25 441.1H206.75L206.75 440.9H207.25L207.25 439.7H207.75L207.75 440.5H208.25L208.25 441.0H208.75L208.75 441.4H209.25L209.25 441.4H209.75L209.75 439.6H210.25L210.25 440.5H210.75L210.75 440.9H211.25L211.25 441.2H211.75L211.75 441.8H212.25L212.25 441.0H212.75L212.75 440.2H213.25L213.25 441.2H213.75L213.75 441.1H214.25L214.25 441.1H214.75L214.75 440.8H215.25L215.25 442.2H215.75L215.75 441.1H216.25L216.25 441.6H216.75L216.75 440.2H217.25L217.25 441.5H217.75L217.75 440.5H218.25L218.25 439.7H218.75L218.75 441.2H219.25L219.25 441.4H219.75L219.75 440.8H220.25L220.25 440.9H220.75L220.75 441.7H221.25L221.25 440.5H221.75L221.75 439.3H222.25L222.25 441.1H222.75L222.75 441.1H223.25L223.25 441.7H223.75L223.75 440.7H224.25L224.25 441.9H224.75L224.75 441.8H225.25L225.25 439.9H225.75L225.75 441.6H226.25L226.25 440.1H226.75L226.75 439.7H227.25L227.25 440.7H227.75L227.75 440.5H228.25L228.25 439.4H228.75L228.75 441.1H229.25L229.25 441.4H229.75L229.75 442.0H230.25L230.25 440.9H230.75L230.75 439.7H231.25L231.25 440.1H231.75L231.75 441.7H232.25L232.25 441.6H232.75L232.75 441.3H233.25L233.25 440.7H233.75L233.75 441.1H234.25L234.25 440.7H234.75L234.75 440.7H235.25L235.25 441.2H235.75L235.75 440.9H236.25L236.25 440.8H236.75L236.75 441.0H237.25L237.25 440.5H237.75L237.75 439.4H238.25L238.25 440.4H238.75L238.75 440.9H239.25L239.25 442.3H239.75L239.75 440.6H240.25L240.25 442.5H240.75L240.75 442.0H241.25L241.25 440.2H241.75L241.75 440.4H242.25L242.25 441.0H242.75L242.75 442.3H243.25L243.25 441.2H243.75L243.75 441.5H244.25L244.25 440.4H244.75L244.75 439.1H245.25L245.25 440.7H245.75L245.75 441.5H246.25L246.25 441.8H246.75L246.75 441.0H247.25L247.25 441.1H247.75L247.75 441.8H248.25L248.25 440.8H248.75L248.75 441.8H249.25L249.25 440.0H249.75L249.75 440.1H250.25L250.25 440.0H250.75L250.75 441.3H251.25L251.25 440.5H251.75L251.75 441.0H252.25L252.25 441.2H252.75L252.75 441.2H253.25L253.25 442.0H253.75L253.75 442.1H254.25L254.25 440.3H254.75L254.75 441.1H255.25L255.25 440.7H255.75L255.75 440.1H256.25L256.25 442.3H256.75L256.75 441.5H257.25L257.25 440.8H257.75L257.75 440.6H258.25L258.25 441.2H258.75L258.75 440.1H259.25L259.25 440.7H259.75L259.75 441.9H260.25L260.25 441.7H260.75L260.75 440.3H261.25L261.25 440.5H261.75L261.75 442.4H262.25L262.25 439.8H262.75L262.75 440.4H263.25L263.25 439.8H263.75L263.75 441.2H264.25L264.25 441.2H264.75L264.75 441.8H265.25L265.25 438.9H265.75L265.75 441.1H266.25L266.25 439.6H266.75L266.75 441.4H267.25L267.25 440.8H267.75L267.75 442.2H268.25L268.25 441.2H268.75L268.75 440.1H269.25L269.25 441.9H269.75L269.75 440.1H270.25L270.25 440.6H270.75L270.75 441.7H271.25L271.25 441.3H271.75L271.75 441.3H272.25L272.25 441.0H272.75L272.75 441.3H273.25L273.25 441.6H273.75L273.75 441.2H274.25L274.25 441.7H274.75L274.75 441.9H275.25L275.25 441.0H275.75L275.75 440.2H276.25L276.25 442.1H276.75L276.75 440.9H277.25L277.25 441.4H277.75L277.75 441.7H278.25L278.25 440.2H278.75L278.75 441.3H279.25L279.25 439.7H279.75L279.75 441.5H280.25L280.25 440.6H280.75L280.75 441.1H281.25L281.25 441.5H281.75L281.75 440.4H282.25L282.25 441.0H282.75L282.75 440.4H283.25L283.25 441.0H283.75L283.75 441.8H284.25L284.25 441.0H284.75L284.75 440.9H285.25L285.25 440.2H285.75L285.75 441.6H286.25L286.25 440.9H286.75L286.75 442.3H287.25L287.25 440.4H287.75L287.75 441.8H288.25L288.25 442.4H288.75L288.75 441.0H289.25L289.25 440.0H289.75L289.75 442.1H290.25L290.25 441.8H290.75L290.75 441.5H291.25L291.25 441.8H291.75L291.75 440.6H292.25L292.25 441.6H292.75L292.75 441.5H293.25L293.25 440.4H293.75L293.75 441.5H294.25L294.25 440.6H294.75L294.75 441.7H295.25L295.25 441.9H295.75L295.75 442.4H296.25L296.25 439.4H296.75L296.75 441.2H297.25L297.25 440.7H297.75L297.75 440.9H298.25L298.25 440.8H298.75L298.75 440.9H299.25L299.25 439.4H299.75L299.75 441.7H300.25L300.25 442.2H300.75L300.75 441.7H301.25L301.25 442.0H301.75L301.75 440.3H302.25L302.25 440.3H302.75L302.75 441.7H303.25L303.25 442.0H303.75L303.75 441.2H304.25L304.25 439.8H304.75L304.75 443.2H305.25L305.25 440.5H305.75L305.75 441.8H306.25L306.25 440.1H306.75L306.75 441.8H307.25L307.25 441.1H307.75L307.75 442.1H308.25L308.25 441.7H308.75L308.75 439.8H309.25L309.25 440.3H309.75L309.75 441.2H310.25L310.25 441.6H310.75L310.75 442.4H311.25L311.25 441.2H311.75L311.75 440.9H312.25L312.25 441.0H312.75L312.75 441.0H313.25L313.25 441.8H313.75L313.75 441.0H314.25L314.25 440.9H314.75L314.75 439.9H315.25L315.25 439.4H315.75L315.75 441.0H316.25L316.25 441.5H316.75L316.75 441.0H317.25L317.25 441.4H317.75L317.75 441.5H318.25L318.25 441.0H318.75L318.75 441.7H319.25L319.25 440.4H319.75L319.75 441.0H320.25L320.25 440.7H320.75L320.75 441.1H321.25L321.25 441.5H321.75L321.75 441.7H322.25L322.25 441.1H322.75L322.75 441.4H323.25L323.25 440.7H323.75L323.75 440.9H324.25L324.25 442.0H324.75L324.75 440.9H325.25L325.25 442.0H325.75L325.75 441.4H326.25L326.25 441.1H326.75L326.75 442.6H327.25L327.25 440.8H327.75L327.75 440.8H328.25L328.25 441.0H328.75L328.75 441.3H329.25L329.25 441.2H329.75L329.75 441.7H330.25L330.25 441.1H330.75L330.75 441.4H331.25L331.25 440.8H331.75L331.75 441.9H332.25L332.25 440.7H332.75L332.75 440.8H333.25L333.25 441.0H333.75L333.75 441.3H334.25L334.25 440.5H334.75L334.75 442.2H335.25L335.25 440.5H335.75L335.75 440.7H336.25L336.25 440.7H336.75L336.75 440.6H337.25L337.25 441.4H337.75L337.75 441.1H338.25L338.25 440.4H338.75L338.75 440.6H339.25L339.25 440.8H339.75L339.75 442.1H340.25L340.25 440.5H340.75L340.75 440.0H341.25L341.25 440.1H341.75L341.75 440.7H342.25L342.25 442.2H342.75L342.75 440.2H343.25L343.25 441.0H343.75L343.75 442.9H344.25L344.25 440.6H344.75L344.75 442.1H345.25L345.25 441.9H345.75L345.75 441.4H346.25L346.25 439.9H346.75L346.75 441.2H347.25L347.25 440.7H347.75L347.75 439.5H348.25L348.25 439.6H348.75L348.75 441.0H349.25L349.25 441.1H349.75L349.75 441.9H350.25L350.25 441.5H350.75L350.75 440.6H351.25L351.25 440.6H351.75L351.75 440.8H352.25L352.25 440.1H352.75L352.75 441.5H353.25L353.25 441.0H353.75L353.75 440.3H354.25L354.25 440.4H354.75L354.75 440.1H355.25L355.25 440.6H355.75L355.75 441.2H356.25L356.25 440.6H356.75L356.75 441.7H357.25L357.25 442.2H357.75L357.75 440.5H358.25L358.25 441.0H358.75L358.75 440.7H359.25L359.25 442.3H359.75L359.75 441.2H360.25L360.25 441.4H360.75L360.75 441.6H361.25L361.25 442.7H361.75L361.75 441.2H362.25L362.25 440.2H362.75L362.75 440.6H363.25L363.25 441.4H363.75L363.75 440.9H364.25L364.25 440.3H364.75L364.75 443.1H365.25L365.25 441.0H365.75L365.75 440.5H366.25L366.25 440.4H366.75L366.75 439.6H367.25L367.25 440.0H367.75L367.75 440.7H368.25L368.25 440.7H368.75L368.75 440.3H369.25L369.25 441.3H369.75L369.75 440.9H370.25L370.25 440.2H370.75L370.75 439.4H371.25L371.25 441.0H371.75L371.75 441.0H372.25L372.25 440.8H372.75L372.75 439.8H373.25L373.25 440.9H373.75L373.75 439.7H374.25L374.25 441.7H374.75L374.75 441.1H375.25L375.25 441.1H375.75L375.75 440.3H376.25L376.25 440.1H376.75L376.75 442.1H377.25L377.25 441.6H377.75L377.75 440.6H378.25L378.25 441.4H378.75L378.75 442.1H379.25L379.25 440.1H379.75L379.75 440.5H380.25L380.25 440.5H380.75L380.75 441.3H381.25L381.25 440.1H381.75L381.75 441.1H382.25L382.25 440.0H382.75L382.75 441.6H383.25L383.25 441.6H383.75L383.75 440.8H384.25L384.25 441.5H384.75L384.75 440.4H385.25L385.25 440.7H385.75L385.75 441.7H386.25L386.25 440.9H386.75L386.75 441.2H387.25L387.25 440.2H387.75L387.75 441.4H388.25L388.25 441.3H388.75L388.75 439.9H389.25L389.25 439.1H389.75L389.75 439.3H390.25L390.25 440.9H390.75L390.75 440.7H391.25L391.25 439.7H391.75L391.75 441.0H392.25L392.25 441.7H392.75L392.75 440.8H393.25L393.25 440.6H393.75L393.75 441.6H394.25L394.25 442.2H394.75L394.75 442.1H395.25L395.25 440.4H395.75L395.75 441.5H396.25L396.25 441.0H396.75L396.75 440.7H397.25L397.25 440.4H397.75L397.75 441.2H398.25L398.25 440.5H398.75L398.75 441.6H399.25L399.25 441.2H399.75L399.75 492.5H399.25L399.25 492.4H398.75L398.75 491.3H398.25L398.25 491.0H397.75L397.75 492.3H397.25L397.25 492.3H396.75L396.75 491.1H396.25L396.25 491.2H395.75L395.75 491.8H395.25L395.25 493.3H394.75L394.75 491.8H394.25L394.25 491.9H393.75L393.75 492.7H393.25L393.25 491.5H392.75L392.75 490.9H392.25L392.25 493.5H391.75L391.75 492.3H391.25L391.25 492.2H390.75L390.75 490.8H390.25L390.25 491.0H389.75L389.75 490.7H389.25L389.25 491.7H388.75L388.75 491.1H388.25L388.25 491.1H387.75L387.75 491.5H387.25L387.25 492.1H386.75L386.75 491.1H386.25L386.25 491.5H385.75L385.75 492.3H385.25L385.25 492.3H384.75L384.75 492.7H384.25L384.25 492.2H383.75L383.75 491.9H383.25L383.25 491.1H382.75L382.75 493.0H382.25L382.25 491.3H381.75L381.75 492.4H381.25L381.25 492.9H380.75L380.75 492.5H380.25L380.25 494.0H379.75L379.75 492.7H379.25L379.25 490.8H378.75L378.75 491.8H378.25L378.25 492.0H377.75L377.75 493.3H377.25L377.25 493.1H376.75L376.75 491.0H376.25L376.25 492.2H375.75L375.75 492.2H375.25L375.25 493.1H374.75L374.75 492.2H374.25L374.25 491.4H373.75L373.75 490.1H373.25L373.25 492.1H372.75L372.75 492.5H372.25L372.25 491.5H371.75L371.75 492.8H371.25L371.25 490.8H370.75L370.75 492.6H370.25L370.25 491.9H369.75L369.75 492.6H369.25L369.25 492.1H368.75L368.75 491.3H368.25L368.25 492.2H367.75L367.75 490.7H367.25L367.25 493.2H366.75L366.75 492.0H366.25L366.25 491.6H365.75L365.75 492.1H365.25L365.25 492.0H364.75L364.75 491.8H364.25L364.25 491.9H363.75L363.75 492.7H363.25L363.25 493.2H362.75L362.75 492.4H362.25L362.25 492.9H361.75L361.75 491.4H361.25L361.25 493.1H360.75L360.75 490.9H360.25L360.25 491.1H359.75L359.75 490.9H359.25L359.25 492.1H358.75L358.75 493.1H358.25L358.25 492.7H357.75L357.75 492.3H357.25L357.25 493.0H356.75L356.75 492.4H356.25L356.25 492.3H355.75L355.75 491.6H355.25L355.25 491.5H354.75L354.75 492.2H354.25L354.25 492.9H353.75L353.75 492.6H353.25L353.25 492.5H352.75L352.75 491.9H352.25L352.25 491.9H351.75L351.75 493.0H351.25L351.25 491.4H350.75L350.75 494.0H350.25L350.25 491.9H349.75L349.75 492.2H349.25L349.25 491.5H348.75L348.75 492.5H348.25L348.25 492.1H347.75L347.75 491.3H347.25L347.25 491.6H346.75L346.75 492.5H346.25L346.25 491.4H345.75L345.75 492.3H345.25L345.25 492.1H344.75L344.75 491.0H344.25L344.25 491.6H343.75L343.75 493.4H343.25L343.25 491.1H342.75L342.75 491.6H342.25L342.25 492.8H341.75L341.75 492.1H341.25L341.25 491.2H340.75L340.75 491.6H340.25L340.25 491.4H339.75L339.75 490.1H339.25L339.25 492.2H338.75L338.75 492.7H338.25L338.25 492.6H337.75L337.75 492.1H337.25L337.25 492.4H336.75L336.75 493.0H336.25L336.25 491.2H335.75L335.75 491.7H335.25L335.25 492.6H334.75L334.75 491.6H334.25L334.25 492.2H333.75L333.75 491.8H333.25L333.25 490.8H332.75L332.75 492.4H332.25L332.25 492.9H331.75L331.75 492.8H331.25L331.25 492.8H330.75L330.75 492.8H330.25L330.25 492.4H329.75L329.75 492.1H329.25L329.25 491.7H328.75L328.75 491.4H328.25L328.25 491.7H327.75L327.75 492.8H327.25L327.25 492.4H326.75L326.75 490.8H326.25L326.25 492.1H325.75L325.75 492.9H325.25L325.25 491.0H324.75L324.75 490.8H324.25L324.25 491.3H323.75L323.75 490.8H323.25L323.25 491.9H322.75L322.75 493.2H322.25L322.25 492.3H321.75L321.75 491.7H321.25L321.25 492.2H320.75L320.75 491.3H320.25L320.25 491.8H319.75L319.75 491.8H319.25L319.25 492.6H318.75L318.75 492.5H318.25L318.25 491.9H317.75L317.75 491.2H317.25L317.25 490.6H316.75L316.75 491.6H316.25L316.25 491.5H315.75L315.75 492.0H315.25L315.25 490.9H314.75L314.75 492.5H314.25L314.25 491.8H313.75L313.75 491.8H313.25L313.25 492.9H312.75L312.75 492.7H312.25L312.25 492.7H311.75L311.75 492.6H311.25L311.25 491.5H310.75L310.75 492.5H310.25L310.25 492.4H309.75L309.75 492.0H309.25L309.25 491.5H308.75L308.75 491.3H308.25L308.25 491.8H307.75L307.75 490.5H307.25L307.25 491.8H306.75L306.75 491.9H306.25L306.25 491.8H305.75L305.75 491.3H305.25L305.25 491.6H304.75L304.75 492.0H304.25L304.25 491.6H303.75L303.75 490.3H303.25L303.25 493.1H302.75L302.75 491.0H302.25L302.25 490.5H301.75L301.75 491.7H301.25L301.25 491.4H300.75L300.75 492.2H300.25L300.25 491.9H299.75L299.75 491.6H299.25L299.25 491.1H298.75L298.75 491.9H298.25L298.25 492.3H297.75L297.75 491.2H297.25L297.25 490.7H296.75L296.75 491.3H296.25L296.25 491.5H295.75L295.75 492.6H295.25L295.25 492.2H294.75L294.75 491.7H294.25L294.25 491.8H293.75L293.75 491.2H293.25L293.25 493.6H292.75L292.75 491.9H292.25L292.25 491.8H291.75L291.75 491.2H291.25L291.25 491.9H290.75L290.75 491.1H290.25L290.25 491.4H289.75L289.75 492.3H289.25L289.25 492.1H288.75L288.75 491.9H288.25L288.25 492.8H287.75L287.75 493.6H287.25L287.25 492.6H286.75L286.75 491.8H286.25L286.25 492.1H285.75L285.75 493.1H285.25L285.25 491.3H284.75L284.75 490.9H284.25L284.25 492.3H283.75L283.75 492.6H283.25L283.25 491.8H282.75L282.75 490.4H282.25L282.25 491.3H281.75L281.75 490.2H281.25L281.25 491.3H280.75L280.75 492.7H280.25L280.25 491.3H279.75L279.75 491.9H279.25L279.25 491.3H278.75L278.75 491.5H278.25L278.25 491.3H277.75L277.75 491.8H277.25L277.25 492.8H276.75L276.75 491.0H276.25L276.25 492.4H275.75L275.75 491.6H275.25L275.25 491.7H274.75L274.75 491.9H274.25L274.25 492.1H273.75L273.75 492.2H273.25L273.25 492.1H272.75L272.75 492.6H272.25L272.25 491.7H271.75L271.75 491.2H271.25L271.25 491.8H270.75L270.75 490.9H270.25L270.25 491.5H269.75L269.75 491.5H269.25L269.25 492.4H268.75L268.75 491.4H268.25L268.25 491.7H267.75L267.75 491.4H267.25L267.25 491.7H266.75L266.75 492.0H266.25L266.25 492.4H265.75L265.75 493.6H265.25L265.25 492.0H264.75L264.75 490.7H264.25L264.25 493.5H263.75L263.75 493.3H263.25L263.25 491.3H262.75L262.75 492.1H262.25L262.25 492.4H261.75L261.75 491.3H261.25L261.25 491.1H260.75L260.75 492.0H260.25L260.25 491.9H259.75L259.75 491.3H259.25L259.25 491.8H258.75L258.75 490.2H258.25L258.25 492.6H257.75L257.75 491.6H257.25L257.25 492.0H256.75L256.75 491.9H256.25L256.25 491.6H255.75L255.75 491.6H255.25L255.25 491.0H254.75L254.75 490.0H254.25L254.25 492.9H253.75L253.75 490.6H253.25L253.25 491.7H252.75L252.75 491.1H252.25L252.25 491.2H251.75L251.75 492.6H251.25L251.25 492.4H250.75L250.75 490.9H250.25L250.25 492.6H249.75L249.75 493.1H249.25L249.25 492.1H248.75L248.75 491.3H248.25L248.25 492.3H247.75L247.75 490.1H247.25L247.25 491.3H246.75L246.75 490.6H246.25L246.25 491.0H245.75L245.75 491.5H245.25L245.25 492.4H244.75L244.75 492.4H244.25L244.25 491.3H243.75L243.75 491.2H243.25L243.25 492.5H242.75L242.75 491.5H242.25L242.25 491.1H241.75L241.75 491.0H241.25L241.25 492.6H240.75L240.75 493.5H240.25L240.25 491.8H239.75L239.75 490.8H239.25L239.25 491.6H238.75L238.75 491.2H238.25L238.25 491.5H237.75L237.75 492.4H237.25L237.25 491.5H236.75L236.75 490.3H236.25L236.25 493.0H235.75L235.75 491.7H235.25L235.25 492.4H234.75L234.75 491.6H234.25L234.25 492.2H233.75L233.75 491.0H233.25L233.25 491.8H232.75L232.75 491.9H232.25L232.25 493.0H231.75L231.75 492.2H231.25L231.25 491.7H230.75L230.75 491.5H230.25L230.25 492.0H229.75L229.75 490.7H229.25L229.25 492.2H228.75L228.75 491.0H228.25L228.25 492.9H227.75L227.75 491.0H227.25L227.25 490.3H226.75L226.75 491.0H226.25L226.25 490.5H225.75L225.75 490.7H225.25L225.25 491.9H224.75L224.75 491.6H224.25L224.25 491.2H223.75L223.75 491.2H223.25L223.25 492.0H222.75L222.75 490.1H222.25L222.25 491.6H221.75L221.75 490.4H221.25L221.25 491.5H220.75L220.75 491.8H220.25L220.25 491.8H219.75L219.75 492.0H219.25L219.25 491.4H218.75L218.75 491.2H218.25L218.25 492.4H217.75L217.75 493.0H217.25L217.25 492.0H216.75L216.75 493.2H216.25L216.25 491.4H215.75L215.75 492.0H215.25L215.25 492.0H214.75L214.75 491.1H214.25L214.25 492.0H213.75L213.75 491.4H213.25L213.25 492.5H212.75L212.75 491.1H212.25L212.25 491.8H211.75L211.75 491.6H211.25L211.25 491.5H210.75L210.75 491.5H210.25L210.25 492.5H209.75L209.75 492.1H209.25L209.25 491.6H208.75L208.75 491.7H208.25L208.25 492.5H207.75L207.75 491.6H207.25L207.25 492.4H206.75L206.75 492.1H206.25L206.25 491.7H205.75L205.75 490.6H205.25L205.25 491.0H204.75L204.75 491.0H204.25L204.25 492.0H203.75L203.75 491.0H203.25L203.25 491.5H202.75L202.75 492.4H202.25L202.25 490.9H201.75L201.75 492.2H201.25L201.25 490.1H200.75L200.75 492.4H200.25L200.25 491.6H199.75L199.75 492.2H199.25L199.25 492.0H198.75L198.75 491.6H198.25L198.25 492.2H197.75L197.75 492.3H197.25L197.25 492.2H196.75L196.75 491.0H196.25L196.25 490.3H195.75L195.75 492.9H195.25L195.25 493.0H194.75L194.75 491.4H194.25L194.25 492.3H193.75L193.75 491.1H193.25L193.25 493.3H192.75L192.75 492.1H192.25L192.25 492.5H191.75L191.75 492.3H191.25L191.25 491.8H190.75L190.75 492.5H190.25L190.25 491.4H189.75L189.75 491.3H189.25L189.25 491.7H188.75L188.75 491.7H188.25L188.25 491.3H187.75L187.75 491.3H187.25L187.25 491.6H186.75L186.75 491.9H186.25L186.25 491.2H185.75L185.75 492.2H185.25L185.25 492.0H184.75L184.75 491.4H184.25L184.25 492.5H183.75L183.75 492.3H183.25L183.25 491.4H182.75L182.75 490.7H182.25L182.25 491.6H181.75L181.75 492.6H181.25L181.25 490.9H180.75L180.75 491.2H180.25L180.25 492.5H179.75L179.75 490.6H179.25L179.25 492.5H178.75L178.75 491.5H178.25L178.25 491.1H177.75L177.75 491.3H177.25L177.25 492.4H176.75L176.75 491.7H176.25L176.25 491.8H175.75L175.75 492.2H175.25L175.25 492.3H174.75L174.75 490.1H174.25L174.25 491.3H173.75L173.75 492.0H173.25L173.25 491.7H172.75L172.75 492.2H172.25L172.25 491.8H171.75L171.75 491.2H171.25L171.25 491.8H170.75L170.75 492.7H170.25L170.25 491.6H169.75L169.75 492.4H169.25L169.25 490.7H168.75L168.75 492.8H168.25L168.25 491.7H167.75L167.75 491.7H167.25L167.25 492.0H166.75L166.75 491.1H166.25L166.25 492.6H165.75L165.75 492.6H165.25L165.25 491.6H164.75L164.75 489.9H164.25L164.25 490.6H163.75L163.75 489.6H163.25L163.25 490.6H162.75L162.75 489.9H162.25L162.25 489.2H161.75L161.75 490.3H161.25L161.25 489.5H160.75L160.75 488.6H160.25L160.25 489.1H159.75L159.75 489.1H159.25L159.25 488.7H158.75L158.75 488.9H158.25L158.25 488.3H157.75L157.75 488.9H157.25L157.25 488.6H156.75L156.75 488.0H156.25L156.25 487.4H155.75L155.75 488.9H155.25L155.25 487.7H154.75L154.75 487.6H154.25L154.25 487.8H153.75L153.75 488.4H153.25L153.25 487.6H152.75L152.75 486.5H152.25L152.25 487.6H151.75L151.75 487.3H151.25L151.25 487.9H150.75L150.75 487.2H150.25L150.25 487.1H149.75L149.75 486.9H149.25L149.25 486.1H148.75L148.75 486.8H148.25L148.25 487.8H147.75L147.75 487.3H147.25L147.25 487.0H146.75L146.75 486.8H146.25L146.25 487.5H145.75L145.75 488.5H145.25L145.25 487.0H144.75L144.75 486.7H144.25L144.25 487.6H143.75L143.75 486.8H143.25L143.25 487.7H142.75L142.75 487.2H142.25L142.25 487.9H141.75L141.75 486.6H141.25L141.25 486.3H140.75L140.75 486.7H140.25L140.25 487.4H139.75L139.75 486.5H139.25L139.25 487.0H138.75L138.75 487.3H138.25L138.25 487.5H137.75L137.75 486.7H137.25L137.25 485.9H136.75L136.75 486.9H136.25L136.25 487.1H135.75L135.75 486.7H135.25L135.25 486.1H134.75L134.75 485.7H134.25L134.25 486.7H133.75L133.75 486.4H133.25L133.25 486.4H132.75L132.75 486.9H132.25L132.25 486.6H131.75L131.75 486.3H131.25L131.25 487.4H130.75L130.75 486.4H130.25L130.25 486.6H129.75L129.75 486.3H129.25L129.25 488.4H128.75L128.75 487.5H128.25L128.25 486.9H127.75L127.75 486.5H127.25L127.25 487.2H126.75L126.75 486.5H126.25L126.25 486.9H125.75L125.75 486.5H125.25L125.25 486.8H124.75L124.75 486.7H124.25L124.25 485.9H123.75L123.75 486.1H123.25L123.25 486.9H122.75L122.75 487.8H122.25L122.25 486.1H121.75L121.75 487.0H121.25L121.25 486.7H120.75L120.75 486.7H120.25L120.25 486.0H119.75L119.75 487.1H119.25L119.25 487.0H118.75L118.75 487.1H118.25L118.25 487.5H117.75L117.75 486.8H117.25L117.25 487.2H116.75L116.75 486.8H116.25L116.25 487.0H115.75L115.75 486.7H115.25L115.25 487.2H114.75L114.75 485.6H114.25L114.25 486.4H113.75L113.75 487.0H113.25L113.25 486.1H112.75L112.75 486.2H112.25L112.25 486.3H111.75L111.75 485.9H111.25L111.25 486.6H110.75L110.75 487.6H110.25L110.25 486.9H109.75L109.75 486.9H109.25L109.25 486.3H108.75L108.75 485.8H108.25L108.25 486.4H107.75L107.75 485.4H107.25L107.25 486.0H106.75L106.75 486.8H106.25L106.25 486.0H105.75L105.75 486.2H105.25L105.25 486.8H104.75L104.75 485.4H104.25L104.25 487.0H103.75L103.75 486.6H103.25L103.25 486.5H102.75L102.75 485.8H102.25L102.25 485.7H101.75L101.75 485.0H101.25L101.25 486.8H100.75L100.75 485.7H100.25L100.25 486.0H99.75L99.75 485.5H99.25L99.25 486.7H98.75L98.75 485.9H98.25L98.25 485.9H97.75L97.75 486.2H97.25L97.25 485.6H96.75L96.75 485.0H96.25L96.25 486.0H95.75L95.75 485.8H95.25L95.25 485.4H94.75L94.75 485.4H94.25L94.25 486.6H93.75L93.75 485.2H93.25L93.25 484.8H92.75L92.75 485.3H92.25L92.25 485.0H91.75L91.75 485.3H91.25L91.25 485.0H90.75L90.75 485.1H90.25L90.25 485.1H89.75L89.75 485.8H89.25L89.25 484.7H88.75L88.75 485.3H88.25L88.25 485.6H87.75L87.75 485.9H87.25L87.25 485.8H86.75L86.75 484.8H86.25L86.25 483.9H85.75L85.75 484.4H85.25L85.25 484.4H84.75L84.75 484.6H84.25L84.25 484.4H83.75L83.75 484.5H83.25L83.25 484.7H82.75L82.75 483.7H82.25L82.25 484.6H81.75L81.75 483.4H81.25L81.25 484.4H80.75L80.75 484.0H80.25L80.25 483.7H79.75L79.75 483.8H79.25L79.25 483.3H78.75L78.75 484.2H78.25L78.25 485.2H77.75L77.75 484.7H77.25L77.25 484.3H76.75L76.75 484.8H76.25L76.25 483.0H75.75L75.75 484.0H75.25L75.25 483.8H74.75L74.75 483.9H74.25L74.25 483.7H73.75L73.75 484.2H73.25L73.25 483.2H72.75L72.75 483.9H72.25L72.25 484.4H71.75L71.75 484.2H71.25L71.25 483.9H70.75L70.75 484.3H70.25L70.25 483.0H69.75L69.75 484.3H69.25L69.25 484.2H68.75L68.75 484.7H68.25L68.25 484.8H67.75L67.75 483.6H67.25L67.25 484.2H66.75L66.75 484.1H66.25L66.25 484.4H65.75L65.75 483.6H65.25L65.25 483.7H64.75L64.75 484.8H64.25L64.25 484.1H63.75L63.75 483.7H63.25L63.25 484.2H62.75L62.75 485.0H62.25L62.25 483.5H61.75L61.75 483.2H61.25L61.25 482.9H60.75L60.75 484.0H60.25L60.25 483.5H59.75L59.75 483.5H59.25L59.25 483.3H58.75L58.75 483.6H58.25L58.25 484.1H57.75L57.75 483.1H57.25Z" fill="#0072BD" stroke="none"/>
<path d="M57.50 449.0V487.8M58.00 442.8V486.6M58.50 447.7V489.1M59.00 449.2V489.6M59.50 445.9V484.4M60.00 446.1V490.8M60.50 444.8V486.7M61.00 444.7V484.1M61.50 446.7V485.7M62.00 449.3V487.0M62.50 445.3V491.5M63.00 443.6V489.8M63.50 445.9V483.7M64.00 443.2V484.5M64.50 445.5V492.2M65.00 448.0V491.8M65.50 443.8V488.3M66.00 447.4V487.1M66.50 449.1V490.5M67.00 448.9V488.5M67.50 450.1V488.2M68.00 447.4V486.8M68.50 448.6V495.2M69.00 447.5V485.9M69.50 445.2V485.4M70.00 446.3V487.8M70.50 447.5V493.7M71.00 444.7V486.3M71.50 448.7V486.7M72.00 447.1V485.6M72.50 450.2V488.9M73.00 448.0V489.6M73.50 445.2V485.3M74.00 449.8V488.2M74.50 445.2V488.5M75.00 445.6V484.7M75.50 447.1V488.5M76.00 445.0V485.3M76.50 447.8V486.5M77.00 448.0V492.9M77.50 447.0V485.5M78.00 443.3V488.2M78.50 443.2V489.7M79.00 447.5V487.0M79.50 441.6V495.3M80.00 447.7V491.5M80.50 447.1V486.2M81.00 440.9V488.1M81.50 438.7V491.6M82.00 438.4V493.4M82.50 439.7V492.0M83.00 443.0V488.4M83.50 444.6V491.2M84.00 446.7V492.1M84.50 448.1V486.4M85.00 447.7V493.2M85.50 445.5V493.5M86.00 444.4V493.6M86.50 438.6V486.9M87.00 443.8V487.7M87.50 438.5V487.2M88.00 441.7V494.1M88.50 447.5V486.5M89.00 443.9V492.9M89.50 447.7V487.3M90.00 448.7V488.0M90.50 438.6V487.0M91.00 444.8V495.5M91.50 447.8V486.1M92.00 448.4V492.8M92.50 441.8V488.0M93.00 445.3V493.4M93.50 449.1V492.0M94.00 441.5V489.0M94.50 445.6V490.0M95.00 440.4V486.8M95.50 444.0V489.5M96.00 443.5V486.2M96.50 444.3V491.2M97.00 441.0V490.9M97.50 438.8V488.7M98.00 440.8V496.0M98.50 448.0V494.3M99.00 443.8V498.7M99.50 446.5V495.6M100.00 448.4V486.2M100.50 446.8V489.1M101.00 446.5V490.4M101.50 438.2V489.8M102.00 440.7V488.6M102.50 440.0V488.1M103.00 441.2V496.1M103.50 437.8V489.1M104.00 434.7V490.0M104.50 444.2V494.6M105.00 445.4V489.2M105.50 445.1V498.3M106.00 440.6V486.8M106.50 448.9V489.7M107.00 447.0V489.8M107.50 444.0V487.7M108.00 442.3V498.2M108.50 442.0V488.9M109.00 440.0V490.1M109.50 448.1V491.1M110.00 447.2V498.3M110.50 445.5V489.6M111.00 445.6V494.0M111.50 441.4V497.9M112.00 439.3V488.7M112.50 441.8V487.7M113.00 448.0V496.8M113.50 446.5V489.8M114.00 441.5V488.4M114.50 440.5V486.3M115.00 444.1V492.7M115.50 445.5V495.1M116.00 446.1V494.9M116.50 442.7V492.1M117.00 441.2V491.1M117.50 439.5V495.6M118.00 447.2V493.4M118.50 448.5V495.6M119.00 438.9V499.0M119.50 442.0V493.3M120.00 443.0V492.3M120.50 439.8V487.9M121.00 447.4V488.9M121.50 446.4V487.5M122.00 441.3V494.4M122.50 443.4V496.7M123.00 447.4V492.3M123.50 444.9V487.5M124.00 443.9V487.0M124.50 441.9V490.7M125.00 443.7V490.3M125.50 446.8V488.2M126.00 440.4V487.7M126.50 444.5V492.3M127.00 438.1V494.3M127.50 443.2V487.0M128.00 447.9V489.6M128.50 446.3V490.2M129.00 448.2V493.3M129.50 447.0V491.7M130.00 447.3V490.3M130.50 444.0V494.2M131.00 445.6V490.9M131.50 444.6V489.0M132.00 441.4V493.5M132.50 439.6V494.5M133.00 447.5V494.2M133.50 441.8V487.9M134.00 437.4V498.7M134.50 444.7V489.9M135.00 446.1V494.8M135.50 444.4V492.3M136.00 446.8V492.6M136.50 440.0V489.8M137.00 441.6V494.8M137.50 446.0V488.3M138.00 447.7V492.5M138.50 439.9V493.4M139.00 446.4V494.2M139.50 442.7V493.8M140.00 441.3V490.8M140.50 442.4V489.1M141.00 440.4V495.1M141.50 444.0V491.5M142.00 441.0V490.4M142.50 444.6V488.4M143.00 445.6V494.9M143.50 444.3V494.4M144.00 437.3V492.7M144.50 442.2V490.1M145.00 441.8V492.9M145.50 446.0V497.3M146.00 446.9V492.7M146.50 438.3V493.8M147.00 444.1V494.9M147.50 440.2V494.0M148.00 440.4V492.2M148.50 437.2V488.4M149.00 442.0V492.3M149.50 442.4V496.2M150.00 445.6V495.7M150.50 444.1V488.5M151.00 447.5V488.9M151.50 436.4V493.0M152.00 445.9V495.0M152.50 448.0V487.2M153.00 444.7V493.1M153.50 444.5V490.8M154.00 438.1V496.9M154.50 437.4V491.0M155.00 444.7V488.5M155.50 438.5V496.3M156.00 438.5V490.3M156.50 435.5V492.1M157.00 440.2V489.8M157.50 435.0V500.5M158.00 437.1V489.7M158.50 438.1V491.6M159.00 439.8V494.7M159.50 434.2V492.3M160.00 441.7V496.2M160.50 435.2V498.3M161.00 442.3V500.8M161.50 442.9V490.6M162.00 440.5V499.8M162.50 439.1V492.1M163.00 439.9V494.5M163.50 440.4V495.6M164.00 441.0V505.4M164.50 438.6V502.0M165.00 435.9V496.8M165.50 437.1V508.2M166.00 439.9V498.1M166.50 430.2V494.6M167.00 437.1V497.0M167.50 436.4V496.5M168.00 434.1V506.3M168.50 434.2V500.2M169.00 426.8V497.0M169.50 432.2V497.5M170.00 427.8V506.1M170.50 434.0V502.7M171.00 440.0V499.8M171.50 434.2V495.4M172.00 439.1V503.5M172.50 438.2V493.5M173.00 440.5V501.7M173.50 436.5V497.2M174.00 440.7V496.2M174.50 432.2V500.6M175.00 433.9V500.4M175.50 431.8V504.2M176.00 429.1V508.4M176.50 434.0V493.1M177.00 432.9V498.6M177.50 427.6V500.8M178.00 438.3V492.2M178.50 438.2V498.2M179.00 435.8V504.8M179.50 439.4V493.6M180.00 434.1V494.0M180.50 437.2V494.8M181.00 435.4V495.1M181.50 435.6V496.1M182.00 434.9V496.9M182.50 440.8V501.1M183.00 433.5V497.8M183.50 431.7V499.6M184.00 432.8V493.9M184.50 441.1V504.1M185.00 431.1V503.8M185.50 433.6V496.5M186.00 427.9V503.0M186.50 428.1V496.1M187.00 435.2V499.6M187.50 435.1V505.3M188.00 437.5V492.4M188.50 437.5V492.6M189.00 436.7V497.2M189.50 433.0V507.7M190.00 435.6V504.5M190.50 441.0V494.9M191.00 435.0V495.7M191.50 439.7V498.0M192.00 427.9V496.4M192.50 430.0V496.3M193.00 438.7V499.4M193.50 433.5V505.9M194.00 435.7V492.8M194.50 440.7V503.8M195.00 425.8V498.4M195.50 430.1V504.4M196.00 440.9V490.4M196.50 436.0V491.7M197.00 436.8V493.4M197.50 439.0V503.6M198.00 434.4V497.3M198.50 432.4V504.2M199.00 432.5V500.6M199.50 432.4V493.3M200.00 440.5V496.1M200.50 438.3V507.1M201.00 428.5V502.9M201.50 433.5V506.4M202.00 436.9V492.0M202.50 437.3V503.9M203.00 430.2V506.6M203.50 439.9V495.6M204.00 425.3V500.6M204.50 437.1V494.5M205.00 429.7V499.9M205.50 438.2V495.7M206.00 440.6V497.6M206.50 436.4V494.4M207.00 433.6V495.0M207.50 438.0V502.3M208.00 431.1V499.6M208.50 438.8V504.3M209.00 433.5V501.3M209.50 439.6V503.4M210.00 429.8V494.4M210.50 438.3V503.8M211.00 432.7V491.7M211.50 431.8V499.2M212.00 438.9V495.0M212.50 439.9V494.2M213.00 433.7V498.6M213.50 435.6V498.9M214.00 428.2V497.5M214.50 432.3V500.0M215.00 435.6V503.8M215.50 436.6V494.1M216.00 435.6V507.3M216.50 436.5V500.7M217.00 435.7V497.1M217.50 439.7V496.9M218.00 437.1V498.7M218.50 436.7V499.9M219.00 438.4V502.7M219.50 432.6V503.7M220.00 439.5V501.9M220.50 438.6V496.1M221.00 435.8V502.5M221.50 437.0V499.2M222.00 436.6V493.7M222.50 436.9V501.9M223.00 435.5V495.1M223.50 434.2V506.5M224.00 429.8V499.8M224.50 432.4V502.8M225.00 437.0V505.8M225.50 434.8V505.9M226.00 437.0V491.2M226.50 437.4V491.4M227.00 429.0V492.7M227.50 439.9V498.2M228.00 438.2V498.2M228.50 431.9V492.0M229.00 434.5V494.7M229.50 438.3V497.9M230.00 431.5V497.0M230.50 436.3V504.8M231.00 427.5V497.5M231.50 439.1V503.0M232.00 431.7V506.7M232.50 440.4V498.0M233.00 436.9V496.3M233.50 430.8V493.7M234.00 430.5V495.8M234.50 430.6V496.0M235.00 431.4V496.8M235.50 438.5V493.9M236.00 440.6V505.8M236.50 435.7V504.8M237.00 440.3V502.3M237.50 429.8V505.2M238.00 439.3V492.7M238.50 436.8V495.2M239.00 438.6V494.7M239.50 442.1V492.7M240.00 435.0V497.8M240.50 441.6V495.8M241.00 432.0V494.5M241.50 432.5V499.7M242.00 436.2V496.5M242.50 431.6V499.8M243.00 433.4V498.3M243.50 437.6V497.4M244.00 432.0V504.6M244.50 430.0V497.7M245.00 432.2V498.4M245.50 436.8V495.7M246.00 431.5V505.4M246.50 431.3V493.7M247.00 437.1V494.0M247.50 440.1V505.3M248.00 432.1V502.1M248.50 433.4V501.8M249.00 439.2V499.1M249.50 427.9V497.6M250.00 436.6V500.7M250.50 429.8V501.2M251.00 437.5V495.4M251.50 427.8V500.9M252.00 440.5V500.0M252.50 437.4V495.9M253.00 430.1V493.5M253.50 439.5V498.2M254.00 436.9V495.5M254.50 429.4V494.6M255.00 441.0V497.7M255.50 437.4V503.5M256.00 430.9V493.4M256.50 441.2V492.8M257.00 429.1V498.7M257.50 431.4V503.3M258.00 439.0V493.2M258.50 434.6V498.2M259.00 433.9V492.1M259.50 433.0V498.1M260.00 438.4V493.4M260.50 437.4V500.1M261.00 437.6V495.6M261.50 437.3V499.5M262.00 440.5V505.1M262.50 429.7V507.8M263.00 430.5V493.6M263.50 426.7V496.7M264.00 433.5V495.5M264.50 435.7V493.2M265.00 438.7V498.8M265.50 435.0V499.1M266.00 430.2V502.6M266.50 435.8V498.1M267.00 435.0V498.3M267.50 430.2V500.2M268.00 438.9V502.2M268.50 432.2V498.7M269.00 438.9V492.8M269.50 433.7V507.2M270.00 426.3V491.9M270.50 431.3V498.4M271.00 430.8V492.6M271.50 433.4V497.9M272.00 430.3V493.5M272.50 437.8V503.2M273.00 435.5V493.3M273.50 439.2V500.4M274.00 440.2V500.8M274.50 436.8V495.3M275.00 433.9V499.1M275.50 432.2V495.7M276.00 440.0V495.6M276.50 431.6V494.3M277.00 438.1V493.0M277.50 438.2V500.2M278.00 432.4V492.2M278.50 430.2V493.9M279.00 433.1V492.4M279.50 425.5V501.9M280.00 436.4V497.9M280.50 431.3V498.5M281.00 437.1V498.5M281.50 432.5V506.6M282.00 431.7V506.6M282.50 429.2V496.7M283.00 430.4V495.7M283.50 436.6V499.0M284.00 433.4V504.6M284.50 433.8V497.9M285.00 437.2V497.2M285.50 434.2V504.2M286.00 434.9V492.7M286.50 434.9V492.6M287.00 441.0V502.4M287.50 429.3V505.3M288.00 428.4V493.4M288.50 441.9V492.2M289.00 430.4V492.2M289.50 434.1V499.5M290.00 430.2V493.1M290.50 432.6V498.0M291.00 436.7V500.1M291.50 433.8V491.4M292.00 431.3V502.6M292.50 435.5V495.1M293.00 440.9V500.4M293.50 431.3V495.6M294.00 433.8V504.5M294.50 430.4V496.7M295.00 438.7V492.2M295.50 433.1V497.9M296.00 432.7V494.8M296.50 435.5V505.5M297.00 436.6V492.7M297.50 437.0V495.3M298.00 440.9V500.9M298.50 438.2V504.1M299.00 437.2V493.6M299.50 438.2V502.3M300.00 433.3V499.5M300.50 437.5V505.4M301.00 435.5V491.6M301.50 438.9V502.7M302.00 436.4V493.4M302.50 432.0V492.3M303.00 436.5V501.2M303.50 435.5V499.0M304.00 436.6V502.7M304.50 433.7V498.2M305.00 433.4V495.5M305.50 437.6V495.2M306.00 436.1V494.4M306.50 432.6V499.8M307.00 440.8V503.5M307.50 430.7V491.6M308.00 436.7V496.6M308.50 439.0V495.6M309.00 431.6V492.5M309.50 431.5V499.4M310.00 434.4V504.5M310.50 431.8V496.0M311.00 441.5V505.9M311.50 430.5V506.7M312.00 433.0V496.1M312.50 431.2V504.1M313.00 434.1V502.2M313.50 435.4V508.4M314.00 436.8V494.2M314.50 434.9V495.9M315.00 425.8V506.6M315.50 427.5V503.2M316.00 432.2V501.5M316.50 433.7V492.7M317.00 431.2V497.2M317.50 440.7V493.9M318.00 433.4V501.4M318.50 436.1V499.7M319.00 433.8V504.4M319.50 437.3V500.9M320.00 429.0V493.0M320.50 432.0V495.9M321.00 440.7V499.3M321.50 438.4V503.0M322.00 436.6V506.4M322.50 432.2V495.5M323.00 429.8V508.6M323.50 432.1V493.9M324.00 438.4V493.2M324.50 438.8V495.1M325.00 435.1V507.1M325.50 435.2V499.2M326.00 432.3V503.2M326.50 432.0V502.6M327.00 440.0V494.4M327.50 433.1V499.9M328.00 434.2V500.0M328.50 437.1V493.3M329.00 433.3V498.3M329.50 429.5V494.6M330.00 430.8V496.9M330.50 431.7V496.8M331.00 440.0V502.9M331.50 439.1V495.7M332.00 434.1V499.6M332.50 437.6V499.7M333.00 434.8V494.9M333.50 429.1V503.4M334.00 439.8V496.3M334.50 432.8V495.7M335.00 434.7V501.2M335.50 439.1V497.7M336.00 438.1V500.2M336.50 432.6V494.9M337.00 430.1V506.6M337.50 432.6V501.2M338.00 436.0V497.4M338.50 436.7V503.3M339.00 436.0V507.1M339.50 439.0V493.1M340.00 437.1V502.2M340.50 427.0V507.1M341.00 438.3V492.6M341.50 436.2V494.8M342.00 429.4V502.4M342.50 437.4V494.9M343.00 433.1V498.0M343.50 434.4V503.8M344.00 433.0V499.2M344.50 431.6V500.4M345.00 435.7V504.2M345.50 432.8V496.0M346.00 436.9V502.3M346.50 426.3V499.4M347.00 428.3V494.1M347.50 435.4V506.6M348.00 429.6V504.5M348.50 433.6V494.2M349.00 435.9V501.1M349.50 433.1V499.1M350.00 438.8V492.4M350.50 433.1V504.9M351.00 440.4V498.8M351.50 438.2V498.5M352.00 428.1V493.7M352.50 437.5V497.7M353.00 432.0V505.2M353.50 440.7V506.5M354.00 437.3V509.6M354.50 434.6V499.7M355.00 433.0V498.4M355.50 432.8V499.3M356.00 437.3V494.8M356.50 438.4V494.2M357.00 433.1V506.8M357.50 441.0V502.6M358.00 439.8V492.8M358.50 438.6V496.3M359.00 435.7V499.4M359.50 432.8V497.1M360.00 433.8V502.3M360.50 435.7V493.6M361.00 428.5V494.6M361.50 435.7V493.3M362.00 434.9V499.1M362.50 436.8V496.0M363.00 439.7V498.9M363.50 439.4V501.2M364.00 427.3V495.9M364.50 433.9V500.1M365.00 435.1V492.3M365.50 440.6V498.9M366.00 431.4V502.9M366.50 436.5V503.6M367.00 430.2V509.0M367.50 434.0V502.9M368.00 435.2V495.1M368.50 429.0V495.0M369.00 434.0V497.7M369.50 434.6V498.9M370.00 439.4V502.1M370.50 434.1V506.2M371.00 435.8V491.4M371.50 440.3V501.5M372.00 439.6V494.3M372.50 435.9V503.4M373.00 437.2V494.8M373.50 433.2V493.8M374.00 438.5V493.1M374.50 441.5V495.9M375.00 431.0V500.6M375.50 437.9V495.5M376.00 435.2V492.8M376.50 438.0V498.2M377.00 440.0V502.2M377.50 437.6V494.7M378.00 432.7V497.3M378.50 441.0V492.7M379.00 433.7V491.0M379.50 427.7V497.3M380.00 434.9V497.5M380.50 436.9V503.4M381.00 430.8V493.1M381.50 438.3V500.4M382.00 437.9V500.4M382.50 431.5V498.2M383.00 441.6V497.3M383.50 433.7V494.9M384.00 434.1V495.4M384.50 441.3V493.3M385.00 439.7V503.6M385.50 433.3V492.7M386.00 434.9V493.2M386.50 437.7V500.1M387.00 432.6V497.7M387.50 438.1V497.9M388.00 437.1V494.7M388.50 440.1V493.1M389.00 433.5V505.4M389.50 427.6V492.2M390.00 427.6V494.7M390.50 428.4V500.2M391.00 435.7V495.9M391.50 427.2V504.1M392.00 433.7V495.7M392.50 435.6V497.5M393.00 438.8V498.2M393.50 433.6V498.9M394.00 440.4V501.5M394.50 429.0V492.4M395.00 437.6V500.1M395.50 439.2V501.6M396.00 440.5V491.8M396.50 434.5V497.8M397.00 433.3V497.8M397.50 436.7V497.3M398.00 437.3V497.7M398.50 438.4V499.1M399.00 436.4V501.2M399.50 435.4V503.6" stroke="#0072BD" stroke-width="0.92" fill="none"/>
<path d="M56.65 456.7V476.2" stroke="#EC7A42" stroke-width="1.3" fill="none"/>
<path d="M57.25 463.8H57.75L57.75 464.3H58.25L58.25 464.4H58.75L58.75 463.8H59.25L59.25 464.3H59.75L59.75 464.4H60.25L60.25 464.2H60.75L60.75 464.3H61.25L61.25 463.0H61.75L61.75 464.1H62.25L62.25 463.5H62.75L62.75 464.4H63.25L63.25 463.5H63.75L63.75 462.8H64.25L64.25 463.3H64.75L64.75 463.3H65.25L65.25 464.0H65.75L65.75 463.9H66.25L66.25 463.0H66.75L66.75 464.2H67.25L67.25 463.8H67.75L67.75 463.4H68.25L68.25 464.1H68.75L68.75 463.9H69.25L69.25 464.4H69.75L69.75 463.5H70.25L70.25 464.3H70.75L70.75 464.2H71.25L71.25 464.3H71.75L71.75 463.4H72.25L72.25 464.0H72.75L72.75 462.8H73.25L73.25 463.2H73.75L73.75 462.9H74.25L74.25 463.5H74.75L74.75 464.3H75.25L75.25 464.1H75.75L75.75 464.1H76.25L76.25 464.3H76.75L76.75 463.9H77.25L77.25 463.3H77.75L77.75 463.8H78.25L78.25 464.3H78.75L78.75 463.4H79.25L79.25 462.9H79.75L79.75 463.9H80.25L80.25 464.4H80.75L80.75 463.4H81.25L81.25 463.8H81.75L81.75 463.2H82.25L82.25 463.7H82.75L82.75 463.1H83.25L83.25 464.5H83.75L83.75 463.6H84.25L84.25 463.7H84.75L84.75 463.3H85.25L85.25 464.3H85.75L85.75 463.7H86.25L86.25 464.2H86.75L86.75 463.4H87.25L87.25 464.4H87.75L87.75 464.4H88.25L88.25 462.9H88.75L88.75 463.4H89.25L89.25 464.3H89.75L89.75 464.2H90.25L90.25 464.0H90.75L90.75 464.3H91.25L91.25 464.4H91.75L91.75 462.9H92.25L92.25 464.4H92.75L92.75 463.5H93.25L93.25 463.6H93.75L93.75 463.6H94.25L94.25 464.3H94.75L94.75 464.4H95.25L95.25 463.9H95.75L95.75 463.2H96.25L96.25 464.3H96.75L96.75 464.5H97.25L97.25 464.2H97.75L97.75 464.6H98.25L98.25 464.5H98.75L98.75 464.0H99.25L99.25 464.6H99.75L99.75 464.4H100.25L100.25 464.2H100.75L100.75 464.7H101.25L101.25 464.8H101.75L101.75 463.9H102.25L102.25 464.1H102.75L102.75 464.1H103.25L103.25 464.5H103.75L103.75 464.6H104.25L104.25 464.9H104.75L104.75 464.8H105.25L105.25 464.9H105.75L105.75 464.6H106.25L106.25 464.6H106.75L106.75 464.8H107.25L107.25 464.9H107.75L107.75 464.5H108.25L108.25 464.9H108.75L108.75 464.9H109.25L109.25 464.8H109.75L109.75 464.3H110.25L110.25 464.4H110.75L110.75 464.6H111.25L111.25 464.8H111.75L111.75 464.6H112.25L112.25 464.9H112.75L112.75 464.7H113.25L113.25 464.6H113.75L113.75 464.9H114.25L114.25 464.5H114.75L114.75 464.6H115.25L115.25 464.9H115.75L115.75 464.8H116.25L116.25 464.6H116.75L116.75 464.1H117.25L117.25 464.9H117.75L117.75 464.5H118.25L118.25 464.8H118.75L118.75 464.7H119.25L119.25 464.1H119.75L119.75 464.5H120.25L120.25 464.8H120.75L120.75 464.6H121.25L121.25 464.0H121.75L121.75 464.2H122.25L122.25 464.6H122.75L122.75 464.6H123.25L123.25 464.6H123.75L123.75 464.8H124.25L124.25 464.0H124.75L124.75 464.8H125.25L125.25 464.8H125.75L125.75 464.9H126.25L126.25 464.1H126.75L126.75 464.1H127.25L127.25 464.4H127.75L127.75 464.6H128.25L128.25 464.5H128.75L128.75 464.7H129.25L129.25 464.1H129.75L129.75 464.5H130.25L130.25 464.2H130.75L130.75 464.4H131.25L131.25 464.4H131.75L131.75 464.4H132.25L132.25 464.3H132.75L132.75 464.2H133.25L133.25 464.4H133.75L133.75 464.7H134.25L134.25 464.8H134.75L134.75 464.8H135.25L135.25 464.2H135.75L135.75 464.6H136.25L136.25 464.9H136.75L136.75 464.5H137.25L137.25 464.2H137.75L137.75 464.1H138.25L138.25 464.1H138.75L138.75 464.2H139.25L139.25 464.8H139.75L139.75 464.6H140.25L140.25 464.4H140.75L140.75 464.4H141.25L141.25 464.7H141.75L141.75 464.9H142.25L142.25 464.1H142.75L142.75 464.3H143.25L143.25 464.2H143.75L143.75 464.7H144.25L144.25 464.8H144.75L144.75 464.2H145.25L145.25 464.4H145.75L145.75 464.4H146.25L146.25 464.9H146.75L146.75 464.9H147.25L147.25 464.3H147.75L147.75 464.2H148.25L148.25 464.7H148.75L148.75 464.2H149.25L149.25 464.8H149.75L149.75 464.5H150.25L150.25 464.7H150.75L150.75 464.5H151.25L151.25 464.8H151.75L151.75 464.7H152.25L152.25 464.6H152.75L152.75 464.5H153.25L153.25 464.8H153.75L153.75 464.5H154.25L154.25 464.8H154.75L154.75 463.9H155.25L155.25 464.4H155.75L155.75 464.3H156.25L156.25 464.0H156.75L156.75 463.6H157.25L157.25 463.7H157.75L157.75 463.5H158.25L158.25 464.0H158.75L158.75 463.9H159.25L159.25 463.9H159.75L159.75 463.6H160.25L160.25 463.8H160.75L160.75 464.2H161.25L161.25 464.5H161.75L161.75 464.6H162.25L162.25 464.1H162.75L162.75 464.2H163.25L163.25 464.3H163.75L163.75 464.0H164.25L164.25 464.3H164.75L164.75 464.0H165.25L165.25 464.5H165.75L165.75 464.4H166.25L166.25 463.8H166.75L166.75 464.2H167.25L167.25 463.8H167.75L167.75 464.6H168.25L168.25 463.8H168.75L168.75 464.6H169.25L169.25 464.0H169.75L169.75 464.2H170.25L170.25 464.6H170.75L170.75 464.4H171.25L171.25 464.3H171.75L171.75 464.2H172.25L172.25 464.3H172.75L172.75 464.6H173.25L173.25 463.7H173.75L173.75 464.4H174.25L174.25 464.0H174.75L174.75 463.8H175.25L175.25 463.7H175.75L175.75 464.5H176.25L176.25 463.8H176.75L176.75 464.3H177.25L177.25 464.1H177.75L177.75 464.5H178.25L178.25 464.5H178.75L178.75 464.2H179.25L179.25 463.8H179.75L179.75 464.3H180.25L180.25 463.8H180.75L180.75 464.1H181.25L181.25 464.6H181.75L181.75 463.8H182.25L182.25 464.6H182.75L182.75 464.5H183.25L183.25 464.2H183.75L183.75 463.8H184.25L184.25 464.5H184.75L184.75 464.4H185.25L185.25 464.6H185.75L185.75 464.6H186.25L186.25 464.3H186.75L186.75 464.2H187.25L187.25 464.3H187.75L187.75 464.6H188.25L188.25 464.3H188.75L188.75 464.3H189.25L189.25 463.8H189.75L189.75 464.4H190.25L190.25 464.1H190.75L190.75 464.3H191.25L191.25 464.0H191.75L191.75 464.2H192.25L192.25 463.7H192.75L192.75 464.1H193.25L193.25 464.4H193.75L193.75 464.3H194.25L194.25 463.9H194.75L194.75 464.4H195.25L195.25 463.8H195.75L195.75 464.3H196.25L196.25 463.8H196.75L196.75 464.5H197.25L197.25 464.0H197.75L197.75 464.3H198.25L198.25 464.5H198.75L198.75 464.2H199.25L199.25 464.6H199.75L199.75 464.5H200.25L200.25 463.9H200.75L200.75 464.2H201.25L201.25 464.4H201.75L201.75 464.5H202.25L202.25 464.5H202.75L202.75 464.5H203.25L203.25 464.3H203.75L203.75 464.6H204.25L204.25 464.5H204.75L204.75 464.3H205.25L205.25 463.8H205.75L205.75 463.9H206.25L206.25 463.8H206.75L206.75 464.5H207.25L207.25 464.5H207.75L207.75 463.9H208.25L208.25 464.1H208.75L208.75 464.5H209.25L209.25 464.3H209.75L209.75 463.8H210.25L210.25 463.9H210.75L210.75 463.8H211.25L211.25 464.3H211.75L211.75 464.5H212.25L212.25 464.2H212.75L212.75 464.5H213.25L213.25 464.5H213.75L213.75 464.6H214.25L214.25 464.5H214.75L214.75 464.5H215.25L215.25 464.5H215.75L215.75 464.1H216.25L216.25 464.1H216.75L216.75 464.6H217.25L217.25 463.9H217.75L217.75 463.9H218.25L218.25 463.7H218.75L218.75 464.5H219.25L219.25 464.0H219.75L219.75 464.2H220.25L220.25 464.0H220.75L220.75 463.8H221.25L221.25 464.6H221.75L221.75 463.9H222.25L222.25 463.9H222.75L222.75 464.1H223.25L223.25 464.3H223.75L223.75 464.2H224.25L224.25 464.5H224.75L224.75 464.0H225.25L225.25 464.2H225.75L225.75 464.2H226.25L226.25 464.0H226.75L226.75 464.5H227.25L227.25 464.6H227.75L227.75 464.5H228.25L228.25 464.6H228.75L228.75 463.9H229.25L229.25 464.5H229.75L229.75 464.4H230.25L230.25 464.1H230.75L230.75 464.5H231.25L231.25 463.8H231.75L231.75 463.8H232.25L232.25 464.4H232.75L232.75 464.2H233.25L233.25 463.9H233.75L233.75 463.7H234.25L234.25 464.1H234.75L234.75 464.3H235.25L235.25 464.6H235.75L235.75 464.1H236.25L236.25 464.1H236.75L236.75 464.0H237.25L237.25 464.4H237.75L237.75 463.8H238.25L238.25 464.2H238.75L238.75 464.4H239.25L239.25 464.5H239.75L239.75 464.6H240.25L240.25 464.0H240.75L240.75 464.4H241.25L241.25 463.9H241.75L241.75 464.4H242.25L242.25 464.4H242.75L242.75 463.9H243.25L243.25 464.4H243.75L243.75 463.7H244.25L244.25 464.2H244.75L244.75 463.7H245.25L245.25 464.5H245.75L245.75 464.6H246.25L246.25 464.6H246.75L246.75 463.8H247.25L247.25 464.3H247.75L247.75 464.0H248.25L248.25 464.2H248.75L248.75 463.7H249.25L249.25 463.9H249.75L249.75 464.3H250.25L250.25 464.5H250.75L250.75 464.3H251.25L251.25 464.3H251.75L251.75 464.4H252.25L252.25 464.0H252.75L252.75 463.9H253.25L253.25 463.9H253.75L253.75 464.5H254.25L254.25 464.5H254.75L254.75 464.1H255.25L255.25 464.0H255.75L255.75 463.9H256.25L256.25 463.8H256.75L256.75 464.4H257.25L257.25 464.5H257.75L257.75 464.4H258.25L258.25 464.4H258.75L258.75 464.5H259.25L259.25 464.1H259.75L259.75 464.2H260.25L260.25 464.1H260.75L260.75 463.8H261.25L261.25 464.2H261.75L261.75 463.8H262.25L262.25 463.9H262.75L262.75 464.2H263.25L263.25 464.1H263.75L263.75 464.3H264.25L264.25 464.3H264.75L264.75 464.0H265.25L265.25 464.1H265.75L265.75 464.4H266.25L266.25 464.1H266.75L266.75 464.2H267.25L267.25 464.5H267.75L267.75 464.0H268.25L268.25 464.2H268.75L268.75 463.7H269.25L269.25 463.8H269.75L269.75 464.5H270.25L270.25 464.4H270.75L270.75 464.0H271.25L271.25 464.5H271.75L271.75 463.9H272.25L272.25 464.1H272.75L272.75 463.7H273.25L273.25 464.4H273.75L273.75 464.0H274.25L274.25 464.1H274.75L274.75 464.0H275.25L275.25 463.7H275.75L275.75 464.4H276.25L276.25 464.5H276.75L276.75 463.9H277.25L277.25 464.5H277.75L277.75 464.2H278.25L278.25 463.7H278.75L278.75 463.8H279.25L279.25 464.0H279.75L279.75 464.5H280.25L280.25 463.7H280.75L280.75 464.3H281.25L281.25 464.4H281.75L281.75 464.5H282.25L282.25 464.5H282.75L282.75 464.5H283.25L283.25 464.2H283.75L283.75 464.3H284.25L284.25 464.4H284.75L284.75 463.9H285.25L285.25 464.5H285.75L285.75 464.3H286.25L286.25 463.9H286.75L286.75 463.9H287.25L287.25 464.0H287.75L287.75 464.2H288.25L288.25 464.5H288.75L288.75 464.3H289.25L289.25 464.0H289.75L289.75 463.9H290.25L290.25 464.1H290.75L290.75 463.8H291.25L291.25 464.2H291.75L291.75 463.8H292.25L292.25 463.8H292.75L292.75 464.5H293.25L293.25 464.5H293.75L293.75 463.7H294.25L294.25 464.4H294.75L294.75 464.3H295.25L295.25 464.3H295.75L295.75 463.8H296.25L296.25 464.5H296.75L296.75 464.2H297.25L297.25 464.3H297.75L297.75 464.5H298.25L298.25 464.3H298.75L298.75 463.8H299.25L299.25 464.5H299.75L299.75 464.4H300.25L300.25 464.1H300.75L300.75 464.2H301.25L301.25 463.9H301.75L301.75 464.4H302.25L302.25 464.5H302.75L302.75 464.3H303.25L303.25 463.9H303.75L303.75 464.3H304.25L304.25 464.3H304.75L304.75 463.9H305.25L305.25 464.1H305.75L305.75 464.5H306.25L306.25 464.3H306.75L306.75 463.8H307.25L307.25 464.5H307.75L307.75 463.9H308.25L308.25 464.4H308.75L308.75 464.0H309.25L309.25 464.5H309.75L309.75 464.1H310.25L310.25 463.8H310.75L310.75 464.5H311.25L311.25 463.7H311.75L311.75 464.5H312.25L312.25 464.5H312.75L312.75 463.9H313.25L313.25 464.2H313.75L313.75 464.5H314.25L314.25 464.1H314.75L314.75 464.2H315.25L315.25 463.6H315.75L315.75 463.7H316.25L316.25 463.8H316.75L316.75 464.2H317.25L317.25 463.9H317.75L317.75 464.0H318.25L318.25 464.4H318.75L318.75 464.0H319.25L319.25 464.4H319.75L319.75 464.3H320.25L320.25 464.5H320.75L320.75 464.5H321.25L321.25 464.2H321.75L321.75 463.8H322.25L322.25 463.9H322.75L322.75 464.5H323.25L323.25 464.2H323.75L323.75 464.4H324.25L324.25 464.4H324.75L324.75 464.3H325.25L325.25 464.0H325.75L325.75 463.7H326.25L326.25 464.5H326.75L326.75 464.4H327.25L327.25 463.9H327.75L327.75 464.2H328.25L328.25 464.3H328.75L328.75 463.9H329.25L329.25 464.5H329.75L329.75 463.7H330.25L330.25 464.4H330.75L330.75 463.8H331.25L331.25 463.8H331.75L331.75 463.8H332.25L332.25 464.1H332.75L332.75 464.1H333.25L333.25 464.5H333.75L333.75 464.3H334.25L334.25 464.1H334.75L334.75 464.4H335.25L335.25 464.0H335.75L335.75 464.2H336.25L336.25 464.0H336.75L336.75 463.8H337.25L337.25 464.4H337.75L337.75 464.1H338.25L338.25 464.5H338.75L338.75 463.9H339.25L339.25 463.9H339.75L339.75 464.0H340.25L340.25 464.0H340.75L340.75 464.1H341.25L341.25 464.4H341.75L341.75 463.9H342.25L342.25 464.5H342.75L342.75 464.1H343.25L343.25 464.5H343.75L343.75 463.9H344.25L344.25 464.2H344.75L344.75 464.1H345.25L345.25 464.5H345.75L345.75 464.3H346.25L346.25 464.0H346.75L346.75 464.3H347.25L347.25 464.0H347.75L347.75 464.5H348.25L348.25 464.3H348.75L348.75 464.5H349.25L349.25 463.9H349.75L349.75 464.3H350.25L350.25 463.9H350.75L350.75 463.9H351.25L351.25 464.5H351.75L351.75 464.1H352.25L352.25 463.9H352.75L352.75 463.7H353.25L353.25 464.5H353.75L353.75 464.5H354.25L354.25 464.3H354.75L354.75 463.9H355.25L355.25 464.5H355.75L355.75 463.6H356.25L356.25 464.0H356.75L356.75 464.5H357.25L357.25 463.9H357.75L357.75 464.3H358.25L358.25 464.5H358.75L358.75 464.0H359.25L359.25 464.0H359.75L359.75 464.1H360.25L360.25 464.4H360.75L360.75 464.4H361.25L361.25 464.5H361.75L361.75 464.5H362.25L362.25 464.3H362.75L362.75 464.3H363.25L363.25 464.5H363.75L363.75 463.8H364.25L364.25 464.4H364.75L364.75 464.5H365.25L365.25 464.4H365.75L365.75 464.2H366.25L366.25 464.1H366.75L366.75 464.5H367.25L367.25 464.5H367.75L367.75 464.5H368.25L368.25 464.3H368.75L368.75 463.6H369.25L369.25 463.9H369.75L369.75 463.8H370.25L370.25 463.7H370.75L370.75 464.4H371.25L371.25 464.0H371.75L371.75 464.3H372.25L372.25 464.3H372.75L372.75 463.9H373.25L373.25 464.1H373.75L373.75 464.1H374.25L374.25 464.4H374.75L374.75 463.7H375.25L375.25 464.0H375.75L375.75 464.1H376.25L376.25 463.9H376.75L376.75 463.7H377.25L377.25 464.4H377.75L377.75 464.4H378.25L378.25 463.6H378.75L378.75 464.0H379.25L379.25 463.8H379.75L379.75 464.3H380.25L380.25 463.6H380.75L380.75 464.3H381.25L381.25 463.9H381.75L381.75 463.7H382.25L382.25 464.2H382.75L382.75 464.3H383.25L383.25 464.2H383.75L383.75 464.5H384.25L384.25 464.5H384.75L384.75 463.7H385.25L385.25 464.0H385.75L385.75 464.5H386.25L386.25 464.1H386.75L386.75 464.4H387.25L387.25 463.8H387.75L387.75 464.3H388.25L388.25 464.5H388.75L388.75 464.0H389.25L389.25 463.6H389.75L389.75 463.9H390.25L390.25 463.7H390.75L390.75 464.5H391.25L391.25 464.4H391.75L391.75 463.9H392.25L392.25 464.2H392.75L392.75 464.4H393.25L393.25 464.3H393.75L393.75 464.4H394.25L394.25 464.0H394.75L394.75 463.9H395.25L395.25 463.9H395.75L395.75 464.0H396.25L396.25 463.9H396.75L396.75 463.7H397.25L397.25 464.4H397.75L397.75 464.4H398.25L398.25 463.6H398.75L398.75 463.8H399.25L399.25 464.0H399.75L399.75 471.1H399.25L399.25 471.1H398.75L398.75 471.3H398.25L398.25 470.6H397.75L397.75 470.5H397.25L397.25 471.1H396.75L396.75 471.3H396.25L396.25 470.6H395.75L395.75 471.0H395.25L395.25 470.8H394.75L394.75 470.5H394.25L394.25 470.7H393.75L393.75 471.1H393.25L393.25 471.0H392.75L392.75 471.3H392.25L392.25 470.5H391.75L391.75 470.6H391.25L391.25 471.0H390.75L390.75 471.4H390.25L390.25 470.6H389.75L389.75 471.3H389.25L389.25 471.0H388.75L388.75 470.7H388.25L388.25 470.5H387.75L387.75 471.1H387.25L387.25 470.7H386.75L386.75 471.1H386.25L386.25 470.6H385.75L385.75 470.7H385.25L385.25 471.1H384.75L384.75 471.0H384.25L384.25 471.3H383.75L383.75 470.7H383.25L383.25 470.6H382.75L382.75 470.8H382.25L382.25 470.9H381.75L381.75 470.9H381.25L381.25 471.3H380.75L380.75 470.8H380.25L380.25 471.2H379.75L379.75 470.6H379.25L379.25 470.9H378.75L378.75 470.6H378.25L378.25 470.6H377.75L377.75 471.1H377.25L377.25 470.7H376.75L376.75 471.3H376.25L376.25 470.7H375.75L375.75 471.0H375.25L375.25 471.3H374.75L374.75 471.1H374.25L374.25 471.1H373.75L373.75 470.6H373.25L373.25 470.7H372.75L372.75 470.5H372.25L372.25 471.1H371.75L371.75 471.3H371.25L371.25 470.5H370.75L370.75 470.5H370.25L370.25 470.8H369.75L369.75 471.4H369.25L369.25 471.0H368.75L368.75 471.0H368.25L368.25 470.5H367.75L367.75 470.6H367.25L367.25 470.9H366.75L366.75 470.8H366.25L366.25 470.6H365.75L365.75 470.8H365.25L365.25 470.5H364.75L364.75 470.8H364.25L364.25 470.7H363.75L363.75 471.2H363.25L363.25 471.1H362.75L362.75 470.9H362.25L362.25 470.6H361.75L361.75 470.5H361.25L361.25 471.0H360.75L360.75 471.1H360.25L360.25 470.9H359.75L359.75 470.7H359.25L359.25 470.7H358.75L358.75 470.8H358.25L358.25 470.6H357.75L357.75 471.3H357.25L357.25 470.9H356.75L356.75 471.0H356.25L356.25 470.6H355.75L355.75 470.6H355.25L355.25 470.5H354.75L354.75 470.8H354.25L354.25 471.0H353.75L353.75 470.5H353.25L353.25 471.2H352.75L352.75 471.4H352.25L352.25 470.5H351.75L351.75 471.2H351.25L351.25 471.2H350.75L350.75 470.5H350.25L350.25 471.1H349.75L349.75 470.5H349.25L349.25 471.0H348.75L348.75 471.2H348.25L348.25 470.6H347.75L347.75 470.6H347.25L347.25 470.9H346.75L346.75 470.8H346.25L346.25 470.5H345.75L345.75 470.5H345.25L345.25 470.8H344.75L344.75 471.2H344.25L344.25 470.6H343.75L343.75 470.8H343.25L343.25 470.9H342.75L342.75 470.9H342.25L342.25 470.7H341.75L341.75 471.2H341.25L341.25 470.5H340.75L340.75 470.8H340.25L340.25 470.6H339.75L339.75 471.1H339.25L339.25 470.7H338.75L338.75 471.2H338.25L338.25 470.8H337.75L337.75 470.7H337.25L337.25 470.6H336.75L336.75 470.6H336.25L336.25 470.5H335.75L335.75 470.6H335.25L335.25 470.8H334.75L334.75 470.7H334.25L334.25 471.3H333.75L333.75 470.6H333.25L333.25 471.2H332.75L332.75 471.0H332.25L332.25 470.6H331.75L331.75 470.7H331.25L331.25 470.7H330.75L330.75 470.9H330.25L330.25 471.1H329.75L329.75 470.5H329.25L329.25 470.6H328.75L328.75 471.3H328.25L328.25 470.8H327.75L327.75 470.7H327.25L327.25 470.5H326.75L326.75 470.7H326.25L326.25 471.0H325.75L325.75 470.7H325.25L325.25 470.5H324.75L324.75 471.2H324.25L324.25 470.7H323.75L323.75 471.3H323.25L323.25 470.7H322.75L322.75 470.7H322.25L322.25 470.5H321.75L321.75 470.7H321.25L321.25 470.5H320.75L320.75 470.7H320.25L320.25 470.8H319.75L319.75 471.3H319.25L319.25 470.8H318.75L318.75 470.5H318.25L318.25 470.5H317.75L317.75 470.5H317.25L317.25 470.8H316.75L316.75 471.2H316.25L316.25 471.1H315.75L315.75 471.3H315.25L315.25 470.8H314.75L314.75 471.1H314.25L314.25 470.9H313.75L313.75 470.7H313.25L313.25 471.3H312.75L312.75 470.6H312.25L312.25 471.2H311.75L311.75 470.5H311.25L311.25 470.6H310.75L310.75 471.1H310.25L310.25 470.6H309.75L309.75 470.7H309.25L309.25 470.6H308.75L308.75 471.0H308.25L308.25 470.9H307.75L307.75 470.9H307.25L307.25 471.3H306.75L306.75 470.5H306.25L306.25 471.3H305.75L305.75 470.7H305.25L305.25 471.0H304.75L304.75 470.7H304.25L304.25 470.5H303.75L303.75 471.3H303.25L303.25 471.3H302.75L302.75 470.8H302.25L302.25 470.7H301.75L301.75 471.4H301.25L301.25 470.5H300.75L300.75 471.1H300.25L300.25 470.8H299.75L299.75 470.5H299.25L299.25 471.2H298.75L298.75 470.7H298.25L298.25 471.3H297.75L297.75 471.1H297.25L297.25 470.6H296.75L296.75 470.6H296.25L296.25 470.6H295.75L295.75 470.6H295.25L295.25 470.6H294.75L294.75 471.3H294.25L294.25 470.7H293.75L293.75 470.6H293.25L293.25 470.6H292.75L292.75 470.9H292.25L292.25 470.5H291.75L291.75 470.5H291.25L291.25 470.5H290.75L290.75 470.5H290.25L290.25 470.9H289.75L289.75 470.5H289.25L289.25 470.8H288.75L288.75 470.8H288.25L288.25 470.9H287.75L287.75 471.1H287.25L287.25 470.7H286.75L286.75 471.0H286.25L286.25 470.7H285.75L285.75 470.5H285.25L285.25 470.5H284.75L284.75 470.5H284.25L284.25 471.1H283.75L283.75 470.6H283.25L283.25 470.9H282.75L282.75 470.7H282.25L282.25 471.2H281.75L281.75 470.6H281.25L281.25 471.3H280.75L280.75 470.7H280.25L280.25 470.9H279.75L279.75 470.5H279.25L279.25 470.6H278.75L278.75 470.5H278.25L278.25 470.8H277.75L277.75 471.2H277.25L277.25 471.3H276.75L276.75 470.6H276.25L276.25 470.8H275.75L275.75 470.5H275.25L275.25 470.5H274.75L274.75 470.4H274.25L274.25 470.5H273.75L273.75 470.6H273.25L273.25 470.9H272.75L272.75 471.0H272.25L272.25 471.3H271.75L271.75 470.6H271.25L271.25 470.5H270.75L270.75 470.5H270.25L270.25 471.3H269.75L269.75 470.8H269.25L269.25 470.8H268.75L268.75 471.0H268.25L268.25 471.2H267.75L267.75 470.5H267.25L267.25 470.5H266.75L266.75 471.1H266.25L266.25 471.3H265.75L265.75 471.0H265.25L265.25 470.9H264.75L264.75 470.8H264.25L264.25 470.9H263.75L263.75 471.3H263.25L263.25 470.8H262.75L262.75 471.1H262.25L262.25 471.3H261.75L261.75 470.5H261.25L261.25 470.8H260.75L260.75 470.5H260.25L260.25 470.8H259.75L259.75 470.7H259.25L259.25 470.8H258.75L258.75 471.0H258.25L258.25 470.5H257.75L257.75 470.5H257.25L257.25 470.9H256.75L256.75 471.1H256.25L256.25 470.6H255.75L255.75 470.8H255.25L255.25 471.1H254.75L254.75 471.1H254.25L254.25 470.5H253.75L253.75 470.5H253.25L253.25 470.4H252.75L252.75 470.5H252.25L252.25 471.0H251.75L251.75 470.5H251.25L251.25 470.4H250.75L250.75 471.0H250.25L250.25 471.2H249.75L249.75 470.5H249.25L249.25 470.9H248.75L248.75 470.7H248.25L248.25 471.3H247.75L247.75 470.4H247.25L247.25 470.5H246.75L246.75 470.7H246.25L246.25 470.6H245.75L245.75 470.5H245.25L245.25 470.9H244.75L244.75 471.1H244.25L244.25 471.1H243.75L243.75 471.2H243.25L243.25 470.4H242.75L242.75 471.1H242.25L242.25 471.2H241.75L241.75 471.2H241.25L241.25 470.5H240.75L240.75 470.6H240.25L240.25 470.5H239.75L239.75 470.5H239.25L239.25 470.7H238.75L238.75 471.0H238.25L238.25 470.6H237.75L237.75 471.1H237.25L237.25 470.6H236.75L236.75 471.2H236.25L236.25 470.6H235.75L235.75 471.0H235.25L235.25 470.5H234.75L234.75 470.4H234.25L234.25 470.7H233.75L233.75 470.6H233.25L233.25 471.3H232.75L232.75 471.0H232.25L232.25 471.0H231.75L231.75 470.5H231.25L231.25 471.1H230.75L230.75 471.0H230.25L230.25 470.6H229.75L229.75 470.7H229.25L229.25 471.0H228.75L228.75 471.1H228.25L228.25 470.9H227.75L227.75 470.5H227.25L227.25 470.6H226.75L226.75 471.2H226.25L226.25 471.0H225.75L225.75 470.9H225.25L225.25 470.5H224.75L224.75 470.5H224.25L224.25 470.5H223.75L223.75 471.0H223.25L223.25 470.9H222.75L222.75 470.4H222.25L222.25 470.9H221.75L221.75 470.4H221.25L221.25 470.7H220.75L220.75 471.3H220.25L220.25 470.5H219.75L219.75 471.0H219.25L219.25 470.9H218.75L218.75 471.0H218.25L218.25 470.6H217.75L217.75 471.2H217.25L217.25 470.6H216.75L216.75 471.3H216.25L216.25 470.6H215.75L215.75 470.8H215.25L215.25 470.7H214.75L214.75 471.3H214.25L214.25 470.9H213.75L213.75 471.3H213.25L213.25 470.5H212.75L212.75 470.6H212.25L212.25 471.2H211.75L211.75 470.6H211.25L211.25 470.7H210.75L210.75 470.7H210.25L210.25 470.5H209.75L209.75 470.5H209.25L209.25 470.4H208.75L208.75 470.6H208.25L208.25 470.9H207.75L207.75 470.5H207.25L207.25 471.0H206.75L206.75 470.9H206.25L206.25 470.5H205.75L205.75 470.5H205.25L205.25 471.2H204.75L204.75 470.7H204.25L204.25 470.6H203.75L203.75 471.1H203.25L203.25 470.4H202.75L202.75 471.2H202.25L202.25 470.8H201.75L201.75 470.8H201.25L201.25 470.8H200.75L200.75 471.3H200.25L200.25 471.2H199.75L199.75 470.5H199.25L199.25 471.1H198.75L198.75 470.6H198.25L198.25 471.0H197.75L197.75 470.4H197.25L197.25 471.2H196.75L196.75 471.1H196.25L196.25 471.1H195.75L195.75 470.6H195.25L195.25 471.1H194.75L194.75 470.4H194.25L194.25 471.0H193.75L193.75 471.1H193.25L193.25 470.5H192.75L192.75 470.9H192.25L192.25 471.2H191.75L191.75 470.8H191.25L191.25 470.9H190.75L190.75 471.1H190.25L190.25 470.4H189.75L189.75 470.4H189.25L189.25 470.7H188.75L188.75 470.7H188.25L188.25 471.3H187.75L187.75 470.7H187.25L187.25 471.3H186.75L186.75 470.7H186.25L186.25 470.5H185.75L185.75 470.4H185.25L185.25 470.7H184.75L184.75 470.4H184.25L184.25 470.5H183.75L183.75 471.2H183.25L183.25 470.7H182.75L182.75 471.2H182.25L182.25 471.1H181.75L181.75 470.4H181.25L181.25 471.1H180.75L180.75 471.2H180.25L180.25 471.0H179.75L179.75 470.9H179.25L179.25 470.7H178.75L178.75 470.9H178.25L178.25 470.9H177.75L177.75 470.6H177.25L177.25 470.9H176.75L176.75 471.0H176.25L176.25 470.5H175.75L175.75 471.0H175.25L175.25 471.1H174.75L174.75 470.5H174.25L174.25 470.9H173.75L173.75 470.5H173.25L173.25 470.8H172.75L172.75 470.8H172.25L172.25 471.3H171.75L171.75 470.4H171.25L171.25 471.1H170.75L170.75 470.5H170.25L170.25 470.9H169.75L169.75 470.8H169.25L169.25 471.2H168.75L168.75 470.6H168.25L168.25 471.3H167.75L167.75 471.0H167.25L167.25 470.9H166.75L166.75 470.5H166.25L166.25 471.2H165.75L165.75 470.6H165.25L165.25 471.1H164.75L164.75 470.7H164.25L164.25 470.9H163.75L163.75 470.6H163.25L163.25 470.5H162.75L162.75 471.0H162.25L162.25 471.0H161.75L161.75 471.0H161.25L161.25 470.6H160.75L160.75 470.5H160.25L160.25 471.0H159.75L159.75 470.7H159.25L159.25 471.1H158.75L158.75 471.0H158.25L158.25 471.0H157.75L157.75 471.4H157.25L157.25 471.8H156.75L156.75 471.2H156.25L156.25 470.7H155.75L155.75 471.1H155.25L155.25 470.4H154.75L154.75 470.1H154.25L154.25 470.9H153.75L153.75 470.3H153.25L153.25 470.1H152.75L152.75 471.0H152.25L152.25 470.9H151.75L151.75 470.5H151.25L151.25 470.5H150.75L150.75 470.7H150.25L150.25 470.3H149.75L149.75 470.2H149.25L149.25 470.9H148.75L148.75 470.6H148.25L148.25 470.6H147.75L147.75 470.1H147.25L147.25 470.3H146.75L146.75 471.0H146.25L146.25 470.2H145.75L145.75 470.3H145.25L145.25 470.1H144.75L144.75 470.1H144.25L144.25 470.1H143.75L143.75 470.1H143.25L143.25 470.1H142.75L142.75 470.4H142.25L142.25 470.3H141.75L141.75 470.4H141.25L141.25 470.7H140.75L140.75 470.7H140.25L140.25 470.4H139.75L139.75 470.9H139.25L139.25 470.5H138.75L138.75 470.5H138.25L138.25 470.3H137.75L137.75 470.1H137.25L137.25 470.4H136.75L136.75 470.9H136.25L136.25 470.4H135.75L135.75 470.3H135.25L135.25 470.3H134.75L134.75 470.6H134.25L134.25 470.3H133.75L133.75 470.2H133.25L133.25 470.9H132.75L132.75 470.2H132.25L132.25 470.7H131.75L131.75 471.0H131.25L131.25 470.8H130.75L130.75 470.3H130.25L130.25 470.1H129.75L129.75 470.1H129.25L129.25 470.5H128.75L128.75 470.8H128.25L128.25 470.2H127.75L127.75 470.7H127.25L127.25 470.4H126.75L126.75 470.2H126.25L126.25 470.1H125.75L125.75 470.7H125.25L125.25 470.3H124.75L124.75 471.0H124.25L124.25 470.5H123.75L123.75 470.5H123.25L123.25 470.9H122.75L122.75 470.9H122.25L122.25 470.9H121.75L121.75 470.3H121.25L121.25 471.0H120.75L120.75 470.6H120.25L120.25 470.5H119.75L119.75 470.3H119.25L119.25 470.4H118.75L118.75 470.8H118.25L118.25 471.0H117.75L117.75 470.8H117.25L117.25 470.8H116.75L116.75 470.1H116.25L116.25 470.1H115.75L115.75 470.1H115.25L115.25 470.4H114.75L114.75 470.1H114.25L114.25 470.4H113.75L113.75 470.2H113.25L113.25 470.2H112.75L112.75 470.3H112.25L112.25 470.3H111.75L111.75 470.1H111.25L111.25 470.2H110.75L110.75 470.2H110.25L110.25 470.8H109.75L109.75 470.1H109.25L109.25 470.4H108.75L108.75 470.6H108.25L108.25 470.4H107.75L107.75 470.7H107.25L107.25 470.5H106.75L106.75 470.1H106.25L106.25 470.6H105.75L105.75 470.8H105.25L105.25 470.6H104.75L104.75 470.9H104.25L104.25 470.7H103.75L103.75 470.1H103.25L103.25 470.1H102.75L102.75 471.1H102.25L102.25 470.2H101.75L101.75 470.8H101.25L101.25 471.2H100.75L100.75 471.0H100.25L100.25 470.5H99.75L99.75 470.3H99.25L99.25 471.2H98.75L98.75 470.3H98.25L98.25 470.7H97.75L97.75 471.1H97.25L97.25 471.2H96.75L96.75 471.0H96.25L96.25 470.7H95.75L95.75 470.9H95.25L95.25 470.7H94.75L94.75 471.1H94.25L94.25 470.6H93.75L93.75 471.5H93.25L93.25 470.7H92.75L92.75 471.6H92.25L92.25 470.7H91.75L91.75 470.5H91.25L91.25 470.9H90.75L90.75 472.1H90.25L90.25 471.4H89.75L89.75 470.9H89.25L89.25 471.2H88.75L88.75 471.4H88.25L88.25 471.7H87.75L87.75 470.6H87.25L87.25 470.6H86.75L86.75 471.3H86.25L86.25 470.7H85.75L85.75 471.6H85.25L85.25 470.8H84.75L84.75 471.3H84.25L84.25 470.8H83.75L83.75 470.5H83.25L83.25 472.1H82.75L82.75 471.9H82.25L82.25 471.6H81.75L81.75 470.7H81.25L81.25 470.7H80.75L80.75 471.8H80.25L80.25 470.7H79.75L79.75 470.7H79.25L79.25 472.0H78.75L78.75 470.8H78.25L78.25 470.6H77.75L77.75 470.6H77.25L77.25 470.8H76.75L76.75 471.6H76.25L76.25 471.9H75.75L75.75 470.6H75.25L75.25 470.6H74.75L74.75 471.9H74.25L74.25 471.3H73.75L73.75 472.0H73.25L73.25 471.2H72.75L72.75 471.6H72.25L72.25 471.8H71.75L71.75 471.1H71.25L71.25 471.0H70.75L70.75 470.7H70.25L70.25 470.9H69.75L69.75 471.6H69.25L69.25 472.1H68.75L68.75 470.8H68.25L68.25 471.1H67.75L67.75 472.0H67.25L67.25 471.9H66.75L66.75 471.1H66.25L66.25 471.5H65.75L65.75 471.5H65.25L65.25 471.1H64.75L64.75 472.2H64.25L64.25 470.8H63.75L63.75 472.0H63.25L63.25 471.8H62.75L62.75 470.8H62.25L62.25 470.6H61.75L61.75 470.7H61.25L61.25 471.8H60.75L60.75 470.9H60.25L60.25 470.6H59.75L59.75 470.8H59.25L59.25 471.3H58.75L58.75 470.9H58.25L58.25 471.5H57.75L57.75 471.8H57.25Z" fill="#E85512" stroke="none"/>
<text class="tk" x="56.50" y="526.50" text-anchor="middle">0</text>
<text class="tk" x="115.58" y="526.50" text-anchor="middle">50</text>
<text class="tk" x="174.67" y="526.50" text-anchor="middle">100</text>
<text class="tk" x="233.75" y="526.50" text-anchor="middle">150</text>
<text class="tk" x="292.83" y="526.50" text-anchor="middle">200</text>
<text class="tk" x="351.92" y="526.50" text-anchor="middle">250</text>
<text class="tk" x="411.00" y="526.50" text-anchor="middle">300</text>
<text class="tk" x="51.8" y="430.80" text-anchor="end">0.05</text>
<text class="tk" x="51.8" y="471.70" text-anchor="end">0</text>
<text class="tk" x="51.8" y="512.60" text-anchor="end">-0.05</text>
<text class="lb" x="234.25" y="540.50" text-anchor="middle">Time, s</text>
<text class="lb" transform="translate(22.3 468.55) rotate(-90)" text-anchor="middle">d(i), e(i)</text>
<text class="tt" x="233.65" y="421.90" text-anchor="middle">Error 5, SequentialLNLMS algorithm, attenuation 14.6 dB</text>
<rect x="294.6" y="431.20" width="108.1" height="24.20" fill="#fff" stroke="#3a3a3a" stroke-width="0.75"/>
<path d="M297.8 438.05H329" stroke="#0072BD" stroke-width="0.6"/>
<path d="M297.8 449.00H329" stroke="#E85512" stroke-width="0.6"/>
<text class="lg" x="332.3" y="441.25">Primary noise</text>
<text class="lg" x="332.3" y="452.05">Attenuated signal</text>
</g>
</svg></body></html>
